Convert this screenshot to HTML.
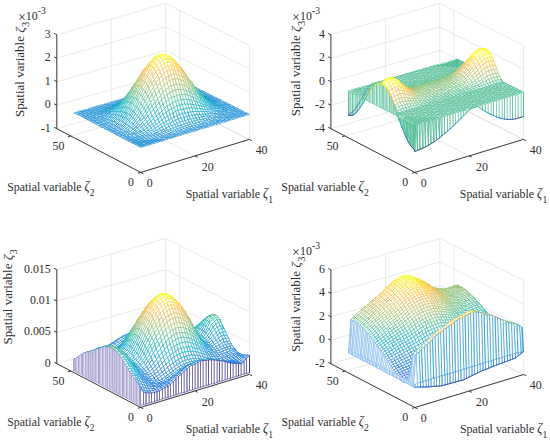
<!DOCTYPE html><html><head><meta charset="utf-8"><style>html,body{margin:0;padding:0;background:#fff;width:550px;height:443px;overflow:hidden}svg{display:block}.c0{stroke:#352a87}.c1{stroke:#363093}.c2{stroke:#3637a0}.c3{stroke:#353dad}.c4{stroke:#3243ba}.c5{stroke:#2c4ac7}.c6{stroke:#2053d4}.c7{stroke:#0f5cdd}.c8{stroke:#0363e1}.c9{stroke:#0268e1}.c10{stroke:#046de0}.c11{stroke:#0871de}.c12{stroke:#0d75dc}.c13{stroke:#1079da}.c14{stroke:#127dd8}.c15{stroke:#1481d6}.c16{stroke:#1485d4}.c17{stroke:#1389d3}.c18{stroke:#108ed2}.c19{stroke:#0c93d2}.c20{stroke:#0998d1}.c21{stroke:#079ccf}.c22{stroke:#06a0cd}.c23{stroke:#06a4ca}.c24{stroke:#06a7c6}.c25{stroke:#07a9c2}.c26{stroke:#0aacbe}.c27{stroke:#0faeb9}.c28{stroke:#15b1b4}.c29{stroke:#1db3af}.c30{stroke:#25b5a9}.c31{stroke:#2eb7a4}.c32{stroke:#38b99e}.c33{stroke:#42bb98}.c34{stroke:#4dbc92}.c35{stroke:#59bd8c}.c36{stroke:#65be86}.c37{stroke:#71bf80}.c38{stroke:#7cbf7b}.c39{stroke:#87bf77}.c40{stroke:#92bf73}.c41{stroke:#9cbf6f}.c42{stroke:#a5be6b}.c43{stroke:#aebe67}.c44{stroke:#b7bd64}.c45{stroke:#c0bc60}.c46{stroke:#c8bc5d}.c47{stroke:#d1bb59}.c48{stroke:#d9ba56}.c49{stroke:#e1b952}.c50{stroke:#e9b94e}.c51{stroke:#f1b94a}.c52{stroke:#f8bb44}.c53{stroke:#fdbe3d}.c54{stroke:#ffc337}.c55{stroke:#fec832}.c56{stroke:#fcce2e}.c57{stroke:#fad32a}.c58{stroke:#f7d826}.c59{stroke:#f5de21}.c60{stroke:#f5e41d}.c61{stroke:#f5eb18}.c62{stroke:#f6f313}.c63{stroke:#f9fb0e}.cL{stroke:#8f88c4}.cB{stroke:#7ab4ec}path{fill:#fff;stroke-linejoin:round}</style></head><body><svg width="550" height="443" viewBox="0 0 550 443"><g stroke="#dcdcdc" stroke-width="0.6"><line x1="56.8" y1="128.7" x2="56.8" y2="34.7"/><line x1="111.2" y1="113" x2="111.2" y2="19"/><line x1="165.7" y1="97.4" x2="165.7" y2="3.4"/><line x1="56.8" y1="128.7" x2="165.7" y2="97.4"/><line x1="56.8" y1="105.2" x2="165.7" y2="73.9"/><line x1="56.8" y1="81.7" x2="165.7" y2="50.4"/><line x1="56.8" y1="58.2" x2="165.7" y2="26.9"/><line x1="56.8" y1="34.7" x2="165.7" y2="3.4"/><line x1="249.4" y1="139.4" x2="249.4" y2="45.4"/><line x1="179.7" y1="104.4" x2="179.7" y2="10.4"/><line x1="249.4" y1="139.4" x2="165.7" y2="97.4"/><line x1="249.4" y1="115.9" x2="165.7" y2="73.9"/><line x1="249.4" y1="92.4" x2="165.7" y2="50.4"/><line x1="249.4" y1="68.9" x2="165.7" y2="26.9"/><line x1="249.4" y1="45.4" x2="165.7" y2="3.4"/><line x1="140.7" y1="172.4" x2="56.8" y2="128.7"/><line x1="195.1" y1="155.9" x2="111.2" y2="113"/><line x1="249.4" y1="139.4" x2="165.7" y2="97.4"/><line x1="140.7" y1="172.4" x2="249.4" y2="139.4"/><line x1="70.7" y1="136" x2="179.7" y2="104.4"/></g>
<g transform="scale(0.5)" stroke-width="1.1"><path class=c17 d="M364 165l5-1-3-2-5 2zm2 2l6-2-3-1-5 1zm-8 0l6-2-3-1-6 1zm11 1l6-2-3-1-6 2zm-8 0l5-1-2-2-6 2zm-8 0l5-1-3-2-5 2zm19 1l6-1-3-2-6 2zm-8 1l5-2-3-1-5 1zm-8 0l5-2-3-1-5 1zm-9 0l6-2-3-1-6 2zm28 1l5-2-2-1-6 1zm-8 0l5-2-3-1-5 2zm-9 0l6-1-3-2-5 2zm-8 0l6-1-3-2-6 2zm-8 1l5-2-3-1-5 1zm36 0l5-1-3-2-5 2zm-9 0l6-1-3-2-5 2zm-8 1l6-2-3-1-6 1zm-8 0l5-2-2-1-6 1zm-8 0l5-2-3-1-5 2zm-9 0l6-1-3-2-5 2zm45 1l5-2-3-1-5 1zm-9 0l6-2-3-1-6 1zm-8 0l5-2-2-1-6 2zm-8 0l5-1-3-2-5 2zm-8 0l5-1-3-2-5 2zm-9 1l6-2-3-1-6 1zm-8 0l5-2-2-1-6 1zm52 0l6-1-3-2-5 2zm-8 0l6-1-3-2-6 2zm-8 0l5-1-3-2-5 2zm-8 0l5-1-3-1-5 1zm-9 1l6-2-3-1-5 1zm-8 0l6-2-3-1-6 2zm-8 0l5-1-3-2-5 2zm-8 0l5-1-3-2-5 2zm60 1l6-2-3-1-6 1zm-8 0l5-2-2-1-6 1zm-8 0l5-2-3-1-5 1zm-9 0l6-2-3-1-5 1zm-8 0l6-2-3-1-6 2zm-8 0l5-1-2-2-6 2zm-8 0l5-1-3-1-5 1zm-9 1l6-2-3-1-5 1zm61 0l5-2-2-1-6 2zm-69 0l6-2-3-1-6 1zm61 0l5-1-3-2-5 2zm-8 0l5-1-3-2-5 2zm-34 1l6-2-3-1-5 1zm-8 0l6-2-3-1-6 2zm61 0l5-1-3-2-5 2zm-69 0l5-1-2-2-6 2zm61 0l5-1-3-1-5 1zm-69 0l5-1-3-2-5 2z"/><path class=c18 d="M364 178l6-1-3-2-6 2zm-8 0l5-1-2-2-6 2zm-8 0l5-1-3-1-5 1zm27 1l6-1-3-1-5 1zm-8 0l6-1-3-1-6 1z"/><path class=c17 d="M395 181l5-2-3-1-5 1zm-69-1l5-1-3-1-5 1zm60 1l6-2-3-1-5 1zm-69 0l6-2-3-1-5 1zm-8 0l6-2-3-1-6 2zm88 1l6-1-3-2-5 2z"/><path class=c18 d="M359 179l5-1-3-1-5 1zm-8 0l5-1-3-1-5 1zm-9 1l6-2-3-1-6 2zm-8 0l5-1-2-2-6 2zm44 1l6-2-3-1-6 1zm-8-1l5-1-2-1-6 1zm-8 0l5-1-3-1-5 1zm-9 0l6-1-3-1-5 1zm-8 1l6-2-3-1-6 2zm-8 0l5-1-3-1-5 1z"/><path class=c17 d="M389 182l6-1-3-2-6 2zm-69 0l6-2-3-1-6 2zm-8 0l5-1-2-2-6 2zm-8 1l5-2-3-1-5 1zm96 1l6-2-3-1-6 1zm-8-1l5-1-2-1-6 1zm-77 0l5-1-3-1-5 1zm-8 1l5-2-3-1-5 2z"/><path class=c18 d="M329 181l5-1-3-1-5 1zm52 1l5-1-2-2-6 2zm-8-1l5 0-3-2-5 1zm-9 0l6-1-3-1-5 1zm-8 0l6-1-3-1-6 1zm-8 0l5-1-2-1-6 2zm-8 1l5-1-3-1-5 1zm-9 0l6-1-3-1-5 1zm-8 1l6-2-3-1-6 2zm61 0l5-1-3-1-5 1zm-8-1l5 0-3-1-5 0zm-9 0l6-1-3-1-6 1z"/><path class=c17 d="M298 184l6-1-3-2-6 2zm105 1l6-2-3-1-6 2zm-102 1l6-2-3-1-6 1zm-8 0l5-2-3-1-5 1zm113 0l5-1-2-2-6 2z"/><path class=c18 d="M359 182l5-1-2-1-6 1zm-8 0l5-1-3-1-5 1zm-9 0l6-1-3 0-5 1zm-8 1l6-1-3-1-6 1zm61 2l5-1-3-2-5 1zm-69-1l5-2-2-1-6 2zm61 0l5-1-3-1-5 1zm-69 0l5-1-3-1-5 1zm60-1l6 0-3-1-5 0zm-69 2l6-2-3-1-5 2z"/><path class=c19 d="M370 183l6-1-3-1-6 1zm-8-1l5 0-3-1-5 1zm-8 0l5 0-3-1-5 1zm-9 0l6 0-3-1-6 1z"/><path class=c17 d="M296 187l5-1-3-2-5 2zm-9 0l6-1-3-2-5 2zm122 1l5-2-3-1-5 1z"/><path class=c18 d="M398 186l5-1-3-1-5 1zm-69-2l5-1-3-1-5 2zm60 1l6 0-3-2-5 1zm-69 0l6-1-3-1-5 1zm61-1l6 0-3-1-6 0zm-69 2l6-2-3-1-6 2zm-8 1l5-2-2-1-6 2zm97 0l5-1-3-1-5 1zm-9 0l6-1-3-1-6 0zm-77-1l5-1-2-1-6 2z"/><path class=c19 d="M337 183l5-1-2 0-6 1zm36 0l5 0-2-1-6 1zm-8 0l5 0-3-1-5 0zm-9-1l6 0-3 0-5 0zm-8 0l6 0-3 0-6 0zm-8 1l5-1-3 0-5 1zm-8 1l5-1-3 0-5 1zm-9 1l6-1-3 0-6 1zm61 0l5 0-2-1-6 0zm-8-1l5 0-3-1-5 0z"/><path class=c17 d="M290 189l6-2-3-1-6 1zm122 0l5-1-3-2-5 2zm-130 0l5-2-2-1-6 2zm132 2l6-2-3-1-5 1z"/><path class=c18 d="M307 187l5-1-3-1-5 2zm-8 1l5-1-3-1-5 1zm104 1l6-1-3-2-5 1zm-8-1l6-1-3-1-6 1zm-85-1l5-1-3 0-5 1zm-9 2l6-2-3 0-5 1zm-8 1l6-2-3-1-6 2z"/><path class=c19 d="M326 184l6 0-3 0-6 1zm61 2l5 1-3-2-5 0zm-69 0l5-1-3 0-5 1zm61-1l5 0-3-1-5 0z"/><path class=c20 d="M367 183l6 0-3 0-5 0zm-8-1l6 1-3-1-6 0zm-8 0l5 0-2 0-6 0zm-8 0l5 0-3 0-5 1zm-9 1l6 0-3 0-5 1zm36 0l6 1-3-1-6 0z"/><path class=c21 d="M362 182l5 1-2 0-6-1zm-8-1l5 1-3 0-5 0z"/><path class=c17 d="M285 190l5-1-3-2-5 2zm-8 1l5-2-3-1-5 1zm140 1l6-1-3-2-6 2zm-138 0l6-2-3-1-5 2zm-8 0l6-1-3-2-6 2z"/><path class=c18 d="M406 190l6-1-3-1-6 1zm-8-1l5 0-2-2-6 1zm-102 1l5-1-2-1-6 2zm-8 1l5-1-3-1-5 1zm121 0l5 0-2-2-6 1zm-8-1l5 0-3-1-5 0z"/><path class=c19 d="M390 187l5 1-3-1-5-1zm-78 0l6-1-3 0-5 1zm-8 1l6-1-3 0-6 2zm88 0l6 1-3-1-5-1z"/><path class=c20 d="M329 183l5 0-2 1-6 0zm-8 2l5-1-3 1-5 1zm60 0l6 1-3-1-5 0zm3 1l6 1-3-1-6-1z"/><path class=c21 d="M345 181l6 1-3 0-5 0zm-8 1l6 0-3 1-6 0zm36 1l6 2-3-1-6-1zm-8-1l5 1-3 0-5-1zm-33 0l5 0-3 1-5 0zm-8 2l5-1-3 1-5 1z"/><path class=c22 d="M357 181l5 1-3 0-5-1zm-9-1l6 1-3 1-6-1zm-8 1l5 0-2 1-6 0z"/><path class=c17 d="M420 193l5-1-2-1-6 1zm-146 0l5-1-2-1-6 1zm-8 1l5-2-3-1-5 1zm157 1l5-2-3-1-5 1z"/><path class=c18 d="M290 191l6-1-3 0-5 1zm122 2l5-1-3-1-5 0zm-130 0l6-2-3-1-6 2zm122-2l5 0-3-1-5 0z"/><path class=c19 d="M307 188l5-1-2 0-6 1zm-8 2l5-2-3 1-5 1zm96-1l6 1-3-1-6-1z"/><path class=c20 d="M315 186l6-1-3 1-6 1zm72 1l5 1-2-1-6-1zm-77-1l5 0-3 1-5 1zm-8 3l5-1-3 0-5 2z"/><path class=c21 d="M376 184l5 1-2 0-6-2zm-58 0l6 0-3 1-6 1zm61 0l5 2-3-1-5-1z"/><path class=c22 d="M368 182l5 1-3 0-5-1zm-42 0l6 0-3 1-5 1z"/><path class=c23 d="M359 180l6 2-3 0-5-1zm-8-1l6 2-3 0-6-1zm-8 0l5 1-3 1-5 0zm-8 1l5 1-3 1-5 0zm35 1l6 3-3-1-5-1z"/><path class=c24 d="M362 179l6 3-3 0-6-2z"/><path class=c17 d="M268 195l6-2-3-1-5 2zm-8 0l6-1-3-2-6 2zm166 1l5-1-3-2-5 2z"/><path class=c18 d="M415 194l5-1-3-1-5 1zm-130-1l5-2-2 0-6 2zm121 0l6 0-3-2-5 0zm-129 1l5-1-3-1-5 1zm140 2l6-1-3-2-5 1zm-8-2l6 0-3-1-6 0zm-129 0l5-1-3 0-5 1zm-9 2l6-2-3-1-6 2z"/><path class=c19 d="M293 191l6-1-3 0-6 1zm105-1l6 1-3-1-6-1zm-110 2l5-1-3 0-5 2zm113 0l5 1-2-2-6-1z"/><path class=c20 d="M296 190l6-1-3 1-6 1z"/><path class=c21 d="M390 187l5 2-3-1-5-1zm-86 0l6-1-3 2-5 1zm89 1l5 2-3-1-5-2z"/><path class=c22 d="M382 184l5 3-3-1-5-2zm-69 0l5 0-3 2-5 0z"/><path class=c23 d="M321 182l5 0-2 2-6 0zm52-1l6 3-3 0-6-3z"/><path class=c24 d="M354 178l5 2-2 1-6-2zm-8-1l5 2-3 1-5-1zm-9 1l6 1-3 2-5-1zm-8 1l6 1-3 2-6 0zm36-1l5 3-2 1-6-3z"/><path class=c25 d="M357 176l5 3-3 1-5-2zm-25 0l5 2-2 2-6-1z"/><path class=c26 d="M349 175l5 3-3 1-5-2zm-9 0l6 2-3 2-6-1z"/><path class=c17 d="M263 197l5-2-2-1-6 1zm-8 0l5-2-3-1-5 1zm174 1l5-2-3-1-5 1zm-171 0l5-1-3-2-5 2zm-9 0l6-1-3-2-6 2zm182 1l6-1-3-2-5 2z"/><path class=c18 d="M420 197l6-1-3-1-6 1zm-8-2l5 1-2-2-6 0zm-138 1l6-2-3 0-6 2zm-8 1l5-1-3-1-5 2zm157 1l6 0-3-2-6 1z"/><path class=c19 d="M282 194l6-2-3 1-5 1z"/><path class=c20 d="M291 191l5-1-3 1-5 1zm113 2l5 1-3-1-5-1z"/><path class=c21 d="M299 188l5-1-2 2-6 1zm96 1l6 3-3-2-5-2z"/><path class=c22 d="M384 185l6 2-3 0-5-3zm-77 0l6-1-3 2-6 1z"/><path class=c23 d="M387 185l6 3-3-1-6-2zm-85 0l5 0-3 2-5 1z"/><path class=c24 d="M315 181l6 1-3 2-5 0zm61 0l6 3-3 0-6-3zm3 0l5 4-2-1-6-3zm-69 0l5 0-2 3-6 1z"/><path class=c25 d="M324 178l5 1-3 3-5 0zm44-1l5 4-3 0-5-3z"/><path class=c26 d="M318 178l6 0-3 4-6-1zm53-2l5 5-3 0-5-4z"/><path class=c27 d="M360 174l5 4-3 1-5-3zm-9-1l6 3-3 2-5-3zm-16 0l5 2-3 3-5-2zm-8 2l5 1-3 3-5-1z"/><path class=c28 d="M343 172l6 3-3 2-6-2zm19 1l6 4-3 1-5-4z"/><path class=c17 d="M252 200l6-2-3-1-6 1zm182 0l6-1-3-1-6 1zm-190 0l5-2-3-1-5 2z"/><path class=c18 d="M415 197l5 0-3-1-5-1zm-146 1l5-2-3 0-5 1zm-9 1l6-2-3 0-5 1zm166 1l5-1-2-1-6 0zm-8-2l5 0-3-1-5 0z"/><path class=c19 d="M277 195l5-1-2 0-6 2z"/><path class=c20 d="M285 193l6-2-3 1-6 2zm122 1l5 1-3-1-5-1zm2 1l6 2-3-2-5-1zm-129-1l5-1-3 1-5 1z"/><path class=c21 d="M293 189l6-1-3 2-5 1zm105 1l6 3-3-1-6-3zm-110 0l5-1-2 2-6 2zm113 1l6 3-3-1-6-3z"/><path class=c23 d="M390 186l5 3-2-1-6-3zm-94 0l6-1-3 3-6 1z"/><path class=c25 d="M382 181l5 4-3 0-5-4zm-77 1l5-1-3 4-5 0z"/><path class=c26 d="M313 177l5 1-3 3-5 0z"/><path class=c27 d="M374 176l5 5-3 0-5-5z"/><path class=c28 d="M321 174l6 1-3 3-6 0z"/><path class=c29 d="M354 170l6 4-3 2-6-3zm-8-1l5 4-2 2-6-3zm-8 0l5 3-3 3-5-2zm-9 2l6 2-3 3-5-1zm36 1l6 4-3 1-6-4z"/><path class=c30 d="M357 168l5 5-2 1-6-4z"/><path class=c31 d="M349 166l5 4-3 3-5-4zm-9-1l6 4-3 3-5-3z"/><path class=c17 d="M437 202l5-2-2-1-6 1zm-190-1l5-1-3-2-5 2zm-9 1l6-2-3-1-5 1zm202 1l5-1-3-2-5 2z"/><path class=c18 d="M263 199l6-1-3-1-6 2zm-8 2l5-2-2-1-6 2zm174 0l5-1-3-1-5 1zm-9-1l6 0-3-2-5 0zm-162 1l5-2-3 0-5 2zm-8 1l5-1-3-1-5 1zm182 1l5-1-3-2-5 1z"/><path class=c19 d="M271 197l6-2-3 1-5 2zm-5 2l5-2-2 1-6 1z"/><path class=c20 d="M412 197l6 1-3-1-6-2zm-138-1l6-2-3 1-6 2z"/><path class=c21 d="M404 193l5 2-2-1-6-3z"/><path class=c22 d="M283 192l5-2-3 3-5 1z"/><path class=c23 d="M393 187l5 3-3-1-5-3zm-102 0l5-1-3 3-5 1zm105 1l5 3-3-1-5-3z"/><path class=c25 d="M385 181l5 5-3-1-5-4zm-86 1l6 0-3 3-6 1z"/><path class=c26 d="M387 182l6 5-3-1-5-5z"/><path class=c27 d="M307 177l6 0-3 4-5 1z"/><path class=c28 d="M376 176l6 5-3 0-5-5zm3-1l6 6-3 0-6-5z"/><path class=c29 d="M316 173l5 1-3 4-5-1z"/><path class=c30 d="M324 169l5 2-2 4-6-1zm44 1l6 6-3 0-6-4zm-58 2l6 1-3 4-6 0z"/><path class=c31 d="M332 167l6 2-3 4-6-2zm-14 0l6 2-3 5-5-1zm53 2l5 7-2 0-6-6z"/><path class=c32 d="M360 166l5 6-3 1-5-5z"/><path class=c33 d="M352 163l5 5-3 2-5-4zm-9-1l6 4-3 3-6-4zm-8 0l5 3-2 4-6-2zm-8 2l5 3-3 4-5-2z"/><path class=c17 d="M241 203l6-2-3-1-6 2zm-8 0l5-1-2-2-6 2zm210 2l5-2-3-1-5 1zm-207 0l5-2-3-1-5 1zm-8 0l5-2-3-1-5 1z"/><path class=c18 d="M423 201l6 0-3-1-6 0zm-171 1l6-1-3 0-5 1zm182 2l6-1-3-1-5 1zm-190 0l6-2-3-1-6 2zm182-1l6 0-3-2-6 0z"/><path class=c19 d="M261 200l5-1-3 0-5 2z"/><path class=c20 d="M415 198l5 2-2-2-6-1zm-146-1l5-1-3 1-5 2zm149 3l5 1-3-1-5-2z"/><path class=c21 d="M407 194l5 3-3-2-5-2zm3 2l5 2-3-1-5-3z"/><path class=c22 d="M277 193l6-1-3 2-6 2z"/><path class=c23 d="M285 188l6-1-3 3-5 2zm113 1l6 4-3-2-5-3z"/><path class=c25 d="M294 183l5-1-3 4-5 1z"/><path class=c26 d="M390 183l6 5-3-1-6-5zm-102 1l6-1-3 4-6 1z"/><path class=c28 d="M302 177l5 0-2 5-6 0zm-5 1l5-1-3 5-5 1z"/><path class=c29 d="M382 176l5 6-2-1-6-6z"/><path class=c30 d="M305 172l5 0-3 5-5 0z"/><path class=c31 d="M374 169l5 6-3 1-5-7z"/><path class=c32 d="M313 166l5 1-2 6-6-1z"/><path class=c33 d="M363 164l5 6-3 2-5-6z"/><path class=c34 d="M354 160l6 6-3 2-5-5zm-33 2l6 2-3 5-6-2zm44 1l6 6-3 1-5-6z"/><path class=c35 d="M346 158l6 5-3 3-6-4zm-16 1l5 3-3 5-5-3z"/><path class=c36 d="M338 157l5 5-3 3-5-3zm19 1l6 6-3 2-6-6z"/><path class=c37 d="M349 154l5 6-2 3-6-5z"/><path class=c17 d="M445 206l6-1-3-2-5 2zm-215 0l6-1-3-2-5 2zm-8 0l6-1-3-2-6 2zm226 2l6-2-3-1-6 1z"/><path class=c18 d="M437 206l6-1-3-2-6 1zm-190-2l5-2-2 0-6 2zm182 0l5 0-2-1-6 0zm-190 1l5-1-3-1-5 2zm201 2l5-1-2-1-6 1z"/><path class=c19 d="M255 202l6-2-3 1-6 1zm166 0l5 1-3-2-5-1z"/><path class=c20 d="M263 199l6-2-3 2-5 1zm-5 2l5-2-2 1-6 2z"/><path class=c21 d="M412 197l6 3-3-2-5-2zm-146 0l6-2-3 2-6 2z"/><path class=c22 d="M272 195l5-2-3 3-5 1z"/><path class=c23 d="M280 190l5-2-2 4-6 1zm121 0l6 4-3-1-6-4zm3 2l6 4-3-2-6-4zm-129 0l5-2-3 3-5 2z"/><path class=c26 d="M393 184l5 5-2-1-6-5zm-110 2l5-2-3 4-5 2zm113-1l5 5-3-1-5-5z"/><path class=c28 d="M291 179l6-1-3 5-6 1z"/><path class=c29 d="M385 176l5 7-3-1-5-6zm3 1l5 7-3-1-5-7z"/><path class=c31 d="M299 172l6 0-3 5-5 1z"/><path class=c32 d="M377 169l5 7-3-1-5-6zm2 0l6 7-3 0-5-7z"/><path class=c33 d="M308 166l5 0-3 6-5 0z"/><path class=c35 d="M316 160l5 2-3 5-5-1zm52 2l6 7-3 0-6-6z"/><path class=c37 d="M324 156l6 3-3 5-6-2zm36 0l5 7-2 1-6-6z"/><path class=c38 d="M341 153l5 5-3 4-5-5zm-9 0l6 4-3 5-5-3z"/><path class=c39 d="M352 151l5 7-3 2-5-6zm-33 3l5 2-3 6-5-2z"/><path class=c40 d="M343 149l6 5-3 4-5-5zm-16 1l5 3-2 6-6-3z"/><path class=c41 d="M335 148l6 5-3 4-6-4z"/><path class=c17 d="M225 208l5-2-2-1-6 1zm-8 0l5-2-3-1-5 2zm234 1l6-1-3-2-6 2z"/><path class=c18 d="M432 206l5 0-3-2-5 0zm-191 0l6-2-3 0-5 1zm-8 1l6-2-3 0-6 1zm210 2l5-1-3-2-5 1zm-8-2l5 0-3-1-5 0zm-199 1l5-2-2-1-6 2z"/><path class=c19 d="M250 204l5-2-3 0-5 2zm173-1l6 1-3-1-5-1zm-179 3l6-2-3 0-6 2zm182-1l6 1-3-2-6-1z"/><path class=c20 d="M253 203l5-2-3 1-5 2z"/><path class=c21 d="M415 199l6 3-3-2-6-3zm-154 0l5-2-3 2-5 2zm157 2l5 2-2-1-6-3z"/><path class=c23 d="M407 194l5 3-2-1-6-4zm-138 0l6-2-3 3-6 2z"/><path class=c26 d="M277 187l6-1-3 4-5 2zm122 0l5 5-3-2-5-5z"/><path class=c28 d="M286 180l5-1-3 5-5 2z"/><path class=c29 d="M390 179l6 6-3-1-5-7z"/><path class=c31 d="M294 173l5-1-2 6-6 1z"/><path class=c33 d="M382 170l6 7-3-1-6-7z"/><path class=c34 d="M302 166l6 0-3 6-6 0zm-5 0l5 0-3 6-5 1z"/><path class=c36 d="M310 159l6 1-3 6-5 0zm61 2l6 8-3 0-6-7zm3 1l5 7-2 0-6-8z"/><path class=c37 d="M305 159l5 0-2 7-6 0z"/><path class=c38 d="M363 154l5 8-3 1-5-7z"/><path class=c39 d="M366 154l5 7-3 1-5-8z"/><path class=c40 d="M313 152l6 2-3 6-6-1z"/><path class=c41 d="M355 149l5 7-3 2-5-7z"/><path class=c42 d="M346 145l6 6-3 3-6-5zm-24 2l5 3-3 6-5-2zm35 0l6 7-3 2-5-7z"/><path class=c43 d="M338 143l5 6-2 4-6-5zm-8 1l5 4-3 5-5-3z"/><path class=c17 d="M219 209l6-1-3-2-5 2zm-8 1l6-2-3-1-6 1zm243 0l5-1-2-1-6 1zm-240 1l5-2-2-1-6 2zm243 1l5-2-3-1-5 1zm-251-1l5-1-3-2-5 2z"/><path class=c18 d="M228 209l5-2-3-1-5 2zm218 1l5-1-3-1-5 1zm-9-1l6 0-3-2-5 0zm-206 0l5-1-3-1-5 2zm-9 1l6-1-3-1-6 1zm226 2l6-2-3-1-5 1z"/><path class=c19 d="M429 207l6 0-3-1-6-1zm-190 1l5-2-3 0-5 2z"/><path class=c20 d="M247 205l6-2-3 1-6 2z"/><path class=c21 d="M255 201l6-2-3 2-5 2zm166 2l5 2-3-2-5-2z"/><path class=c23 d="M410 196l5 3-3-2-5-3zm-146 0l5-2-3 3-5 2zm149 2l5 3-3-2-5-3z"/><path class=c25 d="M272 189l5-2-2 5-6 2zm132 2l6 5-3-2-5-5zm-138 1l6-3-3 5-5 2z"/><path class=c26 d="M402 189l5 5-3-2-5-5z"/><path class=c28 d="M280 182l6-2-3 6-6 1zm-5 2l5-2-3 5-5 2z"/><path class=c29 d="M393 181l6 6-3-2-6-6zm3 2l6 6-3-2-6-6z"/><path class=c31 d="M288 174l6-1-3 6-5 1zm-5 2l5-2-2 6-6 2z"/><path class=c32 d="M388 174l5 7-3-2-5-7z"/><path class=c33 d="M385 172l5 7-2-2-6-7z"/><path class=c34 d="M291 167l6-1-3 7-6 1z"/><path class=c36 d="M377 162l5 8-3-1-5-7z"/><path class=c38 d="M300 159l5 0-3 7-5 0z"/><path class=c40 d="M368 153l6 9-3-1-5-7z"/><path class=c41 d="M308 151l5 1-3 7-5 0z"/><path class=c43 d="M316 145l6 2-3 7-6-2zm44 0l6 9-3 0-6-7z"/><path class=c44 d="M349 142l6 7-3 2-6-6z"/><path class=c45 d="M341 139l5 6-3 4-5-6zm-17 2l6 3-3 6-5-3z"/><path class=c46 d="M333 139l5 4-3 5-5-4zm19 0l5 8-2 2-6-7z"/><path class=c47 d="M344 135l5 7-3 3-5-6z"/><path class=c48 d="M335 134l6 5-3 4-5-4zm-8 1l6 4-3 5-6-3z"/><path class=c17 d="M217 212l5-2-3-1-5 2zm243 1l5-1-3-2-5 2zm-251 0l5-2-3-1-5 1zm242 0l6-1-3-2-6 2zm-251 0l6-2-3-1-6 1z"/><path class=c18 d="M440 211l6-1-3-1-6 0zm-207-2l6-1-3 0-5 1zm-8 2l6-2-3 0-6 1zm218 1l5 0-2-2-6 1z"/><path class=c19 d="M432 209l5 0-2-2-6 0zm-190-2l5-2-3 1-5 2zm193 4l5 0-3-2-5 0zm-199-2l6-2-3 1-6 1z"/><path class=c20 d="M424 205l5 2-3-2-5-2zm-180 1l6-3-3 2-5 2zm182 1l6 2-3-2-5-2z"/><path class=c21 d="M250 203l5-2-2 2-6 2z"/><path class=c22 d="M415 200l6 3-3-2-5-3zm-162 1l5-3-3 3-5 2zm165 2l6 2-3-2-6-3z"/><path class=c23 d="M258 198l6-2-3 3-6 2z"/><path class=c25 d="M407 194l6 4-3-2-6-5zm-146 0l5-2-2 4-6 2z"/><path class=c28 d="M399 185l5 6-2-2-6-6zm-130 2l6-3-3 5-6 3z"/><path class=c31 d="M278 179l5-3-3 6-5 2z"/><path class=c32 d="M391 176l5 7-3-2-5-7z"/><path class=c34 d="M286 169l5-2-3 7-5 2z"/><path class=c36 d="M380 164l5 8-3-2-5-8zm2 2l6 8-3-2-5-8z"/><path class=c38 d="M294 160l6-1-3 7-6 1z"/><path class=c40 d="M371 154l6 8-3 0-6-9zm3 1l6 9-3-2-6-8z"/><path class=c41 d="M302 152l6-1-3 8-5 0zm-5 1l5-1-2 7-6 1z"/><path class=c44 d="M311 144l5 1-3 7-5-1zm52 1l5 8-2 1-6-9zm3 1l5 8-3-1-5-8z"/><path class=c45 d="M305 144l6 0-3 7-6 1z"/><path class=c46 d="M319 138l5 3-2 6-6-2z"/><path class=c47 d="M355 138l5 7-3 2-5-8z"/><path class=c48 d="M313 137l6 1-3 7-5-1zm45 0l5 8-3 0-5-7z"/><path class=c49 d="M346 132l6 7-3 3-5-7zm-24 0l5 3-3 6-5-3z"/><path class=c50 d="M338 129l6 6-3 4-6-5zm-8 0l5 5-2 5-6-4z"/><path class=c17 d="M462 215l6-2-3-1-5 1zm-251-1l6-2-3-1-5 2zm243 1l6-2-3-1-6 1zm-251-1l6-1-3-2-6 2zm-8 0l5-1-3-2-5 2zm270 2l6-1-3-2-6 2zm-8 0l5-1-2-2-6 2z"/><path class=c18 d="M228 211l5-2-2 0-6 2zm-8 2l5-2-3-1-5 2zm226 1l5-1-3-1-5 0zm-223-1l5-2-3 0-5 2zm-9 2l6-2-3-1-6 2z"/><path class=c19 d="M438 212l5 0-3-1-5 0zm-207-1l5-2-3 0-5 2z"/><path class=c20 d="M429 210l6 1-3-2-6-2zm-190-2l5-2-2 1-6 2z"/><path class=c21 d="M421 205l5 2-2-2-6-2z"/><path class=c22 d="M247 203l6-2-3 2-6 3z"/><path class=c24 d="M410 196l5 4-2-2-6-4zm-154 1l5-3-3 4-5 3zm157 2l5 4-3-3-5-4z"/><path class=c27 d="M264 190l5-3-3 5-5 2zm141 2l5 4-3-2-5-6z"/><path class=c28 d="M402 188l5 6-3-3-5-6z"/><path class=c30 d="M272 181l6-2-3 5-6 3z"/><path class=c31 d="M393 179l6 6-3-2-5-7zm3 3l6 6-3-3-6-6z"/><path class=c33 d="M275 175l5-3-2 7-6 2z"/><path class=c34 d="M280 172l6-3-3 7-5 3z"/><path class=c36 d="M385 169l6 7-3-2-6-8z"/><path class=c37 d="M283 165l6-3-3 7-6 3z"/><path class=c38 d="M289 162l5-2-3 7-5 2z"/><path class=c40 d="M377 158l5 8-2-2-6-9z"/><path class=c41 d="M291 155l6-2-3 7-5 2z"/><path class=c44 d="M369 147l5 8-3-1-5-8z"/><path class=c45 d="M300 145l5-1-3 8-5 1z"/><path class=c48 d="M308 137l5 0-2 7-6 0zm52 0l6 9-3-1-5-8z"/><path class=c50 d="M349 130l6 8-3 1-6-7z"/><path class=c51 d="M316 130l6 2-3 6-6-1zm36-1l6 8-3 1-6-8z"/><path class=c52 d="M341 126l5 6-2 3-6-6zm-16 0l5 3-3 6-5-3z"/><path class=c53 d="M333 125l5 4-3 5-5-5z"/><path class=c54 d="M344 124l5 6-3 2-5-6z"/><path class=c55 d="M336 121l5 5-3 3-5-4z"/><path class=c17 d="M206 215l5-1-2-1-6 1zm-8 1l5-2-3-1-5 1zm-9 0l6-2-3-1-5 1zm279 2l5-2-2-1-6 1zm-8 0l5-2-3-1-5 1zm-259-1l5-2-3-1-5 2zm-9 0l6-1-3-2-6 2zm-8 1l5-2-2-2-6 2z"/><path class=c18 d="M449 216l5-1-3-2-5 1zm-9-2l6 0-3-2-5 0zm-223 1l6-2-3 0-6 2zm-8 1l5-1-3-1-5 1zm242 1l6-1-3-1-5 1zm-8-1l6 0-3-2-6 0z"/><path class=c19 d="M432 212l6 0-3-1-6-1zm-207 1l6-2-3 0-5 2zm210 1l5 0-2-2-6 0z"/><path class=c20 d="M234 210l5-2-3 1-5 2z"/><path class=c21 d="M242 206l5-3-3 3-5 2zm182 2l5 2-3-3-5-2zm3 3l5 1-3-2-5-2z"/><path class=c23 d="M416 202l5 3-3-2-5-4zm-171 2l5-3-3 2-5 3z"/><path class=c24 d="M250 201l6-4-3 4-6 2z"/><path class=c26 d="M258 193l6-3-3 4-5 3zm149 2l6 4-3-3-5-4zm-154 2l5-4-2 4-6 4z"/><path class=c29 d="M261 189l6-4-3 5-6 3z"/><path class=c30 d="M267 185l5-4-3 6-5 3zm132 1l6 6-3-4-6-6z"/><path class=c32 d="M269 179l6-4-3 6-5 4z"/><path class=c34 d="M391 176l5 6-3-3-5-7z"/><path class=c35 d="M388 172l5 7-2-3-6-7z"/><path class=c36 d="M278 169l5-4-3 7-5 3z"/><path class=c38 d="M383 164l5 8-3-3-5-8z"/><path class=c39 d="M380 161l5 8-3-3-5-8z"/><path class=c41 d="M286 158l5-3-2 7-6 3z"/><path class=c43 d="M374 153l6 8-3-3-6-9z"/><path class=c44 d="M371 149l6 9-3-3-5-8z"/><path class=c45 d="M294 147l6-2-3 8-6 2z"/><path class=c48 d="M363 139l6 8-3-1-6-9zm3 2l5 8-2-2-6-8z"/><path class=c49 d="M303 138l5-1-3 7-5 1z"/><path class=c52 d="M311 130l5 0-3 7-5 0zm44 0l5 7-2 0-6-8zm-50 0l6 0-3 7-5 1z"/><path class=c54 d="M319 124l6 2-3 6-6-2z"/><path class=c55 d="M327 121l6 4-3 4-5-3zm20 2l5 6-3 1-5-6zm-33 0l5 1-3 6-5 0z"/><path class=c56 d="M338 118l6 6-3 2-5-5zm-16 1l5 2-2 5-6-2z"/><path class=c57 d="M330 117l6 4-3 4-6-4z"/><path class=c17 d="M471 219l5-2-3-1-5 2zm-8 0l5-1-3-2-5 2zm-268 0l6-2-3-1-6 1zm-8 0l5-2-3-1-5 2zm-8 0l5-1-3-2-5 2zm295 1l5-1-3-2-5 2zm-9 1l6-2-3-1-5 1z"/><path class=c18 d="M220 216l5-3-2 0-6 2zm-8 1l5-2-3 0-5 1zm242 2l6-1-3-2-6 1zm-251-1l6-2-3-1-5 2zm243 0l5-1-2-1-6 0z"/><path class=c19 d="M228 213l6-3-3 1-6 2zm210 3l5 0-3-2-5 0zm-215-1l5-2-3 0-5 3z"/><path class=c20 d="M430 213l5 1-3-2-5-1zm-199-1l5-3-2 1-6 3z"/><path class=c21 d="M236 209l6-3-3 2-5 2z"/><path class=c22 d="M239 207l6-3-3 2-6 3zm182 2l6 2-3-3-6-3z"/><path class=c23 d="M418 205l6 3-3-3-5-3z"/><path class=c24 d="M413 202l5 3-2-3-6-3z"/><path class=c25 d="M410 199l6 3-3-3-6-4zm-162 2l5-4-3 4-5 3z"/><path class=c28 d="M256 193l5-4-3 4-5 4zm149 1l5 5-3-4-5-5z"/><path class=c29 d="M402 190l5 5-2-3-6-6z"/><path class=c31 d="M264 183l5-4-2 6-6 4z"/><path class=c33 d="M394 180l5 6-3-4-5-6z"/><path class=c35 d="M272 173l6-4-3 6-6 4z"/><path class=c37 d="M385 169l6 7-3-4-5-8z"/><path class=c40 d="M281 162l5-4-3 7-5 4z"/><path class=c42 d="M377 157l6 7-3-3-6-8z"/><path class=c43 d="M283 155l6-5-3 8-5 4z"/><path class=c44 d="M289 150l5-3-3 8-5 3z"/><path class=c47 d="M369 145l5 8-3-4-5-8z"/><path class=c48 d="M297 140l6-2-3 7-6 2zm-5 3l5-3-3 7-5 3z"/><path class=c51 d="M361 134l5 7-3-2-5-8z"/><path class=c52 d="M358 131l5 8-3-2-5-7zm-58 2l5-3-2 8-6 2z"/><path class=c55 d="M350 123l5 7-3-1-5-6zm-42 1l6-1-3 7-6 0zm44 0l6 7-3-1-5-7z"/><path class=c57 d="M341 117l6 6-3 1-6-6zm-25 1l6 1-3 5-5-1z"/><path class=c58 d="M344 117l6 6-3 0-6-6z"/><path class=c59 d="M333 114l5 4-2 3-6-4zm-8 0l5 3-3 4-5-2z"/><path class=c17 d="M198 220l5-2-2-1-6 2zm-8 0l5-1-3-2-5 2zm-9 1l6-2-3-1-5 1zm-8 0l6-2-3-1-6 1zm303 1l6-2-3-1-5 1zm-8 0l6-2-3-1-6 2zm-8 0l5-1-2-2-6 1zm-268 0l6-2-3-1-5 1z"/><path class=c18 d="M214 218l6-2-3-1-5 2zm243 2l6-1-3-1-6 1zm-251-1l6-2-3-1-6 2zm243 1l5-1-3-2-5 1zm-240 0l5-2-2-1-6 2zm243 1l5-1-3-1-5 1zm-251 0l5-2-3-1-5 2zm242-1l6 0-3-2-5 0z"/><path class=c19 d="M441 218l5 0-3-2-5 0zm-224 0l6-3-3 1-6 2zm218 0l6 0-3-2-6 0z"/><path class=c20 d="M432 216l6 0-3-2-5-1zm-206-1l5-3-3 1-5 2z"/><path class=c21 d="M424 212l6 1-3-2-6-2zm-190-1l5-4-3 2-5 3z"/><path class=c24 d="M242 205l6-4-3 3-6 3zm174 1l5 3-3-4-5-3z"/><path class=c27 d="M250 197l6-4-3 4-5 4zm158 2l5 3-3-3-5-5z"/><path class=c29 d="M253 193l6-5-3 5-6 4z"/><path class=c30 d="M259 188l5-5-3 6-5 4zm140 2l6 4-3-4-6-5z"/><path class=c32 d="M396 185l6 5-3-4-5-6z"/><path class=c33 d="M261 183l6-5-3 5-5 5z"/><path class=c34 d="M267 178l5-5-3 6-5 4zm124 1l5 6-2-5-6-6z"/><path class=c36 d="M388 174l6 6-3-4-6-7z"/><path class=c37 d="M270 172l5-6-3 7-5 5z"/><path class=c39 d="M275 166l6-4-3 7-6 4zm108 1l5 7-3-5-5-7z"/><path class=c41 d="M380 162l5 7-2-5-6-7z"/><path class=c42 d="M278 160l5-5-2 7-6 4z"/><path class=c44 d="M375 155l5 7-3-5-5-8z"/><path class=c46 d="M372 149l5 8-3-4-5-8zm-86-1l6-5-3 7-6 5z"/><path class=c50 d="M363 138l6 7-3-4-5-7z"/><path class=c51 d="M295 136l5-3-3 7-5 3z"/><path class=c55 d="M303 126l5-2-3 6-5 3zm52 1l6 7-3-3-6-7z"/><path class=c58 d="M311 119l5-1-2 5-6 1zm36 0l5 5-2-1-6-6z"/><path class=c60 d="M336 113l5 4-3 1-5-4zm-8-1l5 2-3 3-5-3zm-9 2l6 0-3 5-6-1zm20-1l5 4-3 0-5-4zm-25 1l5 0-3 4-5 1z"/><path class=c61 d="M330 110l6 3-3 1-5-2zm-8 0l6 2-3 2-6 0z"/><path class=c17 d="M184 222l6-2-3-1-6 2zm-8 0l5-1-2-2-6 2zm303 1l6-1-3-2-6 2zm-311-1l5-1-3-2-5 2zm303 1l5-1-2-2-6 2zm-8 1l5-2-3-1-5 1zm-276-1l5-1-2-2-6 2zm-8 1l5-2-3-1-5 1zm303 1l6-2-3-1-6 1zm-312-1l6-2-3-1-5 1zm304 1l5-2-3-1-5 1z"/><path class=c18 d="M212 220l5-2-3 0-5 2zm242 3l6-1-3-2-5 1zm-250-1l5-2-3-1-5 2zm242 0l6-1-3-1-6 0zm-251 1l6-2-3-1-6 2z"/><path class=c19 d="M220 218l6-3-3 0-6 3zm218 3l5-1-2-2-6 0z"/><path class=c20 d="M430 218l5 0-3-2-5-1z"/><path class=c21 d="M427 215l5 1-2-3-6-1zm-199-1l6-3-3 1-5 3z"/><path class=c22 d="M421 214l6 1-3-3-5-2zm-190-1l6-4-3 2-6 3z"/><path class=c23 d="M237 209l5-4-3 2-5 4zm182 1l5 2-3-3-5-3z"/><path class=c24 d="M239 206l6-4-3 3-5 4zm174 2l6 2-3-4-6-3z"/><path class=c25 d="M245 202l5-5-2 4-6 4zm165 1l6 3-3-4-5-3z"/><path class=c27 d="M248 199l5-6-3 4-5 5z"/><path class=c29 d="M402 195l6 4-3-5-6-4z"/><path class=c31 d="M256 189l5-6-2 5-6 5z"/><path class=c33 d="M394 184l5 6-3-5-5-6z"/><path class=c35 d="M264 178l6-6-3 6-6 5z"/><path class=c37 d="M386 173l5 6-3-5-5-7z"/><path class=c40 d="M273 166l5-6-3 6-5 6z"/><path class=c42 d="M377 161l6 6-3-5-5-7z"/><path class=c45 d="M281 153l5-5-3 7-5 5z"/><path class=c47 d="M369 148l6 7-3-6-6-7z"/><path class=c49 d="M366 142l6 7-3-4-6-7zm-77-1l6-5-3 7-6 5z"/><path class=c52 d="M361 136l5 6-3-4-5-7zm-69 0l5-6-2 6-6 5z"/><path class=c54 d="M297 130l6-4-3 7-5 3zm61 1l5 7-2-4-6-7z"/><path class=c56 d="M300 125l6-4-3 5-6 4zm53 1l5 5-3-4-5-6z"/><path class=c57 d="M306 121l5-2-3 5-5 2zm44 0l5 6-3-3-5-5z"/><path class=c60 d="M341 114l6 5-3-2-5-4zm-33 3l6-3-3 5-5 2z"/><path class=c62 d="M333 110l6 3-3 0-6-3zm-16 1l5-1-3 4-5 0z"/><path class=c63 d="M325 109l5 1-2 2-6-2z"/><path class=c17 d="M162 224l6-2-3-1-6 1zm304 1l5-2-3-1-5 2zm-276 0l5-2-3-1-5 1zm-8 0l5-2-3-1-5 2zm303 1l5-1-2-2-6 2zm-312-1l6-1-3-2-6 2zm304 1l5-1-3-2-5 2zm-312-1l5-1-2-2-6 2zm303 2l6-2-3-2-5 2zm-311-2l5-1-3-2-5 2zm303 1l6-1-3-1-6 1z"/><path class=c18 d="M457 225l6-1-3-2-6 1zm-251-2l6-3-3 0-5 2zm243 1l5-1-2-2-6 1zm-251 0l6-2-3-1-6 2zm243-1l5-1-3-2-5 1zm-232 0l6-2-3-1-6 3zm243 3l5-1-3-2-5 1zm-251-1l5-2-2-1-6 2zm243 0l5-1-3-2-5 1z"/><path class=c19 d="M215 221l5-3-3 0-5 2zm218 0l5 0-3-3-5 0zm-216 0l6-4-3 1-5 3z"/><path class=c20 d="M223 217l5-3-2 1-6 3z"/><path class=c21 d="M424 217l6 1-3-3-6-1zm-198 0l5-4-3 1-5 3z"/><path class=c23 d="M234 211l5-5-2 3-6 4zm182 1l5 2-2-4-6-2z"/><path class=c26 d="M242 204l6-5-3 3-6 4zm166 1l5 3-3-5-5-3z"/><path class=c27 d="M405 200l5 3-2-4-6-4z"/><path class=c29 d="M251 195l5-6-3 4-5 6zm149 1l5 4-3-5-5-5z"/><path class=c31 d="M397 190l5 5-3-5-5-6z"/><path class=c33 d="M259 184l5-6-3 5-5 6zm132 2l6 4-3-6-6-5z"/><path class=c35 d="M388 179l6 5-3-5-5-6z"/><path class=c36 d="M262 180l5-7-3 5-5 6z"/><path class=c38 d="M267 173l6-7-3 6-6 6zm116 1l5 5-2-6-6-6z"/><path class=c40 d="M380 167l6 6-3-6-6-6z"/><path class=c41 d="M270 167l5-7-2 6-6 7z"/><path class=c43 d="M275 160l6-7-3 7-5 6z"/><path class=c45 d="M372 155l5 6-2-6-6-7z"/><path class=c46 d="M278 155l6-8-3 6-6 7z"/><path class=c48 d="M284 147l5-6-3 7-5 5z"/><path class=c50 d="M364 142l5 6-3-6-5-6zm-78 0l6-6-3 5-5 6z"/><path class=c55 d="M295 131l5-6-3 5-5 6zm60 0l6 5-3-5-5-5z"/><path class=c59 d="M303 121l5-4-2 4-6 4zm44 0l6 5-3-5-6-4z"/><path class=c60 d="M344 117l6 4-3-2-6-5z"/><path class=c61 d="M311 114l6-3-3 3-6 3zm28 0l5 3-3-3-5-3z"/><path class=c62 d="M336 111l5 3-2-1-6-3z"/><path class=c63 d="M328 109l5 1-3 0-5-1zm-8 1l5-1-3 1-5 1zm11 0l5 1-3-1-5-1zm-9-1l6 0-3 0-5 1z"/><path class=c17 d="M184 226l6-1-3-2-5 2zm304 2l5-2-3-1-5 1zm-312-1l6-2-3-1-6 1zm303 1l6-2-3-1-5 1zm-311-1l5-2-3-1-5 1zm303 1l6-2-3-1-6 2zm-311-1l5-2-3-1-5 1zm303 1l5-1-2-2-6 1zm-312-1l6-2-3-1-6 2zm36 1l6-2-3-1-6 1zm304 1l5-2-3-1-5 2zm-312-1l5-2-2-1-6 2zm303 1l6-1-3-2-6 2zm-311-1l5-1-3-2-5 2z"/><path class=c18 d="M193 226l5-2-3-1-5 2zm262 2l5-2-3-1-5 1zm-251-2l5-3-3 0-5 2zm242 1l6-1-3-2-5 1zm-251 0l6-2-3-1-5 2zm243-1l6-1-3-2-6 0z"/><path class=c19 d="M435 223l6 0-3-2-5 0zm-223 1l5-3-2 0-6 2zm218 0l5-1-2-2-6-1z"/><path class=c20 d="M427 220l6 1-3-3-6-1zm-207 0l6-3-3 0-6 4z"/><path class=c21 d="M422 220l5 0-3-3-5-1z"/><path class=c22 d="M419 216l5 1-3-3-5-2zm-190 0l5-5-3 2-5 4z"/><path class=c23 d="M231 214l6-5-3 2-5 5z"/><path class=c24 d="M237 209l5-5-3 2-5 5zm174 1l5 2-3-4-5-3z"/><path class=c26 d="M240 207l5-6-3 3-5 5z"/><path class=c28 d="M245 201l6-6-3 4-6 5zm157 1l6 3-3-5-5-4z"/><path class=c29 d="M248 198l5-7-2 4-6 6z"/><path class=c31 d="M253 191l6-7-3 5-5 6zm141 2l6 3-3-6-6-4z"/><path class=c33 d="M256 187l6-7-3 4-6 7z"/><path class=c36 d="M386 182l5 4-3-7-5-5z"/><path class=c38 d="M264 175l6-8-3 6-5 7z"/><path class=c41 d="M378 170l5 4-3-7-5-5z"/><path class=c43 d="M375 162l5 5-3-6-5-6zm-102 1l5-8-3 5-5 7z"/><path class=c46 d="M369 157l6 5-3-7-6-6z"/><path class=c48 d="M366 149l6 6-3-7-5-6zm-85 1l5-8-2 5-6 8z"/><path class=c50 d="M361 145l5 4-2-7-6-5z"/><path class=c53 d="M358 137l6 5-3-6-6-5zm-69 0l6-6-3 5-6 6z"/><path class=c55 d="M292 134l6-7-3 4-6 6z"/><path class=c57 d="M298 127l5-6-3 4-5 6zm52 0l5 4-2-5-6-5z"/><path class=c59 d="M300 124l6-6-3 3-5 6z"/><path class=c60 d="M306 118l5-4-3 3-5 4zm36 1l5 2-3-4-5-3z"/><path class=c61 d="M309 116l5-4-3 2-5 4z"/><path class=c63 d="M314 112l6-2-3 1-6 3zm19 1l6 1-3-3-5-1zm-8-2l6-1-3-1-6 0zm-8 1l5-3-2 1-6 2z"/><path class=c17 d="M474 229l5-1-2-2-6 2zm-312-1l6-1-3-2-5 2zm304 2l5-2-3-1-5 1zm-312-1l6-2-3-2-6 2zm304 1l5-2-3-2-5 2zm35 0l6-1-3-2-5 2zm-311-1l5-1-3-2-5 2zm303 2l6-2-3-1-6 1zm-311-1l5-2-3-1-5 1zm303 1l5-2-3-1-5 1zm-312-1l6-2-3-1-6 1zm304 1l5-2-3-1-5 2zm-312-1l5-2-2-1-6 2zm303 1l6-1-3-2-5 2z"/><path class=c18 d="M207 226l5-2-3-1-5 3zm242 3l6-1-3-2-6 1zm-251-1l6-2-3-1-6 2zm243 0l5-1-2-2-6 1zm-251 1l5-2-2-1-6 2zm262 2l6-1-3-2-6 1z"/><path class=c19 d="M215 224l5-4-3 1-5 3zm218 3l5-1-3-3-5 1zm-224 0l6-3-3 0-5 2z"/><path class=c20 d="M424 224l6 0-3-4-5 0zm-206 0l5-4-3 0-5 4z"/><path class=c21 d="M223 220l6-4-3 1-6 3z"/><path class=c22 d="M416 219l6 1-3-4-6-1zm-190 0l5-5-2 2-6 4z"/><path class=c23 d="M413 215l6 1-3-4-5-2z"/><path class=c24 d="M234 213l6-6-3 2-6 5zm174 0l5 2-2-5-6-2z"/><path class=c26 d="M405 208l6 2-3-5-6-3z"/><path class=c27 d="M242 205l6-7-3 3-5 6zm158 1l5 2-3-6-5-3z"/><path class=c29 d="M397 199l5 3-2-6-6-3z"/><path class=c31 d="M251 195l5-8-3 4-5 7zm140 2l6 2-3-6-5-4z"/><path class=c33 d="M389 189l5 4-3-7-5-4z"/><path class=c35 d="M259 184l5-9-2 5-6 7z"/><path class=c38 d="M380 178l6 4-3-8-5-4z"/><path class=c40 d="M267 171l6-8-3 4-6 8z"/><path class=c42 d="M270 167l6-9-3 5-6 8z"/><path class=c43 d="M372 166l6 4-3-8-6-5z"/><path class=c45 d="M276 158l5-8-3 5-5 8z"/><path class=c47 d="M278 155l6-10-3 5-5 8z"/><path class=c48 d="M364 153l5 4-3-8-5-4z"/><path class=c50 d="M284 145l5-8-3 5-5 8z"/><path class=c52 d="M356 142l5 3-3-8-5-3zm-69 0l5-8-3 3-5 8z"/><path class=c55 d="M353 134l5 3-3-6-5-4z"/><path class=c56 d="M295 131l5-7-2 3-6 7zm52 1l6 2-3-7-5-2z"/><path class=c59 d="M345 125l5 2-3-6-5-2z"/><path class=c60 d="M303 122l6-6-3 2-6 6zm36 2l6 1-3-6-6-1z"/><path class=c61 d="M336 118l6 1-3-5-6-1z"/><path class=c62 d="M311 116l6-4-3 0-5 4zm20 2l5 0-3-5-5 1z"/><path class=c63 d="M328 114l5-1-2-3-6 1zm-8-1l5-2-3-2-5 3z"/><path class=c17 d="M185 231l5-2-3-1-5 1zm303 1l5-2-2-1-6 2zm-312-1l6-2-3-1-5 2zm304 1l5-1-3-2-5 2zm-312-1l6-1-3-2-6 2zm303 1l6-1-3-2-5 2zm-311-1l5-1-3-2-5 2zm303 2l6-2-3-1-6 1zm-8 0l5-2-2-1-6 1zm-268-1l6-2-3-1-5 2zm-8 1l6-2-3-2-6 2zm303 1l6-2-3-1-5 1z"/><path class=c18 d="M201 229l6-3-3 0-6 2zm243 1l5-1-3-2-5 1zm-251 0l5-2-3-1-5 2zm243-1l5-1-3-2-5 1zm-232 1l5-3-2-1-6 3zm243 2l5-1-3-2-5 1zm-251-1l5-2-3-1-5 2zm242 1l6-2-3-2-5 1z"/><path class=c19 d="M427 227l6 0-3-3-6 0zm-215 0l6-3-3 0-6 3zm218 3l6-1-3-2-6 0z"/><path class=c20 d="M422 227l5 0-3-3-5 0z"/><path class=c21 d="M419 224l5 0-2-4-6-1zm-198 0l5-5-3 1-5 4z"/><path class=c23 d="M229 218l5-5-3 1-5 5zm182 1l5 0-3-4-5-2z"/><path class=c25 d="M237 211l5-6-2 2-6 6zm166 1l5 1-3-5-5-2z"/><path class=c27 d="M240 210l5-8-3 3-5 6z"/><path class=c29 d="M245 202l6-7-3 3-6 7zm149 2l6 2-3-7-6-2z"/><path class=c30 d="M248 200l6-8-3 3-6 7z"/><path class=c33 d="M254 192l5-8-3 3-5 8zm132 2l5 3-2-8-6-3z"/><path class=c34 d="M256 189l6-9-3 4-5 8z"/><path class=c35 d="M383 186l6 3-3-7-6-4z"/><path class=c37 d="M262 180l5-9-3 4-5 9zm116 3l5 3-3-8-5-4z"/><path class=c39 d="M265 177l5-10-3 4-5 9z"/><path class=c40 d="M375 174l5 4-2-8-6-4z"/><path class=c42 d="M369 171l6 3-3-8-5-4z"/><path class=c44 d="M273 164l5-9-2 3-6 9z"/><path class=c45 d="M367 162l5 4-3-9-5-4z"/><path class=c46 d="M361 160l6 2-3-9-6-3z"/><path class=c49 d="M358 150l6 3-3-8-5-3zm-77 2l6-10-3 3-6 10z"/><path class=c54 d="M289 140l6-9-3 3-5 8zm61 0l6 2-3-8-6-2z"/><path class=c57 d="M298 130l5-8-3 2-5 7zm44 1l5 1-2-7-6-1z"/><path class=c58 d="M301 130l5-8-3 0-5 8z"/><path class=c60 d="M306 122l5-6-2 0-6 6zm28 2l5 0-3-6-5 0zm-25 0l5-6-3-2-5 6z"/><path class=c61 d="M325 121l6-3-3-4-5 2zm-8 0l6-5-3-3-6 5z"/><path class=c62 d="M314 118l6-5-3-1-6 4z"/><path class=c63 d="M323 116l5-2-3-3-5 2z"/><path class=c17 d="M171 233l5-2-2-1-6 1zm303 1l6-2-3-1-6 1zm-311-1l5-2-3-1-5 1zm303 1l5-2-2-1-6 2zm-8 0l5-1-3-2-5 2zm-9 0l6-1-3-2-5 1zm-267 0l5-2-2-1-6 2zm-8 0l5-1-3-2-5 2zm303 1l5-1-2-2-6 2zm-312-1l6-1-3-2-5 2zm304 2l5-2-3-2-5 2zm-8 0l5-2-3-1-5 1z"/><path class=c18 d="M199 233l5-3-3-1-5 2zm242 1l6-2-3-2-6 2zm-251 0l6-3-3-1-6 2zm243-1l5-1-2-3-6 1z"/><path class=c19 d="M207 231l5-4-3 0-5 3zm218 0l5-1-3-3-5 0z"/><path class=c20 d="M215 228l6-4-3 0-6 3zm201 0l6-1-3-3-5-1zm-198 0l5-5-2 1-6 4z"/><path class=c21 d="M414 223l5 1-3-5-5 0zm-191 0l6-5-3 1-5 5z"/><path class=c22 d="M226 223l6-5-3 0-6 5zm182 0l6 0-3-4-6-1z"/><path class=c24 d="M232 218l5-7-3 2-5 5zm173 0l6 1-3-6-5-1zm-171-1l6-7-3 1-5 7z"/><path class=c25 d="M400 217l5 1-2-6-6-1z"/><path class=c27 d="M397 211l6 1-3-6-6-2z"/><path class=c28 d="M243 208l5-8-3 2-5 8z"/><path class=c30 d="M389 202l5 2-3-7-5-3z"/><path class=c32 d="M251 198l5-9-2 3-6 8z"/><path class=c34 d="M381 192l5 2-3-8-5-3z"/><path class=c36 d="M259 187l6-10-3 3-6 9z"/><path class=c39 d="M372 181l6 2-3-9-6-3z"/><path class=c41 d="M268 174l5-10-3 3-5 10z"/><path class=c43 d="M364 170l5 1-2-9-6-2z"/><path class=c46 d="M276 162l5-10-3 3-5 9z"/><path class=c47 d="M279 160l5-10-3 2-5 10z"/><path class=c48 d="M356 158l5 2-3-10-5-1z"/><path class=c50 d="M284 150l5-10-2 2-6 10z"/><path class=c51 d="M353 149l5 1-2-8-6-2zm-66 0l5-10-3 1-5 10z"/><path class=c52 d="M348 148l5 1-3-9-5-1z"/><path class=c55 d="M292 139l6-9-3 1-6 9zm53 0l5 1-3-8-5-1zm-50 0l6-9-3 0-6 9zm44 1l6-1-3-8-6 1z"/><path class=c58 d="M336 132l6-1-3-7-5 0zm-33 0l6-8-3-2-5 8z"/><path class=c60 d="M328 127l6-3-3-6-6 3zm-8-2l5-4-2-5-6 5zm-8 2l5-6-3-3-5 6z"/><path class=c17 d="M452 236l6-2-3-1-6 1zm-267-1l5-1-3-2-5 2zm-8 1l5-2-3-1-5 1zm-9 0l6-2-3-1-6 1zm304 1l5-2-3-1-5 2zm-9 0l6-1-3-2-5 2zm-8 0l6-1-3-2-6 2zm-8 0l5-1-3-2-5 2zm-259 0l5-2-3-1-5 1z"/><path class=c18 d="M201 234l6-3-3-1-5 3zm243 2l5-2-2-2-6 2zm-251-1l6-2-3-2-6 3zm243 0l5-1-3-2-5 1zm-8-1l5-1-3-3-5 1zm-224 1l6-4-3 0-6 3zm-8 1l5-2-2-1-6 2zm243 1l5-1-3-2-5 1zm-9-1l6-1-3-2-5 1z"/><path class=c19 d="M210 231l5-3-3-1-5 4zm209 1l6-1-3-4-6 1zm-207 0l6-4-3 0-5 3z"/><path class=c21 d="M411 228l5 0-2-5-6 0zm-190 0l5-5-3 0-5 5z"/><path class=c23 d="M229 223l5-6-2 1-6 5zm174 0l5 0-3-5-5-1z"/><path class=c25 d="M237 216l6-8-3 2-6 7z"/><path class=c26 d="M394 217l6 0-3-6-5-1z"/><path class=c28 d="M392 210l5 1-3-7-5-2z"/><path class=c29 d="M246 207l5-9-3 2-5 8zm140 2l6 1-3-8-6-1z"/><path class=c30 d="M248 206l6-10-3 2-5 9z"/><path class=c31 d="M383 201l6 1-3-8-5-2z"/><path class=c32 d="M378 199l5 2-2-9-6-2z"/><path class=c33 d="M254 196l5-9-3 2-5 9z"/><path class=c34 d="M257 195l5-10-3 2-5 9z"/><path class=c35 d="M375 190l6 2-3-9-6-2z"/><path class=c36 d="M370 189l5 1-3-9-5-2z"/><path class=c37 d="M262 185l6-11-3 3-6 10z"/><path class=c38 d="M265 183l5-11-2 2-6 11z"/><path class=c40 d="M367 179l5 2-3-10-5-1z"/><path class=c42 d="M270 172l6-10-3 2-5 10z"/><path class=c43 d="M273 171l6-11-3 2-6 10z"/><path class=c44 d="M359 168l5 2-3-10-5-2z"/><path class=c48 d="M350 158l6 0-3-9-5-1zm-69 2l6-11-3 1-5 10z"/><path class=c52 d="M290 149l5-10-3 0-5 10zm52 0l6-1-3-9-6 1z"/><path class=c55 d="M298 141l5-9-2-2-6 9zm36 1l5-2-3-8-5 2z"/><path class=c56 d="M326 138l5-4-3-7-5 4zm-17 1l5-8-2-4-6 7z"/><path class=c57 d="M331 134l5-2-2-8-6 3zm-25 0l6-7-3-3-6 8zm11 3l6-6-3-6-6 6z"/><path class=c59 d="M323 131l5-4-3-6-5 4zm-9 0l6-6-3-4-5 6z"/><path class=c17 d="M179 237l6-2-3-1-5 2zm-8 0l6-1-3-2-6 2zm295 2l6-2-3-1-6 1zm-8 0l5-2-2-1-6 1zm-8 0l5-2-3-1-5 1zm-9 0l6-2-3-1-5 1zm-251-1l6-2-3-1-5 2zm-8 1l6-2-3-2-6 2zm-8 0l5-2-2-1-6 1z"/><path class=c18 d="M207 236l5-4-2-1-6 4zm-8 1l5-2-3-1-5 2zm234 2l6-2-3-2-6 1zm-8-1l5-2-2-2-6 1z"/><path class=c19 d="M422 235l6-1-3-3-6 1zm-207-2l6-5-3 0-6 4zm202 3l5-1-3-3-5 0z"/><path class=c20 d="M414 232l5 0-3-4-5 0zm-6 1l6-1-3-4-5 0z"/><path class=c21 d="M224 229l5-6-3 0-5 5zm182-1l5 0-3-5-5 0zm-180 1l6-6-3 0-5 6z"/><path class=c23 d="M232 223l5-7-3 1-5 6z"/><path class=c24 d="M397 223l6 0-3-6-6 0zm-162 0l5-8-3 1-5 7z"/><path class=c26 d="M240 215l6-8-3 1-6 8zm149 1l5 1-2-7-6-1z"/><path class=c27 d="M243 215l5-9-2 1-6 8z"/><path class=c30 d="M381 208l5 1-3-8-5-2z"/><path class=c31 d="M251 205l6-10-3 1-6 10z"/><path class=c33 d="M373 199l5 0-3-9-5-1z"/><path class=c35 d="M259 194l6-11-3 2-5 10z"/><path class=c37 d="M364 189l6 0-3-10-6 0z"/><path class=c39 d="M268 183l5-12-3 1-5 11z"/><path class=c41 d="M361 179l6 0-3-9-5-2zm-5 0l5 0-2-11-6 0z"/><path class=c44 d="M276 171l5-11-2 0-6 11z"/><path class=c45 d="M353 168l6 0-3-10-6 0zm-5 2l5-2-3-10-5 1z"/><path class=c48 d="M284 160l6-11-3 0-6 11zm3 2l6-11-3-2-6 11z"/><path class=c49 d="M345 159l5-1-2-10-6 1z"/><path class=c51 d="M295 153l6-10-3-2-5 10z"/><path class=c52 d="M293 151l5-10-3-2-5 10zm44 1l5-3-3-9-5 2z"/><path class=c54 d="M328 146l6-4-3-8-5 4zm-24 1l5-8-3-5-5 9z"/><path class=c55 d="M301 143l5-9-3-2-5 9zm19 1l6-6-3-7-6 6zm-8 0l5-7-3-6-5 8z"/><path class=c17 d="M461 240l5-1-3-2-5 2zm-9 1l6-2-3-2-5 2zm-8 0l6-2-3-2-6 2zm-251-1l6-3-3-1-6 2zm243 1l5-2-2-2-6 2zm-251-1l5-2-2-1-6 2zm-8 0l5-1-3-2-5 2zm278 2l6-2-3-1-6 2zm-8 0l5-1-2-2-6 2zm-251-1l6-2-3-2-6 3zm243 1l5-1-3-2-5 2z"/><path class=c18 d="M202 239l5-3-3-1-5 2zm226 1l5-1-3-3-5 2zm-9-1l6-1-3-3-5 1zm-215 1l6-3-3-1-5 3z"/><path class=c19 d="M210 237l5-4-3-1-5 4zm201 0l6-1-3-4-6 1zm-198 1l5-4-3-1-5 4z"/><path class=c20 d="M218 234l6-5-3-1-6 5zm3 0l5-5-2 0-6 5zm182 0l5-1-2-5-6 1z"/><path class=c22 d="M400 229l6-1-3-5-6 0zm-171 0l6-6-3 0-6 6zm166 0l5 0-3-6-5 0z"/><path class=c24 d="M392 223l5 0-3-6-5-1zm-155 0l6-8-3 0-5 8z"/><path class=c25 d="M386 223l6 0-3-7-5 0z"/><path class=c27 d="M384 216l5 0-3-7-5-1z"/><path class=c28 d="M246 214l5-9-3 1-5 9zm132 2l6 0-3-8-6 0z"/><path class=c30 d="M375 208l6 0-3-9-5 0z"/><path class=c31 d="M254 204l5-10-2 1-6 10z"/><path class=c32 d="M257 204l5-10-3 0-5 10z"/><path class=c34 d="M367 199l6 0-3-10-6 0z"/><path class=c36 d="M262 194l6-11-3 0-6 11zm3 0l6-12-3 1-6 11z"/><path class=c38 d="M359 189l5 0-3-10-5 0z"/><path class=c40 d="M271 182l5-11-3 0-5 12zm2 1l6-11-3-1-5 11z"/><path class=c41 d="M351 180l5-1-3-11-5 2z"/><path class=c44 d="M279 172l5-12-3 0-5 11zm3 1l5-11-3-2-5 12z"/><path class=c45 d="M342 172l6-2-3-11-6 2z"/><path class=c48 d="M339 161l6-2-3-10-5 3zm-49 3l5-11-2-2-6 11zm44 1l5-4-2-9-6 3z"/><path class=c49 d="M326 160l5-5-3-9-5 5z"/><path class=c50 d="M298 157l6-10-3-4-6 10zm20 1l5-7-3-7-5 6z"/><path class=c51 d="M331 155l6-3-3-10-6 4z"/><path class=c52 d="M323 151l5-5-2-8-6 6zm-17 1l6-8-3-5-5 8z"/><path class=c53 d="M315 150l5-6-3-7-5 7z"/><path class=c17 d="M188 242l5-2-3-2-5 2zm243 0l5-1-3-2-5 1zm-251 0l5-2-3-1-5 1zm270 2l5-2-3-1-5 1zm-8 0l5-2-3-1-5 1zm-251-1l5-2-3-1-5 2zm242 1l6-2-3-1-5 1zm-251-1l6-1-3-2-5 2z"/><path class=c18 d="M422 242l6-2-3-2-6 1zm-8-2l5-1-2-3-6 1zm-207 1l6-3-3-1-6 3zm-8 1l5-2-2-1-6 2zm226 2l6-2-3-2-6 2zm-8-1l5-1-3-3-5 1z"/><path class=c19 d="M406 238l5-1-3-4-5 1zm-191 1l6-5-3 0-5 4z"/><path class=c20 d="M224 235l5-6-3 0-5 5z"/><path class=c21 d="M398 235l5-1-3-5-5 0z"/><path class=c22 d="M232 230l5-7-2 0-6 6z"/><path class=c23 d="M389 230l6-1-3-6-6 0zm-154 0l5-7-3 0-5 7z"/><path class=c25 d="M240 223l6-9-3 1-6 8zm141 1l5-1-2-7-6 0zm-138-1l6-9-3 0-6 9z"/><path class=c28 d="M249 214l5-10-3 1-5 9zm124 3l5-1-3-8-5 0z"/><path class=c29 d="M251 214l6-10-3 0-5 10z"/><path class=c31 d="M370 208l5 0-2-9-6 0zm-6 1l6-1-3-9-5 0z"/><path class=c32 d="M260 205l5-11-3 0-5 10z"/><path class=c34 d="M362 199l5 0-3-10-5 0zm-6 2l6-2-3-10-6 2z"/><path class=c36 d="M268 195l5-12-2-1-6 12z"/><path class=c38 d="M353 191l6-2-3-10-5 1z"/><path class=c40 d="M276 185l6-12-3-1-6 11z"/><path class=c41 d="M345 182l6-2-3-10-6 2z"/><path class=c44 d="M284 175l6-11-3-2-5 11zm53 0l5-3-3-11-5 4z"/><path class=c46 d="M329 170l5-5-3-10-5 5zm-33 2l5-10-3-5-5 11z"/><path class=c47 d="M293 168l5-11-3-4-5 11zm11 0l5-9-3-7-5 10z"/><path class=c48 d="M320 166l6-6-3-9-5 7zm-8 0l6-8-3-8-6 9z"/><path class=c49 d="M301 162l5-10-2-5-6 10z"/><path class=c50 d="M309 159l6-9-3-6-6 8z"/><path class=c17 d="M444 245l6-1-3-2-5 2zm-250 0l5-3-3-1-5 2zm242 0l6-1-3-2-6 2zm-251 0l6-2-3-1-6 1zm243 1l5-2-2-2-6 2z"/><path class=c18 d="M210 242l5-3-2-1-6 3zm-8 2l5-3-3-1-5 2zm218 1l5-1-3-2-5 1zm-9 0l6-2-3-3-5 2zm-198-1l5-4-3-1-5 3zm-8 1l5-3-3-1-5 3z"/><path class=c19 d="M409 242l5-2-3-3-5 1zm-191-2l6-5-3-1-6 5zm3 1l6-5-3-1-6 5zm182 2l6-1-3-4-6 1z"/><path class=c20 d="M400 239l6-1-3-4-5 1zm-5 1l5-1-2-4-6 1z"/><path class=c21 d="M227 236l5-6-3-1-5 6zm165 0l6-1-3-6-6 1zm-163 1l6-7-3 0-5 6zm158 0l5-1-3-6-5 1z"/><path class=c23 d="M384 231l5-1-3-7-5 1zm-146 0l5-8-3 0-5 7z"/><path class=c25 d="M376 225l5-1-3-8-5 1z"/><path class=c26 d="M246 224l5-10-2 0-6 9z"/><path class=c28 d="M367 218l6-1-3-9-6 1z"/><path class=c29 d="M254 215l6-10-3-1-6 10z"/><path class=c31 d="M359 210l5-1-2-10-6 2z"/><path class=c33 d="M262 206l6-11-3-1-5 11zm3 1l6-11-3-1-6 11z"/><path class=c34 d="M351 203l5-2-3-10-5 2z"/><path class=c36 d="M271 196l5-11-3-2-5 12zm3 2l5-11-3-2-5 11z"/><path class=c37 d="M343 195l5-2-3-11-5 3z"/><path class=c38 d="M348 193l5-2-2-11-6 2z"/><path class=c39 d="M282 190l5-11-3-4-5 12z"/><path class=c40 d="M279 187l5-12-2-2-6 12zm55 2l6-4-3-10-6 4z"/><path class=c41 d="M340 185l5-3-3-10-5 3z"/><path class=c42 d="M290 183l6-11-3-4-6 11zm36 2l5-6-2-9-6 5z"/><path class=c43 d="M287 179l6-11-3-4-6 11zm44 0l6-4-3-10-5 5z"/><path class=c44 d="M298 177l6-9-3-6-5 10z"/><path class=c45 d="M323 175l6-5-3-10-6 6zm-16-1l5-8-3-7-5 9z"/><path class=c46 d="M315 173l5-7-2-8-6 8z"/><path class=c17 d="M196 246l6-2-3-2-5 3zm243 1l5-2-2-1-6 1zm-251-1l6-1-3-2-6 2zm243 1l5-2-3-1-5 2zm-8 0l5-1-3-2-5 1zm-224 0l6-2-3-1-6 2zm-8 1l5-2-2-1-6 1zm243 1l5-2-3-2-5 2zm-9 0l6-2-3-1-5 1zm-8 0l6-2-3-2-6 2z"/><path class=c18 d="M414 247l6-2-3-2-6 2zm-8-1l5-1-2-3-6 1zm-190-1l5-4-3-1-5 4zm-9 2l6-3-3-2-5 3z"/><path class=c19 d="M224 242l5-5-2-1-6 5zm174 2l5-1-3-4-5 1z"/><path class=c20 d="M389 242l6-2-3-4-5 1z"/><path class=c21 d="M232 238l6-7-3-1-6 7zm149 0l6-1-3-6-6 1zm-146 1l6-7-3-1-6 7z"/><path class=c23 d="M378 232l6-1-3-7-5 1zm-137 0l5-8-3-1-5 8zm132 1l5-1-2-7-6 1zm-130 0l6-8-3-1-5 8z"/><path class=c26 d="M249 225l5-10-3-1-5 10zm121 1l6-1-3-8-6 1zm-118 0l5-10-3-1-5 10zm113 1l5-1-3-8-5 1z"/><path class=c28 d="M362 219l5-1-3-9-5 1zm-6 2l6-2-3-9-5 2z"/><path class=c29 d="M257 216l5-10-2-1-6 10zm3 2l5-11-3-1-5 10z"/><path class=c31 d="M354 212l5-2-3-9-5 2z"/><path class=c32 d="M268 209l6-11-3-2-6 11z"/><path class=c34 d="M345 205l6-2-3-10-5 2z"/><path class=c36 d="M276 201l6-11-3-3-5 11zm61-2l6-4-3-10-6 4z"/><path class=c38 d="M285 194l5-11-3-4-5 11z"/><path class=c39 d="M329 194l5-5-3-10-5 6zm-33-1l5-10-3-6-5 11z"/><path class=c40 d="M321 191l5-6-3-10-5 7zm-17-1l5-9-2-7-6 9z"/><path class=c41 d="M293 188l5-11-2-5-6 11zm19 1l6-7-3-9-6 8z"/><path class=c42 d="M301 183l6-9-3-6-6 9z"/><path class=c43 d="M318 182l5-7-3-9-5 7zm-9-1l6-8-3-7-5 8z"/><path class=c17 d="M202 249l5-2-2-2-6 2zm-8 0l5-2-3-1-5 2zm234 1l6-1-3-2-6 2zm-8 0l5-1-2-2-6 2zm-8 0l5-1-3-2-5 1z"/><path class=c18 d="M409 248l5-1-3-2-5 1zm-190-2l5-4-3-1-5 4zm182 2l5-2-3-3-5 1zm-191 0l6-3-3-1-6 3zm11 0l6-5-3-1-5 4zm182 2l6-2-3-2-5 2zm-190-1l6-3-3-1-6 3zm182 0l6-1-3-4-6 2z"/><path class=c19 d="M227 243l5-5-3-1-5 5zm165 3l6-2-3-4-6 2z"/><path class=c20 d="M384 243l5-1-2-5-6 1zm-154 1l5-5-3-1-5 5z"/><path class=c21 d="M238 240l5-7-2-1-6 7z"/><path class=c22 d="M376 239l5-1-3-6-5 1z"/><path class=c23 d="M246 234l6-8-3-1-6 8zm122 1l5-2-3-7-5 1z"/><path class=c26 d="M254 227l6-9-3-2-5 10zm105 2l6-2-3-8-6 2z"/><path class=c28 d="M351 223l5-2-2-9-6 3z"/><path class=c29 d="M263 220l5-11-3-2-5 11z"/><path class=c30 d="M343 218l5-3-3-10-5 4z"/><path class=c31 d="M348 215l6-3-3-9-6 2zm-74 0l5-11-3-3-5 11z"/><path class=c32 d="M271 212l5-11-2-3-6 11zm63 0l6-3-3-10-5 4z"/><path class=c33 d="M340 209l5-4-2-10-6 4z"/><path class=c34 d="M282 208l5-10-2-4-6 10z"/><path class=c35 d="M279 204l6-10-3-4-6 11zm53-1l5-4-3-10-5 5z"/><path class=c36 d="M290 203l6-10-3-5-6 10z"/><path class=c37 d="M287 198l6-10-3-5-5 11zm36 1l6-5-3-9-5 6zm-24 0l5-9-3-7-5 10z"/><path class=c38 d="M315 197l6-6-3-9-6 7zm-8 0l5-8-3-8-5 9z"/><path class=c17 d="M205 250l5-2-3-1-5 2zm-8 1l5-2-3-2-5 2zm226 1l5-2-3-1-5 1zm-9 0l6-2-3-1-5 1zm-8 0l6-2-3-2-6 2zm-198 0l5-3-3-1-5 2zm-9 0l6-2-3-1-5 2z"/><path class=c18 d="M224 249l6-5-3-1-6 5zm-8 2l5-3-2-2-6 3zm182 1l5-2-2-2-6 1zm-8-1l5-2-3-3-5 1z"/><path class=c19 d="M387 247l5-1-3-4-5 1zm-6 2l6-2-3-4-5 2z"/><path class=c20 d="M379 245l5-2-3-5-5 1zm-147 1l6-6-3-1-5 5zm141 0l6-1-3-6-6 2z"/><path class=c21 d="M241 241l5-7-3-1-5 7zm3 2l5-7-3-2-5 7z"/><path class=c22 d="M370 241l6-2-3-6-5 2zm-5 2l5-2-2-6-6 1z"/><path class=c23 d="M249 236l5-9-2-1-6 8zm113 0l6-1-3-8-6 2zm-110 1l5-8-3-2-5 9z"/><path class=c25 d="M354 231l5-2-3-8-5 2z"/><path class=c26 d="M257 229l6-9-3-2-6 9zm3 2l6-9-3-2-6 9z"/><path class=c28 d="M346 226l5-3-3-8-5 3zm-78-2l6-9-3-3-5 10z"/><path class=c29 d="M266 222l5-10-3-3-5 11z"/><path class=c30 d="M337 221l6-3-3-9-6 3z"/><path class=c31 d="M277 218l5-10-3-4-5 11zm52-1l5-5-2-9-6 5z"/><path class=c33 d="M285 212l5-9-3-5-5 10zm36 2l5-6-3-9-5 7zm-9-2l6-6-3-9-5 8zm-8 0l6-7-3-8-6 8z"/><path class=c34 d="M326 208l6-5-3-9-6 5zm-33 0l6-9-3-6-6 10z"/><path class=c35 d="M318 206l5-7-2-8-6 6zm-17-1l6-8-3-7-5 9z"/><path class=c36 d="M310 205l5-8-3-8-5 8z"/><path class=c17 d="M417 254l6-2-3-2-6 2zm-8 0l5-2-2-2-6 2zm-8 0l5-2-3-2-5 2zm-191-1l6-2-3-2-5 3zm-8 1l6-2-3-2-6 2zm210 1l5-1-3-2-5 2zm-8 0l5-1-3-2-5 2z"/><path class=c18 d="M227 250l5-4-2-2-6 5zm-8 2l5-3-3-1-5 3zm173 1l6-1-3-3-5 2zm-8-1l6-1-3-4-6 2zm-154 0l5-5-3-1-5 4zm-8 2l5-4-3-1-5 3z"/><path class=c19 d="M376 250l5-1-2-4-6 1z"/><path class=c20 d="M235 247l6-6-3-1-6 6zm133 1l5-2-3-5-5 2zm-130 1l6-6-3-2-6 6z"/><path class=c21 d="M246 244l6-7-3-1-5 7zm113 0l6-1-3-7-5 2z"/><path class=c23 d="M357 238l5-2-3-7-5 2zm-102 1l5-8-3-2-5 8zm96 2l6-3-3-7-6 3z"/><path class=c25 d="M348 234l6-3-3-8-5 3zm-85-1l5-9-2-2-6 9zm80 4l5-3-2-8-6 3z"/><path class=c27 d="M340 229l6-3-3-8-6 3z"/><path class=c28 d="M271 227l6-9-3-3-6 9z"/><path class=c29 d="M332 225l5-4-3-9-5 5zm-50 1l6-9-3-5-6 10z"/><path class=c30 d="M279 222l6-10-3-4-5 10zm45 0l5-5-3-9-5 6zm-33 0l5-8-3-6-5 9z"/><path class=c31 d="M315 219l6-5-3-8-6 6zm-8 0l5-7-2-7-6 7zm-8 1l5-8-3-7-5 9z"/><path class=c32 d="M288 217l5-9-3-5-5 9z"/><path class=c33 d="M296 214l5-9-2-6-6 9z"/><path class=c17 d="M213 255l6-3-3-1-6 2zm182 0l6-1-3-2-6 1zm-190 0l5-2-2-1-6 2zm201 2l6-2-3-1-5 1zm-190-1l6-2-3-2-6 3zm182 1l6-2-3-1-6 1zm-190 0l5-2-3-2-5 2zm182 0l5-2-3-2-5 2z"/><path class=c18 d="M387 255l5-2-2-2-6 1zm-8-1l5-2-3-3-5 1zm-146-1l5-4-3-2-5 5zm-9 2l6-3-3-2-5 4zm158 2l5-2-3-3-5 2zm-9-1l6-2-3-4-5 2z"/><path class=c19 d="M371 252l5-2-3-4-5 2z"/><path class=c20 d="M241 250l5-6-2-1-6 6zm121 0l6-2-3-5-6 1z"/><path class=c21 d="M249 246l6-7-3-2-6 7zm105 1l5-3-2-6-6 3zm-102 1l5-7-2-2-6 7z"/><path class=c23 d="M257 241l6-8-3-2-5 8zm89 2l5-2-3-7-5 3zm-86 0l6-7-3-3-6 8z"/><path class=c24 d="M338 240l5-3-3-8-5 4zm-69-1l5-8-3-4-5 9z"/><path class=c25 d="M266 236l5-9-3-3-5 9z"/><path class=c26 d="M335 233l5-4-3-8-5 4zm-58 1l5-8-3-4-5 9zm52 2l6-3-3-8-6 4z"/><path class=c27 d="M274 231l5-9-2-4-6 9zm47 3l5-5-2-7-6 5zm-8-2l5-5-3-8-5 7z"/><path class=c28 d="M326 229l6-4-3-8-5 5zm-41 1l6-8-3-5-6 9z"/><path class=c29 d="M318 227l6-5-3-8-6 5zm-8-1l5-7-3-7-5 7zm-8 0l5-7-3-7-5 8zm-9 1l6-7-3-6-5 8z"/><path class=c17 d="M219 258l5-3-2-1-6 2zm182 0l5-1-2-2-6 2zm-190 0l5-2-3-1-5 2zm182 1l5-2-3-2-5 2zm-9 0l6-2-3-2-5 2z"/><path class=c18 d="M236 255l5-5-3-1-5 4zm-9 2l6-4-3-1-6 3zm149 1l6-1-3-3-6 2zm-8-1l5-1-2-4-6 2zm-130-1l6-4-3-2-5 5zm-8 2l6-3-3-2-6 4z"/><path class=c19 d="M365 254l6-2-3-4-6 2zm-118-1l5-5-3-2-5 6zm113 3l5-2-3-4-5 2z"/><path class=c20 d="M244 252l5-6-3-2-5 6zm113 0l5-2-3-6-5 3zm-6 2l6-2-3-5-5 2z"/><path class=c21 d="M349 249l5-2-3-6-5 2zm-94 1l5-7-3-2-5 7z"/><path class=c22 d="M340 246l6-3-3-6-5 3zm-77 0l6-7-3-3-6 7z"/><path class=c24 d="M271 242l6-8-3-3-5 8zm61 1l6-3-3-7-6 3z"/><path class=c25 d="M280 238l5-8-3-4-5 8zm44 2l5-4-3-7-5 5zm-8-2l5-4-3-7-5 5zm-25 1l5-7-3-5-5 8z"/><path class=c26 d="M307 237l6-5-3-6-6 6zm-8 1l5-6-2-6-6 6z"/><path class=c27 d="M296 232l6-6-3-6-6 7zm-8 3l5-8-2-5-6 8z"/><path class=c28 d="M304 232l6-6-3-7-5 7z"/><path class=c17 d="M222 259l5-2-3-2-5 3zm-8 0l5-1-3-2-5 2zm182 1l5-2-3-1-5 2zm-9 0l6-1-3-2-6 2zm-8 0l5-1-2-2-6 1zm-154 1l5-3-3-1-5 2zm-9 0l6-2-3-1-5 1zm174 1l6-2-3-1-6 1zm-8 0l5-2-3-1-5 1z"/><path class=c18 d="M371 260l5-2-3-2-5 1zm-130-2l6-5-3-1-6 4zm121 1l6-2-3-3-5 2zm-129 1l5-4-2-1-6 3z"/><path class=c19 d="M249 255l6-5-3-2-5 5zm105 2l6-1-3-4-6 2z"/><path class=c20 d="M346 256l5-2-2-5-6 2zm-8-3l5-2-3-5-5 2zm-77 1l5-6-3-2-5 6z"/><path class=c21 d="M343 251l6-2-3-6-6 3zm-85 1l5-6-3-3-5 7zm11-1l5-6-3-3-5 6zm60 0l6-3-3-5-5 3z"/><path class=c22 d="M335 248l5-2-2-6-6 3zm-69 0l5-6-2-3-6 7zm55 1l6-3-3-6-6 4z"/><path class=c23 d="M274 245l6-7-3-4-6 8zm53 1l5-3-3-7-5 4zm-50 2l5-7-2-3-6 7z"/><path class=c24 d="M282 241l6-6-3-5-5 8zm36 3l6-4-3-6-5 4zm-8-1l6-5-3-6-6 5zm-8 0l5-6-3-5-5 6zm-8 1l5-6-3-6-5 7zm-9 1l6-6-3-4-6 6z"/><path class=c17 d="M374 262l5-2-3-2-5 2zm-147 0l6-2-3-2-5 3zm-8 0l6-1-3-2-6 2zm166 1l5-1-3-2-5 2zm-9 1l6-2-3-2-5 2zm-8 0l6-2-3-2-6 2zm-138 0l6-3-3-1-6 2z"/><path class=c18 d="M244 259l5-4-2-2-6 5zm121 3l6-2-3-3-6 2zm-129-1l5-3-3-2-5 4zm121 0l5-2-2-3-6 1zm-110 0l5-4-3-2-5 4zm-8 2l5-4-3-1-5 3zm121 0l5-1-3-3-5 2zm-8-1l5-1-3-4-5 2z"/><path class=c19 d="M252 257l6-5-3-2-6 5zm97 2l5-2-3-3-5 2zm-8-1l5-2-3-5-5 2zm-86 1l6-5-3-2-6 5z"/><path class=c20 d="M332 256l6-3-3-5-6 3zm-69 0l6-5-3-3-5 6z"/><path class=c21 d="M272 254l5-6-3-3-5 6zm52 0l5-3-2-5-6 3zm-8-1l5-4-3-5-5 4z"/><path class=c22 d="M280 251l5-6-3-4-5 7zm27 1l6-4-3-5-5 5zm-8 0l6-4-3-5-6 5zm-8 1l5-5-2-4-6 5z"/><path class=c23 d="M313 248l5-4-2-6-6 5zm-8 0l5-5-3-6-5 6zm-9 0l6-5-3-5-5 6zm-8 1l6-5-3-5-6 6z"/><path class=c17 d="M222 264l5-2-2-1-6 1zm157 1l6-2-3-1-6 2zm-8 0l5-1-2-2-6 2zm-8 0l5-1-3-2-5 1zm-130 0l6-2-3-2-6 3zm-8 0l5-1-3-2-5 2z"/><path class=c18 d="M250 263l5-4-3-2-5 4zm-9 1l6-3-3-2-5 4zm113 1l6-2-3-2-5 1zm-8-1l6-2-3-3-6 2zm-8-1l5-2-2-3-6 2z"/><path class=c19 d="M343 261l6-2-3-3-5 2zm-8-1l6-2-3-5-6 3zm-77 1l5-5-2-2-6 5zm11 0l5-5-2-2-6 4zm61 1l5-2-3-4-5 3z"/><path class=c20 d="M266 258l6-4-3-3-6 5zm61 1l5-3-3-5-5 3zm-8-2l5-3-3-5-5 4zm-42 2l6-5-3-3-6 5z"/><path class=c21 d="M283 254l5-5-3-4-5 6zm-9 2l6-5-3-3-5 6zm36 0l6-3-3-5-6 4zm-8 0l5-4-2-4-6 4zm-8 0l5-4-3-4-5 5zm-8 1l5-4-3-4-5 5z"/><path class=c17 d="M374 267l5-2-3-1-5 1zm-8 0l5-2-3-1-5 1zm-130 0l5-3-2-1-6 2zm121 0l6-2-3-2-6 2zm-129 0l5-2-3-1-5 1zm140 1l6-1-3-2-5 2zm-129 0l5-2-3-2-5 3zm121 1l6-2-3-2-6 2z"/><path class=c18 d="M252 264l6-3-3-2-5 4zm-8 2l6-3-3-2-6 3zm105 1l5-2-2-3-6 2zm-8-1l5-2-3-3-5 2zm-9-1l6-2-3-3-5 2zm-77 1l6-3-3-2-6 3zm-8 1l5-3-2-1-6 3z"/><path class=c19 d="M261 263l5-5-3-2-5 5zm60-2l6-2-3-5-5 3zm-49 2l5-4-3-3-5 5zm-8 2l5-4-3-3-5 5zm60-1l6-2-3-3-6 2zm-8 0l5-3-2-4-6 3zm-8-1l5-3-3-4-5 4zm-9 0l6-3-3-4-5 4z"/><path class=c20 d="M313 260l6-3-3-4-6 3zm-8 0l5-4-3-4-5 4zm-8 0l5-4-3-4-5 4zm-9 0l6-4-3-3-5 4zm-8 2l6-5-3-3-6 5z"/><path class=c17 d="M230 268l6-1-3-2-5 2zm122 1l5-2-3-2-5 2zm-110 1l5-3-3-1-5 2zm121 0l5-2-2-1-6 2zm-130 0l6-2-3-1-6 1zm122 0l5-1-3-2-5 2zm-9 0l6-1-3-2-5 1z"/><path class=c18 d="M344 268l5-1-3-3-5 2zm-9 0l6-2-3-3-6 2zm-69-1l6-4-3-2-5 4zm61 0l5-2-2-3-6 2zm-69 1l6-3-3-2-6 3zm61-1l5-3-3-3-5 3zm-69 2l5-3-3-2-5 3zm88 1l6-2-3-2-6 2z"/><path class=c19 d="M291 263l6-3-3-4-6 4zm-8 1l5-4-2-3-6 5zm-8 1l5-3-3-3-5 4zm36 1l5-2-3-4-5 3zm-9 0l6-3-3-3-6 3zm-8 0l5-3-2-3-6 3zm-8 1l5-4-3-3-5 4zm-9 0l6-3-3-2-5 3z"/><path class=c17 d="M244 271l6-2-3-2-5 3zm-8 0l6-1-3-2-6 2zm121 1l6-2-3-1-5 1zm-8 0l6-2-3-1-6 1zm-8 0l5-2-2-2-6 2zm-8 0l5-2-3-2-5 2zm-77 0l5-3-3-1-5 2zm-9 0l6-2-3-1-6 2z"/><path class=c18 d="M269 268l6-3-3-2-6 4zm61 2l5-2-3-3-5 2zm-69-1l5-2-2-2-6 3zm61 0l5-2-3-3-5 3zm-69 1l5-2-3-2-5 3zm60-1l6-2-3-3-5 2zm-8 0l6-3-3-3-6 3zm-8 0l5-3-3-3-5 3zm-8 0l5-3-3-3-5 4zm-9 0l6-2-3-3-6 3zm-8 1l5-3-2-2-6 3zm-8 1l5-3-3-1-5 2zm60 1l6-2-3-3-5 2zm-8-1l6-2-3-2-6 2zm-8 0l5-2-2-3-6 3z"/><path class=c17 d="M239 273l5-2-2-1-6 1zm113 0l5-1-2-2-6 2zm-8 1l5-2-3-2-5 2zm-8 0l5-2-3-2-5 2zm-9 0l6-2-3-2-6 2zm-69 0l6-3-3-2-5 3zm-8 0l6-2-3-2-6 2zm-8 0l5-2-3-1-5 2zm105 1l5-2-3-1-5 2z"/><path class=c18 d="M300 271l5-2-3-3-5 3zm-9 0l6-2-3-3-5 3zm-8 1l6-3-3-2-6 2zm-8 0l5-3-3-2-5 3zm-8 1l5-3-3-2-5 3zm52 0l5-1-2-3-6 2zm-8 0l5-2-3-2-5 2zm-9 0l6-2-3-2-5 2zm-8 0l6-2-3-2-6 2zm-8 1l5-3-2-2-6 3z"/><path class=c17 d="M338 275l6-1-3-2-5 2zm-8 0l6-1-3-2-6 2zm-69 0l6-2-3-2-6 3zm61 0l5-1-3-2-5 1zm-69 0l5-1-2-2-6 2zm-8 1l5-2-3-2-5 2zm96 1l6-2-3-1-6 1zm-8 0l5-2-2-1-6 1zm-69 0l5-2-2-2-6 2zm61 0l5-2-3-1-5 1zm-69 0l5-2-3-1-5 1zm60 0l6-2-3-2-5 2z"/><path class=c18 d="M278 274l5-2-3-3-5 3zm-9 1l6-3-3-2-5 3zm45 0l5-2-3-2-5 2zm-9 0l6-2-3-2-6 2zm-8 0l5-2-2-2-6 2zm-8 0l5-2-3-2-5 3zm-8 1l5-2-3-2-5 2zm-9 0l6-2-3-2-6 3z"/><path class=c17 d="M247 277l6-2-3-1-5 2zm61 0l6-2-3-2-6 2zm-33 1l6-2-3-2-6 2zm61 0l5-1-3-2-5 2zm-69 0l5-2-3-1-5 2zm60 1l6-2-3-2-5 2zm-68-1l5-1-3-2-5 2zm60 1l6-2-3-2-6 2zm-69 0l6-2-3-2-6 2zm61 0l5-2-2-2-6 2zm-8 0l5-2-3-2-5 2zm-9 0l6-2-3-2-5 2zm-8 0l6-2-3-2-6 2z"/><path class=c18 d="M300 277l5-2-3-2-5 2zm-8 0l5-2-3-2-5 2zm-9 0l6-2-3-1-5 2z"/><path class=c17 d="M278 279l5-2-2-1-6 2zm-8 1l5-2-3-2-5 2zm60 0l6-2-3-1-6 2zm-69 0l6-2-3-1-5 1zm61 0l5-1-2-2-6 2zm-69 0l6-2-3-1-6 2zm61 0l5-1-3-2-5 2zm-8 0l5-1-3-2-5 2zm-9 1l6-2-3-2-6 2zm-8 0l5-2-2-2-6 2zm-8 0l5-2-3-2-5 2zm-9 0l6-2-3-1-5 2zm-8 0l6-1-3-2-6 2zm61 1l5-2-3-1-5 1zm-69 0l5-2-2-2-6 2zm61 0l5-2-3-1-5 1zm-9 0l6-2-3-1-5 1zm-8 0l6-2-3-1-6 2zm-8 0l5-1-3-2-5 2zm-8 0l5-1-3-2-5 2zm-9 1l6-2-3-2-6 2zm-8 0l5-2-2-1-6 1zm-8 0l5-2-3-1-5 2zm60 0l6-1-3-2-5 2zm-8 0l6-1-3-2-6 2zm-8 1l5-2-2-2-6 2zm-8 0l5-2-3-1-5 1zm-9 0l6-2-3-1-5 1zm-8 0l6-2-3-1-6 2zm-8 0l5-1-3-2-5 2zm-8 1l5-2-3-2-5 2zm52 0l5-2-2-1-6 1zm-8 0l5-2-3-1-5 2zm-9 0l6-1-3-2-5 2zm-8 0l6-1-3-2-6 2zm-8 1l5-2-2-2-6 2zm-8 0l5-2-3-1-5 1zm-9 0l6-2-3-1-5 2zm45 1l5-2-3-2-5 2zm-9 0l6-2-3-1-6 1zm-8 0l5-2-2-1-6 1zm-8 0l5-2-3-1-5 2zm-8 0l5-1-3-2-5 2zm-9 0l6-1-3-2-6 2zm36 1l6-1-3-2-6 2zm-8 0l5-1-3-2-5 2zm-8 1l5-2-3-2-5 2zm-9 0l6-2-3-1-5 1zm-8 0l6-2-3-1-6 1zm28 1l5-2-3-1-5 1zm-9 0l6-2-3-1-5 2zm-8 0l6-1-3-2-6 2zm-8 0l5-1-2-2-6 2zm19 2l6-2-3-2-6 2zm-8 0l5-2-2-1-6 1zm-8 0l5-2-3-1-5 1zm11 1l5-1-3-2-5 2zm-8 0l5-1-3-2-5 2zm2 2l6-2-3-1-5 1z"/></g>
<g stroke="#262626" stroke-width="0.9"><line x1="140.7" y1="172.4" x2="249.4" y2="139.4"/><line x1="140.7" y1="172.4" x2="56.8" y2="128.7"/><line x1="56.8" y1="128.7" x2="56.8" y2="34.7"/><line x1="140.7" y1="172.4" x2="143.4" y2="173.8"/><line x1="195.1" y1="155.9" x2="197.7" y2="157.3"/><line x1="249.4" y1="139.4" x2="252.1" y2="140.8"/><line x1="140.7" y1="172.4" x2="137.8" y2="173.3"/><line x1="70.7" y1="136" x2="67.9" y2="136.9"/><line x1="56.8" y1="128.7" x2="54.1" y2="127.3"/><line x1="56.8" y1="105.2" x2="54.1" y2="103.8"/><line x1="56.8" y1="81.7" x2="54.1" y2="80.3"/><line x1="56.8" y1="58.2" x2="54.1" y2="56.8"/><line x1="56.8" y1="34.7" x2="54.1" y2="33.3"/></g>
<g fill="#2e2e2e" style="font-family:'Liberation Serif',serif"><text transform="translate(149.6 187.25) scale(1 1.09)" font-size="11.9" text-anchor="middle">0</text><text transform="translate(207.8 170.75) scale(1 1.09)" font-size="11.9" text-anchor="middle">20</text><text transform="translate(261.6 153.75) scale(1 1.09)" font-size="11.9" text-anchor="middle">40</text><text transform="translate(131 186.15) scale(1 1.09)" font-size="11.9" text-anchor="middle">0</text><text transform="translate(58.5 150.05) scale(1 1.09)" font-size="11.9" text-anchor="middle">50</text><text transform="translate(50.75 131.75) scale(1 1.09)" font-size="11.9" text-anchor="end">-1</text><text transform="translate(50.75 108.25) scale(1 1.09)" font-size="11.9" text-anchor="end">0</text><text transform="translate(50.75 84.75) scale(1 1.09)" font-size="11.9" text-anchor="end">1</text><text transform="translate(50.75 61.25) scale(1 1.09)" font-size="11.9" text-anchor="end">2</text><text transform="translate(50.75 37.75) scale(1 1.09)" font-size="11.9" text-anchor="end">3</text><text transform="translate(185.7 197.7) scale(1 1.09)" font-size="11.9">Spatial variable <tspan font-style="italic" font-size="12.6">ζ</tspan><tspan font-size="9.6" dy="4.9" dx="0.3">1</tspan></text><text transform="translate(7.2 190.6) scale(1 1.09)" font-size="11.9">Spatial variable <tspan font-style="italic" font-size="12.6">ζ</tspan><tspan font-size="9.6" dy="4.9" dx="0.3">2</tspan></text><text transform="translate(24.2 117.07) scale(1 1.09) rotate(-90)" font-size="11.9">Spatial variable <tspan font-style="italic" font-size="12.6">ζ</tspan><tspan font-size="9.6" dy="4.9" dx="0.3">3</tspan></text><text transform="translate(17.9 22) scale(1 1.09)" font-size="14">×</text><text transform="translate(25.85 20.2) scale(1 1.09)" font-size="11.9">10</text><text transform="translate(37.85 13.6) scale(1 1.09)" font-size="9.6">-3</text></g>
<g stroke="#dcdcdc" stroke-width="0.6"><line x1="330.9" y1="128.7" x2="330.9" y2="34.7"/><line x1="385.3" y1="113" x2="385.3" y2="19"/><line x1="439.8" y1="97.4" x2="439.8" y2="3.4"/><line x1="330.9" y1="128.7" x2="439.8" y2="97.4"/><line x1="330.9" y1="105.2" x2="439.8" y2="73.9"/><line x1="330.9" y1="81.7" x2="439.8" y2="50.4"/><line x1="330.9" y1="58.2" x2="439.8" y2="26.9"/><line x1="330.9" y1="34.7" x2="439.8" y2="3.4"/><line x1="523.5" y1="139.4" x2="523.5" y2="45.4"/><line x1="453.8" y1="104.4" x2="453.8" y2="10.4"/><line x1="523.5" y1="139.4" x2="439.8" y2="97.4"/><line x1="523.5" y1="115.9" x2="439.8" y2="73.9"/><line x1="523.5" y1="92.4" x2="439.8" y2="50.4"/><line x1="523.5" y1="68.9" x2="439.8" y2="26.9"/><line x1="523.5" y1="45.4" x2="439.8" y2="3.4"/><line x1="414.8" y1="172.4" x2="330.9" y2="128.7"/><line x1="469.2" y1="155.9" x2="385.3" y2="113"/><line x1="523.5" y1="139.4" x2="439.8" y2="97.4"/><line x1="414.8" y1="172.4" x2="523.5" y2="139.4"/><line x1="344.8" y1="136" x2="453.8" y2="104.4"/></g>
<g transform="scale(0.5)" stroke-width="1.1"><path class=c34 d="M914 160l0-42 0 0 0 0zm3-40l0 0-3-2 0 42zm-8 41l5-1 0-42-5 2zm3-40l5-1-3 40-5 1zm8 0l0 0-3-1 0 0zm-16 38l5 2 0-41-5 1zm11-36l5-2-3-1-5 1zm-9 0l6-2-3 40-5-2zm17 0l0 0-3-2 0 0zm-25 32l6 4 0-38-6 2zm19-31l6-1-3-2-5 2zm-8 0l6-1-3-2-6 2zm-8 0l5-1-2 36-6-4zm25 0l0 0-3-1 0 0zm-33 24l5 7 0-32-5 2zm27-22l6-2-3-1-6 1zm-8 0l5-2-2-1-6 1zm-8 0l5-2-3-1-5 1zm-8 0l5-2-3 31-5-7zm33-1l0 0-3-1 0 0zm-6 2l6-2-3-1-6 2zm-36 15l6 6 0-23-6 1zm28-15l5-1-3-2-5 2zm-8 0l5-1-3-2-5 2zm-9 0l6-1-3-2-5 2zm33 0l0 0-2-2 0 0zm-41 1l6-2-3 22-6-6zm36 0l5-1-2-2-6 2zm-8 1l5-2-3-1-5 1zm-36 7l5 6 0-16-5 2zm27-7l6-2-3-1-5 1zm-8 0l6-2-3-1-6 1zm33-1l0 0-3-1 0 0zm-41 1l5-2-2-1-6 2zm-8 0l5-1-3 14-5-6zm44 1l5-2-3-1-5 1zm-8 0l5-2-3-1-5 2zm-9 0l6-1-3-2-6 2zm-36 2l6 4 0-8-6 1zm28-2l5-1-2-2-6 2zm33 0l0 0-3-2 0 0zm-41 0l5-1-3-2-5 2zm-9 1l6-2-3-1-5 1zm-8 0l6-2-3 7-6-4zm53 0l5-1-3-2-5 2zm-9 0l6-1-3-2-5 2zm-8 1l6-2-3-1-6 1zm-8 0l5-2-3-1-5 1zm33-1l0 0-3-1 0 0zm-69 0l5 1 0-3-5 2zm28 1l5-2-3-1-5 1zm-9 0l6-2-3-1-6 2zm-8 0l5-1-2-2-6 2zm-8 0l5-1-3 1-5-1zm60 1l6-2-3-1-5 1zm-8 0l6-2-3-1-6 1zm-8 0l5-2-2-1-6 2zm-8 0l5-1-3-2-5 2zm33-1l0 0-3-1 0 0zm-42 1l6-1-3-2-5 2zm-36 0l6-2 0 0-6 2zm28 0l6-1-3-2-6 2zm-8 1l5-2-3-1-5 1zm-8 0l5-2-3-1-5 1zm60 0l6-2-3-1-6 2zm-69 0l6-2-3-1-6 2zm61 0l5-1-2-2-6 2zm-8 0l5-1-3-2-5 2zm-9 1l6-2-3-1-5 1zm-8 0l6-2-3-1-6 1zm-8 0l5-2-2-1-6 1z"/><path class=c35 d="M945 132l0 2-2-2 0 0z"/><path class=c34 d="M860 134l5-1 0 0-5 1zm28 1l5-2-3-1-5 2zm-9 0l6-1-3-2-5 2zm-8 0l6-1-3-2-6 2zm61 0l5-1-3-1-5 1zm-69 1l5-2-3-1-5 1zm61 0l5-2-3-1-5 1zm-9 0l6-2-3-1-6 2zm-8 0l5-1-2-2-6 2zm-8 0l5-1-3-2-5 2zm-9 1l6-2-3-2-5 2zm-35-1l5-2 0 0-5 2zm27 1l6-2-3-1-6 1zm-8 0l5-2-2-1-6 1zm-8 0l5-2-3-1-5 2zm60 0l6-2-3-1-5 2z"/><path class=c35 d="M940 133l5-1-2 0-6 2zm-5 2l5-2-3 1-5 1z"/><path class=c38 d="M948 130l0 5-3-1 0-2zm-5 1l5-1-3 2-5 1z"/><path class=c34 d="M857 137l6-1-3-2-5 2zm61 0l6-1-3-2-6 2zm-8 1l5-2-3-1-5 1zm-8 0l5-2-3-1-5 1zm-9 0l6-2-3-1-6 2zm-8 0l5-1-2-2-6 2zm-36-1l6-1 0 0-6 1zm28 1l5-1-3-2-5 2zm-9 0l6-1-3-2-5 2zm-8 1l6-2-3-1-6 1zm61 0l5-2-2-1-6 1zm-69 0l5-2-2-1-6 1zm61 0l5-2-3-1-5 2zm-9 0l6-1-3-2-5 2z"/><path class=c35 d="M929 136l6-1-3 0-6 2z"/><path class=c38 d="M937 132l6-1-3 2-5 2z"/><path class=c41 d="M951 126l0 11-3-2 0-5zm-5 1l5-1-3 4-5 1z"/><path class=c45 d="M954 122l0 16-3-1 0-11z"/><path class=c34 d="M896 139l6-1-3-2-6 2zm-8 1l5-2-3-1-5 1zm-8 0l5-2-3-1-5 1zm-36-1l5-2 0 0-5 2zm27 1l6-2-3-1-6 1zm-8 0l5-2-2-1-6 2zm-8 0l5-1-3-2-5 2zm60 0l6-1-3-2-5 2zm-68 0l5-1-3-2-5 2zm60 1l6-2-3-1-6 1zm-8 0l5-2-2-1-6 1zm-8 0l5-2-3-1-5 2zm-9 0l6-1-3-2-5 2zm-8 0l6-1-3-2-6 2zm-36-1l6-1 0 0-6 1z"/><path class=c35 d="M924 138l5-2-3 1-5 2z"/><path class=c38 d="M932 134l5-2-2 3-6 1z"/><path class=c41 d="M935 130l5-1-3 3-5 2z"/><path class=c42 d="M940 129l6-2-3 4-6 1z"/><path class=c46 d="M949 122l5 0-3 4-5 1zm-6 2l6-2-3 5-6 2z"/><path class=c49 d="M957 117l0 23-3-2 0-16z"/><path class=c51 d="M951 117l6 0-3 5-5 0z"/><path class=c34 d="M866 141l5-1-3-2-5 2zm-8 1l5-2-3-1-5 1zm-9 0l6-2-3-1-5 1zm61 0l5-2-2-1-6 2zm-69 0l6-2-3-1-6 1zm61 0l5-1-3-2-5 2zm-9 0l6-1-3-2-5 2zm-8 1l6-2-3-1-6 1zm-8 0l5-2-2-1-6 1zm-8 0l5-2-3-1-5 1zm-36-1l5-2 0 0-5 2zm27 1l6-2-3-1-5 2zm-8 0l6-1-3-2-6 2zm-8 0l5-1-2-2-6 2zm61 0l5-1-3-1-5 1z"/><path class=c35 d="M918 140l6-2-3 1-6 1zm-5 2l5-2-3 0-5 2z"/><path class=c37 d="M921 138l6-2-3 2-6 2z"/><path class=c38 d="M927 136l5-2-3 2-5 2z"/><path class=c41 d="M929 133l6-3-3 4-5 2z"/><path class=c46 d="M938 126l5-2-3 5-5 1z"/><path class=c51 d="M946 118l5-1-2 5-6 2z"/><path class=c54 d="M960 112l0 29-3-1 0-23z"/><path class=c56 d="M954 112l6 0-3 5-6 0z"/><path class=c58 d="M962 107l0 35-2-1 0-29z"/><path class=c34 d="M836 143l5-1-3-2-5 2zm60 1l6-2-3-1-6 1zm-8 0l5-2-2-1-6 2zm-8 0l5-1-3-2-5 2zm-8 0l5-1-3-2-5 2zm-9 0l6-1-3-2-6 2zm-36 0l6-2 0 0-6 2zm28 1l5-2-2-1-6 1zm-8 0l5-2-3-1-5 1zm-9 0l6-2-3-1-5 1zm61 0l6-2-3-1-6 2zm-69 0l6-2-3-1-6 2zm61 0l5-1-3-2-5 2zm-8 1l5-2-3-1-5 1zm-9 0l6-2-3-1-5 1z"/><path class=c35 d="M907 144l6-2-3 0-5 1z"/><path class=c37 d="M916 141l5-3-3 2-5 2z"/><path class=c40 d="M924 135l5-2-2 3-6 2z"/><path class=c45 d="M932 128l6-2-3 4-6 3z"/><path class=c49 d="M935 124l5-4-2 6-6 2z"/><path class=c51 d="M940 120l6-2-3 6-5 2z"/><path class=c56 d="M949 112l5 0-3 5-5 1zm-6 3l6-3-3 6-6 2z"/><path class=c60 d="M957 106l5 1-2 5-6 0z"/><path class=c61 d="M952 107l5-1-3 6-5 0z"/><path class=c62 d="M965 103l0 41-3-2 0-35z"/><path class=c63 d="M960 102l5 1-3 4-5-1zm8-2l0 45-3-1 0-41z"/><path class=c34 d="M866 146l6-2-3-1-6 1zm-8 0l5-2-3-1-5 2zm-36-1l5-1 0 0-5 1zm28 1l5-1-3-2-5 2zm-9 0l6-1-3-2-6 2zm61 0l5-2-2-1-6 2zm-69 1l5-2-2-2-6 2zm61 0l5-2-3-1-5 1zm-69 0l5-2-3-1-5 1zm60 0l6-2-3-1-5 2zm-8 0l6-1-3-2-6 2zm-8 0l5-1-2-2-6 2zm-8 0l5-1-3-2-5 2zm-9 1l6-2-3-1-5 1zm-36-1l6-2 0 0-6 2zm28 1l6-2-3-1-6 1z"/><path class=c36 d="M910 143l6-2-3 1-6 2zm-5 2l5-2-3 1-5 2z"/><path class=c38 d="M913 141l5-3-2 3-6 2z"/><path class=c39 d="M918 138l6-3-3 3-5 3z"/><path class=c42 d="M921 135l6-3-3 3-6 3z"/><path class=c44 d="M927 132l5-4-3 5-5 2z"/><path class=c48 d="M930 128l5-4-3 4-5 4z"/><path class=c54 d="M938 118l5-3-3 5-5 4z"/><path class=c60 d="M946 110l6-3-3 5-6 3z"/><path class=c63 d="M963 99l5 1-3 3-5-1zm-9 3l6 0-3 4-5 1zm17-3l0 48-3-2 0-45zm-6-2l6 2-3 1-5-1z"/><path class=c34 d="M836 148l5-2-3-1-5 2zm61-1l5-1-3-1-5 2zm-69 1l5-1-3-2-5 2zm60 0l6-1-3-2-6 2zm-69 0l6-1-3-2-6 2zm61 1l5-2-2-1-6 1zm-8 0l5-2-3-1-5 1zm-9 0l6-2-3-1-5 1zm-8 0l6-2-3-1-6 2zm-8 0l5-1-2-2-6 2zm-36-1l5-1 0 0-5 1zm28 1l5-1-3-2-5 2zm-9 1l6-2-3-1-5 1zm61-1l6-2-3 0-6 1zm-69 1l6-2-3-1-6 1zm61 0l5-2-3-1-5 2z"/><path class=c35 d="M899 147l6-2-3 1-5 1z"/><path class=c37 d="M908 144l5-3-3 2-5 2z"/><path class=c41 d="M916 139l5-4-3 3-5 3z"/><path class=c46 d="M924 132l6-4-3 4-6 3z"/><path class=c52 d="M932 123l6-5-3 6-5 4z"/><path class=c58 d="M941 114l5-4-3 5-5 3z"/><path class=c62 d="M943 110l6-5-3 5-5 4z"/><path class=c63 d="M957 99l6 0-3 3-6 0zm-8 6l5-3-2 5-6 3zm25-6l0 49-3-1 0-48zm-6-2l6 2-3 0-6-2zm-8 0l5 0-2 2-6 0zm-8 5l5-3-3 3-5 3zm25-1l0 48-3-1 0-49z"/><path class=c34 d="M814 150l5-2-3-1-5 1zm61 0l5-1-3-2-5 2zm-9 0l6-1-3-2-6 2zm-8 1l5-2-2-2-6 2zm-8 0l5-2-3-1-5 1zm-9 0l6-2-3-1-5 1zm-35-1l5-2 0 0-5 2zm27 1l6-2-3-1-6 2zm-8 0l5-1-2-2-6 2zm61 0l5-2-3-1-5 2zm-69 0l5-1-3-2-5 2zm60 1l6-2-3-1-5 1zm-69-1l6-1-3-2-5 2zm61 1l6-2-3-1-6 1zm-8 0l5-2-3-1-5 2zm-8 0l5-1-3-2-5 2z"/><path class=c35 d="M894 149l5-2-2 0-6 2z"/><path class=c37 d="M902 147l6-3-3 1-6 2z"/><path class=c39 d="M910 143l6-4-3 2-5 3z"/><path class=c42 d="M913 141l6-4-3 2-6 4z"/><path class=c44 d="M919 137l5-5-3 3-5 4z"/><path class=c47 d="M921 134l6-6-3 4-5 5z"/><path class=c49 d="M927 128l5-5-2 5-6 4z"/><path class=c53 d="M930 125l5-6-3 4-5 5z"/><path class=c56 d="M935 119l6-5-3 4-6 5z"/><path class=c59 d="M938 116l5-6-2 4-6 5z"/><path class=c63 d="M971 99l6 2-3-2-6-2zm-8-2l5 0-3 0-5 0zm-8 3l5-3-3 2-5 3zm-9 7l6-5-3 3-6 5zm33-3l0 47-2-2 0-48zm-5-2l5 2-2-3-6-2z"/><path class=c34 d="M844 152l6-1-3-2-6 2zm-8 0l5-1-2-2-6 2zm-36 0l6-2 0 0-6 2zm28 1l5-2-3-1-5 1zm-9 0l6-2-3-1-5 1zm61 0l6-2-3-1-6 2zm-69 0l6-2-3-1-6 1zm61 0l5-1-2-2-6 2zm-69 0l5-2-2-1-6 2zm61 0l5-1-3-2-5 2zm-9 1l6-2-3-1-5 1zm-8 0l6-2-3-1-6 1zm-8 0l5-2-3-1-5 1zm-8 0l5-2-3-1-5 2zm-36-1l5-1 0 0-5 1zm27 1l6-1-3-2-6 2zm61-1l5-2-2 0-6 2z"/><path class=c35 d="M888 151l6-2-3 0-5 2z"/><path class=c36 d="M897 149l5-2-3 0-5 2zm-6 3l6-3-3 0-6 2z"/><path class=c37 d="M900 149l5-3-3 1-5 2z"/><path class=c38 d="M905 146l5-3-2 1-6 3z"/><path class=c40 d="M908 145l5-4-3 2-5 3z"/><path class=c44 d="M916 139l5-5-2 3-6 4z"/><path class=c49 d="M924 131l6-6-3 3-6 6z"/><path class=c55 d="M933 122l5-6-3 3-5 6z"/><path class=c61 d="M985 115l0 39-3-2 0-43z"/><path class=c62 d="M941 113l5-6-3 3-5 6z"/><path class=c63 d="M966 99l5 0-3-2-5 0zm-9 1l6-3-3 0-5 3zm-8 5l6-5-3 2-6 5zm33 4l0 43-3-1 0-47zm-5-1l5 1-3-5-5-2zm-9-5l6-1-3-3-5 0zm-8-1l6-3-3-2-6 3zm-8 3l5-5-2 0-6 5zm-8 7l5-7-3 2-5 6z"/><path class=c34 d="M814 154l5-1-2-2-6 2zm61 0l5-1-3-1-5 1zm-69 0l5-1-3-2-5 2zm60 1l6-2-3-1-5 1zm-68 0l5-2-3-1-5 1zm60 0l6-2-3-1-6 2zm-8 0l5-1-2-2-6 2zm-8 0l5-1-3-2-5 2zm-9 0l6-1-3-2-5 2zm-8 1l6-2-3-1-6 1zm-36-1l6-2 0 0-6 2zm28 1l5-2-3-1-5 1zm61-1l5-2-3 0-5 1zm-69 1l5-2-3-1-5 1zm60 0l6-2-3-1-6 2zm-69 0l6-2-3-1-5 2zm61 0l5-1-2-2-6 2zm-69 0l6-1-3-2-6 2zm61 1l5-2-3-1-5 1z"/><path class=c35 d="M886 154l5-2-3-1-5 2z"/><path class=c37 d="M894 151l6-2-3 0-6 3z"/><path class=c39 d="M902 148l6-3-3 1-5 3z"/><path class=c42 d="M911 144l5-5-3 2-5 4z"/><path class=c44 d="M913 143l6-6-3 2-5 5z"/><path class=c46 d="M919 137l5-6-3 3-5 5z"/><path class=c48 d="M922 136l5-7-3 2-5 6z"/><path class=c52 d="M927 129l6-7-3 3-6 6z"/><path class=c54 d="M930 128l5-7-2 1-6 7z"/><path class=c56 d="M988 123l0 32-3-1 0-39z"/><path class=c58 d="M935 121l6-8-3 3-5 6zm47 1l6 1-3-8-5-1z"/><path class=c59 d="M938 120l6-8-3 1-6 8z"/><path class=c63 d="M980 114l5 1-3-6-5-1zm-9-6l6 0-3-6-6 1zm-8-2l5-3-2-4-6 3zm-8 1l5-5-3-2-5 5zm-9 5l6-7-3 0-5 7zm28 3l6-1-3-6-6 0z"/><path class=c34 d="M844 157l6-2-3-1-5 1zm-8 0l6-2-3-1-6 1zm-8 0l5-2-2-1-6 2zm-8 0l5-1-3-2-5 2zm-36-1l5-1 0 0-5 1zm27 1l6-1-3-2-5 2zm61 0l6-2-3-1-6 2zm-69 0l6-1-3-2-6 2zm61 0l5-1-3-1-5 1zm-69 1l5-2-2-1-6 1zm61 0l5-2-3-1-5 2zm-69 0l5-2-3-1-5 1zm60 0l6-1-3-2-6 2zm-8 0l5-1-2-2-6 2zm-8 0l5-1-3-2-5 2zm-8 1l5-2-3-1-5 1z"/><path class=c35 d="M880 155l6-1-3-1-5 2z"/><path class=c36 d="M889 154l5-3-3 1-5 2zm-6 2l6-2-3 0-6 1z"/><path class=c37 d="M891 154l6-3-3 0-5 3z"/><path class=c38 d="M897 151l5-3-2 1-6 2z"/><path class=c39 d="M900 151l5-3-3 0-5 3z"/><path class=c40 d="M905 148l6-4-3 1-6 3z"/><path class=c42 d="M908 147l5-4-2 1-6 4z"/><path class=c45 d="M916 142l6-6-3 1-6 6z"/><path class=c47 d="M993 138l0 20-2-1 0-26z"/><path class=c50 d="M925 135l5-7-3 1-5 7z"/><path class=c52 d="M991 131l0 26-3-2 0-32z"/><path class=c53 d="M985 130l6 1-3-8-6-1z"/><path class=c55 d="M933 128l5-8-3 1-5 7z"/><path class=c59 d="M977 123l5-1-2-8-6 1z"/><path class=c60 d="M941 120l5-8-2 0-6 8zm3 2l5-8-3-2-5 8z"/><path class=c63 d="M966 111l5-3-3-5-5 3zm-8 0l5-5-3-4-5 5zm-9 3l6-7-3-2-6 7zm20 4l5-3-3-7-5 3zm-9-2l6-5-3-5-5 5zm-8 1l6-6-3-4-6 7z"/><path class=c34 d="M814 159l6-2-3-1-6 1zm-36-1l6-2 0 0-6 2zm28 1l5-2-2-1-6 1zm61-1l5-1-3-1-5 1zm-69 1l5-2-3-1-5 2zm60 0l6-2-3-1-5 2zm-69 0l6-1-3-2-5 2zm61 1l6-2-3-1-6 1zm-69-1l6-1-3-2-6 2zm61 1l5-2-3-1-5 1zm-8 0l5-2-3-1-5 1zm-9 0l6-2-3-1-5 2zm-8 0l6-1-3-2-6 2zm-8 0l5-1-3-2-5 2zm-36-1l5-1 0 0-5 1zm28 2l5-2-3-2-5 2zm60-1l6-2-3-1-6 2zm-69 1l6-2-3-1-6 1zm61 0l5-2-2-1-6 2z"/><path class=c35 d="M875 157l5-2-2 0-6 2zm-6 2l6-2-3 0-5 1z"/><path class=c36 d="M878 158l5-2-3-1-5 2z"/><path class=c37 d="M886 156l5-2-2 0-6 2z"/><path class=c38 d="M894 154l6-3-3 0-6 3z"/><path class=c40 d="M903 151l5-4-3 1-5 3z"/><path class=c43 d="M911 147l5-5-3 1-5 4zm85-1l0 13-3-1 0-20z"/><path class=c44 d="M991 147l5-1-3-8-5 1zm-77 0l5-6-3 1-5 5z"/><path class=c46 d="M919 141l6-6-3 1-6 6z"/><path class=c47 d="M922 142l5-7-2 0-6 6z"/><path class=c48 d="M988 139l5-1-2-7-6-1z"/><path class=c49 d="M983 140l5-1-3-9-5 1z"/><path class=c51 d="M927 135l6-7-3 0-5 7zm3 1l6-8-3 0-6 7z"/><path class=c54 d="M980 131l5-1-3-8-5 1z"/><path class=c55 d="M938 130l6-8-3-2-5 8z"/><path class=c56 d="M936 128l5-8-3 0-5 8z"/><path class=c58 d="M971 125l6-2-3-8-5 3z"/><path class=c59 d="M947 125l5-8-3-3-5 8z"/><path class=c61 d="M963 122l6-4-3-7-6 5zm-8 0l5-6-2-5-6 6z"/><path class=c34 d="M784 161l5-2-2-1-6 1zm61 0l5-1-3-2-5 2zm-69 0l5-2-3-1-5 1zm60 0l6-1-3-2-5 2zm-8 1l6-2-3-2-6 2zm-8 0l5-2-2-1-6 1zm-8 0l5-2-3-1-5 1zm-9 0l6-2-3-1-5 2zm-36-1l6-2 0 0-6 2zm28 1l6-1-3-2-6 2zm61 0l5-2-3-1-5 2zm-69 0l5-1-3-2-5 2zm61 0l5-1-3-1-5 1zm-69 0l5-1-3-2-5 2zm60 1l6-2-3-1-6 1zm-69 0l6-2-3-2-6 2zm61 0l5-2-2-1-6 2z"/><path class=c35 d="M864 161l5-2-2-1-6 2z"/><path class=c36 d="M881 158l5-2-3 0-5 2zm-9 1l6-1-3-1-6 2zm130-1l0 4-3-1 0-8z"/><path class=c38 d="M889 156l5-2-3 0-5 2z"/><path class=c39 d="M999 153l0 8-3-2 0-13zm-102 1l6-3-3 0-6 3zm-5 2l5-2-3 0-5 2z"/><path class=c40 d="M994 154l5-1-3-7-5 1zm-94 0l5-3-2 0-6 3z"/><path class=c41 d="M905 151l6-4-3 0-5 4z"/><path class=c42 d="M908 151l6-4-3 0-6 4z"/><path class=c44 d="M985 148l6-1-3-8-5 1z"/><path class=c45 d="M916 147l6-5-3-1-5 6z"/><path class=c48 d="M925 143l5-7-3-1-5 7zm52-1l6-2-3-9-6 3z"/><path class=c51 d="M933 138l5-8-2-2-6 8z"/><path class=c52 d="M969 137l5-3-3-9-5 4z"/><path class=c53 d="M974 134l6-3-3-8-6 2z"/><path class=c54 d="M941 133l6-8-3-3-6 8zm20 1l5-5-3-7-5 6zm-9 0l6-6-3-6-5 7z"/><path class=c56 d="M966 129l5-4-2-7-6 4z"/><path class=c57 d="M950 129l5-7-3-5-5 8z"/><path class=c58 d="M958 128l5-6-3-6-5 6z"/><path class=c34 d="M823 163l5-1-3-2-5 2zm-9 0l6-1-3-2-5 2zm-8 0l6-1-3-2-6 2zm-8 1l5-2-2-1-6 1zm-36-1l5-2 0 0-5 2zm28 1l5-2-3-1-5 1zm60-1l6-1-3-1-5 1zm155 1l0 0-3-2 0-4zm-224 0l6-2-3-1-5 1zm61 0l6-2-3-1-6 2zm-69 0l6-2-3-1-6 2zm61 0l5-1-3-2-5 2zm-69 0l5-1-3-2-5 2zm61 1l5-2-3-1-5 1zm-9 0l6-2-3-1-6 1zm182 0l6-1-3-6-6 2zm-190 0l5-2-2-1-6 1zm-8 0l5-2-3-1-5 2z"/><path class=c35 d="M859 162l5-1-3-1-5 2zm2 1l6-2-3 0-5 1z"/><path class=c36 d="M875 160l6-2-3 0-6 1zm-8 1l5-2-3 0-5 2zm3 0l5-1-3-1-5 2z"/><path class=c37 d="M883 158l6-2-3 0-5 2zm113 2l6-2-3-5-5 1zm-118 0l5-2-2 0-6 2zm113 1l5-1-2-6-6 1z"/><path class=c38 d="M886 158l6-2-3 0-6 2z"/><path class=c39 d="M894 157l6-3-3 0-5 2z"/><path class=c40 d="M988 155l6-1-3-7-6 1zm-5 2l5-2-3-7-5 2z"/><path class=c41 d="M903 154l5-3-3 0-5 3z"/><path class=c43 d="M911 152l5-5-2 0-6 4z"/><path class=c44 d="M980 150l5-2-2-8-6 2z"/><path class=c45 d="M919 148l6-5-3-1-6 5zm3 2l6-6-3-1-6 5z"/><path class=c47 d="M972 145l5-3-3-8-5 3zm-42 1l6-6-3-2-5 6z"/><path class=c48 d="M928 144l5-6-3-2-5 7z"/><path class=c49 d="M939 143l5-7-3-3-5 7z"/><path class=c50 d="M936 140l5-7-3-3-5 8zm27 1l6-4-3-8-5 5z"/><path class=c51 d="M955 140l6-6-3-6-6 6zm-8 1l5-7-2-5-6 7z"/><path class=c53 d="M944 136l6-7-3-4-6 8z"/><path class=c34 d="M792 165l6-1-3-2-5 2zm216 0l0 0-3-1 0 0zm-251-1l5-1 0 0-5 1zm27 1l6-1-3-2-6 2zm61 0l5-2-2-1-6 2zm-69 0l5-1-2-2-6 2zm61 0l5-1-3-1-5 1zm-69 1l5-2-3-1-5 1zm60 0l6-2-3-1-5 2zm-69 0l6-2-3-1-5 1zm61 0l6-1-3-2-6 2zm182 1l6-2-3-1-6 1zm-190-1l5-1-3-2-5 2zm182 1l5-2-3-5-5 1zm-190-1l5-1-3-2-5 2zm-9 1l6-2-3-1-6 1zm215-1l0 0-2-1 0 0zm-223 1l5-2-2-1-6 1zm-36-1l6-2 0 0-6 2zm28 1l5-2-3-1-5 1zm60-1l6-1-3-1-5 1zm-69 1l6-2-3-1-5 2zm61 0l6-2-3-1-6 2z"/><path class=c35 d="M853 164l6-2-3 0-6 1zm3 0l5-1-2-1-6 2zm-8 1l5-1-3-1-5 2z"/><path class=c36 d="M864 163l6-2-3 0-6 2z"/><path class=c37 d="M873 162l5-2-3 0-5 1zm113 1l5-2-3-6-5 2z"/><path class=c38 d="M881 160l5-2-3 0-5 2z"/><path class=c39 d="M889 159l5-2-2-1-6 2zm88 0l6-2-3-7-6 2zm-85 0l5-2-3 0-5 2z"/><path class=c40 d="M897 157l6-3-3 0-6 3zm3 1l6-3-3-1-6 3z"/><path class=c41 d="M906 155l5-3-3-1-5 3zm2 1l6-3-3-1-5 3z"/><path class=c42 d="M969 156l5-4-2-7-6 4z"/><path class=c43 d="M914 153l5-5-3-1-5 5zm60-1l6-2-3-8-5 3zm-57 2l5-4-3-2-5 5z"/><path class=c44 d="M925 152l5-6-2-2-6 6zm36 1l5-4-3-8-5 5z"/><path class=c45 d="M953 151l5-5-3-6-5 6z"/><path class=c46 d="M966 149l6-4-3-8-6 4zm-33 0l6-6-3-3-6 6z"/><path class=c47 d="M941 147l6-6-3-5-5 7z"/><path class=c48 d="M958 146l5-5-2-7-6 6zm-8 0l5-6-3-6-5 7z"/><path class=c34 d="M762 167l6-1-3-2-6 2zm61 1l5-2-2-1-6 1zm182 0l5-2-2-1-6 2zm-251-1l5-1-2-2-6 2zm61 1l5-2-3-1-5 1zm182 0l5-1-3-2-5 2zm-191 0l6-2-3-1-5 1zm182 0l6-1-3-6-5 2zm-190 0l6-2-3-1-6 2zm215 0l0 0-3-2 0 0zm-223 0l5-1-3-2-5 2zm-8 0l5-1-3-2-5 2zm-36 0l5-2 0 0-5 1zm27 0l6-1-3-2-6 2zm61 0l5-2-2-1-6 2zm-69 1l5-2-2-1-6 1zm61 0l5-2-3-1-5 2zm182 0l5-1-3-2-5 2zm-251 0l5-2-3-1-5 1zm60 0l6-1-3-2-5 2zm182 1l6-2-3-1-5 1zm-250-1l5-2-3-1-5 2zm60 0l6-1-3-2-6 2zm182 1l6-2-3-1-6 1zm-190-1l5-1-2-2-6 2zm182 1l5-2-2-5-6 2zm33-1l0 0-3-1 0 0z"/><path class=c35 d="M851 166l5-2-3 0-5 1zm-9 1l6-2-3 0-6 1z"/><path class=c36 d="M859 165l5-2-3 0-5 1zm121 0l6-2-3-6-6 2z"/><path class=c37 d="M867 163l6-1-3-1-6 2zm-5 2l5-2-3 0-5 2z"/><path class=c38 d="M875 162l6-2-3 0-5 2zm3 1l6-2-3-1-6 2zm-8 1l5-2-2 0-6 1z"/><path class=c39 d="M884 161l5-2-3-1-5 2zm88 1l5-3-3-7-5 4zm-86-1l6-2-3 0-5 2z"/><path class=c40 d="M895 160l5-2-3-1-5 2z"/><path class=c41 d="M911 158l6-4-3-1-6 3zm-8 1l5-3-2-1-6 3zm61 0l5-3-3-7-5 4z"/><path class=c42 d="M919 156l6-4-3-2-5 4zm36 1l6-4-3-7-5 5zm-24 0l5-4-3-4-5 5zm-9 2l6-5-3-2-6 4z"/><path class=c43 d="M928 154l5-5-3-3-5 6zm19 2l6-5-3-5-6 6zm-8 1l5-5-3-5-5 6z"/><path class=c45 d="M944 152l6-6-3-5-6 6zm-8 1l5-6-2-4-6 6z"/><path class=c34 d="M793 170l5-2-3-1-5 1zm-9 0l6-2-3-1-5 1zm-8 0l6-2-3-1-6 1zm-36 1l6-3 0-1-6 2zm28-1l5-2-3-1-5 2zm61 0l5-2-3-1-5 2zm182 1l5-2-3-1-5 1zm-251-1l5-1-3-2-5 2zm60 0l6-1-3-1-6 1zm182 1l6-2-3-1-6 2zm-251-1l6-1-3-2-5 2zm61 1l5-2-2-1-6 1zm182 0l5-1-2-2-6 2zm-251-1l6-1-3-1-6 3zm61 1l5-2-3-1-5 1zm182 1l5-2-3-2-5 2zm33-1l0 0-3-2 0 0zm-223 0l5-2-3-1-5 2zm182 1l5-2-3-5-5 2zm-191-1l6-1-3-2-6 2zm-8 0l5-1-2-2-6 2zm-8 1l5-2-3-2-5 2zm242 0l6-1-3-2-5 2z"/><path class=c35 d="M845 167l6-1-3-1-6 2zm-8 2l5-2-3-1-5 2zm3 0l5-2-3 0-5 2zm-9 1l6-1-3-1-5 2z"/><path class=c36 d="M853 166l6-1-3-1-5 2zm122 1l5-2-3-6-5 3zm-127 1l5-2-2 0-6 1zm121 1l6-2-3-5-6 2z"/><path class=c37 d="M856 167l6-2-3 0-6 1zm105 0l5-3-2-5-6 3z"/><path class=c38 d="M966 164l6-2-3-6-5 3zm-93 0l5-1-3-1-5 2zm-9 1l6-1-3-1-5 2zm89 1l5-4-3-5-5 4z"/><path class=c39 d="M881 163l5-2-2 0-6 2z"/><path class=c40 d="M906 161l5-3-3-2-5 3zm-8 1l5-3-3-1-5 2zm60 0l6-3-3-6-6 4zm-69 0l6-2-3-1-6 2zm28 0l5-3-3-3-5 4zm-8 1l5-3-3-2-5 3zm-9 0l6-2-3-2-5 3zm-8 1l6-2-3-2-6 2z"/><path class=c41 d="M914 160l5-4-2-2-6 4zm36 1l5-4-2-6-6 5zm-8 0l5-5-3-4-5 5zm-9 0l6-4-3-4-5 4zm-8 0l6-4-3-3-6 5z"/><path class=c34 d="M735 178l5-7 0-2-5 2zm27-6l6-2-3-1-5 1zm61-1l6-1-3-1-6 1zm182 2l6-2-3-2-6 2zm-251-1l6-2-3-1-6 1zm61 0l5-2-3-1-5 2zm182 1l5-2-3-1-5 1zm-251-1l5-2-2-1-6 1zm61 0l5-1-3-2-5 2zm182 1l5-2-3-1-5 2zm33-1l0 0-3-1 0 0zm-284 0l5-2-3 1-5 7zm60 1l6-2-3-2-5 2zm182 0l6-1-3-2-5 2zm-190 0l6-2-3-1-6 1zm182 0l6-1-3-5-6 2zm-190 0l5-2-3-1-5 1zm-8 0l5-2-3-1-5 2zm242 1l6-2-3-1-6 1zm-251-1l6-1-3-2-6 2zm243 1l5-2-2-1-6 2zm-279 12l6-8 0-7-6 1zm28-13l5-1-2-2-6 2zm61 0l5-2-3-1-5 2zm182 1l5-1-3-2-5 2zm-251-1l5-1-3-2-5 2zm60 0l6-1-3-1-5 1zm182 1l6-1-3-2-5 2zm33-1l0 0-2-1 0 0z"/><path class=c35 d="M964 171l5-2-3-5-5 3zm-138 1l5-2-2 0-6 1z"/><path class=c36 d="M842 169l6-1-3-1-5 2zm-8 2l6-2-3 0-6 1zm122-1l5-3-3-5-5 4z"/><path class=c37 d="M851 168l5-1-3-1-5 2zm96 1l6-3-3-5-6 4z"/><path class=c38 d="M867 166l6-2-3 0-6 1zm-8 1l5-2-2 0-6 2zm80 1l5-3-2-4-6 3zm-8-1l5-3-3-3-5 3z"/><path class=c39 d="M884 164l5-2-3-1-5 2zm60 1l6-4-3-5-5 5zm-68 0l5-2-3 0-5 1zm2 1l6-2-3-1-5 2zm-8 1l6-2-3-1-6 2z"/><path class=c40 d="M936 164l6-3-3-4-6 4zm-8 0l5-3-2-4-6 4zm-8 1l5-4-3-2-5 3zm-9 0l6-3-3-2-5 3zm-8 0l6-2-3-2-6 2zm-8 0l5-2-2-1-6 2zm-8 0l5-1-3-2-5 2z"/><path class=c34 d="M740 173l6-1-3-2-5 2zm61 1l6-2-3-1-6 2zm182 1l6-2-3-1-6 1zm-251-1l6-2-3 6-6 8zm61 0l5-1-2-2-6 2zm182 1l5-2-2-1-6 1zm-190-1l5-1-3-2-5 2zm182 1l5-2-3-4-5 2zm-191-1l6-1-3-2-5 2zm243 1l5-2-2-1-6 2zm-251 0l6-2-3-1-6 1zm243 0l5-1-3-2-5 2zm-251 0l5-2-3-1-5 1zm242 1l6-2-3-1-5 1zm-278 20l5-10 0-14-5 2zm28-21l5-2-3-1-5 1zm60-1l6-1-3-1-6 1zm182 2l6-2-3-1-6 1zm33-1l0 0-3-2 0 0zm-284 0l6-2-3-1-6 1zm61 0l5-2-2-1-6 2zm182 1l5-2-2-1-6 2zm-251-1l5-2-2-1-6 2zm61 1l5-2-3-1-5 1zm182 0l5-1-3-2-5 2zm-251-1l5-1-3 12-5 10zm60 1l6-2-3-1-5 1zm182 0l6-1-3-2-5 2zm-190 0l6-2-3-1-6 1zm182 1l6-2-3-4-6 2zm61 0l5-2-3-2-5 2z"/><path class=c35 d="M958 173l6-2-3-4-5 3zm-137 0l5-1-3-1-5 2z"/><path class=c36 d="M837 171l5-2-2 0-6 2zm-8 1l5-1-3-1-5 2zm121 0l6-2-3-4-6 3z"/><path class=c37 d="M845 170l6-2-3 0-6 1zm97 1l5-2-3-4-5 3zm-8 0l5-3-3-4-5 3zm-94 0l5-1-3-1-5 2z"/><path class=c38 d="M862 168l5-2-3-1-5 2zm-8 1l5-2-3 0-5 1zm71 1l6-3-3-3-5 3zm-69-1l6-1-3-1-5 2zm61 1l6-3-3-2-6 2zm-69 0l6-1-3-1-6 2z"/><path class=c39 d="M923 167l5-3-3-3-5 4zm-9 0l6-2-3-3-6 3zm-8 0l5-2-2-2-6 2zm-8 0l5-2-3-2-5 2zm-9 0l6-2-3-1-5 1zm-8 0l6-2-3-1-6 2zm-8 1l5-2-2-1-6 2zm-8 0l5-1-3-1-5 2zm44 1l5-2-3-2-5 2zm-8 0l5-2-3-2-5 2z"/><path class=c34 d="M771 176l5-2-2-1-6 2zm243 1l5-2-3-1-5 1zm-251-1l5-1-3-2-5 2zm242 1l6-2-3-1-6 2zm-251-1l6-1-3-2-5 2zm243 1l5-1-2-2-6 2zm33-1l0 0-3-1 0 0zm-312 29l6-9 0-22-6 1zm28-29l6-1-3-2-6 2zm61 0l5-2-3-1-5 2zm182 1l5-1-3-2-5 2zm-251 0l5-2-3-2-5 2zm61 0l5-2-3-1-5 2zm182 1l5-2-3-1-5 1zm-251-1l5-2-3-1-5 1zm60 0l6-1-3-2-6 2zm182 1l6-2-3-1-6 1zm-251-1l6-2-3 21-6 9zm61 0l5-1-2-2-6 2zm182 1l5-2-2-1-6 2zm61 0l5-2-3-1-5 2zm-251-1l5-1-3-2-5 2zm182 1l5-1-3-4-5 2zm60 0l6-1-3-2-5 2zm-251 0l6-2-3-1-5 1zm183-1l5-2-3-3-5 2zm60 1l6-1-3-2-6 2zm-251 0l6-2-3-1-6 1zm243 1l5-2-3-1-5 1zm33-1l0 0-3-2 0 0zm-284 0l5-2-2-1-6 1zm243 1l5-2-3-1-5 1zm-279 35l5-9 0-30-5 2z"/><path class=c35 d="M953 175l5-2-2-3-6 2zm-8-1l5-2-3-3-5 2zm-130 1l6-2-3 0-6 1zm124 2l6-3-3-3-6 3zm-129-1l5-1-3-1-5 2z"/><path class=c36 d="M832 173l5-2-3 0-5 1zm-9 1l6-2-3 0-5 1zm113 0l6-3-3-3-5 3zm-110 0l6-1-3-1-6 2zm-8 1l5-1-2-1-6 2zm113 1l5-2-2-3-6 2z"/><path class=c37 d="M928 173l6-2-3-4-6 3zm-8-1l5-2-2-3-6 3zm-86 1l6-2-3 0-5 2z"/><path class=c38 d="M851 171l5-2-2 0-6 1zm61 1l5-2-3-3-5 2zm-69 0l5-2-3 0-5 1zm60-1l6-2-3-2-5 2z"/><path class=c39 d="M892 169l6-2-3-2-6 2zm-8 0l5-2-2-2-6 2zm-8 0l5-2-3-1-5 2zm-9 0l6-1-3-1-5 1zm-8 1l6-2-3 0-6 1zm36 1l6-2-3-2-6 2zm-8-1l5-1-3-2-5 2zm-8 0l5-1-3-2-5 2zm-9 0l6-1-3-1-6 1z"/><path class=c34 d="M741 178l5-2-3-1-5 2zm242 1l6-2-3-1-5 2zm-251-1l6-1-3-2-5 2zm61 0l6-1-3-1-6 1zm182 1l6-1-3-2-6 2zm-251-1l6-1-3-2-6 2zm61 1l5-2-3-1-5 1zm182 0l5-1-3-2-5 2zm60 0l6-1-3-2-5 2zm-311-1l5-1-3 28-5 9zm61 1l5-2-3-1-5 1zm182 1l5-2-3-1-5 1zm60 0l6-2-3-1-6 1zm-251-1l6-2-3-1-6 2zm182 1l6-2-3-3-5 2zm61 0l5-2-2-1-6 1zm-251-1l5-1-2-2-6 2zm182 0l6-2-3-3-6 3zm61 1l5-2-3-1-5 2zm33-1l0 0-3-1 0 0zm-284 0l5-1-3-2-5 2zm242 1l6-1-3-2-5 2zm-251-1l6-1-3-2-5 2zm243 1l6-1-3-2-6 2zm-278 41l5-7 0-37-5 1zm27-41l6-2-3-1-6 1zm243 1l5-2-2-1-6 1zm-251-1l5-2-2-1-6 1zm61-1l5-1-3-1-5 2zm182 2l5-2-3-1-5 1zm60 0l6-2-3-1-6 1zm-311-1l5-2-3-1-5 1zm60 0l6-1-3-2-5 2zm182 1l6-2-3-1-5 2zm61 0l5-2-2-1-6 2z"/><path class=c35 d="M801 177l6-1-3-1-5 2zm133 1l5-1-3-3-5 2zm-130-1l6-1-3 0-6 1zm122 1l5-2-3-3-5 2zm-130 0l5-1-2 0-6 1z"/><path class=c36 d="M923 175l5-2-3-3-5 2zm-111 1l6-1-3 0-5 1zm105 1l6-2-3-3-6 2z"/><path class=c37 d="M914 174l6-2-3-2-5 2zm-85 0l5-1-2 0-6 1zm-8 1l5-1-3 0-5 1zm88 1l5-2-2-2-6 2zm-8-1l5-1-3-3-5 2z"/><path class=c38 d="M846 172l5-1-3-1-5 2zm60 2l6-2-3-3-6 2zm-69-1l6-1-3-1-6 2zm61 0l5-2-2-2-6 2z"/><path class=c39 d="M862 171l5-2-2-1-6 2zm-8 0l5-1-3-1-5 2zm36 1l5-1-3-2-5 1zm-9 0l6-2-3-1-5 1zm-8 0l6-2-3-1-6 1zm-8 0l5-2-3-1-5 2zm-8 0l5-1-3-1-5 1zm-9 1l6-2-3 0-5 1zm-8 1l6-2-3 0-6 1z"/><path class=c34 d="M710 180l6-2-3 36-5 7zm61 1l6-2-3-2-6 2zm182 0l6-1-3-2-6 2zm61 0l5-1-3-2-5 2zm-251 0l5-2-3-1-5 1zm182 1l5-2-2-3-6 2zm61-1l5-1-3-2-5 2zm33 0l0 0-3-2 0 0zm-284 0l5-2-3-1-5 1zm182 0l5-2-3-2-5 1zm60 1l6-2-3-1-6 1zm-251-1l6-2-3-1-6 1zm243 1l5-2-2-1-6 1zm-251-1l5-2-2-1-6 2zm243 1l5-2-3-1-5 2zm-279 44l6-5 0-43-6 2zm28-45l5-1-3-2-5 2zm242 1l6-1-3-2-5 2zm61 0l6-1-3-2-6 2zm-312-1l6-1-3-2-5 2zm61 0l6-2-3 0-6 1zm182 2l6-2-3-2-6 2zm61-1l5-1-3-2-5 2zm-312-1l6-1-3-2-6 2zm61 1l5-2-2-1-6 2zm182 1l5-2-2-1-6 1zm61 0l5-2-3-1-5 1zm-312-1l5-2-2 41-6 5zm61 0l5-1-3-2-5 2zm182 1l5-2-3-1-5 2zm60 0l6-2-3-1-5 1zm33-1l0 0-2-1 0 0zm-284 0l6-1-3-2-5 2zm182 1l6-1-3-3-5 2zm61 0l6-2-3-1-6 2zm-251-1l6-1-3-2-6 2zm182 1l6-2-3-3-6 2zm61 0l5-1-3-2-5 2z"/><path class=c35 d="M928 180l6-2-3-2-5 2zm-8 0l6-2-3-3-6 2zm-130 0l6-2-3 0-5 1z"/><path class=c36 d="M807 177l5-1-2 0-6 1zm-8 1l5-1-3 0-5 1zm113 1l5-2-3-3-5 2z"/><path class=c37 d="M824 176l5-2-3 0-5 1zm-9 1l6-2-3 0-6 1zm89 1l5-2-3-2-5 1zm-9-1l6-2-3-2-6 2zm-85 0l5 0-3-1-5 1z"/><path class=c38 d="M832 175l5-2-3 0-5 1zm60 0l6-2-3-2-5 1zm-66 1l6-1-3-1-5 2zm61 0l5-1-2-3-6 2zm-69 1l6-1-3-1-6 2z"/><path class=c39 d="M884 174l6-2-3-2-6 2zm-8 0l5-2-2-2-6 2zm-8 0l5-2-3-2-5 2zm-9 0l6-2-3-1-5 1zm-8 0l6-2-3-1-6 2zm-8 1l5-2-2-1-6 2zm-8 0l5-1-3-1-5 2zm44 1l5-2-3-2-5 2zm-8-1l5-1-3-2-5 2z"/><path class=c34 d="M741 183l5-2-3-2-5 2zm243 1l5-2-3-2-5 2zm-251-1l5-2-3-1-5 1zm242 1l6-2-3-1-6 1zm61 0l5-2-2-1-6 1zm-339 46l5-4 0-46-5 2zm27-47l6-2-3-1-6 1zm243 1l5-2-2-1-6 2zm61 0l5-2-3-1-5 1zm-312-1l5-2-2-1-6 1zm61-1l5-1-3-1-5 2zm182 2l5-1-3-2-5 2zm60 0l6-2-3-1-5 2zm-311-1l5-2-3-1-5 2zm61 0l5-1-3-1-5 1zm182 1l5-1-3-2-5 2zm60 0l6-1-3-2-6 2zm33-1l0 0-3-1 0 0zm-344 48l5-49-3 44-5 4zm60-47l6-2-3-1-6 1zm182 1l6-2-3-1-6 1zm61 0l5-2-2-2-6 2zm-251-1l5-2-2-1-6 1zm182 1l5-2-2-2-6 2zm61 0l5-2-3-1-5 1zm-251-1l5-2-3-1-5 2zm182 0l5-1-3-3-5 2zm60 1l6-2-3-1-5 2zm-251-1l6-1-3-2-5 2zm243 1l6-1-3-2-6 2zm61 0l5-2-3-1-5 2zm-312-1l6-1-3-2-6 2zm243 1l5-1-3-2-5 2zm60 0l6-1-3-2-5 2zm-311-1l5-1-3-2-5 2z"/><path class=c35 d="M923 182l5-2-2-2-6 2zm-8-1l5-1-3-3-5 2zm-130 0l5-1-2-1-6 2zm132 3l6-2-3-2-5 1zm-8-1l6-2-3-2-6 2z"/><path class=c36 d="M793 179l6-1-3 0-6 2zm113 2l6-2-3-3-5 2zm-126 1l5-1-3 0-5 1z"/><path class=c37 d="M802 178l5-1-3 0-5 1zm96 2l6-2-3-3-6 2zm-8-1l5-2-3-2-5 1zm-102 1l5-1-3 1-5 1z"/><path class=c38 d="M882 178l5-2-3-2-5 2zm-78 0l6-1-3 0-5 1zm-8 1l6-1-3 0-6 1z"/><path class=c39 d="M862 175l6-1-3-2-6 2zm-8 0l5-1-2-2-6 2zm-8 0l5-1-3-1-5 2zm-9 1l6-1-3-1-5 1zm-8 0l6-1-3 0-6 1zm-8 1l5-1-2 0-6 1zm-8 0l5 0-3 0-5 0zm60 0l6-1-3-2-5 1zm-8 0l6-2-3-1-6 1zm-8 0l5-2-3-1-5 1z"/><path class=c40 d="M849 177l5-2-3-1-5 1zm-9 0l6-2-3 0-6 1z"/><path class=c34 d="M962 186l5-2-3-1-5 1zm60-1l6-1-3-2-6 2zm-311-1l5-1-3-2-5 2zm242 2l6-2-3-1-5 1zm61 0l5-2-2-1-6 1zm33 47l0-48-3-2 0 0zm-345-2l6-48-3-1-5 49zm61-46l6-2-3-1-6 2zm182 1l6-2-3-1-6 2zm61 0l5-2-3-1-5 2zm-251-1l5-1-3-2-5 2zm182 1l5-1-3-2-5 2zm60 0l6-1-3-2-5 2zm-250-1l5-1-3-2-5 2zm182 1l5-1-3-2-5 1zm60 0l6-1-3-2-6 2zm-251 0l6-2-3-1-6 1zm182 0l6-2-3-2-6 2zm61 1l5-2-2-1-6 1zm61 48l5-2-3-50-5 2zm-312-49l5-2-2-1-6 1zm243 1l5-2-3-1-5 1zm60 0l6-2-3-1-6 1zm-311-1l5-2-3-1-5 1zm242 1l6-2-3-1-5 2zm61 0l5-2-2-1-6 1zm-312-1l6-2-3-1-5 1zm243 1l6-1-3-2-6 2zm61 0l5-2-3-1-5 2zm-312 43l6-46-3-1-6 48zm243-43l5-1-2-2-6 2zm61 0l5-1-3-2-5 2zm-251-1l5-1-3-1-5 1zm182 2l5-2-3-1-5 1zm60 0l6-2-3-1-6 1z"/><path class=c35 d="M771 183l6-1-3 0-5 1zm141 2l5-1-2-3-6 2zm-8 0l5-2-3-2-5 1zm-138 0l5-2-2 0-6 2z"/><path class=c36 d="M901 182l5-1-2-3-6 2zm-127 0l6 0-3 0-6 1zm122 2l5-2-3-2-5 1z"/><path class=c37 d="M893 181l5-1-3-3-5 2zm-9-1l6-1-3-3-5 2zm3 3l6-2-3-2-6 1zm-8-1l5-2-2-2-6 2z"/><path class=c38 d="M876 180l6-2-3-2-6 1zm-94 0l6 0-3 1-5 1z"/><path class=c39 d="M868 179l5-2-2-2-6 2zm-8 0l5-2-3-2-5 2zm-69 0l5 0-3 0-5 1z"/><path class=c40 d="M832 177l5-1-2-1-6 1zm-8 0l5-1-3 0-5 1zm-9 0l6 0-3 0-5 0zm-8 0l6 0-3 0-6 1zm-8 1l5 0-2 0-6 1zm52 0l6-1-3-2-5 2zm-8 0l6-1-3-2-6 2zm-8 0l5-1-3-1-5 1zm-8 0l5-1-3-1-5 1z"/><path class=c41 d="M818 177l6 0-3 0-6 0z"/><path class=c34 d="M749 187l6-2-3-1-5 1zm182 1l6-2-3-1-5 1zm61 0l5-2-2-1-6 1zm-251-1l6-2-3-1-6 2zm182 1l6-2-3-2-6 2zm61 0l5-2-3-1-5 2zm-251-1l5-1-3-2-5 2zm182 1l5-2-3-2-5 1zm61 0l5-1-3-2-5 2zm60 48l6-1-3-50-6 2zm-311-49l5-1-3-2-5 2zm242 1l6-1-3-2-6 2zm61 0l5-1-3-2-5 2zm-312-1l6-1-3-2-6 2zm243 2l5-2-2-1-6 1zm61 0l5-2-3-2-5 2zm-312 40l5-43-2-2-6 46zm243-40l5-2-3-1-5 1zm60 0l6-2-3-1-5 1zm-69 0l6-2-3-1-5 2zm61 0l6-2-3-1-6 2zm-251-1l6-2-3-1-6 2zm182 1l6-1-3-2-6 2zm61 0l5-1-3-2-5 2zm-251 0l5-2-2-2-6 2zm182 0l5-1-2-2-6 2zm61 0l5-1-3-2-5 2zm-251 0l5-2-3-1-5 1zm182 1l5-2-3-2-5 2zm60 0l6-2-3-1-5 1zm-251-1l6-2-3-1-5 1zm182 0l6-1-3-3-5 2zm61 1l6-2-3-1-6 1zm61 48l5-2-3-49-5 1z"/><path class=c35 d="M907 187l5-2-3-2-5 2zm-9-1l6-1-3-3-5 2zm-138 0l6-1-3 0-5 1z"/><path class=c36 d="M890 186l6-2-3-3-6 2z"/><path class=c37 d="M769 183l5-1-3 1-5 2zm113 2l5-2-3-3-5 2zm-8-1l5-2-3-2-5 1z"/><path class=c38 d="M871 181l5-1-3-3-5 2zm-6 2l6-2-3-2-6 2z"/><path class=c39 d="M862 181l6-2-3-2-5 2zm-8-1l6-1-3-2-6 1zm-77 0l5 0-2 2-6 0zm80 2l5-1-2-2-6 1zm-8-1l5-1-3-2-5 2z"/><path class=c40 d="M785 178l6 1-3 1-6 0zm61 2l5-2-2-1-6 1zm-8-1l5-1-3-1-5 1z"/><path class=c41 d="M810 177l5 0-2 0-6 0zm-8 0l5 0-3 1-5 0zm-8 0l5 1-3 1-5 0zm35 2l6-1-3-1-5 1zm-8-1l6 0-3-1-6 0z"/><path class=c42 d="M813 177l5 0-3 0-5 0z"/><path class=c43 d="M805 176l5 1-3 0-5 0zm-9-1l6 2-3 1-5-1zm-8 1l6 1-3 2-6-1z"/><path class=c34 d="M719 189l6-2-3-1-6 1zm243 1l5-2-3-1-5 2zm60 0l6-2-3-1-5 2zm-311 37l5-40-3-1-5 43zm243-37l5-1-3-2-5 2zm60 0l6-1-3-2-6 2zm-69 1l6-2-3-2-6 2zm61-1l5-1-2-2-6 2zm-69 1l5-2-2-1-6 1zm61 0l5-2-3-1-5 1zm-251-1l5-2-3-1-5 2zm182 1l5-2-3-1-5 1zm60 0l6-2-3-1-5 1zm-251-1l6-1-3-2-5 2zm183 1l5-2-3-1-5 2zm60 0l6-2-3-1-6 2zm-284-9l0 48 0-48 0 0zm33 8l6-1-3-2-6 2zm182 1l6-1-3-2-6 1zm61 0l5-1-2-2-6 2zm-251-1l5-1-2-2-6 2zm182 1l5-2-2-2-6 2zm61 1l5-2-3-2-5 2zm60 47l6-1-3-50-6 2zm-311-15l5-35-3-2-5 40zm242-32l6-2-3-1-5 1zm61 0l5-2-2-1-6 1zm-69 0l6-2-3-1-6 2zm61 0l5-2-3-1-5 1zm-309-9l0 48-3-1 0-48zm240 9l5-1-3-2-5 2zm60 0l6-2-3-1-5 2z"/><path class=c35 d="M901 189l6-2-3-2-6 1zm-8-1l5-2-2-2-6 2zm-138 0l5-2-2 0-6 2zm141 2l5-1-3-3-5 2zm-9 0l6-2-3-2-5 1z"/><path class=c36 d="M885 187l5-1-3-3-5 2zm-6 2l6-2-3-2-6 1z"/><path class=c37 d="M763 184l6-1-3 2-6 1zm113 2l6-1-3-3-5 2zm-8-1l6-1-3-3-6 2z"/><path class=c38 d="M860 184l5-1-3-2-5 1zm-102 2l5-2-3 2-5 2z"/><path class=c39 d="M852 183l5-1-3-2-5 1z"/><path class=c40 d="M841 181l5-1-3-2-5 1zm-69 0l5-1-3 2-5 1zm71 1l6-1-3-1-5 1zm-77-1l6 0-3 2-6 1z"/><path class=c41 d="M832 180l6-1-3-1-6 1zm3 1l6 0-3-2-6 1z"/><path class=c42 d="M780 178l5 0-3 2-5 0zm44 0l5 1-2-1-6 0zm3 2l5 0-3-1-5-1z"/><path class=c43 d="M816 177l5 1-3-1-5 0zm-42 0l6 1-3 2-5 1z"/><path class=c44 d="M807 175l6 2-3 0-5-1zm12 3l5 0-3 0-5-1z"/><path class=c45 d="M799 174l6 2-3 1-6-2zm-16 1l5 1-3 2-5 0z"/><path class=c46 d="M791 174l5 1-2 2-6-1z"/><path class=c34 d="M932 192l5-1-3-2-5 2zm60 0l6-1-3-2-6 2zm-251-1l6-1-3-1-6 1zm182 2l6-2-3-2-5 2zm61 0l5-2-2-2-6 2zm-251-1l5-2-2-1-6 1zm182 1l6-2-3-1-6 1zm61 0l5-2-3-1-5 1zm-251-1l5-2-3-1-5 1zm182 1l5-2-3-2-5 2zm60 0l6-2-3-1-5 2zm-251 28l6-31-3-1-5 35zm331-36l0 0 0 0 0 48zm-148 7l5-1-3-2-5 1zm60 1l6-1-3-2-6 2zm61 46l5 0-3-49-5 2zm-69-46l5-1-2-2-6 2zm61 0l5-1-3-2-5 2zm-310-8l0 46-2 0 0-48zm241 9l5-2-3-1-5 1zm60 0l6-2-3-2-6 2zm-69 0l6-2-3-1-5 1zm61 0l5-2-2-1-6 1zm47-8l5-1 0 48-5 2zm-116 8l6-2-3-1-6 2zm61 0l5-2-3-1-5 2zm-251-1l5-2-3-1-5 2zm182 1l5-1-2-2-6 2zm61 0l5-1-3-2-5 2zm-251-1l5-1-3-2-5 2zm182 1l5-1-3-2-5 2zm60 0l6-1-3-2-6 2z"/><path class=c35 d="M750 189l5-1-3 0-5 2zm140 3l6-2-3-2-6 2zm-8-1l5-1-2-3-6 2zm-138 0l6-2-3 1-6 1z"/><path class=c36 d="M874 190l5-1-3-3-5 2z"/><path class=c37 d="M871 188l5-2-2-2-6 1zm-5 1l5-1-3-3-5 2z"/><path class=c38 d="M863 187l5-2-3-2-5 1zm-9-1l6-2-3-2-5 1zm-102 1l6-1-3 2-5 1zm105 1l6-1-3-3-6 2z"/><path class=c39 d="M846 185l6-2-3-2-6 1zm3 2l5-1-2-3-6 2z"/><path class=c40 d="M838 183l5-1-2-1-6 0z"/><path class=c41 d="M761 182l5-1-3 3-5 2z"/><path class=c42 d="M830 181l5 0-3-1-5 0z"/><path class=c44 d="M769 177l5 0-2 4-6 0zm52 2l6 1-3-2-5 0z"/><path class=c45 d="M810 175l6 2-3 0-6-2z"/><path class=c46 d="M813 175l6 3-3-1-6-2z"/><path class=c47 d="M802 173l5 2-2 1-6-2zm-25 1l6 1-3 3-6-1z"/><path class=c48 d="M794 171l5 3-3 1-5-1zm-9 0l6 3-3 2-5-1z"/><path class=c49 d="M805 172l5 3-3 0-5-2z"/><path class=c51 d="M797 170l5 3-3 1-5-3z"/><path class=c52 d="M788 168l6 3-3 3-6-3z"/><path class=c34 d="M719 217l6-25-3-2-6 31zm182-22l6-2-3-2-5 1zm61 0l5-2-2-1-6 1zm-69-1l6-2-3-2-6 2zm61 1l5-2-3-1-5 1zm60 44l6 0-3-47-5 1zm-309-53l0 44-3 1 0-46zm241 9l5-2-3-1-5 2zm60 0l6-2-3-1-6 2zm-69 0l6-1-3-2-6 2zm61 0l5-1-3-2-5 2zm-69 0l5-1-2-2-6 2zm61 0l5-1-3-2-5 2zm46-7l6-2 0 49-6 1zm-115 8l5-2-3-1-5 1zm60 0l6-2-3-1-5 1zm-251-1l6-2-3-1-5 1zm182 1l6-2-3-1-5 1zm61 0l6-2-3-1-6 1zm-251 16l6-19-3-1-6 25zm182-16l6-2-3-1-6 2zm61 0l5-2-3-1-5 2zm-69 0l5-1-2-3-6 2zm61 0l5-1-3-2-5 2zm-249-8l0 41-3 1 0-44zm180 8l5-2-3-2-5 2zm60 0l6-1-3-2-5 2zm61 42l5 1-2-46-6 2zm-69-41l6-2-3-1-6 1zm61 0l5-2-3-1-5 1z"/><path class=c35 d="M885 194l5-2-3-2-5 1zm-8-1l5-2-3-2-5 1zm-138 0l5-2-3 0-5 2zm140 2l6-1-3-3-5 2z"/><path class=c36 d="M868 192l6-2-3-2-5 1z"/><path class=c37 d="M747 189l5-2-2 2-6 2zm113 2l6-2-3-2-6 1z"/><path class=c38 d="M852 190l5-2-3-2-5 1z"/><path class=c39 d="M844 188l5-1-3-2-5 0z"/><path class=c40 d="M841 185l5 0-3-3-5 1z"/><path class=c41 d="M755 184l6-2-3 4-6 1zm80 1l6 0-3-2-6 0z"/><path class=c42 d="M832 183l6 0-3-2-5 0z"/><path class=c43 d="M827 182l5 1-2-2-6-1z"/><path class=c44 d="M824 180l6 1-3-1-6-1z"/><path class=c45 d="M763 178l6-1-3 4-5 1zm-5 2l5-2-2 4-6 2z"/><path class=c46 d="M819 178l5 2-3-1-5-3z"/><path class=c47 d="M816 176l5 3-2-1-6-3z"/><path class=c49 d="M772 173l5 1-3 3-5 0zm-6 0l6 0-3 4-6 1z"/><path class=c50 d="M808 172l5 3-3 0-5-3z"/><path class=c51 d="M780 169l5 2-2 4-6-1z"/><path class=c52 d="M799 168l6 4-3 1-5-3z"/><path class=c53 d="M775 168l5 1-3 5-5-1z"/><path class=c54 d="M791 166l6 4-3 1-6-3z"/><path class=c55 d="M783 166l5 2-3 3-5-2z"/><path class=c34 d="M932 197l5-2-3-1-5 1zm60 0l6-2-3-1-5 1zm-68 0l5-2-3-1-5 2zm60 0l6-2-3-1-6 2zm47-7l5-2 0 48-5 2zm-116 7l6-1-3-2-6 2zm61 0l5-1-2-2-6 2zm-251 11l5-13-2-2-6 19zm182-11l5-1-2-2-6 2zm61 0l5-1-3-2-5 2zm-69 1l5-2-3-1-5 1zm60 0l6-2-3-1-5 1zm-248-9l0 38-3 2 0-41zm180 9l5-2-3-2-5 2zm60 0l6-2-3-1-6 1zm-69-1l6-1-3-2-6 1zm61 1l5-2-2-1-6 2zm61 39l5 1-3-43-5 2zm-69-39l5-1-3-2-5 2zm60 0l6-1-3-2-6 2zm-69 0l6-1-3-2-5 2zm61 0l5-1-2-2-6 2zm-69 1l6-2-3-1-6 1zm61 0l5-2-3-1-5 1z"/><path class=c35 d="M871 194l6-1-3-3-6 2zm-138 1l6-2-3 0-6 2zm141 2l5-2-2-2-6 1zm-8-1l5-2-3-2-5 1z"/><path class=c36 d="M863 193l5-1-2-3-6 2zm-127 1l6-3-3 2-6 2zm121 1l6-2-3-2-5 1z"/><path class=c37 d="M742 191l5-2-3 2-5 2zm113 1l5-1-3-3-5 2z"/><path class=c38 d="M846 190l6 0-3-3-5 1z"/><path class=c40 d="M750 186l5-2-3 3-5 2zm88 2l6 0-3-3-6 0zm-94 1l6-3-3 3-5 2z"/><path class=c43 d="M830 185l5 0-3-2-5-1z"/><path class=c44 d="M753 182l5-2-3 4-5 2z"/><path class=c46 d="M822 180l5 2-3-2-5-2z"/><path class=c49 d="M761 175l5-2-3 5-5 2z"/><path class=c50 d="M810 173l6 3-3-1-5-3zm3 2l6 3-3-2-6-3z"/><path class=c54 d="M802 168l6 4-3 0-6-4zm-33 0l6 0-3 5-6 0zm36 1l5 4-2-1-6-4z"/><path class=c57 d="M794 164l5 4-2 2-6-4zm-17 0l6 2-3 3-5-1z"/><path class=c58 d="M786 163l5 3-3 2-5-2zm11 1l5 4-3 0-5-4z"/><path class=c34 d="M728 203l5-8-3 0-5 13zm297-12l6-1 0 48-6 1zm-115 8l5-2-3-1-5 1zm60 0l6-2-3-1-5 1zm-68 0l5-2-3-1-5 2zm60 0l6-2-3-1-6 2zm-248-9l0 34-3 3 0-38zm179 9l6-1-3-2-5 2zm61 0l5-1-2-2-6 2zm-69 0l6-1-3-2-6 1zm61 1l5-2-3-2-5 2zm-69-1l5-2-3-2-5 2zm60 1l6-2-3-1-5 1zm61 35l6 2-3-40-6 1zm-69-35l6-2-3-1-6 1zm61 0l5-2-3-1-5 1zm-69 0l5-2-2-1-6 2zm61 0l5-2-3-1-5 2zm-69 0l5-1-3-2-5 2zm60 0l6-1-3-2-6 2zm47-7l5-2 0 48-5 0zm-116 8l6-2-3-2-5 2zm61 0l5-2-2-2-6 2zm-249-9l0 29-2 3 0-34zm180 9l6-2-3-1-6 1zm61 0l5-2-3-1-5 1zm-69 0l5-2-2-1-6 1zm61 0l5-2-3-1-5 2z"/><path class=c35 d="M869 198l5-1-3-3-5 2zm-9-1l6-1-3-3-6 2z"/><path class=c36 d="M731 196l5-2-3 1-5 8zm121 0l5-1-2-3-6 1z"/><path class=c37 d="M849 193l6-1-3-2-6 0z"/><path class=c38 d="M844 194l5-1-3-3-5 1z"/><path class=c39 d="M841 191l5-1-2-2-6 0zm-102 1l5-3-2 2-6 3z"/><path class=c40 d="M835 191l6 0-3-3-5 0z"/><path class=c42 d="M833 188l5 0-3-3-5 0z"/><path class=c43 d="M747 185l6-3-3 4-6 3z"/><path class=c44 d="M827 186l6 2-3-3-6-2z"/><path class=c45 d="M824 183l6 2-3-3-5-2z"/><path class=c49 d="M755 178l6-3-3 5-5 2zm61-1l6 3-3-2-6-3z"/><path class=c54 d="M764 170l5-2-3 5-5 2zm44 1l5 4-3-2-5-4z"/><path class=c58 d="M772 164l5 0-2 4-6 0zm-5 1l5-1-3 4-5 2z"/><path class=c59 d="M800 164l5 5-3-1-5-4z"/><path class=c60 d="M788 160l6 4-3 2-5-3z"/><path class=c61 d="M780 160l6 3-3 3-6-2z"/><path class=c62 d="M791 159l6 5-3 0-6-4zm-16 1l5 0-3 4-5 0z"/><path class=c63 d="M783 158l5 2-2 3-6-3z"/><path class=c34 d="M880 201l5-2-3-2-5 2zm60 0l6-1-3-2-6 2zm-69 0l6-2-3-2-5 1zm61 0l5-1-2-2-6 2zm61 33l5 1-3-37-5 2zm-69-32l5-2-3-2-5 2zm60 0l6-2-3-2-5 2zm-69 0l6-2-3-1-5 1zm61 0l6-2-3-1-6 1zm-69 0l6-2-3-1-6 2zm61 0l5-2-3-1-5 2zm-249-9l0 24-3 4 0-29zm295 2l6-2 0 46-6 0zm-115 7l5-1-2-2-6 2zm61 0l5-1-3-2-5 2zm-69 0l5-1-3-2-5 2zm60 0l6-1-3-2-5 2zm-69 1l6-2-3-2-5 2zm61 0l6-2-3-1-6 1zm-69 0l6-2-3-2-6 2zm61 0l5-2-3-1-5 1zm-69-1l5-1-2-3-6 2zm61 1l5-2-3-1-5 2zm60 28l6 3-3-34-6 2zm-69-28l6-1-3-2-6 2zm61 0l5-1-2-2-6 2z"/><path class=c35 d="M863 200l6-2-3-2-6 1zm-5 1l5-1-3-3-5 2z"/><path class=c36 d="M855 199l5-2-3-2-5 1z"/><path class=c37 d="M847 197l5-1-3-3-5 1z"/><path class=c39 d="M733 193l6-1-3 2-5 2zm105 1l6 0-3-3-6 0z"/><path class=c42 d="M742 189l5-4-3 4-5 3zm88 1l5 1-2-3-6-2z"/><path class=c44 d="M736 188l6 1-3 3-6 1z"/><path class=c45 d="M745 186l5-4-3 3-5 4z"/><path class=c46 d="M822 184l5 2-3-3-5-3z"/><path class=c47 d="M750 182l5-4-2 4-6 3z"/><path class=c48 d="M819 180l5 3-2-3-6-3z"/><path class=c51 d="M753 178l5-5-3 5-5 4z"/><path class=c52 d="M814 177l5 3-3-3-5-4z"/><path class=c53 d="M758 173l6-3-3 5-6 3zm53 0l5 4-3-2-5-4z"/><path class=c57 d="M761 169l6-4-3 5-6 3z"/><path class=c58 d="M805 169l6 4-3-2-6-5z"/><path class=c59 d="M802 166l6 5-3-2-5-5z"/><path class=c62 d="M769 161l6-1-3 4-5 1z"/><path class=c63 d="M794 160l6 4-3 0-6-5zm-8-4l5 3-3 1-5-2zm-8 1l5 1-3 2-5 0zm19 4l5 5-2-2-6-4z"/><path class=c34 d="M910 203l5-1-2-2-6 2zm61 0l5-1-3-2-5 2zm-249-8l0 17-3 5 0-24zm180 9l5-2-3-1-5 1zm60 0l6-2-3-1-5 1zm47-8l5-1 0 44-5-1zm-115 8l5-2-3-1-5 1zm60 0l6-2-3-1-6 1zm-69 0l6-2-3-1-6 2zm61 0l5-2-2-1-6 2zm-69 0l5-1-2-2-6 2zm61 0l5-1-3-2-5 2zm-69 0l5-1-3-2-5 1zm60 0l6-1-3-2-5 2zm-69 0l6-2-3-2-5 1zm61 1l6-2-3-1-6 1zm61 24l5 2-3-29-5 1zm-69-24l5-2-3-1-5 1zm61 0l5-2-3-1-5 1zm-249-9l0 12-3 4 0-17zm180 9l5-2-3-1-5 2zm60 0l6-2-3-1-6 2zm-69 0l6-1-3-2-5 2zm61 0l5-1-2-2-6 2zm47-7l5-2 0 42-5-1zm-116 7l6-1-3-2-6 2zm61 0l5-1-3-2-5 2z"/><path class=c35 d="M852 203l6-2-3-2-6 1z"/><path class=c36 d="M849 200l6-1-3-3-5 1zm-5 1l5-1-2-3-6 1z"/><path class=c38 d="M841 198l6-1-3-3-6 0z"/><path class=c39 d="M836 198l5 0-3-4-5 0z"/><path class=c40 d="M833 194l5 0-3-3-5-1z"/><path class=c42 d="M827 193l6 1-3-4-5-2z"/><path class=c44 d="M825 188l5 2-3-4-5-2z"/><path class=c48 d="M747 183l6-5-3 4-5 4zm-8 0l6 3-3 3-6-1z"/><path class=c50 d="M816 181l6 3-3-4-5-3z"/><path class=c55 d="M756 174l5-5-3 4-5 5z"/><path class=c56 d="M808 173l6 4-3-4-6-4z"/><path class=c61 d="M764 165l5-4-2 4-6 4z"/><path class=c62 d="M800 165l5 4-3-3-5-5z"/><path class=c63 d="M789 157l5 3-3-1-5-3zm-9-2l6 1-3 2-5-1zm-8 3l6-1-3 3-6 1zm20 0l5 3-3-1-5-3zm-9-2l6 1-3-1-6-1zm-8 1l5-2-2 2-6 1zm-8 5l5-4-3 3-5 4z"/><path class=c34 d="M880 206l5-2-3-1-5 1zm60 0l6-2-3-1-5 1zm-68 0l5-2-3-1-5 1zm60 0l6-2-3-1-6 1zm-69 0l6-2-3-2-6 2zm61 0l5-2-2-1-6 2zm-69-1l5-1-2-3-6 2zm61 1l5-1-3-2-5 2zm60 20l6 3-3-26-5 2zm-248-28l0 5-3 5 0-12zm179 8l6-1-3-2-5 2zm61 0l6-1-3-2-6 2zm-69 1l6-2-3-1-6 1zm61 0l5-2-3-1-5 1zm-69 0l5-2-2-1-6 1zm61 0l5-2-3-1-5 1zm46-7l6-2 0 39-6-2zm-115 7l5-2-3-1-5 2zm60 0l6-2-3-1-6 2zm-69 0l6-1-3-2-5 2zm61 0l5-1-2-2-6 2zm-69 0l6-1-3-2-6 2zm61 1l5-2-3-2-5 2zm-69 0l5-2-3-2-5 1zm61 0l5-2-3-1-5 1z"/><path class=c35 d="M847 204l5-1-3-3-5 1z"/><path class=c37 d="M839 201l5 0-3-3-5 0z"/><path class=c40 d="M830 197l6 1-3-4-6-1z"/><path class=c45 d="M822 191l5 2-2-5-6-2z"/><path class=c47 d="M819 186l6 2-3-4-6-3z"/><path class=c50 d="M814 184l5 2-3-5-5-3z"/><path class=c52 d="M750 180l6-6-3 4-6 5zm-8-1l5 4-2 3-6-3z"/><path class=c53 d="M811 178l5 3-2-4-6-4z"/><path class=c54 d="M753 177l5-6-2 3-6 6z"/><path class=c56 d="M745 176l5 4-3 3-5-4zm60-1l6 3-3-5-5-4z"/><path class=c58 d="M758 171l6-6-3 4-5 5z"/><path class=c59 d="M803 169l5 4-3-4-5-4z"/><path class=c60 d="M761 168l6-6-3 3-6 6z"/><path class=c62 d="M797 167l6 2-3-4-6-3z"/><path class=c63 d="M794 162l6 3-3-4-5-3zm-8-5l6 1-3-1-6-1zm-8 0l5-1-3-1-5 2zm-8 4l5-4-3 1-5 4z"/><path class=c34 d="M731 199l0-3-3 7 0-5zm119 8l5-2-3-2-5 1zm60 1l6-2-3-1-6 1zm61 15l5 3-2-21-6 1zm-69-15l5-2-2-1-6 2zm61 0l5-2-3-1-5 2zm-69 0l5-1-3-2-5 2zm60 0l6-1-3-2-5 2zm-69 1l6-2-3-2-5 2zm61 0l6-2-3-2-6 2zm47-8l5-1 0 35-5-1zm-116 8l6-2-3-1-6 1zm61 0l5-2-3-1-5 1zm-69 0l5-2-2-1-6 1zm61 0l5-2-3-1-5 2zm-69 0l5-2-3-1-5 2zm60 0l6-1-3-2-5 2zm-188-8l0-8-2 3 0 3zm119 8l6-1-3-3-5 2zm61 0l6-1-3-2-6 2zm-8 1l5-2-3-2-5 2zm60 10l6 3-3-17-5 2zm-68-10l5-2-3-1-5 1zm60 0l6-2-3-1-6 1z"/><path class=c35 d="M844 208l6-1-3-3-6 1z"/><path class=c36 d="M841 205l6-1-3-3-5 0zm-5 1l5-1-2-4-6 1z"/><path class=c38 d="M833 202l6-1-3-3-6-1z"/><path class=c42 d="M825 197l5 0-3-4-5-2z"/><path class=c47 d="M817 190l5 1-3-5-5-2z"/><path class=c53 d="M808 181l6 3-3-6-6-3z"/><path class=c57 d="M756 175l5-7-3 3-5 6z"/><path class=c59 d="M748 172l5 5-3 3-5-4zm52 1l5 2-2-6-6-2z"/><path class=c62 d="M764 167l6-6-3 1-6 6z"/><path class=c63 d="M789 161l5 1-2-4-6-1zm-8-2l5-2-3-1-5 1zm-9 2l6-4-3 0-5 4zm20 5l5 1-3-5-5-1zm-9-3l6-2-3-4-5 2zm-8 0l6-4-3-2-6 4zm-8 5l5-7-2 0-6 6z"/><path class=c34 d="M888 210l6-2-3-1-6 2zm61 0l5-2-2-1-6 2zm-69 0l5-1-2-2-6 2zm61 0l5-1-3-2-5 2zm46-7l6-2 0 33-6-3zm-115 7l5-1-3-2-5 2zm60 0l6-1-3-2-5 2zm-68 1l5-2-3-2-5 2zm60 0l6-2-3-1-6 1zm-188-9l0-14-3 5 0 8zm119 9l6-2-3-1-6 1zm61 0l5-2-2-1-6 1zm-69 0l5-2-2-2-6 1zm61 0l5-2-3-1-5 2zm-9 0l6-1-3-2-5 2zm61 5l5 4-2-12-6 2zm-69-5l6-1-3-2-6 2zm61 0l5-1-3-2-5 2zm-69 1l5-2-3-1-5 1zm61 0l5-2-3-1-5 1zm-69 0l5-2-3-1-5 1zm60 0l6-2-3-1-6 1zm47-7l5-2 0 28-5-2zm-116 7l6-2-3-1-5 2zm61 0l5-2-2-1-6 2zm-188-8l0-21-3 5 0 14z"/><path class=c35 d="M839 209l5-1-3-3-5 1z"/><path class=c37 d="M830 206l6 0-3-4-5 0z"/><path class=c39 d="M828 202l5 0-3-5-5 0z"/><path class=c40 d="M822 202l6 0-3-5-6-1z"/><path class=c44 d="M819 196l6 1-3-6-5-1z"/><path class=c45 d="M814 195l5 1-2-6-6-2z"/><path class=c49 d="M811 188l6 2-3-6-6-3z"/><path class=c51 d="M806 187l5 1-3-7-5-1z"/><path class=c55 d="M803 180l5 1-3-6-5-2z"/><path class=c58 d="M759 175l5-8-3 1-5 7z"/><path class=c59 d="M762 175l5-7-3-1-5 8z"/><path class=c60 d="M795 172l5 1-3-6-5-1z"/><path class=c62 d="M750 170l6 5-3 2-5-5z"/><path class=c63 d="M786 168l6-2-3-5-6 2zm-8-1l5-4-2-4-6 4zm-8 3l5-7-3-2-5 7zm-17-2l6 7-3 0-6-5z"/><path class=c34 d="M858 212l6-1-3-2-6 2zm61 0l5-1-3-2-5 2zm-69 0l5-1-3-2-5 2zm60 0l6-1-3-2-5 2zm-68 0l5-1-3-3-5 1zm60 1l6-2-3-1-6 1zm-8 0l5-2-2-1-6 1zm61 0l5 3-3-6-5 1zm-69 0l5-2-3-1-5 2zm60 0l6-2-3-1-5 2zm-69 0l6-1-3-2-5 2zm61 0l6-1-3-2-6 2zm-69 0l6-1-3-2-6 2zm61 1l5-2-3-2-5 2zm-188-9l0-26-3 4 0 21zm234 1l6-1 0 24-6-3zm-115 8l5-2-2-1-6 1zm61 0l5-2-3-1-5 1zm-69 0l5-2-3-1-5 1zm60 0l6-2-3-1-6 1zm-69 0l6-2-3-1-5 1zm61 0l5-2-2-1-6 2zm-69 0l6-2-3-3-6 1zm61 0l5-1-3-2-5 2z"/><path class=c35 d="M833 210l6-1-3-3-6 0z"/><path class=c38 d="M825 207l5-1-2-4-6 0z"/><path class=c42 d="M817 202l5 0-3-6-5-1z"/><path class=c47 d="M809 195l5 0-3-7-5-1z"/><path class=c52 d="M800 187l6 0-3-7-6 0z"/><path class=c56 d="M797 180l6 0-3-7-5-1zm-5 1l5-1-2-8-6 2z"/><path class=c59 d="M764 177l6-7-3-2-5 7zm20 1l5-4-3-6-5 4zm-9-1l6-5-3-5-5 6z"/><path class=c60 d="M789 174l6-2-3-6-6 2z"/><path class=c62 d="M781 172l5-4-3-5-5 4zm-8 1l5-6-3-4-5 7z"/><path class=c63 d="M756 167l6 8-3 0-6-7z"/><path class=c34 d="M889 214l5-1-3-2-5 2zm60 1l6-2-3-2-6 2zm-69 0l6-2-3-1-6 1zm61 0l5-2-2-1-6 1zm-69 0l5-2-2-1-6 1zm61 0l5-2-3-1-5 2zm-188-8l0-31-3 3 0 26zm119 8l5-2-3-1-5 2zm60 0l6-1-3-2-5 2zm47-7l5-2 0 20-5-3zm-116 7l6-1-3-2-5 2zm61 0l6-1-3-2-6 2zm-69 0l6-1-3-2-6 2zm61 1l5-2-3-2-5 2zm-69 0l5-2-2-2-6 2zm61 0l5-2-3-1-5 1zm-69 0l5-2-3-4-5 1zm60 0l6-2-3-1-5 1zm-8 0l6-2-3-1-6 2zm61 0l5-1-3-2-5 2zm-69 0l5-1-3-2-5 2zm60 0l6-1-3-2-5 2zm-187-8l0-36-3 4 0 31zm119 9l5-2-3-2-5 2zm60 0l6-2-3-1-6 1z"/><path class=c36 d="M828 211l5-1-3-4-5 1zm-6 2l6-2-3-4-5 1z"/><path class=c38 d="M820 208l5-1-3-5-5 0z"/><path class=c39 d="M814 208l6 0-3-6-6 0z"/><path class=c43 d="M811 202l6 0-3-7-5 0zm-5 1l5-1-2-7-6 0z"/><path class=c47 d="M803 195l6 0-3-8-6 0z"/><path class=c52 d="M795 189l5-2-3-7-5 1z"/><path class=c55 d="M787 185l5-4-3-7-5 4z"/><path class=c56 d="M778 183l6-5-3-6-6 5zm-8 1l5-7-2-4-6 7z"/><path class=c58 d="M767 180l6-7-3-3-6 7z"/><path class=c63 d="M759 167l5 10-2-2-6-8zm3 0l5 13-3-3-5-10z"/><path class=c34 d="M858 217l6-2-3-1-6 1zm61 0l5-2-2-1-6 1zm46-7l6-2 0 15-6-3zm-115 7l5-2-2-1-6 1zm61 0l5-2-3-1-5 2zm-69 0l5-2-3-1-5 2zm60 0l6-1-3-2-5 2zm-68 0l5-1-3-2-5 2zm60 0l6-1-3-2-6 2zm-69 0l6-1-3-5-6 2zm61 1l5-2-2-2-6 2zm-8 0l5-2-3-1-5 1zm60 2l6-4-3-1-6 1zm-188-10l0-40-2 2 0 36zm119 8l6-2-3-1-5 2zm61 0l5-2-2-1-6 2zm-69 0l6-1-3-2-6 2zm61 0l5-1-3-2-5 2zm-69 0l5-1-3-2-5 2zm61 0l5-1-3-2-5 2zm46-7l5-1 0 10-5-4zm-115 8l5-2-3-2-5 2zm60 0l6-2-3-1-6 1zm-69 0l6-2-3-1-5 1zm61 0l5-2-2-1-6 1z"/><path class=c36 d="M817 214l5-1-2-5-6 0z"/><path class=c39 d="M809 210l5-2-3-6-5 1z"/><path class=c43 d="M800 205l6-2-3-8-5 2z"/><path class=c47 d="M798 197l5-2-3-8-5 2zm-6 3l6-3-3-8-6 3z"/><path class=c49 d="M784 196l5-4-2-7-6 4z"/><path class=c50 d="M776 195l5-6-3-6-5 6z"/><path class=c51 d="M789 192l6-3-3-8-5 4z"/><path class=c53 d="M781 189l6-4-3-7-6 5zm-8 0l5-6-3-6-5 7z"/><path class=c63 d="M765 169l5 15-3-4-5-13z"/><path class=c34 d="M828 219l6-2-3-1-6 1zm61 0l5-2-3-1-5 2zm-69 0l5-2-3-4-5 1zm60 0l6-1-3-2-5 2zm-127-8l0-43-3 2 0 40zm119 8l6-1-3-2-6 2zm61 7l5-6-3-4-5 2zm-69-6l5-2-2-1-6 1zm61 0l5-2-3-1-5 1zm-69 0l5-2-3-1-5 1zm60 0l6-2-3-1-5 1zm-69 0l6-2-3-1-5 2zm61 0l6-2-3-1-6 2zm47-7l5-2 0 5-5-3zm-116 7l6-1-3-2-6 2zm61 0l5-1-3-2-5 2zm-69 0l5-1-2-2-6 2zm61 0l5-1-3-2-5 2zm-69 0l5-1-3-2-5 2zm60 1l6-2-3-1-6 1zm-127-8l0-46-3 1 0 43zm58 8l6-2-3-5-5 1zm61 0l5-2-2-1-6 1zm-8 0l5-2-3-1-5 2zm60 10l6-5-3-8-5 2z"/><path class=c36 d="M812 215l5-1-3-6-5 2zm-6 2l6-2-3-5-6 1z"/><path class=c39 d="M803 211l6-1-3-7-6 2z"/><path class=c43 d="M795 207l5-2-2-8-6 3z"/><path class=c45 d="M787 203l5-3-3-8-5 4z"/><path class=c47 d="M778 201l6-5-3-7-5 6z"/><path class=c63 d="M767 171l6 18-3-5-5-15zm3 3l6 21-3-6-6-18z"/><path class=c34 d="M859 221l5-1-3-2-5 2zm60 0l6-1-3-2-6 2zm-69 0l6-1-3-2-6 2zm61 1l5-2-2-2-6 2zm-69 0l5-2-2-1-6 1zm61 0l5-2-3-1-5 1zm46-7l6-2 0 0-6 2zm-115 7l5-2-3-1-5 1zm60 0l6-2-3-1-5 1zm-69 0l6-2-3-1-5 1zm61 0l6-2-3-1-6 2zm-127-8l0-47-3 0 0 46zm58 8l6-2-3-1-6 2zm61 0l5-1-3-2-5 2zm-69 0l5-1-2-6-6 2zm61 1l5-2-3-2-5 2zm-9 0l6-2-3-1-5 1zm61 14l5-6-2-11-6 1zm-69-14l6-2-3-1-6 1zm61 0l5-2-3-1-5 2zm-69 0l5-2-3-1-5 2zm60 0l6-1-3-2-5 2z"/><path class=c36 d="M801 219l5-2-3-6-5 2z"/><path class=c38 d="M792 216l6-3-3-6-5 3z"/><path class=c39 d="M798 213l5-2-3-6-5 2z"/><path class=c40 d="M784 213l6-3-3-7-6 4z"/><path class=c42 d="M790 210l5-3-3-7-5 3z"/><path class=c44 d="M781 207l6-4-3-7-6 5z"/><path class=c63 d="M773 178l5 23-2-6-6-21z"/><path class=c34 d="M837 223l5-1-3-2-5 2zm60 0l6-1-3-2-6 2zm47-7l5-1 0 0-5 1zm-116 7l6-1-3-2-6 2zm61 1l5-2-2-2-6 2zm-127-8l0-49-3 0 0 47zm58 8l5-2-2-2-6 2zm61 0l5-2-3-1-5 1zm-69 0l5-2-3-1-5 1zm60 0l6-2-3-1-5 2zm-69 0l6-2-3-5-5 2zm61 0l6-1-3-2-6 2zm-8 0l5-1-2-2-6 2zm61 18l5-5-3-16-5 2zm-69-17l5-2-3-2-5 2zm60 0l6-2-3-1-6 1zm-69 0l6-2-3-1-5 1zm61 0l5-2-2-1-6 1zm-69 0l6-2-3-1-6 1zm61 0l5-2-3-1-5 2zm-127-8l0-48-3-2 0 49zm173 1l6-2 0 0-6 4zm-115 7l5-2-3-1-5 2zm61 0l5-1-3-2-5 2zm-69 0l5-1-3-2-5 2zm60 0l6-1-3-2-6 2z"/><path class=c36 d="M795 221l6-2-3-6-6 3z"/><path class=c38 d="M787 218l5-2-2-6-6 3z"/><path class=c59 d="M779 189l5 24-3-6-5-24z"/><path class=c62 d="M776 183l5 24-3-6-5-23z"/><path class=c34 d="M806 225l6-1-3-2-6 2zm61 1l5-2-2-1-6 1zm-69 0l5-2-2-5-6 2zm61 0l5-2-3-1-5 1zm-9 0l6-2-3-1-5 2zm61 22l6-6-3-19-6 2zm-69-22l6-1-3-2-6 2zm61 0l5-1-3-2-5 2zm-69 0l5-1-2-2-6 2zm61 1l5-2-3-2-5 2zm-128-9l0-47-2-2 0 48zm59 9l5-2-3-2-5 2zm60 0l6-2-3-1-5 1zm47-7l5-2 0 2-5 6zm-116 7l6-2-3-1-5 1zm61 0l6-2-3-1-6 1zm-69 0l6-2-3-1-6 1zm61 0l5-2-3-1-5 2zm-69 0l5-2-3-1-5 2zm61 0l5-1-3-2-5 2zm-69 0l5-1-3-5-5 2zm60 0l6-1-3-2-6 2zm-8 1l5-2-2-1-6 1zm61 25l5-5-3-23-5 1z"/><path class=c36 d="M790 223l5-2-3-5-5 2z"/><path class=c52 d="M784 201l6 22-3-5-5-23z"/><path class=c56 d="M782 195l5 23-3-5-5-24z"/><path class=c34 d="M837 228l5-2-3-1-5 1zm60 0l6-2-3-1-5 2zm-127-8l0-46-3-3 0 47zm59 8l5-2-3-1-5 2zm60 0l6-1-3-2-6 2zm-69 0l6-1-3-2-6 2zm61 0l5-1-2-2-6 2zm46-7l6-1 0 6-6 5zm-115 7l5-1-2-2-6 2zm61 1l5-2-3-2-5 2zm-69-1l5-1-3-2-5 2zm60 1l6-2-3-1-5 1zm-69 0l6-2-3-1-5 1zm61 0l6-2-3-1-6 1zm-8 0l5-2-3-1-5 2zm-8 0l5-1-3-2-5 2zm60 29l6-5-3-27-6 2zm-127-37l0-43-3-4 0 46zm58 8l6-1-3-2-5 2zm61 1l5-2-2-1-6 1zm-69 0l6-2-3-1-6 1zm61 0l5-2-3-1-5 1zm-69 0l5-2-3-1-5 1zm60 0l6-2-3-1-5 2z"/><path class=c48 d="M787 209l6 18-3-4-6-22z"/><path class=c34 d="M922 223l5-2 0 10-5 6zm-115 7l5-2-3-1-5 1zm60 0l6-1-3-2-6 2zm-69 0l6-2-3-1-6 2zm61 0l5-1-2-2-6 2zm-8 1l5-2-3-2-5 2zm-9 0l6-2-3-1-5 1zm-66-8l0-40-3-5 0 43zm58 8l6-2-3-1-6 1zm61 32l5-5-3-30-5 2zm-69-32l5-2-2-1-6 2zm61 0l5-1-3-2-5 2zm-69 0l5-1-3-2-5 2zm60 0l6-1-3-2-6 2zm-69 0l6-1-3-2-5 2zm61 1l5-2-2-1-6 1zm47-8l5-1 0 14-5 5zm-116 8l6-2-3-2-6 2zm61 0l5-2-3-1-5 1zm-8 0l5-2-3-1-5 2zm-9 0l6-1-3-2-6 2z"/><path class=c39 d="M793 224l5 6-3-1-5-13z"/><path class=c44 d="M790 216l5 13-2-2-6-18z"/><path class=c34 d="M779 224l0-35-3-6 0 40zm58 8l5-1-2-2-6 2zm-8 1l5-2-3-2-5 2zm60 34l6-4-3-33-5 1zm-69-34l6-2-3-1-5 1zm61 0l6-2-3-1-6 1zm-69 0l6-2-3-1-6 1zm61 0l5-2-3-1-5 2zm-69 0l5-2-2-1-6 2zm61 0l5-1-3-2-5 2zm46-7l6-2 0 18-6 6zm-55 7l6-1-3-2-5 2zm-8 1l6-2-3-1-6 1zm-66-8l0-31-3-6 0 35zm58 8l5-2-3-1-5 1zm-8 0l5-2-3-1-5 2zm-9 0l6-1-3-2-6 2zm61 38l5-5-2-36-6 2z"/><path class=c35 d="M796 232l5 0-3-2-5-6z"/><path class=c34 d="M815 234l5-1-2-2-6 2zm61 1l5-2-3-2-5 2zm-69 0l5-2-3-2-5 2zm60 0l6-2-3-1-5 1zm-69 5l6-7-3-1-5 0zm61-5l6-2-3-1-6 1zm47-7l5-2 0 22-5 5zm-55 7l5-2-2-1-6 2zm-67-8l0-26-2-6 0 31zm59 8l5-1-3-2-5 2zm-9 0l6-1-3-2-5 2zm-8 1l6-2-3-1-6 1zm-8 0l5-2-3-1-5 1zm61 40l5-4-3-39-5 2zm-69-40l5-2-3-1-5 2zm60 0l6-1-3-2-6 2zm-69 11l6-12-3-2-6 7zm61-11l5-1-2-2-6 2zm-8 1l5-2-3-2-5 2zm-67-8l0-20-3-8 0 26zm113 0l6-1 0 25-6 5zm-55 8l6-2-3-1-5 1zm-8 0l6-2-3-1-6 1zm-8 0l5-2-2-1-6 2zm-8 0l5-1-3-2-5 2zm-9 0l6-1-3-2-5 2zm61 43l6-4-3-41-6 1zm-69-25l6-19-3-1-6 12zm61-17l5-2-3-1-5 1zm-8 0l5-2-3-1-5 2zm-67-8l0-14-3-7 0 20zm58 8l6-1-3-2-6 2zm47-7l5-2 0 29-5 5zm-55 7l5-1-2-2-6 2zm-8 1l5-2-3-2-5 2zm-8 0l5-2-3-1-5 1zm-9 0l6-2-3-1-6 1zm-8 23l5-25-2-1-6 19zm61 22l5-4-3-44-5 2zm-9-44l6-2-3-2-5 2zm-66-8l0-8-3-8 0 14zm58 8l6-2-3-1-6 1zm-8 0l5-2-3-1-5 1zm46-7l6-2 0 32-6 4zm-54 7l5-2-3-1-5 2zm-9 0l6-1-3-2-5 2zm-8 0l6-1-3-2-6 2zm-8 29l5-30-3-2-5 25zm52 18l6-3-3-46-6 2zm-66-54l0-1-3-8 0 8zm58 8l5-1-2-2-6 2zm-8 0l5-1-3-2-5 2zm-9 1l6-2-3-2-5 2zm47-8l5-1 0 34-5 5zm-55 8l6-2-3-1-6 1zm-8 0l5-2-2-1-6 1zm-8 34l5-36-3-1-5 30zm-15-41l0 5-2-8 0 1zm59 56l5-4-3-47-5 1zm-8-48l5-2-3-1-5 1zm-9 0l6-2-3-1-6 2zm-8 0l5-1-2-2-6 2zm47-7l5-2 0 38-5 4zm-55 7l5-1-3-2-5 2zm-9 38l6-39-3-2-5 36zm-14-45l0 11-3-7 0-5zm50 58l6-3-3-50-5 2zm-8-50l6-1-3-2-6 2zm-8 1l5-2-3-1-5 1zm-8 0l5-2-3-1-5 1zm46-7l6-2 0 40-6 4zm-55 48l6-43-3-1-6 39zm-14-48l0 17-3-8 0-11zm42 58l5-2-2-51-6 1zm-8-50l5-2-3-1-5 2zm-9 0l6-1-3-2-5 2zm-8 45l6-46-3-2-6 43zm47-52l5-1 0 42-5 4zm-61 0l0 23-3-7 0-17zm33 60l6-3-3-52-5 2zm-8-51l6-2-3-1-6 1zm-8 46l5-48-2-1-6 46zm-14-53l0 28-3-7 0-23zm52 0l6-2 0 45-6 3zm-27 60l5-2-2-53-6 2zm-8-4l5-49-3-2-5 48zm-14-55l0 34-3-7 0-28zm44 1l5-2 0 46-5 4zm-27 60l5-2-3-53-5 49zm-15-59l0 37-2-5 0-34zm36 0l6-1 0 48-6 3zm-33 1l0 41-3-5 0-37zm28 1l5-2 0 50-5 2zm-25 0l0 45-3-5 0-41zm19 2l6-2 0 50-6 3zm-16 0l0 46-3-3 0-45zm11 1l5-1 0 51-5 2zm-8 0l0 48-3-3 0-46zm3 2l5-2 0 52-5 2zm0 0l0 52-3-6 0-48zm0 0l0 0 0 52 0-52z"/></g>
<g stroke-width="0.6" stroke-linecap="round"><line x1="414.8" y1="151.3" x2="417.5" y2="150.4" stroke="#352a87"/><line x1="417.5" y1="150.4" x2="420.2" y2="149.3" stroke="#352a87"/><line x1="420.2" y1="149.3" x2="423.0" y2="148.1" stroke="#352a87"/><line x1="423.0" y1="148.1" x2="425.7" y2="146.8" stroke="#352a87"/><line x1="425.7" y1="146.8" x2="428.4" y2="145.3" stroke="#352a87"/><line x1="428.4" y1="145.3" x2="431.1" y2="143.7" stroke="#352a87"/><line x1="431.1" y1="143.7" x2="433.8" y2="141.9" stroke="#363093"/><line x1="433.8" y1="141.9" x2="436.5" y2="140.0" stroke="#3637a0"/><line x1="436.5" y1="140.0" x2="439.3" y2="138.0" stroke="#3243ba"/><line x1="439.3" y1="138.0" x2="442.0" y2="135.9" stroke="#2c4ac7"/><line x1="442.0" y1="135.9" x2="444.7" y2="133.6" stroke="#0f5cdd"/><line x1="444.7" y1="133.6" x2="447.4" y2="131.3" stroke="#0268e1"/><line x1="447.4" y1="131.3" x2="450.1" y2="128.9" stroke="#0871de"/><line x1="450.1" y1="128.9" x2="452.8" y2="126.3" stroke="#127dd8"/><line x1="452.8" y1="126.3" x2="455.6" y2="123.8" stroke="#1485d4"/><line x1="455.6" y1="123.8" x2="458.3" y2="121.1" stroke="#108ed2"/><line x1="458.3" y1="121.1" x2="461.0" y2="118.4" stroke="#079ccf"/><line x1="461.0" y1="118.4" x2="463.7" y2="115.7" stroke="#06a7c6"/><line x1="463.7" y1="115.7" x2="466.4" y2="112.9" stroke="#0aacbe"/><line x1="466.4" y1="112.9" x2="469.2" y2="110.1" stroke="#1db3af"/><line x1="469.2" y1="110.1" x2="471.9" y2="108.1" stroke="#38b99e"/><line x1="471.9" y1="108.1" x2="474.6" y2="107.3" stroke="#4dbc92"/><line x1="474.6" y1="107.3" x2="477.3" y2="106.4" stroke="#4dbc92"/><line x1="477.3" y1="106.4" x2="480.0" y2="108.1" stroke="#4dbc92"/><line x1="480.0" y1="108.1" x2="482.7" y2="109.8" stroke="#25b5a9"/><line x1="482.7" y1="109.8" x2="485.5" y2="111.4" stroke="#0aacbe"/><line x1="485.5" y1="111.4" x2="488.2" y2="112.9" stroke="#06a4ca"/><line x1="488.2" y1="112.9" x2="490.9" y2="114.4" stroke="#0998d1"/><line x1="490.9" y1="114.4" x2="493.6" y2="115.6" stroke="#1389d3"/><line x1="493.6" y1="115.6" x2="496.3" y2="116.8" stroke="#127dd8"/><line x1="496.3" y1="116.8" x2="499.0" y2="117.7" stroke="#0871de"/><line x1="499.0" y1="117.7" x2="501.8" y2="118.5" stroke="#0363e1"/><line x1="501.8" y1="118.5" x2="504.5" y2="119.0" stroke="#2053d4"/><line x1="504.5" y1="119.0" x2="507.2" y2="119.4" stroke="#3243ba"/><line x1="507.2" y1="119.4" x2="509.9" y2="119.4" stroke="#3637a0"/><line x1="509.9" y1="119.4" x2="512.6" y2="119.3" stroke="#363093"/><line x1="512.6" y1="119.3" x2="515.3" y2="118.8" stroke="#352a87"/><line x1="515.3" y1="118.8" x2="518.1" y2="118.1" stroke="#352a87"/><line x1="518.1" y1="118.1" x2="520.8" y2="117.3" stroke="#352a87"/><line x1="520.8" y1="117.3" x2="523.5" y2="116.5" stroke="#352a87"/></g>
<g stroke-width="0.6" stroke-linecap="round"><line x1="348.3" y1="114.9" x2="351.1" y2="113.2" stroke="#352a87"/><line x1="351.1" y1="113.2" x2="353.8" y2="110.7" stroke="#363093"/><line x1="353.8" y1="110.7" x2="356.5" y2="107.1" stroke="#353dad"/><line x1="356.5" y1="107.1" x2="359.2" y2="102.6" stroke="#0f5cdd"/><line x1="359.2" y1="102.6" x2="362.0" y2="97.8" stroke="#0d75dc"/><line x1="362.0" y1="97.8" x2="364.7" y2="93.0" stroke="#108ed2"/><line x1="364.7" y1="93.0" x2="367.4" y2="88.9" stroke="#06a7c6"/><line x1="367.4" y1="88.9" x2="370.1" y2="85.7" stroke="#1db3af"/><line x1="370.1" y1="85.7" x2="372.8" y2="83.8" stroke="#38b99e"/><line x1="372.8" y1="83.8" x2="375.6" y2="82.9" stroke="#42bb98"/><line x1="375.6" y1="82.9" x2="378.3" y2="82.1" stroke="#4dbc92"/></g>
<g stroke-width="0.6" stroke-linecap="round"><line x1="414.8" y1="151.3" x2="413.4" y2="148.6" stroke="#352a87"/><line x1="413.4" y1="148.6" x2="412.0" y2="147.2" stroke="#352a87"/><line x1="412.0" y1="147.2" x2="410.6" y2="145.4" stroke="#363093"/><line x1="410.6" y1="145.4" x2="409.1" y2="143.2" stroke="#3637a0"/><line x1="409.1" y1="143.2" x2="407.7" y2="140.7" stroke="#3243ba"/><line x1="407.7" y1="140.7" x2="406.3" y2="137.8" stroke="#0f5cdd"/><line x1="406.3" y1="137.8" x2="404.9" y2="134.6" stroke="#046de0"/><line x1="404.9" y1="134.6" x2="403.5" y2="131.1" stroke="#1079da"/><line x1="403.5" y1="131.1" x2="402.1" y2="127.5" stroke="#1389d3"/><line x1="402.1" y1="127.5" x2="400.7" y2="123.7" stroke="#079ccf"/><line x1="400.7" y1="123.7" x2="399.2" y2="119.8" stroke="#0aacbe"/><line x1="399.2" y1="119.8" x2="397.8" y2="115.8" stroke="#25b5a9"/><line x1="397.8" y1="115.8" x2="396.4" y2="111.9" stroke="#59bd8c"/><line x1="396.4" y1="111.9" x2="395.0" y2="108.0" stroke="#87bf77"/><line x1="395.0" y1="108.0" x2="393.6" y2="104.3" stroke="#b7bd64"/><line x1="393.6" y1="104.3" x2="392.2" y2="100.7" stroke="#d9ba56"/><line x1="392.2" y1="100.7" x2="390.8" y2="97.4" stroke="#f8bb44"/><line x1="390.8" y1="97.4" x2="389.3" y2="94.3" stroke="#fcce2e"/><line x1="389.3" y1="94.3" x2="387.9" y2="91.6" stroke="#f5de21"/><line x1="387.9" y1="91.6" x2="386.5" y2="89.2" stroke="#f6f313"/><line x1="386.5" y1="89.2" x2="385.1" y2="87.2" stroke="#f9fb0e"/><line x1="385.1" y1="87.2" x2="383.7" y2="85.6" stroke="#f9fb0e"/><line x1="383.7" y1="85.6" x2="382.3" y2="84.5" stroke="#f9fb0e"/><line x1="382.3" y1="84.5" x2="380.9" y2="83.7" stroke="#f9fb0e"/><line x1="380.9" y1="83.7" x2="379.4" y2="83.4" stroke="#f9fb0e"/><line x1="379.4" y1="83.4" x2="378.0" y2="83.5" stroke="#f9fb0e"/><line x1="378.0" y1="83.5" x2="376.6" y2="84.1" stroke="#f9fb0e"/><line x1="376.6" y1="84.1" x2="375.2" y2="85.0" stroke="#f9fb0e"/><line x1="375.2" y1="85.0" x2="373.8" y2="86.2" stroke="#f6f313"/><line x1="373.8" y1="86.2" x2="372.4" y2="87.8" stroke="#f5de21"/><line x1="372.4" y1="87.8" x2="371.0" y2="89.6" stroke="#fcce2e"/><line x1="371.0" y1="89.6" x2="369.6" y2="91.7" stroke="#f8bb44"/><line x1="369.6" y1="91.7" x2="368.1" y2="94.0" stroke="#d9ba56"/><line x1="368.1" y1="94.0" x2="366.7" y2="96.4" stroke="#b7bd64"/><line x1="366.7" y1="96.4" x2="365.3" y2="98.0" stroke="#87bf77"/><line x1="365.3" y1="98.0" x2="363.9" y2="101.3" stroke="#65be86"/><line x1="363.9" y1="101.3" x2="362.5" y2="103.8" stroke="#25b5a9"/><line x1="362.5" y1="103.8" x2="361.1" y2="106.1" stroke="#0aacbe"/><line x1="361.1" y1="106.1" x2="359.7" y2="108.3" stroke="#079ccf"/><line x1="359.7" y1="108.3" x2="358.2" y2="110.3" stroke="#1389d3"/><line x1="358.2" y1="110.3" x2="356.8" y2="112.0" stroke="#1079da"/><line x1="356.8" y1="112.0" x2="355.4" y2="113.4" stroke="#046de0"/><line x1="355.4" y1="113.4" x2="354.0" y2="114.5" stroke="#0f5cdd"/><line x1="354.0" y1="114.5" x2="352.6" y2="115.2" stroke="#3243ba"/><line x1="352.6" y1="115.2" x2="351.2" y2="115.5" stroke="#3637a0"/><line x1="351.2" y1="115.5" x2="349.8" y2="115.4" stroke="#363093"/><line x1="349.8" y1="115.4" x2="348.3" y2="114.9" stroke="#352a87"/></g>
<g stroke="#262626" stroke-width="0.9"><line x1="414.8" y1="172.4" x2="523.5" y2="139.4"/><line x1="414.8" y1="172.4" x2="330.9" y2="128.7"/><line x1="330.9" y1="128.7" x2="330.9" y2="34.7"/><line x1="414.8" y1="172.4" x2="417.5" y2="173.8"/><line x1="469.2" y1="155.9" x2="471.8" y2="157.3"/><line x1="523.5" y1="139.4" x2="526.2" y2="140.8"/><line x1="414.8" y1="172.4" x2="411.9" y2="173.3"/><line x1="344.8" y1="136" x2="342" y2="136.9"/><line x1="330.9" y1="128.7" x2="328.2" y2="127.3"/><line x1="330.9" y1="105.2" x2="328.2" y2="103.8"/><line x1="330.9" y1="81.7" x2="328.2" y2="80.3"/><line x1="330.9" y1="58.2" x2="328.2" y2="56.8"/><line x1="330.9" y1="34.7" x2="328.2" y2="33.3"/></g>
<g fill="#2e2e2e" style="font-family:'Liberation Serif',serif"><text transform="translate(423.7 187.25) scale(1 1.09)" font-size="11.9" text-anchor="middle">0</text><text transform="translate(481.9 170.75) scale(1 1.09)" font-size="11.9" text-anchor="middle">20</text><text transform="translate(535.7 153.75) scale(1 1.09)" font-size="11.9" text-anchor="middle">40</text><text transform="translate(405.1 186.15) scale(1 1.09)" font-size="11.9" text-anchor="middle">0</text><text transform="translate(332.6 150.05) scale(1 1.09)" font-size="11.9" text-anchor="middle">50</text><text transform="translate(324.85 131.75) scale(1 1.09)" font-size="11.9" text-anchor="end">-4</text><text transform="translate(324.85 108.25) scale(1 1.09)" font-size="11.9" text-anchor="end">-2</text><text transform="translate(324.85 84.75) scale(1 1.09)" font-size="11.9" text-anchor="end">0</text><text transform="translate(324.85 61.25) scale(1 1.09)" font-size="11.9" text-anchor="end">2</text><text transform="translate(324.85 37.75) scale(1 1.09)" font-size="11.9" text-anchor="end">4</text><text transform="translate(459.8 197.7) scale(1 1.09)" font-size="11.9">Spatial variable <tspan font-style="italic" font-size="12.6">ζ</tspan><tspan font-size="9.6" dy="4.9" dx="0.3">1</tspan></text><text transform="translate(281.3 190.6) scale(1 1.09)" font-size="11.9">Spatial variable <tspan font-style="italic" font-size="12.6">ζ</tspan><tspan font-size="9.6" dy="4.9" dx="0.3">2</tspan></text><text transform="translate(299.7 116.17) scale(1 1.09) rotate(-90)" font-size="11.9">Spatial variable <tspan font-style="italic" font-size="12.6">ζ</tspan><tspan font-size="9.6" dy="4.9" dx="0.3">3</tspan></text><text transform="translate(292 22) scale(1 1.09)" font-size="14">×</text><text transform="translate(299.95 20.2) scale(1 1.09)" font-size="11.9">10</text><text transform="translate(311.95 13.6) scale(1 1.09)" font-size="9.6">-3</text></g>
<g stroke="#dcdcdc" stroke-width="0.6"><line x1="56.8" y1="363.7" x2="56.8" y2="269.7"/><line x1="111.2" y1="348.1" x2="111.2" y2="254.1"/><line x1="165.7" y1="332.4" x2="165.7" y2="238.4"/><line x1="56.8" y1="363.7" x2="165.7" y2="332.4"/><line x1="56.8" y1="332.4" x2="165.7" y2="301.1"/><line x1="56.8" y1="301" x2="165.7" y2="269.7"/><line x1="56.8" y1="269.7" x2="165.7" y2="238.4"/><line x1="249.4" y1="374.4" x2="249.4" y2="280.4"/><line x1="179.7" y1="339.4" x2="179.7" y2="245.4"/><line x1="249.4" y1="374.4" x2="165.7" y2="332.4"/><line x1="249.4" y1="343.1" x2="165.7" y2="301.1"/><line x1="249.4" y1="311.7" x2="165.7" y2="269.7"/><line x1="249.4" y1="280.4" x2="165.7" y2="238.4"/><line x1="140.7" y1="407.4" x2="56.8" y2="363.7"/><line x1="195.1" y1="390.9" x2="111.2" y2="348.1"/><line x1="249.4" y1="374.4" x2="165.7" y2="332.4"/><line x1="140.7" y1="407.4" x2="249.4" y2="374.4"/><line x1="70.7" y1="371" x2="179.7" y2="339.4"/></g>
<g transform="scale(0.5)" stroke-width="1.1"><path class=c9 d="M366 655l0 24 0 0 0 0zm-5 1l5-1 0 24-5 1z"/><path class=c10 d="M369 656l0 24-3-1 0-24zm-5 1l5-1-3-1-5 1zm8 0l0 24-3-1 0-24z"/><path class=c9 d="M355 658l6-2 0 24-6 2zm-5 1l5-1 0 24-5 1z"/><path class=c10 d="M366 658l6-1-3-1-5 1zm-8 1l6-2-3-1-6 2zm17-1l0 25-3-2 0-24zm-6 1l6-1-3-1-6 1zm-8 1l5-2-2-1-6 2zm-8 0l5-1-3-1-5 1zm25-2l0 26-3-1 0-25zm-34 3l6-2 0 24-6 2zm28-1l6-2-3 0-6 1zm-8 1l5-2-3-1-5 2zm-8 0l5-1-3-1-5 1zm-9 1l6-2-3-1-6 2z"/><path class=c11 d="M380 659l0 27-2-2 0-26z"/><path class=c10 d="M339 662l5-1 0 24-5 1zm28-1l5-1-3-1-5 2zm-9 2l6-2-3-1-5 1zm-8 0l6-2-3-1-6 2zm-8 0l5-1-3-1-5 1z"/><path class=c11 d="M375 660l5-1-2-1-6 2zm8 0l0 27-3-1 0-27zm-5 1l5-1-3-1-5 1z"/><path class=c10 d="M334 663l5-1 0 24-5 2zm27 0l6-2-3 0-6 2zm-8 1l5-1-2-2-6 2zm-8 1l5-2-3-1-5 1zm-9-1l6-1-3-1-5 1zm28 0l5-2-2-1-6 2zm-36 0l6-1 0 25-6 2zm28 2l5-3-3 0-5 1zm-8 0l5-2-3-1-5 2z"/><path class=c11 d="M369 662l6-2-3 0-5 1zm17-2l0 28-3-1 0-27zm-5 1l5-1-3 0-5 1zm-9 2l6-2-3-1-6 2z"/><path class=c12 d="M389 661l0 29-3-2 0-28z"/><path class=c10 d="M339 666l6-1-3-2-6 1zm-8-1l5-1-2-1-6 1zm28 2l5-3-3-1-5 3zm-36-2l5-1 0 26-5 1zm27 3l6-2-3-2-5 2zm-8 0l6-2-3-1-6 1zm-8-1l5-1-3-2-5 1zm-8-1l5-1-3-1-5 1z"/><path class=c11 d="M375 663l6-2-3 0-6 2zm-8 2l5-2-3-1-5 2z"/><path class=c12 d="M383 661l6 0-3-1-5 1zm9 0l0 30-3-1 0-29zm-14 2l5-2-2 0-6 2z"/><path class=c13 d="M386 661l6 0-3 0-6 0z"/><path class=c9 d="M345 670l5-2-2-2-6 2z"/><path class=c10 d="M361 667l6-2-3-1-5 3zm-8 2l6-2-3-1-6 2zm-16 0l5-1-3-2-5 1zm-9-1l6-1-3-2-5 1zm28 1l5-2-2 0-6 2zm-8 2l5-2-3-1-5 2z"/><path class=c11 d="M370 665l5-2-3 0-5 2zm-53 1l6-1 0 26-6 2zm3 1l6-1-3-1-6 1zm44 0l6-2-3 0-6 2z"/><path class=c12 d="M373 665l5-2-3 0-5 2z"/><path class=c13 d="M394 660l0 33-2-2 0-30zm-5 1l5-1-2 1-6 0zm-8 2l5-2-3 0-5 2z"/><path class=c14 d="M397 659l0 35-3-1 0-33z"/><path class=c9 d="M339 671l6-1-3-2-5 1z"/><path class=c10 d="M331 671l6-2-3-2-6 1zm20 0l5-2-3 0-5 2zm-9 1l6-1-3-1-6 1zm-8 0l5-1-2-2-6 2zm-8-1l5 0-3-3-5 1z"/><path class=c11 d="M312 667l5-1 0 27-5 1zm11 2l5-1-2-2-6 1zm-8-2l5 0-3-1-5 1zm44 2l5-2-3 0-5 2zm-42 0l6 0-3-2-5 0z"/><path class=c12 d="M367 667l6-2-3 0-6 2zm-61 0l6 0 0 27-6 2z"/><path class=c13 d="M375 665l6-2-3 0-5 2zm3-1l6-2-3 1-6 2z"/><path class=c14 d="M392 660l5-1-3 1-5 1zm-8 2l5-1-3 0-5 2z"/><path class=c15 d="M400 658l0 38-3-2 0-35zm-14 3l6-1-3 1-5 1z"/><path class=c16 d="M395 658l5 0-3 1-5 1z"/><path class=c10 d="M345 673l6-2-3 0-6 1zm-8 1l5-2-3-1-5 1zm-8-1l5-1-3-1-5 0z"/><path class=c11 d="M362 669l5-2-3 0-5 2zm-9 2l6-2-3 0-5 2zm-33 1l6-1-3-2-6 0zm36-1l6-2-3 0-6 2z"/><path class=c12 d="M309 667l6 0-3 0-6 0zm61 0l5-2-2 0-6 2zm-69 0l5 0 0 29-5 2zm11 2l5 0-2-2-6 0zm52-1l6-1-3 0-5 2z"/><path class=c13 d="M373 666l5-2-3 1-5 2zm-69 1l5 0-3 0-5 0z"/><path class=c15 d="M381 663l5-2-2 1-6 2z"/><path class=c16 d="M389 659l6-1-3 2-6 1z"/><path class=c17 d="M403 656l0 41-3-1 0-38zm-6 0l6 0-3 2-5 0z"/><path class=c18 d="M406 653l0 45-3-1 0-41z"/><path class=c10 d="M340 674l5-1-3-1-5 2zm-9 0l6 0-3-2-5 1z"/><path class=c11 d="M348 673l5-2-2 0-6 2zm-25 0l6 0-3-2-6 1zm-8-1l5 0-3-3-5 0zm27 1l6 0-3 0-5 1zm-8 1l6 0-3 0-6 0zm-8 0l5 0-2-1-6 0z"/><path class=c12 d="M359 670l5-2-2 1-6 2zm-8 2l5-1-3 0-5 2z"/><path class=c13 d="M295 667l6 0 0 31-6 1zm12 2l5 0-3-2-5 0zm60-1l6-2-3 1-6 1z"/><path class=c14 d="M376 665l5-2-3 1-5 2zm-78 2l6 0-3 0-6 0zm-8-1l5 1 0 32-5 2z"/><path class=c16 d="M384 661l5-2-3 2-5 2z"/><path class=c17 d="M392 657l5-1-2 2-6 1zm-5 2l5-2-3 2-5 2z"/><path class=c19 d="M400 653l6 0-3 3-6 0zm-5 2l5-2-3 3-5 1z"/><path class=c20 d="M409 650l0 50-3-2 0-45z"/><path class=c21 d="M403 650l6 0-3 3-6 0z"/><path class=c11 d="M318 673l5 0-3-1-5 0z"/><path class=c12 d="M309 671l6 1-3-3-5 0zm36 1l6 0-3 1-6 0zm-8 1l5 0-2 1-6 0zm-8 1l5 0-3 0-5 0zm-9 0l6 0-3-1-5 0zm-8-1l6 0-3-1-6-1z"/><path class=c13 d="M301 669l6 0-3-2-6 0zm61 0l5-1-3 0-5 2zm-8 2l5-1-3 1-5 1zm-50 0l5 0-2-2-6 0z"/><path class=c14 d="M370 666l6-1-3 1-6 2zm-77 0l5 1-3 0-5-1zm3 2l5 1-3-2-5-1zm60 1l6 0-3 1-5 1z"/><path class=c15 d="M285 666l5 0 0 35-5 1zm80 1l5-1-3 2-5 1z"/><path class=c16 d="M378 663l6-2-3 2-5 2zm-5 2l5-2-2 2-6 1z"/><path class=c17 d="M381 661l6-2-3 2-6 2z"/><path class=c19 d="M389 657l6-2-3 2-5 2z"/><path class=c21 d="M398 651l5-1-3 3-5 2z"/><path class=c22 d="M411 646l0 55-2-1 0-50z"/><path class=c23 d="M406 646l5 0-2 4-6 0z"/><path class=c24 d="M414 643l0 60-3-2 0-55z"/><path class=c12 d="M323 674l6 0-3 0-6 0zm-8 0l5 0-2-1-6 0z"/><path class=c13 d="M348 670l6 1-3 1-6 0zm-8 2l5 0-3 1-5 0zm-8 1l5 0-3 1-5 0zm-25 0l5 0-3-2-5 0z"/><path class=c14 d="M299 671l5 0-3-2-5-1zm44-1l5 0-3 2-5 0zm-9 1l6 1-3 1-5 0zm-8 1l6 1-3 1-6 0z"/><path class=c15 d="M287 666l6 0-3 0-5 0zm-8-1l6 1 0 36-6 2zm80 3l6-1-3 2-6 0zm-69 0l6 0-3-2-6 0zm61 1l5 0-2 2-6-1z"/><path class=c16 d="M367 666l6-1-3 1-5 1zm-85 0l5 0-2 0-6-1z"/><path class=c17 d="M376 663l5-2-3 2-5 2z"/><path class=c18 d="M384 659l5-2-2 2-6 2z"/><path class=c20 d="M387 657l5-3-3 3-5 2z"/><path class=c21 d="M392 654l6-3-3 4-6 2z"/><path class=c22 d="M395 651l6-3-3 3-6 3z"/><path class=c23 d="M401 648l5-2-3 4-5 1z"/><path class=c25 d="M409 643l5 0-3 3-5 0zm-6 2l6-2-3 3-5 2z"/><path class=c27 d="M417 639l0 65-3-1 0-60zm-5 0l5 0-3 4-5 0z"/><path class=c29 d="M420 635l0 70-3-1 0-65z"/><path class=c13 d="M318 673l5 1-3 0-5 0zm-8 0l5 1-3-1-5 0z"/><path class=c14 d="M301 672l6 1-3-2-5 0zm11 0l6 1-3 1-5-1zm-8 1l6 0-3 0-6-1z"/><path class=c15 d="M293 670l6 1-3-3-6 0zm36-1l5 2-2 2-6-1zm-8 2l5 1-3 2-5-1zm-25 1l5 0-2-1-6-1z"/><path class=c16 d="M274 665l5 0 0 39-5 1zm88 1l5 0-2 1-6 1zm-8 1l5 1-3 1-5 0zm-69 0l5 1-3-2-5 0zm60 0l6 2-3 1-5 0zm-8 1l6 2-3 2-6-1z"/><path class=c17 d="M370 665l6-2-3 2-6 1zm-93 0l5 1-3-1-5 0zm-9 1l6-1 0 40-6 2z"/><path class=c18 d="M379 662l5-3-3 2-5 2zm-6 1l6-1-3 1-6 2zm-8 2l5 0-3 1-5 0zm-8 0l5 1-3 2-5-1z"/><path class=c19 d="M381 660l6-3-3 2-5 3z"/><path class=c21 d="M390 655l5-4-3 3-5 3z"/><path class=c24 d="M398 648l5-3-2 3-6 3z"/><path class=c27 d="M406 641l6-2-3 4-6 2z"/><path class=c29 d="M414 635l6 0-3 4-5 0z"/><path class=c31 d="M423 632l0 75-3-2 0-70zm-6 0l6 0-3 3-6 0z"/><path class=c15 d="M288 670l5 0-3-2-5-1zm19 1l5 1-2 1-6 0zm-8 1l5 1-3-1-5 0zm-9 0l6 0-3-2-5 0z"/><path class=c16 d="M315 670l6 1-3 2-6-1zm-33 0l6 0-3-3-6 0z"/><path class=c17 d="M279 667l6 0-3-1-5-1zm-8-1l6-1-3 0-6 1zm61 0l5 2-3 3-5-2zm-8 2l5 1-3 3-5-1zm-61-2l5 0 0 41-5 2zm11 2l5-1-2-2-6 1z"/><path class=c18 d="M348 665l6 2-3 2-6-2zm-8 0l5 2-2 3-6-2z"/><path class=c19 d="M376 662l5-2-2 2-6 1zm-8 1l5 0-3 2-5 0zm-9 0l6 2-3 1-5-1zm-8-1l6 3-3 2-6-2zm-8 0l5 3-3 2-5-2zm-8 1l5 2-3 3-5-2z"/><path class=c20 d="M384 659l6-4-3 2-6 3z"/><path class=c23 d="M392 653l6-5-3 3-5 4z"/><path class=c24 d="M395 651l6-6-3 3-6 5z"/><path class=c26 d="M401 645l5-4-3 4-5 3z"/><path class=c28 d="M404 643l5-5-3 3-5 4z"/><path class=c29 d="M409 638l5-3-2 4-6 2z"/><path class=c31 d="M412 635l5-3-3 3-5 3z"/><path class=c32 d="M425 630l0 78-2-1 0-75zm-5 1l5-1-2 2-6 0z"/><path class=c33 d="M428 629l0 81-3-2 0-78z"/><path class=c16 d="M302 671l5 0-3 2-5-1zm-9 1l6 0-3 0-6 0zm-8 0l5 0-2-2-6 0zm-8-1l5-1-3-3-5 1z"/><path class=c17 d="M310 669l5 1-3 2-5-1zm-53-1l6-2 0 43-6 1zm11 1l6-1-3-2-5 0z"/><path class=c18 d="M266 666l5 0-3 0-5 0zm52 0l6 2-3 3-6-1zm-58 2l6-2-3 0-6 2zm44 0l6 1-3 2-5 0z"/><path class=c19 d="M326 664l6 2-3 3-5-1zm-13 1l5 1-3 4-5-1z"/><path class=c20 d="M379 661l5-2-3 1-5 2zm-9 1l6 0-3 1-5 0zm-8-1l6 2-3 2-6-2zm-41 1l5 2-2 4-6-2z"/><path class=c21 d="M354 660l5 3-2 2-6-3zm-8-1l5 3-3 3-5-3zm-9 0l6 3-3 3-5-2zm-8 1l6 3-3 3-6-2zm53 1l5-3-3 1-5 2zm-9 1l6-1-3 1-6 0zm-8-2l5 2-2 1-6-2z"/><path class=c22 d="M387 658l5-5-2 2-6 4z"/><path class=c23 d="M390 657l5-6-3 2-5 5z"/><path class=c25 d="M398 649l6-6-3 2-6 6z"/><path class=c29 d="M406 641l6-6-3 3-5 5z"/><path class=c32 d="M415 634l5-3-3 1-5 3z"/><path class=c33 d="M423 630l5-1-3 1-5 1zm8 0l0 81-3-1 0-81z"/><path class=c34 d="M426 630l5 0-3-1-5 1z"/><path class=c16 d="M288 672l5 0-3 0-5 0zm-8 0l5 0-3-2-5 1z"/><path class=c17 d="M296 670l6 1-3 1-6 0zm-44-1l5-1 0 42-5 2zm19 2l6 0-3-3-6 1zm-8-1l5-1-2-3-6 2zm19 3l6-1-3 0-5 0zm-36-1l6-3 0 43-6 1zm28 1l6-1-3-1-6 0z"/><path class=c18 d="M255 670l5-2-3 0-5 1zm36 0l5 0-3 2-5 0z"/><path class=c19 d="M299 667l5 1-2 3-6-1z"/><path class=c20 d="M307 664l6 1-3 4-6-1z"/><path class=c21 d="M384 661l6-4-3 1-5 3zm-8 0l6 0-3 0-6 1z"/><path class=c22 d="M357 658l5 3-3 2-5-3zm-42 2l6 2-3 4-5-1zm53-1l5 3-3 0-5-2z"/><path class=c23 d="M349 656l5 4-3 2-5-3zm-17 0l5 3-2 4-6-3zm61 0l5-7-3 2-5 6zm-69 2l5 2-3 4-5-2z"/><path class=c24 d="M340 655l6 4-3 3-6-3zm20 1l5 4-3 1-5-3zm35 0l6-7-3 0-5 7z"/><path class=c25 d="M351 653l6 5-3 2-5-4z"/><path class=c26 d="M401 649l5-8-2 2-6 6zm-58 2l6 5-3 3-6-4zm-8 0l5 4-3 4-5-3z"/><path class=c27 d="M404 648l5-8-3 1-5 8z"/><path class=c30 d="M409 640l6-6-3 1-6 6z"/><path class=c31 d="M412 640l5-7-2 1-6 6z"/><path class=c33 d="M417 633l6-3-3 1-5 3zm17-2l0 81-3-1 0-81zm-14 3l6-4-3 0-6 3zm17 1l0 79-3-2 0-81z"/><path class=c34 d="M429 632l5-1-3-1-5 0z"/><path class=c16 d="M241 675l5-3 0 41-5 2z"/><path class=c17 d="M266 673l5-2-3-2-5 1zm-8-1l5-2-3-2-5 2zm-9 0l6-2-3-1-6 3zm28 2l5-1-2-1-6 1zm-8 1l5-2-3-2-5 2zm-9 0l6-2-3-3-5 2zm-8-1l6-2-3-2-6 2zm-8 1l5-3-3 0-5 3z"/><path class=c18 d="M285 671l6-1-3 2-6 1z"/><path class=c20 d="M293 667l6 0-3 3-5 0z"/><path class=c21 d="M302 663l5 1-3 4-5-1z"/><path class=c22 d="M387 661l6-5-3 1-6 4zm-8 1l5-1-2 0-6 0zm11 0l5-6-2 0-6 5zm-8 1l5-2-3 0-5 1z"/><path class=c23 d="M310 659l5 1-2 5-6-1zm61 0l5 2-3 1-5-3z"/><path class=c24 d="M318 655l6 3-3 4-6-2zm80 2l6-9-3 1-6 7zm-24 2l5 3-3-1-5-2zm-69-1l5 1-3 5-5-1z"/><path class=c25 d="M327 653l5 3-3 4-5-2zm35 1l6 5-3 1-5-4z"/><path class=c26 d="M313 653l5 2-3 5-5-1zm52 0l6 6-3 0-6-5z"/><path class=c27 d="M354 650l6 6-3 2-6-5zm-33 0l6 3-3 5-6-3z"/><path class=c28 d="M346 648l5 5-2 3-6-5zm61 1l5-9-3 0-5 8zm-69-2l5 4-3 4-5-4zm-9 1l6 3-3 5-5-3z"/><path class=c31 d="M415 641l5-7-3-1-5 7zm25-2l0 76-3-1 0-79z"/><path class=c32 d="M434 639l6 0-3-4-6 0zm-8 0l5-4-2-3-6 4z"/><path class=c33 d="M431 635l6 0-3-4-5 1zm-8 1l6-4-3-2-6 4z"/><path class=c15 d="M236 678l5-3 0 40-5 2z"/><path class=c16 d="M263 677l6-2-3-2-6 2zm-8 0l5-2-2-3-6 2zm-8 0l5-3-3-2-5 3zm-9 1l6-3-3 0-5 3z"/><path class=c17 d="M271 675l6-1-3-1-5 2z"/><path class=c18 d="M280 672l5-1-3 2-5 1zm-6 2l6-2-3 2-6 1z"/><path class=c20 d="M288 668l5-1-2 3-6 1zm-5 1l5-1-3 3-5 1z"/><path class=c22 d="M296 663l6 0-3 4-6 0zm97 1l5-7-3-1-5 6zm-8 0l5-2-3-1-5 2zm11 1l5-7-3-1-5 7z"/><path class=c23 d="M291 663l5 0-3 4-5 1z"/><path class=c24 d="M401 658l6-9-3-1-6 9zm-25 2l6 3-3-1-5-3zm28 0l5-10-2-1-6 9z"/><path class=c25 d="M299 657l6 1-3 5-6 0z"/><path class=c27 d="M307 652l6 1-3 6-5-1zm61 1l6 6-3 0-6-6zm44-1l6-9-3-2-6 9z"/><path class=c28 d="M357 648l5 6-2 2-6-6zm52 2l6-9-3-1-5 9zm36 0l0 68-3-1 0-73z"/><path class=c29 d="M316 647l5 3-3 5-5-2z"/><path class=c30 d="M349 644l5 6-3 3-5-5zm93 0l0 73-2-2 0-76zm-118 0l5 4-2 5-6-3zm113 1l5-1-2-5-6 0zm-77 1l5 7-3 1-5-6zm60-1l6-6-3-3-5 7z"/><path class=c31 d="M418 643l5-7-3-2-5 7zm-78-1l6 6-3 3-5-4zm-8 0l6 5-3 4-6-3zm97 1l5-4-3-4-5 4z"/><path class=c32 d="M352 641l5 7-3 2-5-6z"/><path class=c33 d="M343 638l6 6-3 4-6-6z"/><path class=c34 d="M335 637l5 5-2 5-6-5z"/><path class=c14 d="M225 685l5-3 0 36-5 2z"/><path class=c15 d="M230 682l6-4 0 39-6 1zm3 0l5-4-2 0-6 4zm19 0l6-3-3-2-5 3zm-8 1l6-3-3-3-6 4z"/><path class=c16 d="M258 679l5-2-3-2-5 2zm-8 1l5-3-3-3-5 3zm-9 1l6-4-3-2-6 3zm20-1l5-3-3 0-5 2z"/><path class=c17 d="M266 677l5-2-2 0-6 2z"/><path class=c18 d="M269 676l5-2-3 1-5 2z"/><path class=c20 d="M277 670l6-1-3 3-6 2z"/><path class=c22 d="M387 666l6-2-3-2-5 2zm11 1l6-7-3-2-5 7zm-8 1l6-3-3-1-6 2z"/><path class=c23 d="M285 664l6-1-3 5-5 1z"/><path class=c24 d="M379 661l6 3-3-1-6-3zm28 1l5-10-3-2-5 10zm-25 0l5 4-2-2-6-3z"/><path class=c26 d="M294 657l5 0-3 6-5 0zm154 0l0 63-3-2 0-68zm-5 0l5 0-3-7-5 1z"/><path class=c27 d="M415 655l5-10-2-2-6 9z"/><path class=c28 d="M440 651l5-1-3-6-5 1zm-69 2l5 7-2-1-6-6zm-69-2l5 1-2 6-6-1zm72 2l5 8-3-1-5-7zm60 1l6-3-3-6-5 3z"/><path class=c29 d="M423 649l6-6-3-4-6 6z"/><path class=c30 d="M310 646l6 1-3 6-6-1zm122 2l5-3-3-6-5 4z"/><path class=c31 d="M363 644l5 9-3 0-5-7zm-58 0l5 2-3 6-5-1z"/><path class=c32 d="M318 641l6 3-3 6-5-3zm47 2l6 10-3 0-5-9z"/><path class=c33 d="M327 638l5 4-3 6-5-4z"/><path class=c34 d="M354 638l6 8-3 2-5-7zm-41 1l5 2-2 6-6-1z"/><path class=c35 d="M346 634l6 7-3 3-6-6zm-25 1l6 3-3 6-6-3z"/><path class=c36 d="M338 632l5 6-3 4-5-5zm-8 1l5 4-3 5-5-4z"/><path class=c13 d="M219 689l6-4 0 35-6 1zm3 0l6-3-3-1-6 4z"/><path class=c14 d="M228 686l5-4-3 0-5 3zm11 1l5-4-3-2-5 3zm-9 1l6-4-3-2-5 4z"/><path class=c15 d="M236 684l5-3-3-3-5 4zm11 2l5-4-2-2-6 3z"/><path class=c16 d="M255 683l6-3-3-1-6 3z"/><path class=c18 d="M263 678l6-2-3 1-5 3z"/><path class=c20 d="M272 672l5-2-3 4-5 2z"/><path class=c21 d="M401 670l6-8-3-2-6 7zm-8 0l5-3-2-2-6 3zm61 0l0 52-3-1 0-57zm-50 2l6-8-3-2-6 8z"/><path class=c23 d="M451 664l0 57-3-1 0-63zm-41 0l5-9-3-3-5 10zm-130 1l5-1-2 5-6 1zm132 2l6-9-3-3-5 9z"/><path class=c24 d="M385 664l5 4-3-2-5-4zm60 0l6 0-3-7-5 0z"/><path class=c25 d="M421 662l5-8-3-5-5 9z"/><path class=c26 d="M418 658l5-9-3-4-5 10zm-130 0l6-1-3 6-6 1zm149 2l6-3-3-6-6 3zm-8-1l5-5-2-6-6 6zm-146 1l5-2-3 6-5 1z"/><path class=c28 d="M426 654l6-6-3-5-6 6zm-49 0l5 8-3-1-5-8z"/><path class=c29 d="M297 651l5 0-3 6-5 0zm-6 1l6-1-3 6-6 1z"/><path class=c32 d="M299 644l6 0-3 7-5 0z"/><path class=c33 d="M368 643l6 10-3 0-6-10z"/><path class=c35 d="M357 636l6 8-3 2-6-8zm-49 2l5 1-3 7-5-2z"/><path class=c37 d="M316 632l5 3-3 6-5-2zm44 2l5 9-2 1-6-8z"/><path class=c38 d="M349 630l5 8-2 3-6-7zm-25-1l6 4-3 5-6-3z"/><path class=c39 d="M341 628l5 6-3 4-5-6zm-9-1l6 5-3 5-5-4zm20 0l5 9-3 2-5-8z"/><path class=c41 d="M343 623l6 7-3 4-5-6z"/><path class=c12 d="M214 692l5-3 0 32-5 2z"/><path class=c13 d="M233 691l6-4-3-3-6 4zm-8 1l5-4-2-2-6 3zm-8 1l5-4-3 0-5 3z"/><path class=c14 d="M241 689l6-3-3-3-5 4z"/><path class=c15 d="M250 686l5-3-3-1-5 4z"/><path class=c16 d="M253 685l5-4-3 2-5 3z"/><path class=c17 d="M258 681l5-3-2 2-6 3z"/><path class=c19 d="M457 676l0 48-3-2 0-52zm-196 2l5-3-3 3-5 3z"/><path class=c20 d="M266 675l6-3-3 4-6 2zm185 2l6-1-3-6-6 0z"/><path class=c21 d="M396 672l5-2-3-3-5 3zm11 2l5-7-2-3-6 8zm-8 0l5-2-3-2-5 2z"/><path class=c22 d="M448 670l6 0-3-6-6 0zm-33 1l6-9-3-4-6 9zm-146-1l6-2-3 4-6 3zm174 2l5-2-3-6-5 2z"/><path class=c23 d="M275 668l5-3-3 5-5 2zm115 1l6 3-3-2-5-4zm45 1l5-4-3-6-5 5z"/><path class=c24 d="M388 666l5 4-3-2-5-4zm52 0l5-2-2-7-6 3zm-8-1l5-5-3-6-5 5zm-9 1l6-7-3-5-5 8z"/><path class=c26 d="M277 662l6-2-3 5-5 3z"/><path class=c28 d="M379 656l6 8-3-2-5-8zm3 1l6 9-3-2-6-8z"/><path class=c29 d="M286 653l5-1-3 6-5 2z"/><path class=c33 d="M371 644l6 10-3-1-6-10zm-77 1l5-1-2 7-6 1zm80-1l5 12-2-2-6-10z"/><path class=c36 d="M302 637l6 1-3 6-6 0z"/><path class=c38 d="M310 631l6 1-3 7-5-1zm53 2l5 10-3 0-5-9z"/><path class=c40 d="M319 626l5 3-3 6-5-3z"/><path class=c41 d="M327 623l5 4-2 6-6-4zm28 2l5 9-3 2-5-9z"/><path class=c42 d="M335 622l6 6-3 4-6-5zm-22 2l6 2-3 6-6-1z"/><path class=c43 d="M346 620l6 7-3 3-6-7z"/><path class=c44 d="M338 617l5 6-2 5-6-6zm-8 0l5 5-3 5-5-4zm-8 3l5 3-3 6-5-3z"/><path class=c11 d="M203 698l5-3 0 29-5 2z"/><path class=c12 d="M208 695l6-3 0 31-6 1zm11 0l6-3-3-3-5 4zm-8 1l6-3-3-1-6 3zm20 0l5-3-3-2-5 3zm-9 2l6-4-3-2-6 3z"/><path class=c13 d="M236 693l5-4-2-2-6 4zm-8 1l5-3-3-3-5 4zm11 0l5-4-3-1-5 4z"/><path class=c14 d="M244 690l6-4-3 0-6 3z"/><path class=c15 d="M247 689l6-4-3 1-6 4z"/><path class=c16 d="M462 687l0 40-3-2 0-43z"/><path class=c17 d="M459 682l0 43-2-1 0-48z"/><path class=c18 d="M454 683l5-1-2-6-6 1zm-199-1l6-4-3 3-5 4z"/><path class=c20 d="M410 677l5-6-3-4-5 7zm-8 0l5-3-3-2-5 2zm44 1l5-1-3-7-5 2zm-25 0l5-7-3-5-5 8zm-8 2l5-6-3-3-5 6zm-9-1l6-2-3-3-5 3z"/><path class=c21 d="M418 674l5-8-2-4-6 9zm-154 0l5-4-3 5-5 3zm173 2l6-4-3-6-5 4zm-8 0l6-6-3-5-6 6z"/><path class=c22 d="M426 671l6-6-3-6-6 7z"/><path class=c23 d="M393 671l6 3-3-2-6-3z"/><path class=c25 d="M272 665l5-3-2 6-6 2z"/><path class=c28 d="M385 660l5 9-2-3-6-9z"/><path class=c29 d="M280 656l6-3-3 7-6 2z"/><path class=c32 d="M283 649l5-3-2 7-6 3z"/><path class=c33 d="M288 646l6-1-3 7-5 1zm89 0l5 11-3-1-5-12z"/><path class=c36 d="M297 638l5-1-3 7-5 1zm-6 1l6-1-3 7-6 1z"/><path class=c38 d="M366 632l5 12-3-1-5-10z"/><path class=c39 d="M305 630l5 1-2 7-6-1zm63 3l6 11-3 0-5-12z"/><path class=c40 d="M300 630l5 0-3 7-5 1z"/><path class=c42 d="M357 623l6 10-3 1-5-9z"/><path class=c43 d="M308 623l5 1-3 7-5-1zm52-1l6 10-3 1-6-10z"/><path class=c45 d="M349 617l6 8-3 2-6-7zm-33 0l6 3-3 6-6-2z"/><path class=c47 d="M341 613l5 7-3 3-5-6zm-8-1l5 5-3 5-5-5zm-9 2l6 3-3 6-5-3zm28 1l5 8-2 2-6-8z"/><path class=c49 d="M344 610l5 7-3 3-5-7z"/><path class=c11 d="M206 699l5-3-3-1-5 3zm-9 2l6-3 0 28-6 2zm28-1l6-4-3-2-6 4zm-8 1l5-3-3-3-5 3zm-8 0l5-3-3-2-5 3zm-9 1l6-3-3-1-6 3z"/><path class=c12 d="M214 698l5-3-2-2-6 3zm19-1l6-3-3-1-5 3z"/><path class=c13 d="M468 696l0 33-3-1 0-36z"/><path class=c14 d="M465 692l0 36-3-1 0-40zm-223 1l5-4-3 1-5 4z"/><path class=c15 d="M460 692l5 0-3-5-5 1z"/><path class=c16 d="M457 688l5-1-3-5-5 1zm-6 1l6-1-3-5-6 1z"/><path class=c17 d="M250 686l5-4-2 3-6 4z"/><path class=c18 d="M448 684l6-1-3-6-5 1zm-5 3l5-3-2-6-6 3zm-8-2l5-4-3-5-5 4z"/><path class=c19 d="M440 681l6-3-3-6-6 4zm-16 0l5-5-3-5-5 7zm-9 2l6-5-3-4-5 6zm-162-1l5-4-3 4-5 4z"/><path class=c20 d="M258 678l6-4-3 4-6 4zm174 2l5-4-2-6-6 6zm-25 1l6-1-3-3-6 2z"/><path class=c22 d="M396 673l6 4-3-3-6-3zm3 2l5 4-2-2-6-4z"/><path class=c23 d="M261 673l5-4-2 5-6 4z"/><path class=c24 d="M266 669l6-4-3 5-5 4z"/><path class=c27 d="M388 662l5 9-3-2-5-9zm-119 1l6-4-3 6-6 4zm122 1l5 9-3-2-5-9z"/><path class=c28 d="M275 659l5-3-3 6-5 3z"/><path class=c31 d="M278 652l5-3-3 7-5 3z"/><path class=c33 d="M380 648l5 12-3-3-5-11zm2 2l6 12-3-2-5-12z"/><path class=c36 d="M286 642l5-3-3 7-5 3z"/><path class=c39 d="M371 634l6 12-3-2-6-11zm3 2l6 12-3-2-6-12z"/><path class=c40 d="M294 632l6-2-3 8-6 1z"/><path class=c43 d="M302 623l6 0-3 7-5 0z"/><path class=c44 d="M363 622l5 11-2-1-6-10z"/><path class=c46 d="M311 616l5 1-3 7-5-1z"/><path class=c48 d="M319 611l5 3-2 6-6-3zm36 2l5 9-3 1-5-8z"/><path class=c50 d="M335 608l6 5-3 4-5-5zm-8 0l6 4-3 5-6-3zm19-1l6 8-3 2-5-7zm-33 3l6 1-3 6-5-1z"/><path class=c51 d="M322 605l5 3-3 6-5-3z"/><path class=c52 d="M338 604l6 6-3 3-6-5zm-8-1l5 5-2 4-6-4z"/><path class=c10 d="M192 703l5-2 0 27-5 1zm19 1l6-3-3-3-5 3zm-16 0l5-2-3-1-5 2z"/><path class=c11 d="M220 703l5-3-3-2-5 3zm-17 1l6-3-3-2-6 3zm20 1l5-4-3-1-5 3z"/><path class=c12 d="M228 701l5-4-2-1-6 4zm3 0l5-4-3 0-5 4z"/><path class=c13 d="M236 697l6-4-3 1-6 3zm235 2l0 32-3-2 0-33zm-6 1l6-1-3-3-6 1z"/><path class=c14 d="M462 697l6-1-3-4-5 0z"/><path class=c15 d="M454 694l6-2-3-4-6 1zm-215 1l5-5-2 3-6 4z"/><path class=c16 d="M244 690l6-4-3 3-5 4zm202 1l5-2-3-5-5 3z"/><path class=c17 d="M438 690l5-3-3-6-5 4zm-9-1l6-4-3-5-6 5z"/><path class=c18 d="M426 685l6-5-3-4-5 5zm-8 0l6-4-3-3-6 5zm-171 2l6-5-3 4-6 4zm174 2l5-4-2-4-6 4z"/><path class=c19 d="M410 684l5-1-2-3-6 1zm3 2l5-1-3-2-5 1z"/><path class=c21 d="M405 680l5 4-3-3-5-3z"/><path class=c22 d="M402 678l5 3-3-2-5-4zm-146 0l5-5-3 5-5 4z"/><path class=c26 d="M393 667l6 8-3-2-5-9zm-129 1l5-5-3 6-5 4z"/><path class=c30 d="M272 657l6-5-3 7-6 4z"/><path class=c32 d="M385 653l6 11-3-2-6-12z"/><path class=c35 d="M280 646l6-4-3 7-5 3z"/><path class=c38 d="M377 638l5 12-2-2-6-12zm-94 1l6-4-3 7-6 4z"/><path class=c39 d="M289 635l5-3-3 7-5 3z"/><path class=c43 d="M297 625l5-2-2 7-6 2zm-6 3l6-3-3 7-5 3z"/><path class=c44 d="M366 623l5 11-3-1-5-11zm3 2l5 11-3-2-5-11z"/><path class=c47 d="M305 616l6 0-3 7-6 0zm-5 2l5-2-3 7-5 2z"/><path class=c48 d="M358 613l5 9-3 0-5-9z"/><path class=c49 d="M360 614l6 9-3-1-5-9z"/><path class=c50 d="M308 610l5 0-2 6-6 0z"/><path class=c52 d="M349 606l6 7-3 2-6-8zm3-1l6 8-3 0-6-7z"/><path class=c53 d="M316 604l6 1-3 6-6-1z"/><path class=c54 d="M341 601l5 6-2 3-6-6zm-8-2l5 5-3 4-5-5zm-8 1l5 3-3 5-5-3z"/><path class=c55 d="M344 599l5 7-3 1-5-6z"/><path class=c10 d="M187 706l5-3 0 26-5 2zm27 0l6-3-3-2-6 3zm-8 1l5-3-2-3-6 3zm-8-1l5-2-3-2-5 2zm-9 0l6-2-3-1-5 3zm28 2l6-3-3-2-6 3zm-36 0l6-2 0 25-6 1zm28 1l5-3-3-2-5 3zm-8 0l5-2-3-3-5 2z"/><path class=c11 d="M225 705l6-4-3 0-5 4z"/><path class=c12 d="M473 702l0 30-2-1 0-32zm-5 1l5-1-2-3-6 1zm8 2l0 29-3-2 0-30z"/><path class=c13 d="M460 702l5-2-3-3-5 1z"/><path class=c14 d="M457 698l5-1-2-5-6 2zm-223 1l5-4-3 2-5 4zm217 1l6-2-3-4-5 2z"/><path class=c15 d="M449 696l5-2-3-5-5 2zm-6 2l6-2-3-5-6 3z"/><path class=c16 d="M440 694l6-3-3-4-5 3zm-8-1l6-3-3-5-6 4z"/><path class=c17 d="M242 692l5-5-3 3-5 5zm182 0l5-3-3-4-5 4z"/><path class=c18 d="M416 689l5 0-3-4-5 1z"/><path class=c20 d="M250 683l6-5-3 4-6 5z"/><path class=c21 d="M407 683l6 3-3-2-5-4z"/><path class=c24 d="M258 673l6-5-3 5-5 5z"/><path class=c25 d="M399 673l6 7-3-2-6-8z"/><path class=c26 d="M396 670l6 8-3-3-6-8z"/><path class=c27 d="M261 668l6-6-3 6-6 5z"/><path class=c29 d="M267 662l5-5-3 6-5 5z"/><path class=c30 d="M391 660l5 10-3-3-5-11z"/><path class=c31 d="M388 656l5 11-2-3-6-11z"/><path class=c32 d="M269 656l6-6-3 7-5 5z"/><path class=c34 d="M275 650l5-4-2 6-6 5z"/><path class=c37 d="M278 644l5-5-3 7-5 4zm105 1l5 11-3-3-5-11z"/><path class=c38 d="M380 642l5 11-3-3-5-12z"/><path class=c42 d="M286 632l5-4-2 7-6 4z"/><path class=c43 d="M371 628l6 10-3-2-5-11z"/><path class=c46 d="M294 621l6-3-3 7-6 3z"/><path class=c49 d="M363 616l6 9-3-2-6-9z"/><path class=c50 d="M303 611l5-1-3 6-5 2z"/><path class=c53 d="M311 604l5 0-3 6-5 0zm44 2l5 8-2-1-6-8z"/><path class=c55 d="M319 598l6 2-3 5-6-1z"/><path class=c56 d="M336 596l5 5-3 3-5-5zm-9 0l6 3-3 4-5-3zm20 3l5 6-3 1-5-7z"/><path class=c58 d="M338 594l6 5-3 2-5-5zm-8-1l6 3-3 3-6-3zm-8 1l5 2-2 4-6-2z"/><path class=c10 d="M192 708l6-2-3-2-6 2zm-8 0l5-2-2 0-6 2zm28 2l5-2-3-2-5 3zm-36 0l5-2 0 24-5 2zm27 1l6-2-3-2-5 2zm-8-1l6-1-3-3-6 2zm-8-1l5-1-3-2-5 2zm-8 1l5-2-3 0-5 2z"/><path class=c11 d="M220 708l5-3-2 0-6 3zm259-1l0 28-3-1 0-29zm-5 1l5-1-3-2-5 1z"/><path class=c12 d="M471 706l5-1-3-3-5 1zm-8-1l5-2-3-3-5 2z"/><path class=c13 d="M228 703l6-4-3 2-6 4zm226 1l6-2-3-4-6 2z"/><path class=c14 d="M446 702l5-2-2-4-6 2zm-8-1l5-3-3-4-5 3zm-207 0l5-4-2 2-6 4z"/><path class=c15 d="M435 697l5-3-2-4-6 3zm-199 0l6-5-3 3-5 4zm194 2l5-2-3-4-5 2z"/><path class=c16 d="M427 695l5-2-3-4-5 3z"/><path class=c17 d="M418 692l6 0-3-3-5 0zm-179 2l6-6-3 4-6 5zm182 1l6 0-3-3-6 0z"/><path class=c19 d="M245 688l5-5-3 4-5 5zm168 2l5 2-2-3-6-3z"/><path class=c20 d="M410 686l6 3-3-3-6-3z"/><path class=c21 d="M248 684l5-5-3 4-5 5z"/><path class=c23 d="M253 679l5-6-2 5-6 5z"/><path class=c24 d="M402 677l5 6-2-3-6-7z"/><path class=c25 d="M256 674l5-6-3 5-5 6z"/><path class=c29 d="M394 664l5 9-3-3-5-10z"/><path class=c30 d="M264 662l5-6-2 6-6 6z"/><path class=c35 d="M272 650l6-6-3 6-6 6zm113 0l6 10-3-4-5-11z"/><path class=c40 d="M281 637l5-5-3 7-5 5z"/><path class=c41 d="M377 635l6 10-3-3-6-11z"/><path class=c43 d="M374 631l6 11-3-4-6-10z"/><path class=c45 d="M289 625l5-4-3 7-5 4z"/><path class=c47 d="M369 622l5 9-3-3-5-10z"/><path class=c48 d="M366 618l5 10-2-3-6-9zm-74 1l5-5-3 7-5 4z"/><path class=c50 d="M297 614l6-3-3 7-6 3z"/><path class=c52 d="M361 611l5 7-3-2-5-8z"/><path class=c53 d="M305 605l6-1-3 6-5 1zm53 3l5 8-3-2-5-8zm-58 0l5-3-2 6-6 3z"/><path class=c56 d="M314 598l5 0-3 6-5 0zm36 1l5 7-3-1-5-6zm-42 1l6-2-3 6-6 1zm44 1l6 7-3-2-5-7z"/><path class=c59 d="M341 594l6 5-3 0-6-5zm-25 0l6 0-3 4-5 0z"/><path class=c60 d="M333 591l5 3-2 2-6-3zm-8 0l5 2-3 3-5-2z"/><path class=c9 d="M165 713l5-2 0 25-5 1z"/><path class=c10 d="M214 710l6-2-3 0-5 2zm-8 2l6-2-3-1-6 2zm-36-1l6-1 0 24-6 2zm28 1l5-1-2-2-6 1zm-8-1l5-1-3-2-5 1zm-17 0l6-1-3 0-6 1zm36 1l5-2-2 0-6 2zm-8 1l5-1-3-1-5 1z"/><path class=c11 d="M482 708l0 29-3-2 0-28zm-301 2l6-1-3-1-5 2zm295 0l6-2-3-1-5 1zm-8 0l6-2-3-2-6 2zm-251 0l6-3-3 1-6 2zm243 0l5-2-2-3-6 2zm25-1l0 29-3-1 0-29z"/><path class=c12 d="M223 707l5-4-3 2-5 3zm242 1l6-2-3-3-5 2zm-8-1l6-2-3-3-6 2zm-5 2l5-2-3-3-5 2zm-9-1l6-2-3-4-5 2z"/><path class=c13 d="M449 706l5-2-3-4-5 2zm-8-2l5-2-3-4-5 3zm-215 1l5-4-3 2-5 4z"/><path class=c14 d="M432 702l6-1-3-4-5 2z"/><path class=c16 d="M424 699l6 0-3-4-6 0zm-190 0l5-5-3 3-5 4z"/><path class=c18 d="M416 693l5 2-3-3-5-2z"/><path class=c19 d="M242 690l6-6-3 4-6 6z"/><path class=c22 d="M408 685l5 5-3-4-5-5z"/><path class=c23 d="M405 681l5 5-3-3-5-6zm-155-1l6-6-3 5-5 5z"/><path class=c27 d="M399 673l6 8-3-4-6-8z"/><path class=c28 d="M396 669l6 8-3-4-5-9zm-137 0l5-7-3 6-5 6z"/><path class=c31 d="M261 663l6-7-3 6-5 7z"/><path class=c32 d="M391 660l5 9-2-5-6-9z"/><path class=c33 d="M267 656l5-6-3 6-5 6z"/><path class=c34 d="M388 655l6 9-3-4-6-10z"/><path class=c36 d="M270 651l5-8-3 7-5 6z"/><path class=c38 d="M275 643l6-6-3 7-6 6zm108 3l5 9-3-5-5-10z"/><path class=c40 d="M380 640l5 10-2-5-6-10z"/><path class=c41 d="M278 638l5-7-2 6-6 6z"/><path class=c44 d="M283 631l6-6-3 7-5 5z"/><path class=c46 d="M372 627l5 8-3-4-5-9z"/><path class=c47 d="M286 625l6-6-3 6-6 6z"/><path class=c51 d="M363 614l6 8-3-4-5-7zm-68-1l5-5-3 6-5 5z"/><path class=c55 d="M303 603l5-3-3 5-5 3zm52 1l6 7-3-3-6-7z"/><path class=c59 d="M344 594l6 5-3 0-6-5zm-33 2l5-2-2 4-6 2zm36 0l5 5-2-2-6-5z"/><path class=c61 d="M336 590l5 4-3 0-5-3zm-8-1l5 2-3 2-5-2zm-9 2l6 0-3 3-6 0zm20-1l5 4-3 0-5-4z"/><path class=c62 d="M330 588l6 2-3 1-5-2zm-8 0l6 1-3 2-6 0z"/><path class=c9 d="M159 715l6-2 0 24-6 2z"/><path class=c10 d="M192 712l6 0-3-2-5 1zm-24 1l5-2-3 0-5 2z"/><path class=c11 d="M184 711l6 0-3-2-6 1zm-8 0l5-1-2 0-6 1zm303 1l6-3-3-1-6 2zm-8 1l5-3-2-2-6 2zm-8 0l5-3-3-2-5 2zm-251-1l5-2-3 0-5 2zm242 0l6-2-3-3-5 2zm-250 1l5-1-3 0-5 1zm-9-1l6 1-3-1-6 0zm-8-1l5 1-2-1-6 0zm295 2l6-3-3-1-6 3zm-312-1l6-1-3 0-5 2zm304 3l5-3-3-2-5 3z"/><path class=c12 d="M220 709l6-4-3 2-6 3zm268 1l0 29-3-1 0-29zm-42 1l6-2-3-3-6 2zm-8-1l5-2-2-4-6 2zm-259 1l5 0-3-1-5 1z"/><path class=c13 d="M435 706l6-2-3-3-6 1z"/><path class=c14 d="M228 703l6-4-3 2-5 4zm202 3l5 0-3-4-5 1z"/><path class=c15 d="M427 703l5-1-2-3-6 0z"/><path class=c16 d="M421 701l6 2-3-4-5-2zm-190 0l6-5-3 3-6 4z"/><path class=c17 d="M419 697l5 2-3-4-5-2z"/><path class=c18 d="M237 696l5-6-3 4-5 5z"/><path class=c19 d="M239 692l6-6-3 4-5 6zm174 2l6 3-3-4-6-4z"/><path class=c21 d="M245 686l5-6-2 4-6 6zm165 3l6 4-3-3-5-5z"/><path class=c24 d="M248 682l5-6-3 4-5 6z"/><path class=c25 d="M402 679l6 6-3-4-6-8z"/><path class=c26 d="M253 676l6-7-3 5-6 6z"/><path class=c28 d="M256 671l5-8-2 6-6 7z"/><path class=c30 d="M394 666l5 7-3-4-5-9z"/><path class=c34 d="M264 658l6-7-3 5-6 7z"/><path class=c36 d="M386 652l5 8-3-5-5-9z"/><path class=c39 d="M273 645l5-7-3 5-5 8z"/><path class=c42 d="M377 638l6 8-3-6-5-8z"/><path class=c44 d="M375 632l5 8-3-5-5-8zm-94 0l5-7-3 6-5 7z"/><path class=c48 d="M369 625l6 7-3-5-6-8z"/><path class=c49 d="M366 619l6 8-3-5-6-8zm-77 0l6-6-3 6-6 6z"/><path class=c52 d="M292 615l5-7-2 5-6 6z"/><path class=c53 d="M361 613l5 6-3-5-5-6z"/><path class=c54 d="M297 608l6-5-3 5-5 5zm61 0l5 6-2-3-6-7z"/><path class=c56 d="M300 604l6-5-3 4-6 5z"/><path class=c57 d="M353 603l5 5-3-4-5-5z"/><path class=c58 d="M306 599l5-3-3 4-5 3zm44 0l5 5-3-3-5-5z"/><path class=c60 d="M308 596l6-4-3 4-5 3z"/><path class=c61 d="M314 592l5-1-3 3-5 2zm27 0l6 4-3-2-5-4z"/><path class=c62 d="M317 590l5-2-3 3-5 1z"/><path class=c63 d="M333 588l6 2-3 0-6-2zm-8-1l5 1-2 1-6-1z"/><path class=c9 d="M154 716l5-1 0 24-5 1z"/><path class=c10 d="M162 714l6-1-3 0-6 2zm304 1l5-2-3-3-5 3zm11 2l5-4-3-1-5 3zm-9 0l6-2-3-2-5 2zm-311-1l5-2-3 1-5 1zm303 1l6-2-3-2-6 2zm-8 0l5-2-3-3-5 2z"/><path class=c11 d="M457 715l6-2-3-3-6 2zm-251-2l6-1-3 0-5 1zm243 1l5-2-2-3-6 2zm-251-1l6 0-3 0-6-1zm287 1l5-4-2 0-6 3zm-41 2l5-2-3-3-5 2z"/><path class=c12 d="M215 711l5-2-3 1-5 2zm275-1l0 31-2-2 0-29zm-49 3l5-2-3-3-5 2zm-251-2l5 1-3 0-5-1zm-8-1l5 1-3 0-5 0zm-9 1l6 0-3 0-6 1zm-8 2l5-1-2 1-6 1zm44-1l6-1-3 1-6 1zm-8 0l5 1-2 0-6 0z"/><path class=c13 d="M433 710l5 0-3-4-5 0zm-216-1l6-2-3 2-5 2zm276 1l0 32-3-1 0-31z"/><path class=c14 d="M223 707l5-4-2 2-6 4z"/><path class=c15 d="M424 706l6 0-3-3-6-2zm-198-1l5-4-3 2-5 4z"/><path class=c18 d="M234 698l5-6-2 4-6 5zm182 1l5 2-2-4-6-3z"/><path class=c21 d="M242 689l6-7-3 4-6 6z"/><path class=c22 d="M408 690l5 4-3-5-5-5z"/><path class=c23 d="M405 684l5 5-2-4-6-6z"/><path class=c26 d="M251 678l5-7-3 5-5 6zm149 0l5 6-3-5-5-7z"/><path class=c29 d="M397 672l5 7-3-6-5-7z"/><path class=c31 d="M259 666l5-8-3 5-5 8z"/><path class=c32 d="M391 666l6 6-3-6-6-7z"/><path class=c33 d="M262 662l5-9-3 5-5 8z"/><path class=c34 d="M388 659l6 7-3-6-5-8z"/><path class=c36 d="M267 653l6-8-3 6-6 7z"/><path class=c37 d="M383 652l5 7-2-7-6-7z"/><path class=c39 d="M270 649l5-9-2 5-6 8z"/><path class=c40 d="M380 645l6 7-3-6-6-8z"/><path class=c42 d="M275 640l6-8-3 6-5 7z"/><path class=c44 d="M278 635l6-8-3 5-6 8z"/><path class=c45 d="M372 632l5 6-2-6-6-7z"/><path class=c47 d="M284 627l5-8-3 6-5 7z"/><path class=c50 d="M286 622l6-7-3 4-5 8z"/><path class=c51 d="M364 619l5 6-3-6-5-6z"/><path class=c54 d="M295 611l5-7-3 4-5 7z"/><path class=c55 d="M355 608l6 5-3-5-5-5z"/><path class=c58 d="M303 601l5-5-2 3-6 5z"/><path class=c59 d="M347 599l6 4-3-4-6-4z"/><path class=c60 d="M344 595l6 4-3-3-6-4z"/><path class=c61 d="M311 594l6-4-3 2-6 4z"/><path class=c62 d="M339 593l5 2-3-3-5-2z"/><path class=c63 d="M336 590l5 2-2-2-6-2zm-8-2l5 0-3 0-5-1zm-8 1l5-2-3 1-5 2zm11 1l5 0-3-2-5 0zm-9 0l6-2-3-1-5 2z"/><path class=c9 d="M148 718l6-2 0 24-6 2z"/><path class=c10 d="M479 719l6-5-3-1-5 4zm-8 1l6-3-3-2-6 2zm-8 0l5-3-2-2-6 2zm-312-3l6-1-3 0-6 2zm304 3l5-3-3-2-5 2zm-9-1l6-2-3-3-5 2zm36 2l6-6-3-1-6 5z"/><path class=c11 d="M438 718l6-2-3-3-6 1z"/><path class=c12 d="M435 714l6-1-3-3-5 0zm53 1l5-5-3 0-5 4zm-328-1l5-1-3 1-5 2zm331 2l5-6-3 0-5 5z"/><path class=c13 d="M193 711l5 2-3-1-5-1zm-9-1l6 1-3 0-5-1zm-8 0l6 0-3 1-6 0zm-8 1l5 0-3 1-5 1zm328-1l0 34-3-2 0-32zm-284 1l5-2-2 2-6 1zm-8 0l5 1-3 1-5-1zm-9 0l6 1-3 1-5-2zm235 3l5 0-2-4-6 0z"/><path class=c14 d="M427 710l6 0-3-4-6 0zm-240-1l6 2-3 0-6-1zm-8-1l5 2-2 0-6 0zm-8 1l5 1-3 1-5 0z"/><path class=c15 d="M220 708l6-3-3 2-6 2zm202 1l5 1-3-4-5-2z"/><path class=c16 d="M419 704l5 2-3-5-5-2z"/><path class=c17 d="M229 703l5-5-3 3-5 4z"/><path class=c18 d="M231 700l6-5-3 3-5 5z"/><path class=c20 d="M237 695l5-6-3 3-5 6zm174 0l5 4-3-5-5-4z"/><path class=c21 d="M240 692l5-6-3 3-5 6z"/><path class=c24 d="M245 686l6-8-3 4-6 7zm157-1l6 5-3-6-5-6z"/><path class=c26 d="M248 682l5-8-2 4-6 8z"/><path class=c28 d="M253 674l6-8-3 5-5 7z"/><path class=c29 d="M394 673l6 5-3-6-6-6z"/><path class=c30 d="M256 671l6-9-3 4-6 8z"/><path class=c35 d="M386 660l5 6-3-7-5-7z"/><path class=c36 d="M264 658l6-9-3 4-5 9z"/><path class=c40 d="M378 647l5 5-3-7-5-6z"/><path class=c41 d="M273 644l5-9-3 5-5 9z"/><path class=c43 d="M375 639l5 6-3-7-5-6z"/><path class=c46 d="M369 634l6 5-3-7-6-6z"/><path class=c47 d="M281 631l5-9-2 5-6 8z"/><path class=c48 d="M366 626l6 6-3-7-5-6z"/><path class=c51 d="M361 622l5 4-2-7-6-4z"/><path class=c52 d="M289 619l6-8-3 4-6 7z"/><path class=c53 d="M358 615l6 4-3-6-6-5zm-66 1l6-8-3 3-6 8z"/><path class=c56 d="M298 608l5-7-3 3-5 7z"/><path class=c57 d="M350 605l5 3-2-5-6-4z"/><path class=c58 d="M300 606l6-7-3 2-5 7z"/><path class=c60 d="M306 599l5-5-3 2-5 5z"/><path class=c61 d="M342 597l5 2-3-4-5-2zm-33 1l5-5-3 1-5 5z"/><path class=c62 d="M314 593l6-4-3 1-6 4z"/><path class=c63 d="M333 593l6 0-3-3-5 0zm-8-2l6-1-3-2-6 2zm-8 2l5-3-2-1-6 4z"/><path class=c9 d="M474 722l5-3-2-2-6 3zm3 2l5-3-3-2-5 3z"/><path class=c10 d="M466 721l5-1-3-3-5 3zm-8 1l5-2-3-3-5 3zm-9 0l6-2-3-3-6 2zm-8-1l5-2-2-3-6 2zm44 2l6-7-3-1-6 6zm-16 0l5-1-3-2-5 1zm-9 0l6-2-3-1-5 2zm-8 1l6-2-3-2-6 2z"/><path class=c11 d="M433 718l5 0-3-4-5 0z"/><path class=c12 d="M154 715l6-1-3 2-6 1zm339 2l6-6-3-1-5 6z"/><path class=c13 d="M162 711l6 0-3 2-5 1zm-5 2l5-2-2 3-6 1z"/><path class=c14 d="M499 711l0 34-3-1 0-34zm-292-1l5 1-3 1-5-1zm-9 0l6 1-3 1-6-1zm226 3l6 1-3-4-5-1z"/><path class=c15 d="M215 709l5-1-3 1-5 2zm-25 0l5 2-2 0-6-2zm-25 0l6 0-3 2-6 0zm44 0l6 0-3 2-5-1z"/><path class=c16 d="M223 706l6-3-3 2-6 3zm-41 1l5 2-3 1-5-2zm-8 0l5 1-3 2-5-1zm242 0l6 2-3-5-6-3zm-198 1l5-2-3 2-5 1z"/><path class=c17 d="M226 704l5-4-2 3-6 3z"/><path class=c18 d="M413 701l6 3-3-5-5-4z"/><path class=c20 d="M234 698l6-6-3 3-6 5zm174 0l5 3-2-6-6-4z"/><path class=c22 d="M405 691l6 4-3-5-6-5z"/><path class=c23 d="M242 690l6-8-3 4-5 6z"/><path class=c25 d="M400 688l5 3-3-6-5-5z"/><path class=c27 d="M397 680l5 5-2-7-6-5zm-146-1l5-8-3 3-5 8z"/><path class=c29 d="M391 676l6 4-3-7-5-5z"/><path class=c32 d="M389 668l5 5-3-7-5-6zm-130-1l5-9-2 4-6 9z"/><path class=c38 d="M267 654l6-10-3 5-6 9zm113 1l6 5-3-8-5-5z"/><path class=c40 d="M270 651l6-10-3 3-6 10z"/><path class=c43 d="M276 641l5-10-3 4-5 9zm96 1l6 5-3-8-6-5z"/><path class=c45 d="M278 638l6-10-3 3-5 10z"/><path class=c48 d="M364 630l5 4-3-8-5-4z"/><path class=c49 d="M284 628l5-9-3 3-5 9z"/><path class=c50 d="M287 625l5-9-3 3-5 9z"/><path class=c53 d="M356 619l5 3-3-7-5-3z"/><path class=c55 d="M353 612l5 3-3-7-5-3zm-58 2l5-8-2 2-6 8z"/><path class=c57 d="M347 610l6 2-3-7-5-2z"/><path class=c58 d="M303 605l6-7-3 1-6 7z"/><path class=c59 d="M345 603l5 2-3-6-5-2z"/><path class=c60 d="M339 603l6 0-3-6-6 0z"/><path class=c61 d="M336 597l6 0-3-4-6 0zm-25 1l6-5-3 0-5 5zm20 1l5-2-3-4-5 1z"/><path class=c63 d="M328 594l5-1-2-3-6 1zm-8 1l5-4-3-1-5 3z"/><path class=c9 d="M480 726l5-3-3-2-5 3zm2 2l6-4-3-1-5 3z"/><path class=c10 d="M444 723l5-1-3-3-5 2zm44 1l5-7-2-1-6 7zm-17 0l6 0-3-2-5 1zm-8 0l6-1-3-2-6 2zm-8 1l5-2-2-1-6 2zm-8 0l5-1-3-2-5 1zm-9-1l6-1-3-2-5 1z"/><path class=c11 d="M436 722l5-1-3-3-5 0zm-6 0l6 0-3-4-6 0z"/><path class=c12 d="M427 718l6 0-3-4-6-1z"/><path class=c13 d="M422 717l5 1-3-5-5-1z"/><path class=c15 d="M201 709l6 1-3 1-6-1zm218 3l5 1-2-4-6-2zm-259-1l5-2-3 2-5 2z"/><path class=c16 d="M193 708l5 2-3 1-5-2zm-25-1l6 0-3 2-6 0zm44 1l6 0-3 1-6 0zm-8 0l5 1-2 1-6-1z"/><path class=c17 d="M185 707l5 2-3 0-5-2zm-9-1l6 1-3 1-5-1zm45 0l5-2-3 2-5 2zm-25 1l5 2-3 1-5-2zm-9-1l6 2-3 1-5-2z"/><path class=c18 d="M411 704l5 3-3-6-5-3zm-232 1l6 2-3 0-6-1z"/><path class=c19 d="M229 702l5-4-3 2-5 4z"/><path class=c21 d="M237 696l5-6-2 2-6 6z"/><path class=c22 d="M403 695l5 3-3-7-5-3z"/><path class=c23 d="M240 694l5-7-3 3-5 6z"/><path class=c25 d="M245 687l6-8-3 3-6 8z"/><path class=c26 d="M248 685l6-9-3 3-6 8z"/><path class=c27 d="M394 684l6 4-3-8-6-4z"/><path class=c29 d="M254 676l5-9-3 4-5 8z"/><path class=c31 d="M256 674l6-10-3 3-5 9z"/><path class=c32 d="M386 672l5 4-2-8-6-4z"/><path class=c34 d="M262 664l5-10-3 4-5 9z"/><path class=c35 d="M383 664l6 4-3-8-6-5z"/><path class=c36 d="M265 661l5-10-3 3-5 10z"/><path class=c37 d="M378 660l5 4-3-9-5-4z"/><path class=c40 d="M375 651l5 4-2-8-6-5z"/><path class=c41 d="M273 648l5-10-2 3-6 10z"/><path class=c42 d="M369 648l6 3-3-9-5-3z"/><path class=c45 d="M367 639l5 3-3-8-5-4z"/><path class=c47 d="M281 635l6-10-3 3-6 10zm80 1l6 3-3-9-6-3z"/><path class=c50 d="M358 627l6 3-3-8-5-3z"/><path class=c51 d="M289 624l6-10-3 2-5 9z"/><path class=c54 d="M350 617l6 2-3-7-6-2z"/><path class=c56 d="M298 613l5-8-3 1-5 8zm3 1l5-9-3 0-5 8z"/><path class=c57 d="M342 610l5 0-2-7-6 0z"/><path class=c59 d="M306 605l5-7-2 0-6 7zm3 2l5-7-3-2-5 7z"/><path class=c60 d="M334 605l5-2-3-6-5 2zm-17-2l6-5-3-3-6 5z"/><path class=c61 d="M314 600l6-5-3-2-6 5zm11 2l6-3-3-5-5 4z"/><path class=c62 d="M323 598l5-4-3-3-5 4z"/><path class=c10 d="M474 726l6 0-3-2-6 0zm-8-1l5-1-2-1-6 1zm-8 0l5-1-3-1-5 2zm-9 1l6-1-3-1-5 1zm-8 0l6-1-3-2-6 1zm36 1l5 1-2-2-6 0zm-8-1l5 0-3-2-5 1z"/><path class=c11 d="M433 725l5-1-2-2-6 0zm28 0l5 0-3-1-5 1zm-9 0l6 0-3 0-6 1z"/><path class=c12 d="M425 721l5 1-3-4-5-1z"/><path class=c14 d="M416 716l6 1-3-5-5-2z"/><path class=c16 d="M414 710l5 2-3-5-5-3zm-251-1l5-2-3 2-5 2z"/><path class=c17 d="M215 707l6-1-3 2-6 0zm-8 0l5 1-3 1-5-1z"/><path class=c18 d="M171 706l5 0-2 1-6 0zm52-1l6-3-3 2-5 2zm-24 1l5 2-3 1-5-2zm-9-1l6 2-3 1-6-2zm-25 2l6-1-3 1-5 2zm243 1l6 2-3-6-6-2z"/><path class=c19 d="M182 704l5 2-2 1-6-2zm-8 1l5 0-3 1-5 0zm52-2l6-3-3 2-6 3zm-8 2l5 0-2 1-6 1zm-8 1l5 1-3 1-5-1z"/><path class=c20 d="M232 700l5-4-3 2-5 4zm173 2l6 2-3-6-5-3z"/><path class=c21 d="M234 699l6-5-3 2-5 4zm166 0l5 3-2-7-6-3z"/><path class=c24 d="M397 692l6 3-3-7-6-4zm-154 0l5-7-3 2-5 7z"/><path class=c26 d="M392 689l5 3-3-8-5-3z"/><path class=c28 d="M251 683l5-9-2 2-6 9z"/><path class=c29 d="M389 681l5 3-3-8-5-4z"/><path class=c32 d="M259 671l6-10-3 3-6 10z"/><path class=c34 d="M381 669l5 3-3-8-5-4z"/><path class=c38 d="M268 659l5-11-3 3-5 10z"/><path class=c39 d="M372 657l6 3-3-9-6-3zm-102 1l6-12-3 2-5 11z"/><path class=c43 d="M276 646l5-11-3 3-5 10z"/><path class=c44 d="M364 646l5 2-2-9-6-3zm-85-1l5-11-3 1-5 11z"/><path class=c48 d="M284 634l5-10-2 1-6 10zm72 1l5 1-3-9-5-1zm-69-1l5-11-3 1-5 10z"/><path class=c51 d="M353 626l5 1-2-8-6-2z"/><path class=c52 d="M292 623l6-10-3 1-6 10zm56 3l5 0-3-9-5 0z"/><path class=c53 d="M295 624l6-10-3-1-6 10z"/><path class=c55 d="M345 617l5 0-3-7-5 0zm-6 2l6-2-3-7-6 1z"/><path class=c56 d="M303 616l6-9-3-2-5 9z"/><path class=c57 d="M336 611l6-1-3-7-5 2zm-5 4l5-4-2-6-6 3z"/><path class=c58 d="M312 610l5-7-3-3-5 7z"/><path class=c59 d="M328 608l6-3-3-6-6 3zm-8 0l5-6-2-4-6 5z"/><path class=cL d="M148 742l0-24 0 24 0 0zm3 1l0-26-3 1 0 24z"/><path class=c0 d="M499 745l0 0 0 0 0-34zm-6 2l6-2 0-34-6 6z"/><path class=c10 d="M444 726l5 0-2-1-6 1zm28 1l5 0-3-1-5 0z"/><path class=c11 d="M436 726l5 0-3-2-5 1zm-8-1l5 0-3-3-5-1zm35 0l6 1-3-1-5 0zm-16 0l5 0-3 1-5 0zm-8 1l5 0-3 0-5 0zm-9 0l6 0-3-1-5 0z"/><path class=c12 d="M455 725l6 0-3 0-6 0zm-33-1l6 1-3-4-6 0z"/><path class=c13 d="M419 721l6 0-3-4-6-1z"/><path class=c16 d="M411 715l5 1-2-6-6-2z"/><path class=c19 d="M201 705l6 2-3 1-5-2zm-8-1l6 2-3 1-6-2zm-25 2l6-1-3 1-6 1zm235 1l5 1-3-6-5-3z"/><path class=c20 d="M185 703l5 2-3 1-5-2zm-8 1l5 0-3 1-5 0zm44 0l5-1-3 2-5 0zm-9 1l6 0-3 2-5-1zm-8-1l6 2-3 1-6-2z"/><path class=c21 d="M229 702l5-3-2 1-6 3zm-33 1l5 2-2 1-6-2zm-8-1l5 2-3 1-5-2zm-9 1l6 0-3 1-5 0z"/><path class=c22 d="M237 698l6-6-3 2-6 5z"/><path class=c23 d="M394 697l6 2-3-7-5-3zm-154 0l6-6-3 1-6 6z"/><path class=c25 d="M246 691l5-8-3 2-5 7z"/><path class=c26 d="M248 690l6-9-3 2-5 8z"/><path class=c27 d="M386 687l6 2-3-8-6-3z"/><path class=c29 d="M254 681l5-10-3 3-5 9z"/><path class=c30 d="M383 678l6 3-3-9-5-3zm-126 2l5-10-3 1-5 10z"/><path class=c32 d="M378 676l5 2-2-9-6-2z"/><path class=c34 d="M262 670l6-11-3 2-6 10z"/><path class=c35 d="M375 667l6 2-3-9-6-3zm-110 2l5-11-2 1-6 11z"/><path class=c37 d="M370 665l5 2-3-10-5-2z"/><path class=c40 d="M367 655l5 2-3-9-5-2zm-94 2l6-12-3 1-6 12z"/><path class=c41 d="M361 655l6 0-3-9-5-1z"/><path class=c44 d="M281 645l6-11-3 0-5 11z"/><path class=c45 d="M359 645l5 1-3-10-5-1z"/><path class=c49 d="M290 635l5-11-3-1-5 11zm60 0l6 0-3-9-5 0z"/><path class=c52 d="M342 628l6-2-3-9-6 2zm-41 0l5-9-3-3-5 10z"/><path class=c53 d="M298 626l5-10-2-2-6 10z"/><path class=c54 d="M334 622l5-3-3-8-5 4zm-25 1l5-9-2-4-6 9z"/><path class=c55 d="M306 619l6-9-3-3-6 9zm20 1l5-5-3-7-5 5zm-9 0l6-7-3-5-6 6z"/><path class=c57 d="M323 613l5-5-3-6-5 6zm-9 1l6-6-3-5-5 7z"/><path class=cL d="M154 745l0-30-3 2 0 26z"/><path class=c0 d="M488 748l5-1 0-30-5 7z"/><path class=c11 d="M466 727l6 0-3-1-6-1z"/><path class=c12 d="M458 725l5 0-2 0-6 0zm-17 0l6 0-3 1-5 0zm-8 1l6 0-3 0-6 0zm-8 0l5 0-2-1-6-1zm36 0l5 1-3-2-5 0z"/><path class=c13 d="M450 724l5 1-3 0-5 0zm-33 0l5 0-3-3-5-1zm35-1l6 2-3 0-5-1z"/><path class=c14 d="M414 720l5 1-3-5-5-1z"/><path class=c15 d="M408 719l6 1-3-5-5-2z"/><path class=c17 d="M406 713l5 2-3-7-5-1z"/><path class=c18 d="M400 712l6 1-3-6-6-2z"/><path class=c20 d="M171 705l6-1-3 1-6 1zm226 0l6 2-3-8-6-2z"/><path class=c21 d="M224 703l5-1-3 1-5 1zm-9 0l6 1-3 1-6 0zm-8 0l5 2-2 1-6-2zm-33 1l5-1-2 1-6 1z"/><path class=c22 d="M232 701l5-3-3 1-5 3zm-33 0l5 3-3 1-5-2zm-9 0l6 2-3 1-5-2zm-8 1l6 0-3 1-6 0zm53-1l5-4-3 1-5 3zm-9 2l6-2-3 1-5 1zm-8-1l6 1-3 1-6-1zm-8-1l5 2-3 2-5-2zm182 3l5 1-3-8-5-1z"/><path class=c24 d="M389 696l5 1-2-8-6-2zm-146 0l5-6-2 1-6 6z"/><path class=c27 d="M251 689l6-9-3 1-6 9z"/><path class=c29 d="M381 685l5 2-3-9-5-2z"/><path class=c31 d="M259 680l6-11-3 1-5 10z"/><path class=c33 d="M373 675l5 1-3-9-5-2z"/><path class=c35 d="M268 669l5-12-3 1-5 11z"/><path class=c36 d="M271 669l5-12-3 0-5 12z"/><path class=c38 d="M364 665l6 0-3-10-6 0z"/><path class=c40 d="M276 657l5-12-2 0-6 12zm3 1l5-12-3-1-5 12z"/><path class=c42 d="M356 655l5 0-2-10-6 0z"/><path class=c45 d="M353 645l6 0-3-10-6 0zm-69 1l6-11-3-1-6 11zm3 2l6-12-3-1-6 11zm61-1l5-2-3-10-5 2z"/><path class=c48 d="M295 639l6-11-3-2-5 10zm44 1l6-3-3-9-5 3z"/><path class=c49 d="M293 636l5-10-3-2-5 11zm52 1l5-2-2-9-6 2z"/><path class=c50 d="M331 635l6-4-3-9-6 5z"/><path class=c51 d="M337 631l5-3-3-9-5 3zm-33 1l5-9-3-4-5 9z"/><path class=c53 d="M328 627l6-5-3-7-5 5zm-8-1l6-6-3-7-6 7zm-8 2l5-8-3-6-5 9z"/><path class=cL d="M157 746l0-33-3 2 0 30zm3 2l0-37-3 2 0 33z"/><path class=c0 d="M482 750l6-2 0-24-6 4z"/><path class=c13 d="M436 724l5 1-2 1-6 0zm-8 2l5 0-3 0-5 0zm-9 0l6 0-3-2-5 0zm36-1l6 1-3-1-6-2z"/><path class=c14 d="M444 723l6 1-3 1-6 0zm-33 0l6 1-3-4-6-1zm20 1l5 0-3 2-5 0z"/><path class=c15 d="M447 722l5 1-2 1-6-1zm-8 0l5 1-3 2-5-1z"/><path class=c16 d="M403 718l5 1-2-6-6-1z"/><path class=c19 d="M395 711l5 1-3-7-5-1z"/><path class=c22 d="M177 704l5-2-3 1-5 1zm52-2l6-1-3 0-6 2z"/><path class=c23 d="M202 700l5 3-3 1-5-3zm-9 0l6 1-3 2-6-2zm-8 1l5 0-2 1-6 0zm52 0l6-5-3 1-5 4zm-16 1l5 1-2 0-6-1zm-8-2l5 2-3 1-5-2zm173 3l6 1-3-8-5-2z"/><path class=c24 d="M204 699l6 2-3 2-5-3zm-8 0l6 1-3 1-6-1zm-8 1l5 0-3 1-5 0z"/><path class=c25 d="M246 697l5-8-3 1-5 6zm3 0l5-7-3-1-5 8z"/><path class=c26 d="M384 694l5 2-3-9-5-2z"/><path class=c27 d="M254 690l5-10-2 0-6 9zm124 4l6 0-3-9-6-1z"/><path class=c28 d="M257 691l5-11-3 0-5 10z"/><path class=c30 d="M375 684l6 1-3-9-5-1z"/><path class=c31 d="M262 680l6-11-3 0-6 11zm108 4l5 0-2-9-6-1z"/><path class=c32 d="M265 681l6-12-3 0-6 11z"/><path class=c34 d="M367 674l6 1-3-10-6 0z"/><path class=c36 d="M273 671l6-13-3-1-5 12z"/><path class=c38 d="M359 665l5 0-3-10-5 0z"/><path class=c40 d="M282 660l5-12-3-2-5 12z"/><path class=c42 d="M351 657l5-2-3-10-5 2z"/><path class=c44 d="M290 651l5-12-2-3-6 12z"/><path class=c45 d="M342 650l6-3-3-10-6 3z"/><path class=c47 d="M298 643l6-11-3-4-6 11zm36 1l5-4-2-9-6 4z"/><path class=c48 d="M326 642l5-7-3-8-5 6zm-8-1l5-8-3-7-5 8zm-9 2l6-9-3-6-6 9z"/><path class=c49 d="M306 637l6-9-3-5-5 9z"/><path class=c51 d="M323 633l5-6-2-7-6 6zm-8 1l5-8-3-6-5 8z"/><path class=cL d="M163 749l0-40-3 2 0 37z"/><path class=c0 d="M477 752l5-2 0-22-5-1zm-5 1l5-1 0-25-5 0z"/><path class=c14 d="M422 725l6 1-3 0-6 0zm-8 0l5 1-2-2-6-1zm3 0l5 0-3 1-5-1z"/><path class=c15 d="M406 722l5 1-3-4-5-1zm44 1l5 2-3-2-5-1zm-25 0l6 1-3 2-6-1zm-16 2l5 0-3-2-5-1z"/><path class=c16 d="M442 721l5 1-3 1-5-1zm-9 0l6 1-3 2-5 0zm-33 1l6 0-3-4-5-1z"/><path class=c17 d="M398 717l5 1-3-6-5-1z"/><path class=c20 d="M389 710l6 1-3-7-6-1z"/><path class=c23 d="M180 703l5-2-3 1-5 2zm60-2l6-4-3-1-6 5zm-8 1l5-1-2 0-6 1zm-8-1l5 1-3 1-5-1zm11 2l5-2-3 0-5 1z"/><path class=c24 d="M215 700l6 2-3 0-5-2zm166 2l5 1-2-9-6 0zm-199 0l6-2-3 1-5 2zm61 0l6-5-3 0-6 4zm-16-1l5 1-3 0-5-1z"/><path class=c25 d="M207 698l6 2-3 1-6-2zm-8 0l5 1-2 1-6-1zm-8 1l5 0-3 1-5 0zm60 0l6-8-3-1-5 7zm-33 0l6 2-3 1-6-2z"/><path class=c27 d="M373 694l5 0-3-10-5 0z"/><path class=c28 d="M260 692l5-11-3-1-5 11z"/><path class=c31 d="M268 683l5-12-2-2-6 12zm96 2l6-1-3-10-5 1z"/><path class=c34 d="M362 675l5-1-3-9-5 0zm-6 2l6-2-3-10-6 2z"/><path class=c35 d="M279 675l5-12-2-3-6 13z"/><path class=c36 d="M276 673l6-13-3-2-6 13z"/><path class=c38 d="M353 667l6-2-3-10-5 2zm-5 2l5-2-2-10-6 2z"/><path class=c39 d="M287 666l6-12-3-3-6 12z"/><path class=c40 d="M284 663l6-12-3-3-5 12zm56 0l5-4-3-9-5 4z"/><path class=c41 d="M345 659l6-2-3-10-6 3z"/><path class=c42 d="M296 659l5-12-3-4-5 11z"/><path class=c43 d="M293 654l5-11-3-4-5 12z"/><path class=c44 d="M337 654l5-4-3-10-5 4zm-33-1l5-10-3-6-5 10z"/><path class=c45 d="M329 650l5-6-3-9-5 7zm-17 0l6-9-3-7-6 9z"/><path class=c46 d="M301 647l5-10-2-5-6 11zm19 2l6-7-3-9-5 8z"/><path class=cL d="M165 751l0-44-2 2 0 40zm3 1l0-46-3 1 0 44z"/><path class=c0 d="M466 755l6-2 0-26-6 0z"/><path class=c15 d="M411 725l6 0-3 0-5 0zm-8 0l6 0-3-3-6 0z"/><path class=c16 d="M444 722l6 1-3-1-5-1zm-24 1l5 0-3 2-5 0zm-25-1l5 0-2-5-6 0z"/><path class=c17 d="M436 720l6 1-3 1-6-1zm-8 1l5 0-2 3-6-1zm11 0l5 1-2-1-6-1z"/><path class=c18 d="M392 717l6 0-3-6-6-1zm39 2l5 1-3 1-5 0z"/><path class=c19 d="M387 717l5 0-3-7-5 0z"/><path class=c21 d="M384 710l5 0-3-7-5-1zm-6 1l6-1-3-8-5 1z"/><path class=c23 d="M249 705l5-5-3-1-5 4z"/><path class=c24 d="M376 703l5-1-3-8-5 0zm-130 0l5-4-2-2-6 5zm-8 0l5-1-3-1-5 2zm19 0l5-9-2-2-6 8zm113 1l6-1-3-9-6 1z"/><path class=c25 d="M254 700l6-8-3-1-6 8zm-69 1l6-2-3 1-6 2zm44 0l6 2-3-1-5-1z"/><path class=c26 d="M210 697l5 3-2 0-6-2zm-8-1l5 2-3 1-5-1zm-8 1l5 1-3 1-5 0zm27 2l6 2-3 0-6-2zm-33 1l6-3-3 2-6 2z"/><path class=c27 d="M262 694l6-11-3-2-5 11zm-49 3l5 2-3 1-5-3zm-8-2l5 2-3 1-5-2zm60 1l6-11-3-2-6 11zm-69 0l6 0-3 2-5-1z"/><path class=c28 d="M367 695l6-1-3-10-6 1z"/><path class=c31 d="M271 685l5-12-3-2-5 12zm88 2l5-2-2-10-6 2zm-85 1l5-13-3-2-5 12z"/><path class=c34 d="M351 679l5-2-3-10-5 2zm-69 0l5-13-3-3-5 12z"/><path class=c37 d="M343 673l5-4-3-10-5 4z"/><path class=c38 d="M290 670l6-11-3-5-6 12z"/><path class=c39 d="M334 669l6-6-3-9-6 5z"/><path class=c40 d="M298 664l6-11-3-6-5 12zm28 2l5-7-2-9-6 7zm-8-1l5-8-3-8-5 8zm-9 1l6-9-3-7-5 9z"/><path class=c42 d="M331 659l6-5-3-10-5 6zm-24 0l5-9-3-7-5 10z"/><path class=c43 d="M323 657l6-7-3-8-6 7zm-8 0l5-8-2-8-6 9z"/><path class=cL d="M171 754l0-49-3 1 0 46z"/><path class=c0 d="M461 757l5-2 0-28-5-1zm-6 1l6-1 0-31-6-1z"/><path class=c16 d="M406 725l5 0-2 0-6 0zm-8 0l5 0-3-3-5 0zm3 0l5 0-3 0-5 0z"/><path class=c17 d="M414 723l6 0-3 2-6 0zm-25-1l6 0-3-5-5 0zm20 1l5 0-3 2-5 0z"/><path class=c18 d="M423 720l5 1-3 2-5 0zm11 1l5 0-3-1-5-1zm-17-1l6 0-3 3-6 0z"/><path class=c19 d="M381 718l6-1-3-7-6 1zm44 1l6 0-3 2-5-1z"/><path class=c22 d="M373 712l5-1-2-8-6 1z"/><path class=c23 d="M252 708l5-5-3-3-5 5z"/><path class=c24 d="M241 705l5-2-3-1-5 1zm19 0l5-9-3-2-5 9zm-17 2l6-2-3-2-5 2zm122-2l5-1-3-9-5 1z"/><path class=c25 d="M232 702l6 1-3 0-6-2zm3 1l6 2-3-2-6-1z"/><path class=c26 d="M224 699l5 2-2 0-6-2zm44 0l6-11-3-3-6 11z"/><path class=c27 d="M191 699l5-3-2 1-6 3zm165 0l6-3-3-9-5 2zm-129 0l5 3-3-1-5-2z"/><path class=c28 d="M362 696l5-1-3-10-5 2zm-146 0l5 3-3 0-5-2zm-9-1l6 2-3 0-5-2zm-8 0l6 0-3 1-6 0zm20 1l5 3-3 0-5-3z"/><path class=c29 d="M279 695l6-13-3-3-6 12z"/><path class=c30 d="M276 691l6-12-3-4-5 13zm72 2l6-4-3-10-6 4z"/><path class=c31 d="M354 689l5-2-3-10-5 2z"/><path class=c32 d="M287 687l6-12-3-5-5 12zm53 1l5-5-2-10-6 5z"/><path class=c33 d="M285 682l5-12-3-4-5 13zm60 1l6-4-3-10-5 4z"/><path class=c35 d="M337 678l6-5-3-10-6 6zm-41 2l5-10-3-6-5 11z"/><path class=c36 d="M293 675l5-11-2-5-6 11z"/><path class=c37 d="M329 675l5-6-3-10-5 7zm-17-1l6-9-3-8-6 9zm-8 2l5-10-2-7-6 11z"/><path class=c38 d="M321 673l5-7-3-9-5 8z"/><path class=c39 d="M301 670l6-11-3-6-6 11z"/><path class=cL d="M174 755l0-51-3 1 0 49zm3 2l0-53-3 0 0 51z"/><path class=c0 d="M450 760l5-2 0-33-5-2z"/><path class=c16 d="M392 725l6 0-3-3-6 0z"/><path class=c17 d="M384 723l5-1-2-5-6 1zm11 3l6-1-3 0-6 0zm-8 0l5-1-3-3-5 1z"/><path class=c18 d="M403 723l6 0-3 2-5 0zm-24 1l5-1-3-5-5 1z"/><path class=c19 d="M376 719l5-1-3-7-5 1zm52 1l6 1-3-2-6 0zm-16 0l5 0-3 3-5 0zm-42 1l6-2-3-7-5 1z"/><path class=c20 d="M420 718l5 1-2 1-6 0z"/><path class=c22 d="M368 713l5-1-3-8-5 1zm-111 0l6-5-3-3-6 5z"/><path class=c23 d="M263 708l5-9-3-3-5 9zm-9 2l6-5-3-2-5 5zm-8-1l6-1-3-3-6 2zm20 3l5-9-3-4-5 9zm-17-1l5-1-2-2-6 1z"/><path class=c24 d="M359 708l6-3-3-9-6 3z"/><path class=c25 d="M238 704l5 3-2-2-6-2zm36 2l5-11-3-4-5 12z"/><path class=c26 d="M271 703l5-12-2-3-6 11z"/><path class=c27 d="M230 699l5 4-3-1-5-3zm121 3l5-3-2-10-6 4z"/><path class=c28 d="M194 698l5-3-3 1-5 3zm88 1l5-12-2-5-6 13z"/><path class=c29 d="M210 694l6 2-3 1-6-2zm-8 1l5 0-2 0-6 0zm19 0l6 4-3 0-5-3zm122 2l5-4-3-10-5 5zm-146 0l5-2-3 0-5 3z"/><path class=c30 d="M213 693l6 3-3 0-6-2zm121 0l6-5-3-10-5 6zm-129 1l5 0-3 1-5 0z"/><path class=c31 d="M290 692l6-12-3-5-6 12z"/><path class=c32 d="M326 690l6-6-3-9-6 7zm-8-1l5-7-2-9-6 8zm-8 1l5-9-3-7-5 9z"/><path class=c33 d="M299 686l5-10-3-6-5 10z"/><path class=c34 d="M332 684l5-6-3-9-5 6zm-25-1l5-9-3-8-5 10z"/><path class=c35 d="M323 682l6-7-3-9-5 7zm-8-1l6-8-3-8-6 9z"/><path class=cL d="M180 758l0-55-3 1 0 53z"/><path class=c0 d="M444 762l6-2 0-37-6-1z"/><path class=c17 d="M390 727l5-1-3-1-5 1zm-9 1l6-2-3-3-5 1zm-8-2l6-2-3-5-6 2z"/><path class=c18 d="M398 724l5-1-2 2-6 1z"/><path class=c19 d="M365 723l5-2-2-8-6 3z"/><path class=c20 d="M423 720l5 0-3-1-5-1zm-9-2l6 0-3 2-5 0zm-8 3l6-1-3 3-6 0zm11-1l6 0-3-2-6 0z"/><path class=c21 d="M362 716l6-3-3-8-6 3zm-102 0l6-4-3-4-6 5zm97 3l5-3-3-8-5 3zm52 0l5-1-2 2-6 1z"/><path class=c22 d="M268 715l6-9-3-3-5 9z"/><path class=c23 d="M252 714l5-1-3-3-5 1zm96 0l6-3-3-9-5 4z"/><path class=c24 d="M354 711l5-3-3-9-5 3zm-77-1l5-11-3-4-5 11z"/><path class=c25 d="M241 706l5 3-3-2-5-3zm3 2l5 3-3-2-5-3zm44 0l5-11-3-5-5 11z"/><path class=c26 d="M346 706l5-4-3-9-5 4z"/><path class=c27 d="M285 703l5-11-3-5-5 12zm52-1l6-5-3-9-6 5zm-41 0l5-10-2-6-6 11z"/><path class=c28 d="M232 700l6 4-3-1-5-4zm3 1l6 5-3-2-6-4z"/><path class=c29 d="M293 697l6-11-3-6-6 12zm36 2l5-6-2-9-6 6zm-130-3l6-2-3 1-5 2zm122 1l5-7-3-8-5 7zm-9 0l6-8-3-8-5 9zm-8 2l6-9-3-7-6 9z"/><path class=c30 d="M224 695l6 4-3 0-6-4zm3 1l5 4-2-1-6-4z"/><path class=c31 d="M301 692l6-9-3-7-5 10zm-85 1l5 2-2 1-6-3zm-8 0l5 0-3 1-5 0z"/><path class=c32 d="M219 692l5 3-3 0-5-2z"/><path class=cL d="M182 760l0-58-2 1 0 55zm3 1l0-60-3 1 0 58z"/><path class=c0 d="M439 763l5-1 0-40-5-1zm-5 2l5-2 0-42-5 0z"/><path class=c17 d="M384 728l6-1-3-1-6 2zm-8 2l5-2-2-4-6 2zm-8-2l5-2-3-5-5 2zm11 2l5-2-3 0-5 2z"/><path class=c18 d="M359 726l6-3-3-7-5 3zm28 1l5-2-2 2-6 1z"/><path class=c19 d="M392 725l6-1-3 2-5 1z"/><path class=c20 d="M401 721l5 0-3 2-5 1zm-50 1l6-3-3-8-6 3zm-77-1l5-7-2-4-6 8zm121 1l6-1-3 3-6 1zm-129 0l5-4-3-3-5 4z"/><path class=c21 d="M271 718l6-8-3-4-6 9zm-8 1l5-4-2-3-6 4zm149 2l5-1-3-2-5 1zm-8-1l5-1-3 2-5 0zm-147-1l6 0-3-3-5 0z"/><path class=c22 d="M255 716l5 0-3-3-5 1zm27 1l6-9-3-5-6 11zm61 1l5-4-2-8-6 4z"/><path class=c23 d="M279 714l6-11-3-4-5 11zm56 1l5-5-3-8-5 5z"/><path class=c24 d="M340 710l6-4-3-9-6 5zm-49 2l5-10-3-5-5 11zm35 1l6-6-3-8-5 6zm-8-1l6-7-3-8-6 8z"/><path class=c25 d="M246 710l6 4-3-3-5-3z"/><path class=c26 d="M332 707l5-5-3-9-5 6zm-33 1l5-9-3-7-5 10z"/><path class=c27 d="M324 705l5-6-3-9-5 7zm-9 0l6-8-3-8-6 8zm-8 1l5-9-2-7-6 9z"/><path class=c28 d="M238 702l6 6-3-2-6-5z"/><path class=c30 d="M202 696l6-3-3 1-6 2z"/><path class=c31 d="M230 696l5 5-3-1-5-4zm-25-1l5-3-2 1-6 3z"/><path class=c32 d="M210 692l6 1-3 0-5 0zm12 1l5 3-3-1-5-3zm-9-1l6 0-3 1-6-1z"/><path class=cL d="M188 763l0-63-3 1 0 60zm3 1l0-65-3 1 0 63z"/><path class=c0 d="M428 767l6-2 0-44-6-1z"/><path class=c16 d="M371 732l5-2-3-4-5 2zm-6 2l6-2-3-4-6 3zm-8 0l5-3-3-5-5 3z"/><path class=c17 d="M362 731l6-3-3-5-6 3zm11 2l6-3-3 0-5 2zm-24 0l5-4-3-7-5 4z"/><path class=c18 d="M354 729l5-3-2-7-6 3zm28 0l5-2-3 1-5 2z"/><path class=c19 d="M346 726l5-4-3-8-5 4zm-77-1l5-4-3-3-5 4z"/><path class=c20 d="M277 725l5-8-3-3-5 7zm61-2l5-5-3-8-5 5zm52 1l5-2-3 3-5 2zm-102 1l5-8-2-5-6 9z"/><path class=c21 d="M285 721l6-9-3-4-6 9zm121 0l6 0-3-2-5 1zm-77 0l6-6-3-8-6 6zm-69 1l6 0-3-3-6 0zm36 0l6-8-3-6-6 9z"/><path class=c22 d="M398 720l6 0-3 1-6 1zm-77-1l5-6-2-8-6 7zm-8 0l5-7-3-7-5 7zm-9 1l6-8-3-6-5 8z"/><path class=c23 d="M293 717l6-9-3-6-5 10z"/><path class=c24 d="M249 712l6 4-3-2-6-4zm61 0l5-7-3-8-5 9zm-8 2l5-8-3-7-5 9zm-50 1l5 4-2-3-6-4z"/><path class=c28 d="M241 704l5 6-2-2-6-6zm3 2l5 6-3-2-5-6z"/><path class=c31 d="M233 697l5 5-3-1-5-5zm3 1l5 6-3-2-5-5z"/><path class=c32 d="M208 694l5-2-3 0-5 3z"/><path class=c33 d="M224 693l6 3-3 0-5-3zm-8-1l6 1-3-1-6 0zm11 1l6 4-3-1-6-3z"/><path class=cL d="M194 765l0-67-3 1 0 65z"/><path class=c0 d="M423 768l5-1 0-47-5 0z"/><path class=c15 d="M360 738l5-4-3-3-5 3zm-9 0l6-4-3-5-5 4z"/><path class=c16 d="M368 735l5-2-2-1-6 2zm-25 2l6-4-3-7-6 4z"/><path class=c17 d="M335 735l5-5-2-7-6 5z"/><path class=c18 d="M340 730l6-4-3-8-5 5zm36 1l6-2-3 1-6 3zm-94 0l6-6-3-4-5 7zm-8 0l6-3-3-3-6 3zm53 2l5-5-3-7-5 5zm-9-1l6-6-3-7-5 7z"/><path class=c19 d="M280 728l5-7-3-4-5 8zm-9 0l6-3-3-4-5 4zm61 0l6-5-3-8-6 6zm-41 2l5-8-3-5-5 8zm88-1l5-2-2 2-6 2z"/><path class=c20 d="M263 725l6 0-3-3-6 0zm61 1l5-5-3-8-5 6zm60 1l6-3-3 3-5 2zm-68-1l5-7-3-7-5 7zm-9 0l6-7-3-7-6 8zm-8 1l5-7-2-6-6 8zm-33 0l5 1-2-3-6 0z"/><path class=c21 d="M401 722l5-1-2-1-6 0zm-8 1l5-3-3 2-5 2zm3 2l5-3-3-2-5 3zm-9 1l6-3-3 1-6 3z"/><path class=c23 d="M258 720l5 5-3-3-5-5z"/><path class=c24 d="M255 717l5 5-3-3-5-4z"/><path class=c27 d="M247 708l5 7-3-3-5-6z"/><path class=c31 d="M238 700l6 6-3-2-5-6z"/><path class=c33 d="M211 694l5-2-3 0-5 2zm19 0l6 4-3-1-6-4zm-16 0l5-2-3 0-5 2z"/><path class=c34 d="M219 692l5 1-2 0-6-1zm3 0l5 1-3 0-5-1z"/><path class=cL d="M197 767l0-70-3 1 0 67zm2 1l0-72-2 1 0 70z"/><path class=c0 d="M417 770l6-2 0-48-6 0zm-5 1l5-1 0-50-5 1z"/><path class=c14 d="M346 742l5-4-2-5-6 4zm3 3l5-4-3-3-5 4z"/><path class=c15 d="M362 739l6-4-3-1-5 4zm-8 2l6-3-3-4-6 4zm-16 0l5-4-3-7-5 5zm19 2l5-4-2-1-6 3z"/><path class=c16 d="M329 740l6-5-3-7-5 5zm-8-2l6-5-3-7-6 6zm-8 0l5-6-2-6-6 6zm-8 0l5-6-3-6-5 7zm60 0l6-4-3 1-6 4zm-69 0l6-5-3-6-5 7zm-8 0l6-4-3-4-6 5z"/><path class=c17 d="M371 734l5-3-3 2-5 2zm-86 1l6-5-3-5-6 6z"/><path class=c18 d="M310 732l6-6-3-7-6 7zm-8 1l5-7-3-6-5 7zm-8 1l5-7-3-5-5 8zm-17 0l5-3-2-3-6 3z"/><path class=c19 d="M269 730l5 1-3-3-5-1zm105 2l5-3-3 2-5 3z"/><path class=c20 d="M382 728l5-2-3 1-5 2z"/><path class=c21 d="M390 728l6-3-3-2-6 3z"/><path class=c23 d="M261 723l5 4-3-2-5-5z"/><path class=c27 d="M249 711l6 6-3-2-5-7zm3 2l6 7-3-3-6-6z"/><path class=c30 d="M244 704l5 7-2-3-6-6z"/><path class=c31 d="M241 702l6 6-3-2-6-6z"/><path class=c33 d="M233 696l5 4-2-2-6-4zm3 1l5 5-3-2-5-4z"/><path class=c34 d="M216 694l6-2-3 0-5 2z"/><path class=c35 d="M225 693l5 1-3-1-5-1zm2 1l6 2-3-2-5-1z"/><path class=cL d="M202 770l0-74-3 0 0 72z"/><path class=c0 d="M406 773l6-2 0-50-6 0z"/><path class=c12 d="M335 750l6-4-3-5-6 4z"/><path class=c13 d="M341 746l5-4-3-5-5 4zm2 3l6-4-3-3-5 4zm-16 0l5-4-3-5-5 4zm-8 0l5-5-3-6-5 5z"/><path class=c14 d="M332 745l6-4-3-6-6 5zm-8-1l5-4-2-7-6 5zm28 3l5-4-3-2-5 4z"/><path class=c15 d="M316 743l5-5-3-6-5 6zm-9 0l6-5-3-6-5 6zm-8 0l6-5-3-5-6 5zm61-1l5-4-3 1-5 4zm-69 0l5-4-2-4-6 4z"/><path class=c16 d="M283 740l5-2-3-3-5 2z"/><path class=c17 d="M280 737l5-2-3-4-5 3z"/><path class=c18 d="M368 737l6-5-3 2-6 4zm-94-2l6 2-3-3-5-2z"/><path class=c19 d="M272 732l5 2-3-3-5-1zm107 1l6-3-3-2-6 3z"/><path class=c20 d="M385 730l5-2-3-2-5 2zm-9 1l6-3-3 1-5 3z"/><path class=c22 d="M263 725l6 5-3-3-5-4zm3 3l6 4-3-2-6-5z"/><path class=c25 d="M258 719l5 6-2-2-6-7z"/><path class=c26 d="M255 716l6 7-3-3-6-7z"/><path class=c30 d="M247 707l5 6-3-2-5-7z"/><path class=c33 d="M239 699l5 5-3-2-5-5z"/><path class=c34 d="M219 695l6-2-3-1-6 2zm3 1l5-2-2-1-6 2z"/><path class=c35 d="M230 696l6 1-3-1-6-2z"/><path class=cL d="M205 771l0-76-3 1 0 74zm3 2l0-79-3 1 0 76z"/><path class=c0 d="M401 775l5-2 0-52-5 1z"/><path class=c11 d="M330 754l5-4-3-5-5 4z"/><path class=c12 d="M338 753l5-4-2-3-6 4zm-17 0l6-4-3-5-5 5zm-8 0l6-4-3-6-6 5z"/><path class=c13 d="M310 748l6-5-3-5-6 5zm36 3l6-4-3-2-6 4zm-41 0l5-3-3-5-5 4zm-8-1l5-3-3-4-5 3z"/><path class=c14 d="M302 747l5-4-2-5-6 5zm-8-1l5-3-3-5-5 4zm60 1l6-5-3 1-5 4z"/><path class=c15 d="M357 746l6-5-3 1-6 5z"/><path class=c16 d="M363 741l5-4-3 1-5 4zm-77 2l5-1-3-4-5 2z"/><path class=c17 d="M366 741l5-5-3 1-5 4z"/><path class=c18 d="M371 736l5-5-2 1-6 5zm-94 3l6 1-3-3-6-2zm97-1l5-5-3-2-5 5z"/><path class=c21 d="M269 731l5 4-2-3-6-4z"/><path class=c25 d="M261 721l5 7-3-3-5-6z"/><path class=c29 d="M250 709l5 7-3-3-5-6zm2 3l6 7-3-3-5-7z"/><path class=c32 d="M244 705l6 4-3-2-6-5z"/><path class=c33 d="M241 702l6 5-3-3-5-5z"/><path class=c34 d="M225 698l5-2-3-2-5 2zm11 2l5 2-2-3-6-2z"/><path class=c35 d="M233 697l6 2-3-2-6-1z"/><path class=cL d="M211 774l0-80-3 0 0 79z"/><path class=c0 d="M396 776l5-1 0-53-5 3zm-6 2l6-2 0-51-6 3z"/><path class=c10 d="M327 761l5-4-2-3-6 4z"/><path class=c11 d="M332 757l6-4-3-3-5 4zm-8 1l6-4-3-5-6 4zm-8-1l5-4-2-4-6 4zm19 2l6-4-3-2-6 4z"/><path class=c12 d="M341 755l5-4-3-2-5 4zm-33 1l5-3-3-5-5 3zm-9-2l6-3-3-4-5 3zm45 1l5-4-3 0-5 4z"/><path class=c13 d="M349 751l5-4-2 0-6 4z"/><path class=c14 d="M291 750l6 0-3-4-6 1zm61 1l5-5-3 1-5 4z"/><path class=c15 d="M288 747l6-1-3-4-5 1z"/><path class=c16 d="M360 746l6-5-3 0-6 5zm-77-1l5 2-2-4-6-1z"/><path class=c17 d="M280 742l6 1-3-3-6-1zm88 1l6-5-3-2-5 5z"/><path class=c19 d="M275 738l5 4-3-3-5-4z"/><path class=c20 d="M272 735l5 4-3-4-5-4z"/><path class=c23 d="M266 729l6 6-3-4-5-6z"/><path class=c24 d="M264 725l5 6-3-3-5-7z"/><path class=c28 d="M255 715l6 6-3-2-6-7z"/><path class=c31 d="M247 707l5 5-2-3-6-4z"/><path class=c34 d="M228 699l5-2-3-1-5 2zm11 4l5 2-3-3-5-2zm-9-1l6-2-3-3-5 2z"/><path class=cL d="M214 776l0-82-3 0 0 80zm2 1l0-83-2 0 0 82z"/><path class=c0 d="M385 780l5-2 0-50-5 2z"/><path class=c9 d="M322 764l5-3-3-3-5 3z"/><path class=c10 d="M319 761l5-3-3-5-5 4zm-8-1l5-3-3-4-5 3zm19 3l5-4-3-2-5 4zm-17 0l6-2-3-4-5 3zm-8-2l6-1-3-4-6 2z"/><path class=c11 d="M302 758l6-2-3-5-6 3zm36 2l6-5-3 0-6 4z"/><path class=c12 d="M297 758l5 0-3-4-5 0z"/><path class=c13 d="M294 754l5 0-2-4-6 0zm52 1l6-4-3 0-5 4z"/><path class=c14 d="M355 751l5-5-3 0-5 5zm2 2l6-5-3-2-5 5z"/><path class=c15 d="M363 748l5-5-2-2-6 5zm-77 1l5 1-3-3-5-2z"/><path class=c18 d="M277 742l6 3-3-3-5-4z"/><path class=c22 d="M269 733l6 5-3-3-6-6z"/><path class=c26 d="M261 724l5 5-2-4-6-6z"/><path class=c27 d="M258 719l6 6-3-4-6-6z"/><path class=c30 d="M253 715l5 4-3-4-5-5z"/><path class=c31 d="M250 710l5 5-3-3-5-5z"/><path class=c32 d="M244 708l6 2-3-3-5-1z"/><path class=c33 d="M242 706l5 1-3-2-5-2zm-9-2l6-1-3-3-6 2zm3 3l6-1-3-3-6 1z"/><path class=cL d="M219 779l0-84-3-1 0 83z"/><path class=c0 d="M379 781l6-1 0-50-6 3z"/><path class=c9 d="M324 766l6-3-3-2-5 3zm-8 0l6-2-3-3-6 2zm11 1l6-3-3-1-6 3z"/><path class=c10 d="M333 764l5-4-3-1-5 4zm-25 1l5-2-2-3-6 1zm28 0l5-5-3 0-5 4z"/><path class=c11 d="M341 760l5-5-2 0-6 5zm-41 1l5 0-3-3-5 0z"/><path class=c12 d="M344 761l5-5-3-1-5 5z"/><path class=c13 d="M349 756l6-5-3 0-6 4zm-58 0l6 2-3-4-5-1zm61 2l5-5-2-2-6 5z"/><path class=c14 d="M289 753l5 1-3-4-5-1z"/><path class=c16 d="M283 749l6 4-3-4-6-3z"/><path class=c17 d="M280 746l6 3-3-4-6-3z"/><path class=c20 d="M275 741l5 5-3-4-5-5z"/><path class=c21 d="M272 737l5 5-2-4-6-5z"/><path class=c24 d="M267 732l5 5-3-4-5-5z"/><path class=c25 d="M264 728l5 5-3-4-5-5z"/><path class=c28 d="M256 719l5 5-3-5-5-4z"/><path class=c31 d="M247 713l6 2-3-5-6-2z"/><path class=c32 d="M239 710l5-2-2-2-6 1z"/><path class=cL d="M222 780l0-84-3-1 0 84zm3 2l0-84-3-2 0 84z"/><path class=c0 d="M374 783l5-2 0-48-5 5zm-6 2l6-2 0-45-6 5z"/><path class=c9 d="M319 768l5-2-2-2-6 2zm-8-1l5-1-3-3-5 2zm19 1l6-3-3-1-6 3zm-8 2l5-3-3-1-5 2zm-8 0l5-2-3-2-5 1z"/><path class=c10 d="M302 765l6 0-3-4-5 0zm36 1l6-5-3-1-5 5zm-33 2l6-1-3-2-6 0z"/><path class=c11 d="M347 763l5-5-3-2-5 5z"/><path class=c12 d="M294 760l6 1-3-3-6-2zm3 3l5 2-2-4-6-1z"/><path class=c15 d="M286 753l5 3-2-3-6-4z"/><path class=c19 d="M278 745l5 4-3-3-5-5z"/><path class=c22 d="M269 737l6 4-3-4-5-5z"/><path class=c26 d="M261 729l6 3-3-4-6-4z"/><path class=c27 d="M258 724l6 4-3-4-5-5z"/><path class=c28 d="M253 722l5 2-2-5-6-1z"/><path class=c30 d="M250 718l6 1-3-4-6-2zm-5 1l5-1-3-5-5 2z"/><path class=c31 d="M242 715l5-2-3-5-5 2z"/><path class=cL d="M228 783l0-84-3-1 0 84z"/><path class=c0 d="M363 786l5-1 0-42-5 5z"/><path class=c9 d="M333 770l5-4-2-1-6 3zm-8 1l5-3-3-1-5 3zm-9 1l6-2-3-2-5 2zm-8-1l6-1-3-3-6 1zm28 1l5-4-3-2-5 4z"/><path class=c10 d="M341 768l6-5-3-2-6 5z"/><path class=c11 d="M300 767l5 1-3-3-5-2z"/><path class=c13 d="M292 761l5 2-3-3-5-3z"/><path class=c14 d="M289 757l5 3-3-4-5-3z"/><path class=c16 d="M283 754l6 3-3-4-5-3z"/><path class=c17 d="M281 750l5 3-3-4-5-4z"/><path class=c20 d="M275 746l6 4-3-5-6-4z"/><path class=c21 d="M272 741l6 4-3-4-6-4z"/><path class=c24 d="M264 733l5 4-2-5-6-3z"/><path class=c27 d="M256 727l5 2-3-5-5-2z"/><path class=c28 d="M247 724l6-2-3-4-5 1z"/><path class=cL d="M230 785l0-83-2-3 0 84zm3 1l0-82-3-2 0 83z"/><path class=c0 d="M357 788l6-2 0-38-6 5z"/><path class=c8 d="M319 774l6-3-3-1-6 2zm11 1l6-3-3-2-6 3zm-8 1l5-3-2-2-6 3zm-8 0l5-2-3-2-5 1z"/><path class=c9 d="M327 773l6-3-3-2-5 3zm-16 0l5-1-2-2-6 1zm-5 0l5 0-3-2-5-1z"/><path class=c10 d="M303 770l5 1-3-3-5-1z"/><path class=c12 d="M294 765l6 2-3-4-5-2z"/><path class=c15 d="M286 758l6 3-3-4-6-3z"/><path class=c18 d="M278 750l5 4-2-4-6-4z"/><path class=c22 d="M270 743l5 3-3-5-5-3z"/><path class=c23 d="M267 738l5 3-3-4-5-4z"/><path class=c24 d="M261 737l6 1-3-5-5-1z"/><path class=c26 d="M259 732l5 1-3-4-5-2zm-6 1l6-1-3-5-6 1z"/><path class=c27 d="M250 728l6-1-3-5-6 2z"/><path class=cL d="M236 788l0-81-3-3 0 82zm3 1l0-79-3-3 0 81z"/><path class=c0 d="M352 790l5-2 0-35-5 5zm-5 1l5-1 0-32-5 5z"/><path class=c8 d="M325 778l5-3-3-2-5 3zm-8 1l5-3-3-2-5 2zm-9-2l6-1-3-3-5 0z"/><path class=c10 d="M300 773l6 0-3-3-6-1z"/><path class=c11 d="M297 769l6 1-3-3-6-2z"/><path class=c13 d="M292 767l5 2-3-4-5-3z"/><path class=c14 d="M289 762l5 3-2-4-6-3z"/><path class=c16 d="M284 759l5 3-3-4-5-3z"/><path class=c17 d="M281 755l5 3-3-4-5-4z"/><path class=c19 d="M275 752l6 3-3-5-6-2z"/><path class=c20 d="M272 748l6 2-3-4-5-3z"/><path class=c23 d="M264 742l6 1-3-5-6-1z"/><path class=c24 d="M256 738l5-1-2-5-6 1z"/><path class=cL d="M242 791l0-76-3-5 0 79z"/><path class=c0 d="M341 793l6-2 0-28-6 5z"/><path class=c7 d="M319 782l6-4-3-2-5 3zm-5 1l5-1-2-3-6 1z"/><path class=c8 d="M311 780l6-1-3-3-6 1zm-5 1l5-1-3-3-5 0z"/><path class=c9 d="M303 777l5 0-2-4-6 0z"/><path class=c11 d="M295 772l5 1-3-4-5-2z"/><path class=c14 d="M286 764l6 3-3-5-5-3z"/><path class=c18 d="M278 757l6 2-3-4-6-3z"/><path class=c20 d="M270 751l5 1-3-4-5-1z"/><path class=c21 d="M267 747l5 1-2-5-6-1z"/><path class=c22 d="M262 747l5 0-3-5-5 1z"/><path class=c23 d="M259 743l5-1-3-5-5 1z"/><path class=cL d="M245 792l0-73-3-4 0 76zm2 1l0-69-2-5 0 73z"/><path class=c0 d="M336 795l5-2 0-25-5 4zm-6 1l6-1 0-23-6 3z"/><path class=c7 d="M309 785l5-2-3-3-5 1z"/><path class=c8 d="M300 782l6-1-3-4-6 0z"/><path class=c10 d="M297 777l6 0-3-4-5-1z"/><path class=c11 d="M292 776l5 1-2-5-6-2z"/><path class=c13 d="M289 770l6 2-3-5-6-3z"/><path class=c14 d="M284 769l5 1-3-6-5-1z"/><path class=c16 d="M281 763l5 1-2-5-6-2z"/><path class=c17 d="M276 761l5 2-3-6-5-1z"/><path class=c19 d="M273 756l5 1-3-5-5-1z"/><path class=c21 d="M264 751l6 0-3-4-5 0z"/><path class=cL d="M250 795l0-67-3-4 0 69z"/><path class=c0 d="M325 798l5-2 0-21-5 3z"/><path class=c7 d="M303 786l6-1-3-4-6 1z"/><path class=c9 d="M295 782l5 0-3-5-5-1z"/><path class=c12 d="M287 775l5 1-3-6-5-1z"/><path class=c15 d="M278 767l6 2-3-6-5-2z"/><path class=c19 d="M270 759l6 2-3-5-6-1z"/><path class=c20 d="M267 755l6 1-3-5-6 0z"/><path class=cL d="M253 796l0-63-3-5 0 67zm3 2l0-60-3-5 0 63z"/><path class=c0 d="M319 800l6-2 0-20-6 4z"/><path class=c8 d="M298 786l5 0-3-4-5 0zm-6 0l6 0-3-4-6-1z"/><path class=c10 d="M289 781l6 1-3-6-5-1z"/><path class=c11 d="M284 779l5 2-2-6-6-2z"/><path class=c13 d="M281 773l6 2-3-6-6-2z"/><path class=c18 d="M273 763l5 4-2-6-6-2z"/><path class=cL d="M259 799l0-56-3-5 0 60z"/><path class=c0 d="M314 801l5-1 0-18-5 1zm-5 2l5-2 0-18-5 2z"/><path class=c10 d="M287 784l5 2-3-5-5-2z"/><path class=c15 d="M279 773l5 6-3-6-5-5z"/><path class=c16 d="M276 768l5 5-3-6-5-4z"/><path class=cL d="M262 801l0-54-3-4 0 56zm2 1l0-51-2-4 0 54z"/><path class=c0 d="M303 805l6-2 0-18-6 1z"/><path class=c14 d="M281 777l6 7-3-5-5-6z"/><path class=cL d="M267 804l0-49-3-4 0 51z"/><path class=c0 d="M298 806l5-1 0-19-5 0z"/><path class=cL d="M270 805l0-46-3-4 0 49zm3 2l0-44-3-4 0 46z"/><path class=c0 d="M292 808l6-2 0-20-6 0zm-5 1l5-1 0-22-5-2z"/><path class=cL d="M276 808l0-40-3-5 0 44z"/><path class=c0 d="M281 811l6-2 0-25-6-7z"/><path class=cL d="M279 810l0-37-3-5 0 40zm2 1l0-34-2-4 0 37zm0 0l0 0 0-34 0 34z"/></g>
<g stroke="#262626" stroke-width="0.9"><line x1="140.7" y1="407.4" x2="249.4" y2="374.4"/><line x1="140.7" y1="407.4" x2="56.8" y2="363.7"/><line x1="56.8" y1="363.7" x2="56.8" y2="269.7"/><line x1="140.7" y1="407.4" x2="143.4" y2="408.8"/><line x1="195.1" y1="390.9" x2="197.7" y2="392.3"/><line x1="249.4" y1="374.4" x2="252.1" y2="375.8"/><line x1="140.7" y1="407.4" x2="137.8" y2="408.3"/><line x1="70.7" y1="371" x2="67.9" y2="371.9"/><line x1="56.8" y1="363.7" x2="54.1" y2="362.3"/><line x1="56.8" y1="332.4" x2="54.1" y2="331"/><line x1="56.8" y1="301" x2="54.1" y2="299.6"/><line x1="56.8" y1="269.7" x2="54.1" y2="268.3"/></g>
<g fill="#2e2e2e" style="font-family:'Liberation Serif',serif"><text transform="translate(149.6 422.25) scale(1 1.09)" font-size="11.9" text-anchor="middle">0</text><text transform="translate(207.8 405.75) scale(1 1.09)" font-size="11.9" text-anchor="middle">20</text><text transform="translate(261.6 388.75) scale(1 1.09)" font-size="11.9" text-anchor="middle">40</text><text transform="translate(131 421.15) scale(1 1.09)" font-size="11.9" text-anchor="middle">0</text><text transform="translate(58.5 385.05) scale(1 1.09)" font-size="11.9" text-anchor="middle">50</text><text transform="translate(50.75 366.75) scale(1 1.09)" font-size="11.9" text-anchor="end">0</text><text transform="translate(50.75 335.42) scale(1 1.09)" font-size="11.9" text-anchor="end">0.005</text><text transform="translate(50.75 304.09) scale(1 1.09)" font-size="11.9" text-anchor="end">0.01</text><text transform="translate(50.75 272.75) scale(1 1.09)" font-size="11.9" text-anchor="end">0.015</text><text transform="translate(185.7 432.7) scale(1 1.09)" font-size="11.9">Spatial variable <tspan font-style="italic" font-size="12.6">ζ</tspan><tspan font-size="9.6" dy="4.9" dx="0.3">1</tspan></text><text transform="translate(7.2 425.6) scale(1 1.09)" font-size="11.9">Spatial variable <tspan font-style="italic" font-size="12.6">ζ</tspan><tspan font-size="9.6" dy="4.9" dx="0.3">2</tspan></text><text transform="translate(11.9 344.57) scale(1 1.09) rotate(-90)" font-size="11.9">Spatial variable <tspan font-style="italic" font-size="12.6">ζ</tspan><tspan font-size="9.6" dy="4.9" dx="0.3">3</tspan></text></g>
<g stroke="#dcdcdc" stroke-width="0.6"><line x1="330.9" y1="363.8" x2="330.9" y2="269.8"/><line x1="385.4" y1="348.1" x2="385.4" y2="254.1"/><line x1="439.9" y1="332.5" x2="439.9" y2="238.5"/><line x1="330.9" y1="363.8" x2="439.9" y2="332.5"/><line x1="330.9" y1="340.2" x2="439.9" y2="309"/><line x1="330.9" y1="316.8" x2="439.9" y2="285.5"/><line x1="330.9" y1="293.2" x2="439.9" y2="262"/><line x1="330.9" y1="269.8" x2="439.9" y2="238.5"/><line x1="523.6" y1="374.5" x2="523.6" y2="280.5"/><line x1="453.9" y1="339.5" x2="453.9" y2="245.5"/><line x1="523.6" y1="374.5" x2="439.9" y2="332.5"/><line x1="523.6" y1="351" x2="439.9" y2="309"/><line x1="523.6" y1="327.5" x2="439.9" y2="285.5"/><line x1="523.6" y1="304" x2="439.9" y2="262"/><line x1="523.6" y1="280.5" x2="439.9" y2="238.5"/><line x1="414.9" y1="407.5" x2="330.9" y2="363.8"/><line x1="469.2" y1="391" x2="385.4" y2="348.1"/><line x1="523.6" y1="374.5" x2="439.9" y2="332.5"/><line x1="414.9" y1="407.5" x2="523.6" y2="374.5"/><line x1="344.9" y1="371" x2="453.9" y2="339.5"/></g>
<g transform="scale(0.5)" stroke-width="1.1"><path class=c40 d="M915 570l0 65 0 0 0 0zm2 1l0 66-2-2 0-65zm-8 0l6-1 0 65-6 2zm3 2l5-2-2-1-6 1zm8 0l0 65-3-1 0-66zm-16 0l5-2 0 66-5 2zm11 2l5-2-3-2-5 2zm-8 0l5-2-3-2-5 2zm16-1l0 66-3-2 0-65zm-25 1l6-2 0 66-6 1zm20 1l5-2-3-1-5 2zm-9 0l6-1-3-2-5 2zm-8 1l6-2-3-2-6 2zm25-1l0 65-3-1 0-66zm-33 1l5-2 0 65-5 2zm28 1l5-2-3-2-5 2zm-9 0l6-2-3-1-6 1zm-8 0l5-2-2-1-6 2zm-8 0l5-1-3-2-5 2zm33 0l0 64-3-1 0-65z"/><path class=c39 d="M923 580l6-2-3-2-5 2zm9 0l0 64-3-2 0-64zm-6 2l6-2-3-2-6 2z"/><path class=c40 d="M887 578l6-1 0 65-6 1zm28 2l6-2-3-2-6 2zm-8 0l5-2-3-2-5 2zm-8 0l5-2-3-1-5 1zm-9-1l6-1-3-1-6 1z"/><path class=c38 d="M937 585l0 62-3-2 0-62z"/><path class=c39 d="M918 582l5-2-2-2-6 2zm-8 0l5-2-3-2-5 2zm24 1l0 62-2-1 0-64zm-5 2l5-2-2-3-6 2zm-8-1l5-2-3-2-5 2zm-9 0l6-2-3-2-5 2zm-8 0l6-2-3-2-6 2z"/><path class=c40 d="M901 582l6-2-3-2-5 2zm-8-1l6-1-3-2-6 1zm3 2l5-1-2-2-6 1z"/><path class=c41 d="M882 577l5 1 0 65-5 2zm3 2l5 0-3-1-5-1z"/><path class=c42 d="M877 577l5 0 0 68-5 1z"/><path class=c38 d="M932 587l5-2-3-2-5 2zm8 1l0 60-3-1 0-62zm-5 2l5-2-3-3-5 2zm-9-1l6-2-3-2-5 2z"/><path class=c39 d="M924 587l5-2-3-3-5 2zm-9-1l6-2-3-2-6 2zm-8 0l5-2-2-2-6 2z"/><path class=c40 d="M899 585l5-1-3-2-5 1z"/><path class=c41 d="M888 581l5 0-3-2-5 0zm2 1l6 1-3-2-5 0z"/><path class=c42 d="M879 578l6 1-3-2-5 0zm3 2l6 1-3-2-6-1z"/><path class=c43 d="M871 576l6 1 0 69-6 2zm3 2l5 0-2-1-6-1z"/><path class=c37 d="M943 590l0 60-3-2 0-60zm-6 2l6-2-3-2-5 2zm9 1l0 58-3-1 0-60z"/><path class=c38 d="M918 588l6-1-3-3-6 2zm11 3l6-1-3-3-6 2zm-8 0l5-2-2-2-6 1zm-8-1l5-2-3-2-5 2z"/><path class=c39 d="M910 588l5-2-3-2-5 2zm-8-1l5-1-3-2-5 1zm2 2l6-1-3-2-5 1z"/><path class=c40 d="M896 586l6 1-3-2-6-1z"/><path class=c41 d="M893 584l6 1-3-2-6-1z"/><path class=c42 d="M885 582l5 0-2-1-6-1z"/><path class=c43 d="M877 580l5 0-3-2-5 0z"/><path class=c45 d="M866 575l5 1 0 72-5 2zm2 1l6 2-3-2-5-1z"/><path class=c36 d="M940 595l6-2-3-3-6 2zm9 1l0 56-3-1 0-58zm-6 2l6-2-3-3-6 2zm-8-1l5-2-3-3-5 2z"/><path class=c37 d="M932 594l5-2-2-2-6 1zm-8-1l5-2-3-2-5 2zm3 3l5-2-3-3-5 2z"/><path class=c38 d="M915 593l6-2-3-3-5 2z"/><path class=c39 d="M907 591l6-1-3-2-6 1z"/><path class=c40 d="M899 589l5 0-2-2-6-1z"/><path class=c41 d="M891 586l5 0-3-2-5 0z"/><path class=c42 d="M888 584l5 0-3-2-5 0zm-6-1l6 1-3-2-5-1z"/><path class=c43 d="M880 581l5 1-3-2-5 0z"/><path class=c44 d="M871 578l6 2-3-2-6-2zm3 2l6 1-3-1-6-2z"/><path class=c47 d="M860 571l6 4 0 75-6 1zm3 2l5 3-2-1-6-4zm3 2l5 3-3-2-5-3z"/><path class=c49 d="M855 568l5 3 0 80-5 2z"/><path class=c34 d="M954 602l0 53-3-1 0-55z"/><path class=c35 d="M951 599l0 55-2-2 0-56zm-5 2l5-2-2-3-6 2z"/><path class=c36 d="M938 600l5-2-3-3-5 2zm-9-1l6-2-3-3-5 2z"/><path class=c37 d="M918 595l6-2-3-2-6 2zm3 3l6-2-3-3-6 2z"/><path class=c38 d="M910 594l5-1-2-3-6 1zm3 2l5-1-3-2-5 1z"/><path class=c39 d="M902 591l5 0-3-2-5 0zm3 2l5 1-3-3-5 0z"/><path class=c41 d="M893 588l6 1-3-3-5 0z"/><path class=c42 d="M885 586l6 0-3-2-6-1z"/><path class=c44 d="M877 582l5 1-2-2-6-1z"/><path class=c47 d="M869 577l5 3-3-2-5-3z"/><path class=c49 d="M858 570l5 3-3-2-5-3zm2 1l6 4-3-2-5-3z"/><path class=c52 d="M849 565l6 3 0 85-6 1zm3 1l6 4-3-2-6-3z"/><path class=c34 d="M949 604l5-2-3-3-5 2zm8 1l0 52-3-2 0-53zm-5 2l5-2-3-3-5 2zm-9-1l6-2-3-3-6 2z"/><path class=c35 d="M940 603l6-2-3-3-5 2zm-8-1l6-2-3-3-6 2zm3 3l5-2-2-3-6 2z"/><path class=c36 d="M924 601l5-2-2-3-6 2z"/><path class=c37 d="M916 599l5-1-3-3-5 1z"/><path class=c38 d="M907 596l6 0-3-2-5-1z"/><path class=c40 d="M896 591l6 0-3-2-6-1zm3 2l6 0-3-2-6 0z"/><path class=c41 d="M891 590l5 1-3-3-5 0z"/><path class=c42 d="M888 588l5 0-2-2-6 0z"/><path class=c43 d="M883 586l5 2-3-2-5-2z"/><path class=c44 d="M880 584l5 2-3-3-5-1z"/><path class=c46 d="M872 579l5 3-3-2-5-3zm2 2l6 3-3-2-5-3z"/><path class=c49 d="M863 573l6 4-3-2-6-4z"/><path class=c51 d="M855 568l5 3-2-1-6-4z"/><path class=c54 d="M844 562l5 3 0 89-5 2zm3 1l5 3-3-1-5-3z"/><path class=c56 d="M838 559l6 3 0 94-6 2z"/><path class=c32 d="M963 611l0 48-3-1 0-50z"/><path class=c33 d="M960 608l0 50-3-1 0-52zm-6 2l6-2-3-3-5 2zm-8-1l6-2-3-3-6 2z"/><path class=c34 d="M938 608l5-2-3-3-5 2z"/><path class=c35 d="M927 604l5-2-3-3-5 2zm3 3l5-2-3-3-5 2z"/><path class=c36 d="M918 602l6-1-3-3-5 1zm3 3l6-1-3-3-6 1z"/><path class=c37 d="M913 602l5 0-2-3-6 0z"/><path class=c38 d="M910 599l6 0-3-3-6 0z"/><path class=c39 d="M902 596l5 0-2-3-6 0zm3 3l5 0-3-3-5 0z"/><path class=c41 d="M894 593l5 0-3-2-5-1z"/><path class=c43 d="M885 589l6 1-3-2-5-2z"/><path class=c45 d="M877 583l6 3-3-2-6-3z"/><path class=c48 d="M869 578l5 3-2-2-6-4z"/><path class=c49 d="M866 575l6 4-3-2-6-4z"/><path class=c51 d="M858 570l5 3-3-2-5-3zm3 2l5 3-3-2-5-3z"/><path class=c53 d="M852 567l6 3-3-2-5-3z"/><path class=c54 d="M850 565l5 3-3-2-5-3z"/><path class=c55 d="M844 563l6 2-3-2-6-2z"/><path class=c56 d="M841 561l6 2-3-1-6-3z"/><path class=c57 d="M833 557l5 2 0 99-5 1z"/><path class=c30 d="M968 618l0 44-3-1 0-46z"/><path class=c31 d="M965 615l0 46-2-2 0-48zm-5 2l5-2-2-4-6 3z"/><path class=c32 d="M957 614l6-3-3-3-6 2zm-8-2l5-2-2-3-6 2zm3 4l5-2-3-4-5 2zm-9-2l6-2-3-3-5 2z"/><path class=c33 d="M941 611l5-2-3-3-5 2zm-6 2l6-2-3-3-6 2z"/><path class=c34 d="M932 610l6-2-3-3-5 2z"/><path class=c35 d="M924 608l6-1-3-3-6 1z"/><path class=c36 d="M916 605l5 0-3-3-5 0z"/><path class=c38 d="M908 602l5 0-3-3-5 0z"/><path class=c39 d="M899 599l6 0-3-3-5 0z"/><path class=c40 d="M897 596l5 0-3-3-5 0z"/><path class=c41 d="M891 594l6 2-3-3-6-1z"/><path class=c42 d="M888 592l6 1-3-3-6-1z"/><path class=c44 d="M883 589l5 3-3-3-5-3z"/><path class=c45 d="M880 586l5 3-2-3-6-3z"/><path class=c47 d="M875 583l5 3-3-3-5-3z"/><path class=c48 d="M872 580l5 3-3-2-5-3z"/><path class=c50 d="M863 574l6 4-3-3-5-3z"/><path class=c53 d="M855 569l6 3-3-2-6-3z"/><path class=c55 d="M847 565l5 2-2-2-6-2z"/><path class=c57 d="M836 558l5 3-3-2-5-2zm3 2l5 3-3-2-5-3z"/><path class=c59 d="M828 555l5 2 0 102-5 2zm2 1l6 2-3-1-5-2z"/><path class=c29 d="M971 622l0 42-3-2 0-44zm-5 2l5-2-3-4-5 2z"/><path class=c30 d="M963 620l5-2-3-3-5 2z"/><path class=c31 d="M955 619l5-2-3-3-5 2zm-9-1l6-2-3-4-6 2z"/><path class=c32 d="M938 616l5-2-2-3-6 2z"/><path class=c33 d="M930 614l5-1-3-3-5 1z"/><path class=c34 d="M927 611l5-1-2-3-6 1z"/><path class=c35 d="M921 611l6 0-3-3-5 0z"/><path class=c36 d="M919 608l5 0-3-3-5 0zm-6 0l6 0-3-3-6 0z"/><path class=c37 d="M910 605l6 0-3-3-5 0z"/><path class=c38 d="M905 605l5 0-2-3-6 0z"/><path class=c39 d="M902 602l6 0-3-3-6 0z"/><path class=c41 d="M894 597l5 2-2-3-6-2z"/><path class=c43 d="M886 592l5 2-3-2-5-3z"/><path class=c46 d="M877 586l6 3-3-3-5-3z"/><path class=c49 d="M869 580l6 3-3-3-6-3z"/><path class=c50 d="M866 577l6 3-3-2-6-4z"/><path class=c52 d="M858 572l5 2-2-2-6-3zm3 2l5 3-3-3-5-2z"/><path class=c54 d="M853 569l5 3-3-3-5-2z"/><path class=c55 d="M850 567l5 2-3-2-5-2z"/><path class=c57 d="M841 562l6 3-3-2-5-3zm3 3l6 2-3-2-6-3z"/><path class=c59 d="M833 558l6 2-3-2-6-2z"/><path class=c61 d="M822 552l6 3 0 106-6 1zm3 2l5 2-2-1-6-3z"/><path class=c63 d="M817 550l5 2 0 110-5 2z"/><path class=c27 d="M977 629l0 38-3-2 0-40z"/><path class=c28 d="M974 625l0 40-3-1 0-42zm-6 2l6-2-3-3-5 2z"/><path class=c29 d="M960 626l6-2-3-4-6 2zm-8-2l5-2-2-3-6 2z"/><path class=c30 d="M957 622l6-2-3-3-5 2zm-8-1l6-2-3-3-6 2zm-5 2l5-2-3-3-5 2z"/><path class=c31 d="M941 620l5-2-3-4-5 2z"/><path class=c32 d="M933 618l5-2-3-3-5 1z"/><path class=c34 d="M924 614l6 0-3-3-6 0z"/><path class=c35 d="M916 611l5 0-2-3-6 0z"/><path class=c37 d="M908 608l5 0-3-3-5 0z"/><path class=c39 d="M900 604l5 1-3-3-5-2z"/><path class=c40 d="M897 600l5 2-3-3-5-2z"/><path class=c42 d="M891 598l6 2-3-3-6-2z"/><path class=c43 d="M888 595l6 2-3-3-5-2z"/><path class=c45 d="M883 592l5 3-2-3-6-3z"/><path class=c46 d="M880 589l6 3-3-3-6-3z"/><path class=c49 d="M872 583l5 3-2-3-6-3z"/><path class=c51 d="M864 577l5 3-3-3-5-3z"/><path class=c54 d="M855 572l6 2-3-2-5-3z"/><path class=c56 d="M847 567l6 2-3-2-6-2z"/><path class=c58 d="M839 562l5 3-3-3-5-2z"/><path class=c59 d="M836 560l5 2-2-2-6-2z"/><path class=c61 d="M828 556l5 2-3-2-5-2zm3 2l5 2-3-2-5-2z"/><path class=c63 d="M819 552l6 2-3-2-5-2zm-8-1l6-1 0 114-6 1zm11 2l6 3-3-2-6-2z"/><path class=c26 d="M980 632l0 36-3-1 0-38zm-6 3l6-3-3-3-6 2z"/><path class=c27 d="M971 631l6-2-3-4-6 2z"/><path class=c28 d="M963 630l5-3-2-3-6 2zm-8-2l5-2-3-4-5 2z"/><path class=c29 d="M946 627l6-3-3-3-5 2z"/><path class=c30 d="M938 624l6-1-3-3-6 1z"/><path class=c31 d="M935 621l6-1-3-4-5 2z"/><path class=c32 d="M930 621l5 0-2-3-6 0z"/><path class=c33 d="M927 618l6 0-3-4-6 0zm-5 0l5 0-3-4-5 1z"/><path class=c34 d="M919 615l5-1-3-3-5 0z"/><path class=c35 d="M913 615l6 0-3-4-5 0z"/><path class=c36 d="M911 611l5 0-3-3-5 0z"/><path class=c38 d="M902 607l6 1-3-3-5-1z"/><path class=c41 d="M894 601l6 3-3-4-6-2z"/><path class=c44 d="M886 595l5 3-3-3-5-3z"/><path class=c47 d="M878 589l5 3-3-3-5-3z"/><path class=c48 d="M875 586l5 3-3-3-5-3z"/><path class=c50 d="M866 580l6 3-3-3-5-3zm3 3l6 3-3-3-6-3z"/><path class=c52 d="M861 578l5 2-2-3-6-2z"/><path class=c53 d="M858 575l6 2-3-3-6-2z"/><path class=c55 d="M850 570l5 2-2-3-6-2zm3 3l5 2-3-3-5-2z"/><path class=c58 d="M842 565l5 2-3-2-5-3z"/><path class=c60 d="M833 560l6 2-3-2-5-2z"/><path class=c62 d="M825 555l6 3-3-2-6-3z"/><path class=c63 d="M814 553l5-1-2-2-6 1zm-8-1l5-1 0 114-5 2zm11 3l5-2-3-1-5 1zm-8-1l5-1-3-2-5 1z"/><path class=c24 d="M985 640l0 31-3-2 0-33z"/><path class=c25 d="M982 636l0 33-2-1 0-36zm-5 2l5-2-2-4-6 3z"/><path class=c26 d="M969 637l5-2-3-4-5 2zm-9-2l6-2-3-3-5 2z"/><path class=c27 d="M966 633l5-2-3-4-5 3zm-8-1l5-2-3-4-5 2zm-6 2l6-2-3-4-6 2z"/><path class=c28 d="M949 630l6-2-3-4-6 3zm-5 2l5-2-3-3-5 1z"/><path class=c29 d="M941 628l5-1-2-4-6 1z"/><path class=c31 d="M933 625l5-1-3-3-5 0z"/><path class=c32 d="M925 622l5-1-3-3-5 0z"/><path class=c34 d="M916 618l6 0-3-3-6 0z"/><path class=c36 d="M908 614l5 1-2-4-6 0z"/><path class=c37 d="M905 611l6 0-3-3-6-1z"/><path class=c39 d="M900 608l5 3-3-4-5-2z"/><path class=c40 d="M897 605l5 2-2-3-6-3z"/><path class=c42 d="M891 602l6 3-3-4-5-2z"/><path class=c43 d="M889 599l5 2-3-3-5-3z"/><path class=c45 d="M883 596l6 3-3-4-6-2z"/><path class=c46 d="M880 593l6 2-3-3-5-3z"/><path class=c49 d="M872 587l6 2-3-3-6-3z"/><path class=c51 d="M864 581l5 2-3-3-5-2z"/><path class=c54 d="M856 576l5 2-3-3-5-2z"/><path class=c56 d="M847 571l6 2-3-3-6-2z"/><path class=c57 d="M844 568l6 2-3-3-5-2z"/><path class=c59 d="M839 566l5 2-2-3-6-2z"/><path class=c60 d="M836 563l6 2-3-3-6-2z"/><path class=c61 d="M831 561l5 2-3-3-5-2z"/><path class=c62 d="M828 558l5 2-2-2-6-3zm-5 1l5-1-3-3-5 2z"/><path class=c63 d="M800 553l6-1 0 115-6 2zm20 4l5-2-3-2-5 2zm-9-1l6-1-3-2-5 1zm-8-1l6-1-3-2-6 1zm-8 2l5-4 0 116-5 1z"/><path class=c23 d="M988 643l0 29-3-1 0-31zm-5 3l5-3-3-3-5 2zm-9-2l6-2-3-4-6 2z"/><path class=c24 d="M980 642l5-2-3-4-5 2z"/><path class=c25 d="M971 640l6-2-3-3-5 2zm-8-1l6-2-3-4-6 2z"/><path class=c26 d="M955 637l5-2-2-3-6 2z"/><path class=c27 d="M947 635l5-1-3-4-5 2z"/><path class=c29 d="M938 632l6 0-3-4-5 1z"/><path class=c30 d="M936 629l5-1-3-4-5 1zm-6 0l6 0-3-4-6 0z"/><path class=c31 d="M927 625l6 0-3-4-5 1z"/><path class=c32 d="M922 626l5-1-2-3-6 0z"/><path class=c33 d="M919 622l6 0-3-4-6 0z"/><path class=c34 d="M914 622l5 0-3-4-5 0z"/><path class=c35 d="M911 618l5 0-3-3-5-1z"/><path class=c38 d="M903 612l5 2-3-3-5-3z"/><path class=c41 d="M894 606l6 2-3-3-6-3z"/><path class=c44 d="M886 600l5 2-2-3-6-3z"/><path class=c47 d="M878 594l5 2-3-3-5-3z"/><path class=c48 d="M875 590l5 3-2-4-6-2z"/><path class=c49 d="M869 589l6 1-3-3-5-2z"/><path class=c50 d="M867 585l5 2-3-4-5-2z"/><path class=c52 d="M861 583l6 2-3-4-6-1z"/><path class=c53 d="M858 580l6 1-3-3-5-2z"/><path class=c55 d="M853 578l5 2-2-4-6-2z"/><path class=c56 d="M850 574l6 2-3-3-6-2z"/><path class=c58 d="M842 569l5 2-3-3-5-2z"/><path class=c61 d="M834 563l5 3-3-3-5-2z"/><path class=c62 d="M825 562l6-1-3-3-5 1zm-36-1l6-4 0 113-6 2zm28-1l6-1-3-2-6 1zm-16 0l5-3-3-2-5 4zm-9 2l6-3-3-2-6 4z"/><path class=c63 d="M814 558l6-1-3-2-6 1zm-8-1l5-1-2-2-6 1zm-8 2l5-4-3-2-5 4zm11 0l5-1-3-2-5 1z"/><path class=c21 d="M994 651l0 24-3-1 0-27z"/><path class=c22 d="M991 647l0 27-3-2 0-29zm-6 2l6-2-3-4-5 3zm-8-1l6-2-3-4-6 2z"/><path class=c23 d="M969 646l5-2-3-4-5 3z"/><path class=c24 d="M966 643l5-3-2-3-6 2zm-5 2l5-2-3-4-5 2z"/><path class=c25 d="M958 641l5-2-3-4-5 2zm-6 2l6-2-3-4-5 2z"/><path class=c26 d="M950 639l5-2-3-3-5 1zm-6 1l6-1-3-4-6 1z"/><path class=c28 d="M941 636l6-1-3-3-6 0z"/><path class=c29 d="M933 633l5-1-2-3-6 0z"/><path class=c31 d="M925 630l5-1-3-4-5 1z"/><path class=c33 d="M916 626l6 0-3-4-5 0z"/><path class=c35 d="M908 620l6 2-3-4-6-2z"/><path class=c37 d="M905 616l6 2-3-4-5-2z"/><path class=c38 d="M900 614l5 2-2-4-6-2z"/><path class=c39 d="M897 610l6 2-3-4-6-2z"/><path class=c41 d="M892 608l5 2-3-4-5-2z"/><path class=c42 d="M889 604l5 2-3-4-5-2z"/><path class=c44 d="M883 602l6 2-3-4-5-2z"/><path class=c45 d="M881 598l5 2-3-4-5-2z"/><path class=c48 d="M872 593l6 1-3-4-6-1z"/><path class=c51 d="M864 587l5 2-2-4-6-2z"/><path class=c53 d="M856 581l5 2-3-3-5-2z"/><path class=c56 d="M848 576l5 2-3-4-5-2z"/><path class=c57 d="M845 572l5 2-3-3-5-2z"/><path class=c59 d="M839 570l6 2-3-3-6-2z"/><path class=c60 d="M836 567l6 2-3-3-5-3zm-5 1l5-1-2-4-6 2z"/><path class=c61 d="M828 565l6-2-3-2-6 1zm-44-1l5-3 0 111-5 1zm11 0l6-4-3-1-6 3zm-8 2l5-4-3-1-5 3zm36 0l5-1-3-3-5 1z"/><path class=c62 d="M820 563l5-1-2-3-6 1zm-8-1l5-2-3-2-5 1zm-9 1l6-4-3-2-5 3z"/><path class=c20 d="M996 654l0 22-2-1 0-24zm-5 3l5-3-2-3-6 2zm-8-2l5-2-3-4-5 3z"/><path class=c21 d="M988 653l6-2-3-4-6 2zm-8-1l5-3-2-3-6 2z"/><path class=c22 d="M972 650l5-2-3-4-5 2z"/><path class=c23 d="M963 649l6-3-3-3-5 2z"/><path class=c24 d="M955 647l6-2-3-4-6 2z"/><path class=c25 d="M947 644l5-1-2-4-6 1z"/><path class=c27 d="M939 641l5-1-3-4-5 1z"/><path class=c28 d="M936 637l5-1-3-4-5 1zm-6 1l6-1-3-4-5 1z"/><path class=c30 d="M928 634l5-1-3-4-5 1zm-6 0l6 0-3-4-6 0z"/><path class=c32 d="M919 630l6 0-3-4-6 0z"/><path class=c33 d="M914 628l5 2-3-4-5-2z"/><path class=c34 d="M911 624l5 2-2-4-6-2z"/><path class=c37 d="M903 619l5 1-3-4-5-2z"/><path class=c40 d="M894 613l6 1-3-4-5-2z"/><path class=c43 d="M886 607l6 1-3-4-6-2z"/><path class=c45 d="M878 601l5 1-2-4-6-1z"/><path class=c47 d="M875 597l6 1-3-4-6-1z"/><path class=c48 d="M870 595l5 2-3-4-5-2z"/><path class=c50 d="M867 591l5 2-3-4-5-2z"/><path class=c51 d="M861 589l6 2-3-4-5-2z"/><path class=c52 d="M859 585l5 2-3-4-5-2z"/><path class=c54 d="M853 584l6 1-3-4-6-1z"/><path class=c55 d="M850 580l6 1-3-3-5-2z"/><path class=c57 d="M773 574l6-5 0 106-6 2z"/><path class=c58 d="M842 574l6 2-3-4-6-2z"/><path class=c59 d="M779 569l5-5 0 109-5 2zm2 1l6-4-3-2-5 5zm53 1l5-1-3-3-5 1z"/><path class=c60 d="M790 568l5-4-3-2-5 4zm36 1l5-1-3-3-5 1zm-34 1l6-4-3-2-5 4z"/><path class=c61 d="M798 566l5-3-2-3-6 4zm19 1l6-1-3-3-6 1zm-8 1l5-4-2-2-6 3zm-8 1l5-4-3-2-5 3z"/><path class=c62 d="M814 564l6-1-3-3-5 2zm-8 1l6-3-3-3-6 4z"/><path class=c18 d="M1002 661l0 18-3-1 0-20z"/><path class=c19 d="M999 658l0 20-3-2 0-22zm-5 2l5-2-3-4-5 3zm-8-1l5-2-3-4-5 2z"/><path class=c20 d="M977 657l6-2-3-3-6 2z"/><path class=c21 d="M974 654l6-2-3-4-5 2zm-5 2l5-2-2-4-6 2z"/><path class=c22 d="M966 652l6-2-3-4-6 3zm-5 2l5-2-3-3-5 1z"/><path class=c23 d="M958 650l5-1-2-4-6 2zm-5 2l5-2-3-3-5 1z"/><path class=c24 d="M950 648l5-1-3-4-5 1z"/><path class=c26 d="M941 645l6-1-3-4-5 1z"/><path class=c27 d="M933 642l6-1-3-4-6 1z"/><path class=c29 d="M925 638l5 0-2-4-6 0z"/><path class=c32 d="M917 633l5 1-3-4-5-2z"/><path class=c34 d="M908 627l6 1-3-4-5-1z"/><path class=c36 d="M906 623l5 1-3-4-5-1z"/><path class=c37 d="M900 621l6 2-3-4-6-2z"/><path class=c38 d="M897 617l6 2-3-5-6-1z"/><path class=c40 d="M892 616l5 1-3-4-5-2z"/><path class=c41 d="M889 611l5 2-2-5-6-1z"/><path class=c44 d="M881 605l5 2-3-5-5-1z"/><path class=c47 d="M873 600l5 1-3-4-5-2z"/><path class=c50 d="M864 594l6 1-3-4-6-2z"/><path class=c53 d="M856 588l5 1-2-4-6-1z"/><path class=c55 d="M848 582l5 2-3-4-5-2zm-78-1l6-5-3-2-5 6z"/><path class=c56 d="M768 580l5-6 0 103-5 1z"/><path class=c57 d="M845 578l5 2-2-4-6-2zm-69-2l5-6-2-1-6 5zm3 2l5-6-3-2-5 6zm60 1l6-1-3-4-5 1z"/><path class=c58 d="M837 575l5-1-3-4-5 1zm-6 1l6-1-3-4-6 2z"/><path class=c59 d="M784 572l6-4-3-2-6 4zm44 1l6-2-3-3-5 1zm-41 1l5-4-2-2-6 4z"/><path class=c60 d="M820 570l6-1-3-3-6 1zm-8 1l5-4-3-3-5 4zm-8 0l5-3-3-3-5 4zm-9 1l6-3-3-3-6 4z"/><path class=c17 d="M1005 665l0 16-3-2 0-18zm-6 2l6-2-3-4-5 3zm-8-1l6-2-3-4-6 2z"/><path class=c18 d="M997 664l5-3-3-3-5 2zm-9-2l6-2-3-3-5 2zm-5 3l5-3-2-3-6 2z"/><path class=c19 d="M980 661l6-2-3-4-6 2z"/><path class=c20 d="M972 660l5-3-3-3-5 2z"/><path class=c21 d="M964 658l5-2-3-4-5 2z"/><path class=c22 d="M955 655l6-1-3-4-5 2z"/><path class=c23 d="M947 653l6-1-3-4-6 1z"/><path class=c24 d="M944 649l6-1-3-4-6 1z"/><path class=c25 d="M939 650l5-1-3-4-5 1z"/><path class=c26 d="M936 646l5-1-2-4-6 1zm-5 0l5 0-3-4-5 0z"/><path class=c28 d="M928 642l5 0-3-4-5 0z"/><path class=c29 d="M922 641l6 1-3-4-6-1z"/><path class=c30 d="M919 637l6 1-3-4-5-1z"/><path class=c33 d="M911 632l6 1-3-5-6-1z"/><path class=c36 d="M903 626l5 1-2-4-6-2z"/><path class=c38 d="M895 620l5 1-3-4-5-1z"/><path class=c41 d="M886 615l6 1-3-5-5-1z"/><path class=c43 d="M884 610l5 1-3-4-5-2z"/><path class=c44 d="M878 609l6 1-3-5-6-1z"/><path class=c45 d="M875 604l6 1-3-4-5-1z"/><path class=c47 d="M870 603l5 1-2-4-6-2z"/><path class=c48 d="M867 598l6 2-3-5-6-1z"/><path class=c50 d="M862 597l5 1-3-4-5-2z"/><path class=c51 d="M859 592l5 2-3-5-5-1z"/><path class=c54 d="M762 586l6-6 0 98-6 2zm89 0l5 2-3-4-5-2zm-86 1l5-6-2-1-6 6z"/><path class=c55 d="M773 583l6-5-3-2-6 5z"/><path class=c56 d="M842 583l6-1-3-4-6 1z"/><path class=c57 d="M782 580l5-6-3-2-5 6zm52 0l5-1-2-4-6 1z"/><path class=c58 d="M790 576l5-4-3-2-5 4zm36 2l5-2-3-3-5 1zm-9-1l6-3-3-4-5 4zm-16 1l5-4-2-3-6 4z"/><path class=c59 d="M823 574l5-1-2-4-6 1zm-8 0l5-4-3-3-5 4zm-9 0l6-3-3-3-5 3zm-8 1l6-4-3-2-6 3zm11 2l6-3-3-3-6 3z"/><path class=c15 d="M1011 671l0 13-3-2 0-14z"/><path class=c16 d="M1008 668l0 14-3-1 0-16zm-6 2l6-2-3-3-6 2zm-8-1l5-2-2-3-6 2z"/><path class=c17 d="M986 668l5-2-3-4-5 3z"/><path class=c18 d="M978 667l5-2-3-4-5 2zm-9-2l6-2-3-3-6 2z"/><path class=c19 d="M975 663l5-2-3-4-5 3z"/><path class=c20 d="M966 662l6-2-3-4-5 2zm-5 1l5-1-2-4-6 1z"/><path class=c21 d="M958 659l6-1-3-4-6 1zm-5 2l5-2-3-4-5 2z"/><path class=c22 d="M950 657l5-2-2-3-6 1z"/><path class=c23 d="M942 654l5-1-3-4-5 1z"/><path class=c25 d="M933 651l6-1-3-4-5 0z"/><path class=c27 d="M925 646l6 0-3-4-6-1z"/><path class=c30 d="M917 641l5 0-3-4-5-1z"/><path class=c31 d="M914 636l5 1-2-4-6-1z"/><path class=c32 d="M909 635l5 1-3-4-5-1z"/><path class=c34 d="M906 631l5 1-3-5-5-1z"/><path class=c35 d="M900 630l6 1-3-5-5-1z"/><path class=c37 d="M898 625l5 1-3-5-5-1z"/><path class=c38 d="M892 624l6 1-3-5-6-1z"/><path class=c39 d="M889 619l6 1-3-4-6-1z"/><path class=c42 d="M881 614l5 1-2-5-6-1z"/><path class=c45 d="M873 608l5 1-3-5-5-1z"/><path class=c48 d="M864 602l6 1-3-5-5-1z"/><path class=c51 d="M856 596l6 1-3-5-6-1zm-105-1l6-4 0 90-6 2z"/><path class=c52 d="M757 591l5-5 0 94-5 1zm3 1l5-5-3-1-5 5z"/><path class=c53 d="M853 591l6 1-3-4-5-2zm-85-2l5-6-3-2-5 6zm80 3l5-1-2-5-6 2zm-77-1l5-6-3-2-5 6z"/><path class=c54 d="M845 588l6-2-3-4-6 1zm-5 1l5-1-3-5-5 2z"/><path class=c55 d="M776 585l6-5-3-2-6 5zm3 3l5-6-2-2-6 5z"/><path class=c56 d="M837 585l5-2-3-4-5 1zm-50 0l6-6-3-3-6 6zm44 1l6-1-3-5-5 2z"/><path class=c57 d="M784 582l6-6-3-2-5 6zm45 0l5-2-3-4-5 2zm-9-1l6-3-3-4-6 3zm-24 1l5-4-3-3-5 4z"/><path class=c58 d="M793 579l5-4-3-3-5 4zm19 2l5-4-2-3-6 3zm-8 0l5-4-3-3-5 4z"/><path class=c14 d="M1013 674l0 11-2-1 0-13zm-5 3l5-3-2-3-6 3zm8 0l0 9-3-1 0-11z"/><path class=c15 d="M1005 674l6-3-3-3-6 2zm-8-1l5-3-3-3-5 2zm3 3l5-2-3-4-5 3zm-9-1l6-2-3-4-5 3z"/><path class=c16 d="M989 672l5-3-3-3-5 2zm-6 2l6-2-3-4-6 3z"/><path class=c17 d="M980 671l6-3-3-3-5 2zm-8-2l6-2-3-4-6 2z"/><path class=c18 d="M964 667l5-2-3-3-5 1z"/><path class=c20 d="M956 665l5-2-3-4-5 2z"/><path class=c21 d="M947 662l6-1-3-4-6 1z"/><path class=c22 d="M944 658l6-1-3-4-5 1zm-5 1l5-1-2-4-6 1z"/><path class=c24 d="M936 655l6-1-3-4-6 1z"/><path class=c25 d="M931 655l5 0-3-4-5-1z"/><path class=c26 d="M928 650l5 1-2-5-6 0z"/><path class=c27 d="M923 650l5 0-3-4-5 0z"/><path class=c28 d="M920 646l5 0-3-5-5 0z"/><path class=c31 d="M911 640l6 1-3-5-5-1z"/><path class=c33 d="M903 635l6 0-3-4-6-1z"/><path class=c36 d="M895 629l5 1-2-5-6-1z"/><path class=c39 d="M887 624l5 0-3-5-5 0z"/><path class=c41 d="M884 619l5 0-3-4-5-1z"/><path class=c42 d="M878 618l6 1-3-5-5-1z"/><path class=c43 d="M876 613l5 1-3-5-5-1z"/><path class=c45 d="M870 612l6 1-3-5-6-1z"/><path class=c46 d="M867 607l6 1-3-5-6-1z"/><path class=c48 d="M862 606l5 1-3-5-5-1z"/><path class=c49 d="M859 601l5 1-2-5-6-1zm-113-1l5-5 0 88-5 1zm3 1l5-4-3-2-5 5z"/><path class=c50 d="M757 599l5-5-2-2-6 5z"/><path class=c51 d="M754 597l6-5-3-1-6 4zm97 0l5-1-3-5-5 1zm-86-1l6-5-3-2-6 5z"/><path class=c52 d="M762 594l6-5-3-2-5 5z"/><path class=c53 d="M842 594l6-2-3-4-5 1zm-68-1l5-5-3-3-5 6z"/><path class=c54 d="M782 590l5-5-3-3-5 6zm52 0l6-1-3-4-6 1z"/><path class=c55 d="M790 588l6-6-3-3-6 6zm36 1l5-3-2-4-6 3zm-8-1l5-3-3-4-5 4zm-17 1l6-5-3-3-6 4z"/><path class=c56 d="M823 585l6-3-3-4-6 3zm-25 0l6-4-3-3-5 4zm11 3l6-3-3-4-5 3z"/><path class=c57 d="M815 585l5-4-3-4-5 4zm-8-1l5-3-3-4-5 4z"/><path class=c13 d="M1011 679l5-2-3-3-5 3zm8 0l0 9-3-2 0-9zm-5 3l5-3-3-2-5 2z"/><path class=c14 d="M1002 679l6-2-3-3-5 2zm-8-1l6-2-3-3-6 2z"/><path class=c15 d="M986 677l5-2-2-3-6 2zm-8-1l5-2-3-3-5 2z"/><path class=c16 d="M975 673l5-2-2-4-6 2zm-6 2l6-2-3-4-5 2z"/><path class=c17 d="M967 671l5-2-3-4-5 2zm-6 2l6-2-3-4-6 2z"/><path class=c18 d="M958 669l6-2-3-4-5 2zm-5 1l5-1-2-4-6 1z"/><path class=c20 d="M950 666l6-1-3-4-6 1z"/><path class=c21 d="M942 663l5-1-3-4-5 1z"/><path class=c23 d="M934 659l5 0-3-4-5 0z"/><path class=c25 d="M925 655l6 0-3-5-5 0z"/><path class=c28 d="M917 650l6 0-3-4-6-1z"/><path class=c29 d="M914 645l6 1-3-5-6-1z"/><path class=c30 d="M909 645l5 0-3-5-5 0z"/><path class=c32 d="M906 640l5 0-2-5-6 0z"/><path class=c33 d="M901 640l5 0-3-5-5 0z"/><path class=c34 d="M898 635l5 0-3-5-5-1z"/><path class=c35 d="M892 634l6 1-3-6-6 0z"/><path class=c37 d="M889 629l6 0-3-5-5 0z"/><path class=c40 d="M881 623l6 1-3-5-6-1z"/><path class=c43 d="M873 617l5 1-2-5-6-1z"/><path class=c46 d="M865 611l5 1-3-5-5-1z"/><path class=c48 d="M740 604l6-4 0 84-6 2zm3 2l6-5-3-1-6 4zm113 1l6-1-3-5-5 1z"/><path class=c49 d="M854 602l5-1-3-5-5 1zm-102 1l5-4-3-2-5 4zm96 0l6-1-3-5-6 1z"/><path class=c50 d="M760 601l5-5-3-2-5 5z"/><path class=c51 d="M845 598l6-1-3-5-6 2zm-77 1l6-6-3-2-6 5zm72 1l5-2-3-4-5 1zm-69 1l5-5-2-3-6 6z"/><path class=c52 d="M776 596l6-6-3-2-5 5zm3 3l6-6-3-3-6 6zm53-1l5-3-3-5-5 4z"/><path class=c53 d="M785 593l5-5-3-3-5 5zm52 2l5-1-2-5-6 1zm-50 1l6-5-3-3-5 5z"/><path class=c54 d="M829 594l5-4-3-4-5 3zm-8-1l5-4-3-4-5 3zm-17-1l5-4-2-4-6 5zm-8 2l5-5-3-4-5 6z"/><path class=c55 d="M793 591l5-6-2-3-6 6zm19 1l6-4-3-3-6 3z"/><path class=c13 d="M1005 682l6-3-3-2-6 2zm-8-1l5-2-2-3-6 2zm19 2l6-3-3-1-5 3zm-8 1l6-2-3-3-6 3zm-8 0l5-2-3-3-5 2zm-8 0l5-3-3-3-5 3z"/><path class=c14 d="M989 681l5-3-3-3-5 2zm33-1l0 9-3-1 0-9zm-41 0l5-3-3-3-5 2z"/><path class=c15 d="M972 678l6-2-3-3-6 2zm53 2l0 11-3-2 0-9z"/><path class=c16 d="M964 676l5-1-2-4-6 2z"/><path class=c17 d="M956 674l5-1-3-4-5 1z"/><path class=c18 d="M947 672l6-2-3-4-5 2z"/><path class=c20 d="M945 668l5-2-3-4-5 1zm-6 0l6 0-3-5-6 1z"/><path class=c22 d="M936 664l6-1-3-4-5 0zm-5 0l5 0-2-5-6 1z"/><path class=c24 d="M928 660l6-1-3-4-6 0z"/><path class=c26 d="M920 655l5 0-2-5-6 0z"/><path class=c28 d="M912 650l5 0-3-5-5 0z"/><path class=c31 d="M903 645l6 0-3-5-5 0z"/><path class=c33 d="M895 640l6 0-3-5-6-1z"/><path class=c36 d="M887 634l5 0-3-5-5 0z"/><path class=c38 d="M884 629l5 0-2-5-6-1z"/><path class=c39 d="M879 628l5 1-3-6-5 0z"/><path class=c41 d="M876 623l5 0-3-5-5-1z"/><path class=c42 d="M870 622l6 1-3-6-6-1z"/><path class=c44 d="M867 616l6 1-3-5-5-1z"/><path class=c45 d="M730 613l5-4 0 79-5 1z"/><path class=c46 d="M738 610l5-4-3-2-5 5zm121 3l6-2-3-5-6 1z"/><path class=c47 d="M735 609l5-5 0 82-5 2zm14 1l5-5-2-2-6 5z"/><path class=c48 d="M746 608l6-5-3-2-6 5zm105 1l5-2-2-5-6 1zm-94-2l6-4-3-2-6 4z"/><path class=c49 d="M754 605l6-4-3-2-5 4zm11 0l6-4-3-2-5 4z"/><path class=c50 d="M763 603l5-4-3-3-5 5zm80 2l5-2-3-5-5 2zm-69-1l5-5-3-3-5 5zm60-1l6-3-3-5-5 3z"/><path class=c51 d="M782 602l5-6-2-3-6 6zm44 0l6-4-3-4-6 3z"/><path class=c52 d="M790 599l6-5-3-3-6 5zm28 1l5-3-2-4-6 3zm-8 0l5-4-3-4-5 4z"/><path class=c53 d="M823 597l6-3-3-5-5 4zm-8-1l6-3-3-5-6 4zm-8 0l5-4-3-4-5 4zm-8 2l5-6-3-3-5 5z"/><path class=c12 d="M1003 687l5-3-3-2-5 2zm-9 0l6-3-3-3-5 3z"/><path class=c13 d="M1011 685l5-2-2-1-6 2zm-25 1l6-2-3-3-6 2zm-8-1l5-2-2-3-6 2z"/><path class=c14 d="M983 683l6-2-3-4-5 3zm-8-1l6-2-3-4-6 2zm44 0l6-2-3 0-6 3zm-49 2l5-2-3-4-5 2z"/><path class=c15 d="M967 680l5-2-3-3-5 1zm-6 2l6-2-3-4-5 2z"/><path class=c16 d="M959 678l5-2-3-3-5 1zm68-1l0 15-2-1 0-11zm-5 2l5-2-2 3-6 2z"/><path class=c17 d="M950 676l6-2-3-4-6 2z"/><path class=c19 d="M942 673l5-1-2-4-6 0z"/><path class=c21 d="M934 669l5-1-3-4-5 0z"/><path class=c23 d="M926 665l5-1-3-4-5 0z"/><path class=c24 d="M923 660l5 0-3-5-5 0z"/><path class=c25 d="M917 660l6 0-3-5-6 0z"/><path class=c27 d="M914 655l6 0-3-5-5 0zm-5 1l5-1-2-5-6 0z"/><path class=c29 d="M906 650l6 0-3-5-6 0z"/><path class=c30 d="M901 651l5-1-3-5-5 0z"/><path class=c32 d="M898 645l5 0-2-5-6 0z"/><path class=c34 d="M890 640l5 0-3-6-5 0z"/><path class=c37 d="M881 634l6 0-3-5-5-1z"/><path class=c40 d="M873 628l6 0-3-5-6-1z"/><path class=c42 d="M865 624l5-2-3-6-5 2z"/><path class=c43 d="M724 618l6-5 0 76-6 2zm3 2l5-5-2-2-6 5z"/><path class=c44 d="M862 618l5-2-2-5-6 2zm-5 2l5-2-3-5-5 1z"/><path class=c45 d="M732 615l6-5-3-1-5 4zm3 2l6-5-3-2-6 5z"/><path class=c46 d="M741 612l5-4-3-2-5 4zm113 2l5-1-3-6-5 2zm-111 0l6-4-3-2-5 4zm105 2l6-2-3-5-5 1z"/><path class=c47 d="M752 612l5-5-3-2-5 5zm88 1l6-3-3-5-6 3z"/><path class=c48 d="M846 610l5-1-3-6-5 2zm-86 0l5-5-2-2-6 4zm19 0l6-5-3-3-5 5z"/><path class=c49 d="M777 607l5-5-3-3-5 5zm60 1l6-3-3-5-6 3zm-69 0l6-4-3-3-6 4zm20 0l5-5-3-4-5 6z"/><path class=c50 d="M785 605l5-6-3-3-5 6zm44 1l5-3-2-5-6 4zm-8-1l5-3-3-5-5 3zm-17 0l6-5-3-4-6 5zm-8 2l5-6-2-3-6 5z"/><path class=c51 d="M793 603l6-5-3-4-6 5zm19 1l6-4-3-4-5 4z"/><path class=c52 d="M801 601l6-5-3-4-5 6z"/><path class=c12 d="M997 689l6-2-3-3-6 3zm-8 0l5-2-2-3-6 2zm-8-1l5-2-3-3-5 2zm19 2l6-3-3 0-6 2zm-8 2l5-3-3-2-5 2z"/><path class=c13 d="M1006 687l5-2-3-1-5 3zm-34 0l6-2-3-3-5 2z"/><path class=c14 d="M1014 684l5-2-3 1-5 2zm-50 2l6-2-3-4-6 2zm44 0l6-2-3 1-5 2z"/><path class=c15 d="M956 684l5-2-2-4-6 2z"/><path class=c16 d="M953 680l6-2-3-4-6 2zm-5 1l5-1-3-4-5 1z"/><path class=c17 d="M945 677l5-1-3-4-5 1zm72 3l5-1-3 3-5 2z"/><path class=c18 d="M939 678l6-1-3-4-5 1z"/><path class=c19 d="M937 674l5-1-3-5-5 1zm93-1l0 20-3-1 0-15zm-5 1l5-1-3 4-5 2zm-94 1l6-1-3-5-6 1z"/><path class=c21 d="M928 670l6-1-3-5-5 1z"/><path class=c22 d="M1033 668l0 27-3-2 0-20z"/><path class=c23 d="M920 665l6 0-3-5-6 0z"/><path class=c25 d="M912 661l5-1-3-5-5 1z"/><path class=c28 d="M904 656l5 0-3-6-5 1z"/><path class=c30 d="M895 651l6 0-3-6-6 0z"/><path class=c32 d="M892 645l6 0-3-5-5 0z"/><path class=c33 d="M887 645l5 0-2-5-6 0z"/><path class=c35 d="M884 640l6 0-3-6-6 0z"/><path class=c36 d="M879 639l5 1-3-6-5 0z"/><path class=c38 d="M876 634l5 0-2-6-6 0zm-5 1l5-1-3-6-5 1z"/><path class=c40 d="M868 629l5-1-3-6-5 2zm-155-1l6-5 0 69-6 2z"/><path class=c42 d="M719 623l5-5 0 73-5 1zm140 2l6-1-3-6-5 2zm-138 0l6-5-3-2-5 5z"/><path class=c43 d="M730 622l5-5-3-2-5 5z"/><path class=c44 d="M851 621l6-1-3-6-6 2z"/><path class=c45 d="M738 619l5-5-2-2-6 5zm105 0l5-3-2-6-6 3zm-94 0l6-5-3-2-6 4z"/><path class=c46 d="M746 616l6-4-3-2-6 4zm89 1l5-4-3-5-5 3zm-78 0l6-5-3-2-5 4z"/><path class=c47 d="M763 612l5-4-3-3-5 5zm-8 2l5-4-3-3-5 5zm19 0l5-4-2-3-6 4zm-8 1l5-4-3-3-5 4zm60 0l6-4-3-5-5 4z"/><path class=c48 d="M771 611l6-4-3-3-6 4zm61 0l5-3-3-5-5 3zm-42 1l6-5-3-4-5 5zm-8 1l6-5-3-3-6 5zm36 1l6-4-3-5-6 4zm-8 0l5-5-3-5-5 6z"/><path class=c49 d="M824 610l5-4-3-4-5 3zm-9-1l6-4-3-5-6 4zm-8 1l5-6-2-4-6 5zm-8 1l5-6-3-4-5 6z"/><path class=c11 d="M986 694l6-2-3-3-5 2zm-8 0l6-3-3-3-6 3z"/><path class=c12 d="M984 691l5-2-3-3-5 2zm-9 0l6-3-3-3-6 2zm20 1l5-2-3-1-5 3zm-25 1l5-2-3-4-5 2z"/><path class=c13 d="M967 689l5-2-2-3-6 2zm-5 2l5-2-3-3-5 2z"/><path class=c14 d="M959 688l5-2-3-4-5 2zm44 0l5-2-2 1-6 3z"/><path class=c15 d="M951 685l5-1-3-4-5 1z"/><path class=c16 d="M942 683l6-2-3-4-6 1z"/><path class=c17 d="M1011 682l6-2-3 4-6 2z"/><path class=c18 d="M934 679l5-1-2-4-6 1z"/><path class=c20 d="M1019 675l6-1-3 5-5 1zm-93 1l5-1-3-5-5 1z"/><path class=c21 d="M923 671l5-1-2-5-6 0z"/><path class=c22 d="M917 672l6-1-3-6-5 1z"/><path class=c23 d="M1028 668l5 0-3 5-5 1z"/><path class=c24 d="M915 666l5-1-3-5-5 1zm-6 1l6-1-3-5-6 1zm113 1l6 0-3 6-6 1z"/><path class=c26 d="M906 662l6-1-3-5-5 0zm130-1l0 35-3-1 0-27zm-135 1l5 0-2-6-6 1z"/><path class=c27 d="M1030 660l6 1-3 7-5 0z"/><path class=c28 d="M898 657l6-1-3-5-6 0z"/><path class=c31 d="M890 651l5 0-3-6-5 0z"/><path class=c34 d="M882 645l5 0-3-5-5-1z"/><path class=c36 d="M873 641l6-2-3-5-5 1z"/><path class=c38 d="M865 637l6-2-3-6-6 2z"/><path class=c39 d="M708 633l5-5 0 66-5 2z"/><path class=c40 d="M862 631l6-2-3-5-6 1zm-146-1l5-5-2-2-6 5zm141 3l5-2-3-6-5 2zm-138-1l5-5-3-2-5 5z"/><path class=c41 d="M727 629l6-5-3-2-6 5zm122 1l5-3-3-6-5 3z"/><path class=c42 d="M854 627l5-2-2-5-6 1zm-130 0l6-5-3-2-6 5z"/><path class=c43 d="M733 624l5-5-3-2-5 5zm113 0l5-3-3-5-5 3zm-111 2l6-5-3-2-5 5zm105 1l6-3-3-5-6 3z"/><path class=c44 d="M741 621l5-5-3-2-5 5zm96 1l6-3-3-6-5 4zm-93 1l5-4-3-3-5 5z"/><path class=c45 d="M760 620l6-5-3-3-6 5zm-8 1l5-4-2-3-6 5zm28 0l5-4-3-4-5 4z"/><path class=c46 d="M777 617l5-4-3-3-5 4zm-9 1l6-4-3-3-5 4zm61 2l6-3-3-6-6 4zm-8-2l5-3-2-5-6 4zm-8 0l5-4-3-5-5 5zm-9 1l6-5-3-4-5 5zm-8 1l6-5-3-4-6 5zm-8 1l5-5-3-4-5 5z"/><path class=c47 d="M802 615l5-5-3-5-5 6zm-9 1l6-5-3-4-6 5zm-8 1l5-5-2-4-6 5z"/><path class=c11 d="M981 696l5-2-2-3-6 3zm-8 0l5-2-3-3-5 2z"/><path class=c12 d="M989 694l6-2-3 0-6 2zm-25 1l6-2-3-4-5 2zm-8-2l6-2-3-3-6 2z"/><path class=c13 d="M992 692l5-2-2 2-6 2z"/><path class=c14 d="M953 690l6-2-3-4-5 1zm44 0l6-2-3 2-5 2zm-49 1l5-1-2-5-6 2z"/><path class=c15 d="M945 687l6-2-3-4-6 2zm-5 2l5-2-3-4-5 1z"/><path class=c16 d="M1006 684l5-2-3 4-5 2zm-69 0l5-1-3-5-5 1zm63 2l6-2-3 4-6 2zm-69-1l6-1-3-5-5 2z"/><path class=c18 d="M929 681l5-2-3-4-5 1z"/><path class=c20 d="M1014 676l5-1-2 5-6 2zm-94 1l6-1-3-5-6 1zm89 1l5-2-3 6-5 2z"/><path class=c22 d="M912 673l5-1-2-6-6 1z"/><path class=c24 d="M904 668l5-1-3-5-5 0zm113 0l5 0-3 7-5 1z"/><path class=c27 d="M896 663l5-1-3-5-5 0z"/><path class=c28 d="M1042 659l0 40-3-1 0-47z"/><path class=c29 d="M893 657l5 0-3-6-5 0zm132 2l5 1-2 8-6 0zm-138-2l6 0-3-6-6 0z"/><path class=c31 d="M1039 651l0 47-3-2 0-35zm-160 2l5-2-2-6-6 2z"/><path class=c32 d="M884 651l6 0-3-6-5 0z"/><path class=c33 d="M1033 648l6 3-3 10-6-1z"/><path class=c34 d="M876 647l6-2-3-6-6 2zm-5 2l5-2-3-6-5 2z"/><path class=c36 d="M868 643l5-2-2-6-6 2z"/><path class=c37 d="M702 639l6-6 0 63-6 1zm3 2l6-6-3-2-6 6z"/><path class=c38 d="M860 639l5-2-3-6-5 2zm-147-2l6-5-3-2-5 5z"/><path class=c39 d="M711 635l5-5-3-2-5 5zm140 1l6-3-3-6-5 3z"/><path class=c40 d="M722 634l5-5-3-2-5 5z"/><path class=c41 d="M730 631l5-5-2-2-6 5zm113 2l6-3-3-6-6 3z"/><path class=c42 d="M738 628l6-5-3-2-6 5zm97 2l5-3-3-5-5 3z"/><path class=c43 d="M747 626l5-5-3-2-5 4zm80 3l5-4-3-5-5 3zm-69-2l5-4-3-3-5 4zm60 1l6-5-3-5-6 5zm-69 1l6-5-3-3-5 5zm61-1l5-5-2-5-6 5z"/><path class=c44 d="M832 625l5-3-2-5-6 3zm-77-1l5-4-3-3-5 4zm36 0l5-4-3-4-5 5zm-9 1l6-4-3-4-5 4zm-8 0l6-4-3-4-6 5zm-8 1l5-4-3-4-5 5z"/><path class=c45 d="M771 622l6-5-3-3-6 4zm-8 1l5-5-2-3-6 5zm61 0l5-3-3-5-5 3zm-9 0l6-5-3-4-5 4zm-8 0l6-5-3-4-6 5zm-8 1l5-5-2-4-6 5z"/><path class=c10 d="M976 699l5-3-3-2-5 2zm-6 2l6-2-3-3-6 2z"/><path class=c11 d="M984 697l5-3-3 0-5 2zm-17 1l6-2-3-3-6 2zm-8-1l5-2-2-4-6 2zm19 2l6-2-3-1-5 3z"/><path class=c12 d="M951 695l5-2-3-3-5 1z"/><path class=c13 d="M987 694l5-2-3 2-5 3z"/><path class=c14 d="M942 693l6-2-3-4-5 2z"/><path class=c15 d="M934 690l6-1-3-5-6 1z"/><path class=c16 d="M995 687l5-1-3 4-5 2z"/><path class=c17 d="M926 687l5-2-2-4-6 1z"/><path class=c18 d="M923 682l6-1-3-5-6 1zm-5 1l5-1-3-5-5 1z"/><path class=c20 d="M915 678l5-1-3-5-5 1zm88 1l6-1-3 6-6 2zm-94 0l6-1-3-5-5 0z"/><path class=c22 d="M907 673l5 0-3-6-5 1z"/><path class=c24 d="M1011 669l6-1-3 8-5 2z"/><path class=c25 d="M898 669l6-1-3-6-5 1z"/><path class=c27 d="M890 663l6 0-3-6-6 0z"/><path class=c29 d="M882 659l5-2-3-6-5 2z"/><path class=c30 d="M1020 658l5 1-3 9-5 0z"/><path class=c31 d="M1036 656l6 3-3-8-6-3zm8-1l0 45-2-1 0-40zm-170 0l5-2-3-6-5 2z"/><path class=c33 d="M1039 651l5 4-2 4-6-3zm-8 2l5 3-3-8-5-2z"/><path class=c34 d="M865 651l6-2-3-6-6 2z"/><path class=c35 d="M1028 646l5 2-3 12-5-1zm-171 1l5-2-2-6-6 2z"/><path class=c36 d="M862 645l6-2-3-6-5 2z"/><path class=c37 d="M854 641l6-2-3-6-6 3zm-146 1l5-5-2-2-6 6zm141 2l5-3-3-5-5 3z"/><path class=c38 d="M716 639l6-5-3-2-6 5zm3 2l6-5-3-2-6 5zm121 1l6-3-3-6-5 3z"/><path class=c39 d="M846 639l5-3-2-6-6 3zm-119-1l6-5-3-2-5 5z"/><path class=c40 d="M725 636l5-5-3-2-5 5zm113 0l5-3-3-6-5 3zm-102 0l5-5-3-3-5 5z"/><path class=c41 d="M733 633l5-5-3-2-5 5zm96 1l6-4-3-5-5 4zm-8-1l6-4-3-6-6 5zm-77 0l5-4-2-3-6 5z"/><path class=c42 d="M741 631l6-5-3-3-6 5zm11 1l6-5-3-3-6 5zm61 1l5-5-3-5-5 5zm-8 0l5-5-3-5-5 5zm-9 0l6-5-3-4-5 5zm-8 0l6-4-3-5-6 5zm-8 0l5-4-3-4-5 4z"/><path class=c43 d="M802 628l5-5-3-4-5 5zm-8 1l5-5-3-4-5 4zm-9 0l6-5-3-3-6 4zm-8 0l5-4-2-4-6 4zm-8 0l5-4-3-3-5 4zm-9 1l6-4-3-3-5 4z"/><path class=cB d="M697 706l5-67 0 58-5 2zm3 1l5-66-3-2-5 67z"/><path class=c10 d="M965 703l5-2-3-3-5 2zm-9 0l6-3-3-3-5 2z"/><path class=c11 d="M962 700l5-2-3-3-5 2zm-8-1l5-2-3-4-5 2zm19 2l5-2-2 0-6 2zm-25 0l6-2-3-4-6 2z"/><path class=c12 d="M945 697l6-2-3-4-6 2zm-5 2l5-2-3-4-5 2z"/><path class=c13 d="M937 695l5-2-2-4-6 1zm44 1l6-2-3 3-6 2z"/><path class=c15 d="M929 692l5-2-3-5-5 2z"/><path class=c16 d="M989 689l6-2-3 5-5 2z"/><path class=c17 d="M921 688l5-1-3-5-5 1z"/><path class=c18 d="M1047 703l0-1-3-2 0-45zm-5 4l5-4-3-48-5-4z"/><path class=c19 d="M912 685l6-2-3-5-6 1z"/><path class=c21 d="M998 680l5-1-3 7-5 1zm-94 0l5-1-2-6-6 1z"/><path class=c23 d="M901 674l6-1-3-5-6 1zm-5 1l5-1-3-5-5 0z"/><path class=c25 d="M893 669l5 0-2-6-6 0zm113 1l5-1-2 9-6 1zm-119 1l6-2-3-6-5 2z"/><path class=c26 d="M1000 670l6 0-3 9-5 1z"/><path class=c27 d="M885 665l5-2-3-6-5 2zm-6 2l6-2-3-6-6 2z"/><path class=c29 d="M876 661l6-2-3-6-5 2z"/><path class=c30 d="M1014 659l6-1-3 10-6 1z"/><path class=c31 d="M868 657l6-2-3-6-6 2zm141 1l5 1-3 10-5 1z"/><path class=c33 d="M860 653l5-2-3-6-5 2z"/><path class=c34 d="M1025 651l6 2-3-7-6-2z"/><path class=c35 d="M852 650l5-3-3-6-5 3zm182-1l5 2-3 5-5-3z"/><path class=c36 d="M711 644l5-5-3-2-5 5zm132 3l6-3-3-5-6 3zm-129-1l5-5-3-2-5 5z"/><path class=c37 d="M1022 644l6 2-3 13-5-1zm-187 1l5-3-2-6-6 3z"/><path class=c38 d="M722 643l5-5-2-2-6 5zm295 1l5 0-2 14-6 1zm-190 0l5-5-3-5-5 4zm-8-1l5-5-3-5-5 5z"/><path class=c39 d="M832 639l6-3-3-6-6 4zm-102 1l6-4-3-3-6 5z"/><path class=c40 d="M824 638l5-4-2-5-6 4zm-8 0l5-5-3-5-5 5zm-9 0l6-5-3-5-5 5zm-69 0l6-5-3-2-5 5zm61-1l6-4-3-5-6 5zm-41 1l5-4-3-4-5 5z"/><path class=c41 d="M755 635l5-5-2-3-6 5zm-8 1l5-4-3-3-5 4zm44 1l5-4-2-4-6 4zm-8 0l5-4-3-4-5 4zm-9 0l6-4-3-4-5 4zm-8 0l6-4-3-4-6 5z"/><path class=c42 d="M772 633l5-4-3-4-5 4zm-9 1l6-5-3-3-6 4z"/><path class=cB d="M703 709l5-67-3-1-5 66zm2 1l6-66-3-2-5 67z"/><path class=c10 d="M967 703l6-2-3 0-5 2zm-8 3l6-3-3-3-6 3zm-8-1l5-2-2-4-6 2z"/><path class=c11 d="M943 703l5-2-3-4-5 2z"/><path class=c12 d="M934 701l6-2-3-4-5 2z"/><path class=c13 d="M932 697l5-2-3-5-5 2zm44 1l5-2-3 3-5 2zm-50 0l6-1-3-5-6 1zm44 2l6-2-3 3-6 2z"/><path class=c15 d="M923 693l6-1-3-5-5 1zm-5 2l5-2-2-5-6 2z"/><path class=c16 d="M984 690l5-1-2 5-6 2zm-5 2l5-2-3 6-5 2z"/><path class=c17 d="M915 690l6-2-3-5-6 2zm-5 1l5-1-3-5-5 1z"/><path class=c18 d="M1036 712l6-5-3-56-5-2zm-5 4l5-4-2-63-6-2z"/><path class=c19 d="M907 686l5-1-3-6-5 1z"/><path class=c21 d="M992 681l6-1-3 7-6 2zm-93 0l5-1-3-6-5 1zm88 1l5-1-3 8-5 1z"/><path class=c23 d="M890 677l6-2-3-6-6 2z"/><path class=c25 d="M882 673l5-2-2-6-6 2z"/><path class=c27 d="M874 669l5-2-3-6-5 2zm121 1l5 0-2 10-6 1z"/><path class=c29 d="M871 663l5-2-2-6-6 2zm-6 3l6-3-3-6-5 2z"/><path class=c30 d="M857 662l6-3-3-6-6 3z"/><path class=c31 d="M863 659l5-2-3-6-5 2z"/><path class=c32 d="M854 656l6-3-3-6-5 3zm149 1l6 1-3 12-6 0zm-154 2l5-3-2-6-6 3z"/><path class=c34 d="M846 653l6-3-3-6-6 3z"/><path class=c35 d="M838 651l5-4-3-5-5 3zm182 0l5 0-3-7-5 0z"/><path class=c36 d="M716 648l6-5-3-2-5 5zm114 1l5-4-3-6-5 5zm-9-1l6-4-3-6-5 5z"/><path class=c37 d="M725 645l5-5-3-2-5 5zm303 2l6 2-3 4-6-2zm-215 0l6-4-3-5-6 4zm-8 0l5-5-3-4-5 4zm-77 1l5-5-3-3-5 5z"/><path class=c38 d="M733 643l5-5-2-2-6 4zm11 1l6-5-3-3-6 5zm-8 2l5-5-3-3-5 5zm61 0l5-4-3-5-5 4zm-9-1l6-4-3-4-6 4z"/><path class=c39 d="M810 642l6-4-3-5-6 5zm-69-1l6-5-3-3-6 5zm61 1l5-4-2-5-6 4zm-8-1l5-4-3-4-5 4zm218 1l5 2-3 15-5-1zm-251-1l5-4-3-3-5 4zm-9 2l6-5-3-3-5 4z"/><path class=c40 d="M750 639l5-4-3-3-5 4zm35 2l6-4-3-4-5 4zm-8 0l6-4-3-4-6 4zm-8 0l5-4-2-4-6 4z"/><path class=cB d="M708 712l6-66-3-2-6 66z"/><path class=c9 d="M954 708l5-2-3-3-5 2zm-6 2l6-2-3-3-6 2zm-8-1l5-2-2-4-6 2z"/><path class=c10 d="M962 706l5-3-2 0-6 3zm-17 1l6-2-3-4-5 2zm12 1l5-2-3 0-5 2z"/><path class=c11 d="M937 705l6-2-3-4-6 2z"/><path class=c12 d="M929 703l5-2-2-4-6 1z"/><path class=c13 d="M921 700l5-2-3-5-5 2zm44 2l5-2-3 3-5 3z"/><path class=c15 d="M912 697l6-2-3-5-5 1z"/><path class=c17 d="M973 693l6-1-3 6-6 2zm-69 0l6-2-3-5-6 1z"/><path class=c18 d="M1025 718l6-2-3-69-5 0z"/><path class=c19 d="M901 687l6-1-3-6-5 1zm-5 2l5-2-2-6-6 2z"/><path class=c21 d="M893 683l6-2-3-6-6 2zm-5 2l5-2-3-6-5 2z"/><path class=c22 d="M981 682l6 0-3 8-5 2z"/><path class=c23 d="M885 679l5-2-3-6-5 2zm-6 2l6-2-3-6-5 2z"/><path class=c25 d="M877 675l5-2-3-6-5 2z"/><path class=c26 d="M868 672l6-3-3-6-6 3z"/><path class=c27 d="M990 670l5 0-3 11-5 1z"/><path class=c28 d="M860 668l5-2-2-7-6 3z"/><path class=c30 d="M852 665l5-3-3-6-5 3z"/><path class=c31 d="M844 662l5-3-3-6-5 3z"/><path class=c32 d="M835 660l6-4-3-5-6 4z"/><path class=c33 d="M841 656l5-3-3-6-5 4zm157 1l5 0-3 13-5 0zm-171 2l5-4-2-6-6 4zm-8-1l5-5-3-5-5 4z"/><path class=c34 d="M832 655l6-4-3-6-5 4z"/><path class=c35 d="M719 651l6-6-3-2-6 5zm105 2l6-4-3-5-6 4zm-8-1l5-4-2-5-6 4zm-94 1l6-5-3-3-6 6z"/><path class=c36 d="M808 652l5-5-3-5-5 5zm-9-2l6-3-3-5-5 4zm-69 1l6-5-3-3-5 5z"/><path class=c37 d="M1014 649l6 2-3-7-5-2zm-275 0l5-5-3-3-5 5zm52 1l6-4-3-5-6 4zm-8-1l5-4-3-4-5 4zm-8 0l5-4-3-4-5 4zm-9 0l6-4-3-4-6 4zm-8 1l5-5-2-4-6 5z"/><path class=c38 d="M780 645l5-4-2-4-6 4zm243 2l5 0-3 4-5 0zm-260-2l6-4-3-4-5 4zm-8 1l6-5-3-3-6 5zm-8 1l5-4-2-4-6 5z"/><path class=c39 d="M772 645l5-4-3-4-5 4zm245 0l6 2-3 4-6-2zm-8 2l5 2-2-7-6-2z"/><path class=c41 d="M1006 640l6 2-3 16-6-1z"/><path class=c43 d="M1001 638l5 2-3 17-5 0z"/><path class=cB d="M711 713l5-65-2-2-6 66zm-14-14l0 7 0-7 0 0zm17 16l5-64-3-3-5 65zm-14-15l0 7-3-1 0-7z"/><path class=c9 d="M943 712l5-2-3-3-5 2zm-8-1l5-2-3-4-5 2z"/><path class=c10 d="M932 707l5-2-3-4-5 2zm19 3l6-2-3 0-6 2zm-25-1l6-2-3-4-5 2z"/><path class=c11 d="M918 707l6-2-3-5-6 2z"/><path class=c12 d="M924 705l5-2-3-5-5 2zm35-1l6-2-3 4-5 2z"/><path class=c13 d="M915 702l6-2-3-5-6 2zm-5 2l5-2-3-5-5 1z"/><path class=c15 d="M907 698l5-1-2-6-6 2zm140 4l0 0 0 0 0 1zm-5 2l5-2 0 1-5 4z"/><path class=c17 d="M968 695l5-2-3 7-5 2zm-69 0l5-2-3-6-5 2z"/><path class=c18 d="M1020 720l5-2-2-71-6-2zm-130-29l6-2-3-6-5 2z"/><path class=c20 d="M882 687l6-2-3-6-6 2z"/><path class=c22 d="M976 683l5-1-2 10-6 1zm-102 1l5-3-2-6-6 3zm96 0l6-1-3 10-5 2z"/><path class=c24 d="M871 678l6-3-3-6-6 3zm-5 2l5-2-3-6-5 2z"/><path class=c25 d="M857 677l6-3-3-6-5 3z"/><path class=c26 d="M863 674l5-2-3-6-5 2z"/><path class=c27 d="M849 674l6-3-3-6-6 3z"/><path class=c28 d="M984 670l6 0-3 12-6 0zm-129 1l5-3-3-6-5 3z"/><path class=c29 d="M846 668l6-3-3-6-5 3zm133 2l5 0-3 12-5 1z"/><path class=c30 d="M838 666l6-4-3-6-6 4z"/><path class=c31 d="M830 664l5-4-3-5-5 4z"/><path class=c32 d="M822 663l5-4-3-6-5 5zm-9-1l6-4-3-6-6 5z"/><path class=c33 d="M805 660l5-3-2-5-6 3z"/><path class=c34 d="M810 657l6-5-3-5-5 5zm-85-1l5-5-2-3-6 5zm72 3l5-4-3-5-5 4zm-69 0l5-5-3-3-5 5zm60-1l6-4-3-4-5 3z"/><path class=c35 d="M992 656l6 1-3 13-5 0zm-190-1l6-3-3-5-6 3zm-69-1l6-5-3-3-6 5zm61 0l5-4-2-4-6 4zm-50 1l6-4-3-4-6 5zm-8 2l5-5-2-3-6 5z"/><path class=c36 d="M741 652l6-5-3-3-5 5zm45 1l5-3-3-5-5 4zm-9 0l6-4-3-4-5 4zm-8 0l6-4-3-4-6 4zm-8 0l5-4-3-4-5 5zm-8 1l5-4-3-4-5 5zm234 1l5 1-2 14-6 0z"/><path class=c37 d="M750 651l5-5-3-3-5 4z"/><path class=c40 d="M1004 645l5 2-3-7-5-2z"/><path class=c41 d="M1012 643l5 2-3 4-5-2z"/><path class=c45 d="M995 635l6 3-3 19-6-1z"/><path class=cB d="M717 716l5-63-3-2-5 64zm-14-14l0 7-3-2 0-7z"/><path class=c8 d="M937 715l6-3-3-3-5 2z"/><path class=c9 d="M946 712l5-2-3 0-5 2zm-17 2l6-3-3-4-6 2zm11 1l6-3-3 0-6 3z"/><path class=c10 d="M921 712l5-3-2-4-6 2z"/><path class=c11 d="M913 709l5-2-3-5-5 2z"/><path class=c12 d="M954 706l5-2-2 4-6 2zm-5 2l5-2-3 4-5 2z"/><path class=c13 d="M904 706l6-2-3-6-5 2z"/><path class=c14 d="M896 702l6-2-3-5-6 2z"/><path class=c15 d="M902 700l5-2-3-5-5 2zm134 5l6-1 0 3-6 5z"/><path class=c16 d="M893 697l6-2-3-6-6 2zm64 1l5-1-3 7-5 2zm-69 1l5-2-3-6-5 2z"/><path class=c17 d="M962 697l6-2-3 7-6 2z"/><path class=c18 d="M1015 722l5-2-3-75-5-2zm-130-29l5-2-2-6-6 2zm124 31l6-2-3-79-6-3zm-129-28l5-3-3-6-5 3z"/><path class=c20 d="M877 690l5-3-3-6-5 3z"/><path class=c22 d="M869 686l5-2-3-6-5 2zm96 0l5-2-2 11-6 2z"/><path class=c23 d="M860 683l6-3-3-6-6 3z"/><path class=c25 d="M852 680l5-3-2-6-6 3z"/><path class=c26 d="M844 678l5-4-3-6-5 4z"/><path class=c27 d="M835 675l6-3-3-6-5 4z"/><path class=c28 d="M841 672l5-4-2-6-6 4zm-14 2l6-4-3-6-6 4z"/><path class=c29 d="M833 670l5-4-3-6-5 4zm140 0l6 0-3 13-6 1zm-154 2l5-4-2-5-6 4z"/><path class=c30 d="M824 668l6-4-3-5-5 4z"/><path class=c31 d="M816 667l6-4-3-5-6 4z"/><path class=c32 d="M808 665l5-3-3-5-5 3zm-8-1l5-4-3-5-5 4z"/><path class=c33 d="M731 662l5-5-3-3-5 5zm60 0l6-3-3-5-6 4zm-8 0l5-4-2-5-6 4z"/><path class=c34 d="M747 659l6-5-3-3-6 4zm-8 1l5-5-3-3-5 5zm36 1l5-4-3-4-5 4zm-8 0l5-4-3-4-5 4zm-9 0l6-4-3-4-6 5z"/><path class=c35 d="M780 657l6-4-3-4-6 4zm-8 0l5-4-2-4-6 4zm-8 0l5-4-3-4-5 4zm-9 1l6-5-3-3-5 4z"/><path class=c37 d="M982 654l5 1-3 15-5 0z"/><path class=c42 d="M998 642l6 3-3-7-6-3z"/><path class=c43 d="M1006 640l6 3-3 4-5-2z"/><path class=c45 d="M1001 638l5 2-2 5-6-3z"/><path class=c47 d="M990 633l5 2-3 21-5-1z"/><path class=cB d="M720 718l5-62-3-3-5 63zm-15-15l0 7-2-1 0-7zm17 16l6-60-3-3-5 62zm-14-14l0 7-3-2 0-7z"/><path class=c8 d="M932 717l5-2-2-4-6 3zm-5 2l5-2-3-3-5 2zm-9-1l6-2-3-4-6 2z"/><path class=c9 d="M924 716l5-2-3-5-5 3zm11 1l5-2-3 0-5 2z"/><path class=c10 d="M915 714l6-2-3-5-5 2z"/><path class=c11 d="M907 711l6-2-3-5-6 2z"/><path class=c12 d="M943 710l6-2-3 4-6 3z"/><path class=c13 d="M899 708l5-2-2-6-6 2z"/><path class=c14 d="M891 705l5-3-3-5-5 2z"/><path class=c15 d="M1031 707l5-2 0 7-5 4z"/><path class=c16 d="M951 700l6-2-3 8-5 2zm-69 1l6-2-3-6-5 3z"/><path class=c18 d="M1004 726l5-2-3-84-5-2zm-130-28l6-2-3-6-6 2z"/><path class=c19 d="M866 695l5-3-2-6-6 3z"/><path class=c20 d="M871 692l6-2-3-6-5 2z"/><path class=c21 d="M863 689l6-3-3-6-6 3zm-5 3l5-3-3-6-5 3z"/><path class=c22 d="M960 687l5-1-3 11-5 1z"/><path class=c23 d="M855 686l5-3-3-6-5 3z"/><path class=c24 d="M847 683l5-3-3-6-5 4z"/><path class=c25 d="M838 681l6-3-3-6-6 3z"/><path class=c26 d="M830 679l5-4-2-5-6 4z"/><path class=c27 d="M822 677l5-3-3-6-5 4z"/><path class=c28 d="M814 675l5-3-3-5-5 3z"/><path class=c29 d="M805 673l6-3-3-5-6 3z"/><path class=c30 d="M811 670l5-3-3-5-5 3zm157 1l5-1-3 14-5 2zm-171 1l5-4-2-4-6 3z"/><path class=c31 d="M802 668l6-3-3-5-5 4zm-8-1l6-3-3-5-6 3zm-58 1l6-5-3-3-6 5z"/><path class=c32 d="M733 665l6-5-3-3-5 5zm53 1l5-4-3-4-5 4zm-8-1l5-3-3-5-5 4zm-9 0l6-4-3-4-5 4zm-8 0l6-4-3-4-6 4zm-8 1l5-5-3-3-5 4zm-8 1l5-5-3-3-5 4z"/><path class=c33 d="M750 662l5-4-2-4-6 5zm-8 1l5-4-3-4-5 5z"/><path class=c38 d="M976 653l6 1-3 16-6 0z"/><path class=c44 d="M993 640l5 2-3-7-5-2z"/><path class=c46 d="M987 638l6 2-3-7-6-2z"/><path class=c47 d="M995 635l6 3-3 4-5-2z"/><path class=c49 d="M984 631l6 2-3 22-5-1z"/><path class=c50 d="M979 628l5 3-2 23-6-1z"/><path class=cB d="M725 721l6-59-3-3-6 60zm-14-15l0 7-3-1 0-7z"/><path class=c7 d="M921 721l6-2-3-3-6 2z"/><path class=c8 d="M913 720l5-2-3-4-5 2z"/><path class=c9 d="M929 719l6-2-3 0-5 2zm-24-1l5-2-3-5-5 2z"/><path class=c10 d="M910 716l5-2-2-5-6 2z"/><path class=c11 d="M902 713l5-2-3-5-5 2zm-6 2l6-2-3-5-5 2z"/><path class=c12 d="M894 710l5-2-3-6-5 3zm44 2l5-2-3 5-5 2zm-50 0l6-2-3-5-6 2z"/><path class=c14 d="M885 707l6-2-3-6-6 2z"/><path class=c15 d="M1025 709l6-2 0 9-6 2zm-5 1l5-1 0 9-5 2z"/><path class=c16 d="M877 704l5-3-2-5-6 2z"/><path class=c17 d="M946 702l5-2-2 8-6 2zm-77-2l5-2-3-6-5 3z"/><path class=c18 d="M998 728l6-2-3-88-6-3z"/><path class=c19 d="M860 697l6-2-3-6-5 3z"/><path class=c20 d="M852 695l6-3-3-6-6 3z"/><path class=c21 d="M844 692l5-3-2-6-6 4z"/><path class=c22 d="M849 689l6-3-3-6-5 3zm-13 1l5-3-3-6-5 4z"/><path class=c23 d="M841 687l6-4-3-5-6 3zm113 1l6-1-3 11-6 2zm-127 0l6-3-3-6-5 4zm122 1l5-1-3 12-5 2z"/><path class=c24 d="M833 685l5-4-3-6-5 4z"/><path class=c25 d="M825 683l5-4-3-5-5 3z"/><path class=c26 d="M816 680l6-3-3-5-5 3z"/><path class=c27 d="M808 679l6-4-3-5-6 3z"/><path class=c28 d="M800 677l5-4-3-5-5 4z"/><path class=c29 d="M792 675l5-3-3-5-5 4zm-9-1l6-3-3-5-6 4z"/><path class=c30 d="M789 671l5-4-3-5-5 4zm173 1l6-1-3 15-5 1zm-187 2l5-4-2-5-6 4zm-8 0l5-5-3-4-5 4z"/><path class=c31 d="M780 670l6-4-3-4-5 3zm-8-1l6-4-3-4-6 4zm-8 0l5-4-2-4-6 4zm-8 1l5-5-3-4-5 5zm-9 0l6-4-3-4-5 5zm-8 1l6-4-3-4-6 5zm218 2l5-1-2 15-6 1z"/><path class=c39 d="M971 653l5 0-3 17-5 1zm-6 1l6-1-3 18-6 1z"/><path class=c48 d="M982 635l5 3-3-7-5-3z"/><path class=c49 d="M990 633l5 2-2 5-6-2z"/><path class=c51 d="M974 628l5 0-3 25-5 0z"/><path class=cB d="M728 722l5-57-2-3-6 59zm-14-14l0 7-3-2 0-7zm17 15l5-55-3-3-5 57zm-14-14l0 7-3-1 0-7z"/><path class=c7 d="M916 724l5-3-3-3-5 2z"/><path class=c8 d="M924 721l5-2-2 0-6 2zm-17 1l6-2-3-4-5 2zm12 1l5-2-3 0-5 3z"/><path class=c9 d="M899 720l6-2-3-5-6 2z"/><path class=c10 d="M891 717l5-2-2-5-6 2z"/><path class=c11 d="M932 714l6-2-3 5-6 2zm-5 2l5-2-3 5-5 2z"/><path class=c12 d="M883 715l5-3-3-5-5 2z"/><path class=c13 d="M874 712l6-3-3-5-5 2z"/><path class=c14 d="M880 709l5-2-3-6-5 3z"/><path class=c15 d="M872 706l5-2-3-6-5 2zm143 6l5-2 0 10-5 2zm-149-3l6-3-3-6-6 3z"/><path class=c16 d="M935 705l5-2-2 9-6 2zm-77 1l5-3-3-6-5 3z"/><path class=c17 d="M940 703l6-1-3 8-5 2zm-77 0l6-3-3-5-6 2z"/><path class=c18 d="M993 730l5-2-3-93-5-2zm-138-30l5-3-2-5-6 3zm132 32l6-2-3-97-5-2z"/><path class=c19 d="M847 698l5-3-3-6-5 3z"/><path class=c20 d="M839 695l5-3-3-5-5 3z"/><path class=c22 d="M830 693l6-3-3-5-6 3z"/><path class=c23 d="M822 691l5-3-2-5-6 3zm121-1l6-1-3 13-6 1z"/><path class=c24 d="M814 689l5-3-3-6-5 4z"/><path class=c25 d="M819 686l6-3-3-6-6 3zm-14 1l6-3-3-5-5 3z"/><path class=c26 d="M811 684l5-4-2-5-6 4zm-14 1l6-3-3-5-6 3z"/><path class=c27 d="M803 682l5-3-3-6-5 4zm-9-2l6-3-3-5-5 3z"/><path class=c28 d="M786 679l6-4-3-4-6 3zm-8-1l5-4-3-4-5 4z"/><path class=c29 d="M770 678l5-4-3-5-5 5zm-9 0l6-4-3-5-6 5zm-8 0l5-4-2-4-6 4zm-8 0l5-4-3-4-5 5z"/><path class=c30 d="M758 674l6-5-3-4-5 5zm-8 0l6-4-3-4-6 4zm-8 1l5-5-2-3-6 4z"/><path class=c31 d="M952 673l5 0-3 15-5 1z"/><path class=c41 d="M960 653l5 1-3 18-5 1z"/><path class=c49 d="M976 635l6 0-3-7-5 0z"/><path class=c51 d="M985 631l5 2-3 5-5-3z"/><path class=c52 d="M968 628l6 0-3 25-6 1zm11 2l6 1-3 4-6 0z"/><path class=cB d="M734 725l5-54-3-3-5 55zm-14-14l0 7-3-2 0-7zm16 15l6-51-3-4-5 54z"/><path class=c7 d="M910 726l6-2-3-4-6 2zm-5 2l5-2-3-4-5 2zm-8-1l5-3-3-4-5 2z"/><path class=c8 d="M902 724l5-2-2-4-6 2zm11 2l6-3-3 1-6 2z"/><path class=c9 d="M894 722l5-2-3-5-5 2zm-6 2l6-2-3-5-6 3z"/><path class=c10 d="M885 720l6-3-3-5-5 3z"/><path class=c11 d="M877 717l6-2-3-6-6 3zm44 1l6-2-3 5-5 2z"/><path class=c13 d="M869 714l5-2-2-6-6 3z"/><path class=c14 d="M861 711l5-2-3-6-5 3z"/><path class=c15 d="M1009 713l6-1 0 10-6 2zm-5 2l5-2 0 11-5 2z"/><path class=c16 d="M930 707l5-2-3 9-5 2zm-78 2l6-3-3-6-5 3z"/><path class=c17 d="M850 703l5-3-3-5-5 3zm-6 3l6-3-3-5-6 3z"/><path class=c18 d="M982 734l5-2-2-101-6-1zm-146-30l5-3-2-6-6 4z"/><path class=c19 d="M841 701l6-3-3-6-5 3zm-13 0l5-2-3-6-5 3z"/><path class=c20 d="M833 699l6-4-3-5-6 3z"/><path class=c21 d="M825 696l5-3-3-5-5 3z"/><path class=c22 d="M817 694l5-3-3-5-5 3z"/><path class=c23 d="M938 692l5-2-3 13-5 2zm-130 0l6-3-3-5-6 3z"/><path class=c24 d="M800 690l5-3-2-5-6 3z"/><path class=c25 d="M792 688l5-3-3-5-5 4z"/><path class=c26 d="M789 684l5-4-2-5-6 4zm-6 3l6-3-3-5-5 4zm-8-1l6-3-3-5-6 4zm-8 0l5-4-2-4-6 4z"/><path class=c27 d="M781 683l5-4-3-5-5 4zm-9-1l6-4-3-4-5 4z"/><path class=c28 d="M764 682l6-4-3-4-6 4zm-8 0l5-4-3-4-5 4zm-8 0l5-4-3-4-5 4z"/><path class=c32 d="M946 673l6 0-3 16-6 1z"/><path class=c42 d="M954 652l6 1-3 20-5 0z"/><path class=c43 d="M949 651l5 1-2 21-6 0z"/><path class=c50 d="M971 634l5 1-2-7-6 0z"/><path class=c52 d="M965 632l6 2-3-6-5-2z"/><path class=c53 d="M974 630l5 0-3 5-5-1z"/><path class=c54 d="M963 626l5 2-3 26-5-1z"/><path class=c56 d="M957 624l6 2-3 27-6-1z"/><path class=cB d="M722 712l0 7-2-1 0-7zm17 16l6-50-3-3-6 51zm-14-15l0 8-3-2 0-7z"/><path class=c6 d="M899 730l6-2-3-4-5 3z"/><path class=c7 d="M908 728l5-2-3 0-5 2zm-17 1l6-2-3-5-6 2z"/><path class=c8 d="M883 727l5-3-3-4-5 2z"/><path class=c9 d="M875 724l5-2-3-5-5 2z"/><path class=c10 d="M880 722l5-2-2-5-6 2z"/><path class=c11 d="M872 719l5-2-3-5-5 2zm44 2l5-3-2 5-6 3zm-50 1l6-3-3-5-5 3z"/><path class=c12 d="M864 717l5-3-3-5-5 2zm-6 2l6-2-3-6-6 3z"/><path class=c14 d="M855 714l6-3-3-5-6 3z"/><path class=c15 d="M847 712l5-3-2-6-6 3zm151 5l6-2 0 11-6 2z"/><path class=c16 d="M924 709l6-2-3 9-6 2zm-85 0l5-3-3-5-5 3zm80 2l5-2-3 9-5 3z"/><path class=c17 d="M830 707l6-3-3-5-5 2z"/><path class=c18 d="M977 737l5-3-3-104-5 0z"/><path class=c19 d="M822 704l6-3-3-5-6 3z"/><path class=c20 d="M819 699l6-3-3-5-5 3zm-5 3l5-3-2-5-6 3z"/><path class=c21 d="M806 700l5-3-3-5-5 3z"/><path class=c22 d="M811 697l6-3-3-5-6 3zm-14 1l6-3-3-5-5 3z"/><path class=c23 d="M932 693l6-1-3 13-5 2zm-129 2l5-3-3-5-5 3zm-8-2l5-3-3-5-5 3zm132 2l5-2-2 14-6 2z"/><path class=c24 d="M786 692l6-4-3-4-6 3z"/><path class=c25 d="M778 691l5-4-2-4-6 3zm-8-1l5-4-3-4-5 4zm-9 0l6-4-3-4-5 4zm-8 0l6-4-3-4-6 4z"/><path class=c26 d="M750 686l6-4-3-4-5 4z"/><path class=c27 d="M759 686l5-4-3-4-5 4z"/><path class=c32 d="M941 674l5-1-3 17-5 2zm-6 2l6-2-3 18-6 1z"/><path class=c43 d="M944 652l5-1-3 22-5 1z"/><path class=c53 d="M960 630l5 2-2-6-6-2z"/><path class=c54 d="M968 628l6 2-3 4-6-2z"/><path class=c58 d="M952 622l5 2-3 28-5-1z"/><path class=cB d="M742 729l6-47-3-4-6 50zm-14-14l0 7-3-1 0-8zm17 16l5-45-2-4-6 47z"/><path class=c6 d="M894 732l5-2-2-3-6 2z"/><path class=c7 d="M902 730l6-2-3 0-6 2zm-16 1l5-2-3-5-5 3zm11 1l5-2-3 0-5 2z"/><path class=c8 d="M877 729l6-2-3-5-5 2z"/><path class=c9 d="M869 727l6-3-3-5-6 3z"/><path class=c10 d="M910 723l6-2-3 5-5 2zm-49 1l5-2-2-5-6 2zm44 1l5-2-2 5-6 2z"/><path class=c12 d="M853 722l5-3-3-5-5 3z"/><path class=c13 d="M850 717l5-3-3-5-5 3zm-6 2l6-2-3-5-5 2z"/><path class=c14 d="M842 714l5-2-3-6-5 3zm-6 3l6-3-3-5-6 3z"/><path class=c15 d="M993 718l5-1 0 11-5 2zm-80-4l6-3-3 10-6 2z"/><path class=c16 d="M833 712l6-3-3-5-6 3z"/><path class=c17 d="M825 709l5-2-2-6-6 3z"/><path class=c18 d="M971 739l6-2-3-107-6-2zm-154-32l5-3-3-5-5 3zm149 34l5-2-3-111-5-2z"/><path class=c19 d="M808 705l6-3-3-5-5 3z"/><path class=c20 d="M800 703l6-3-3-5-6 3z"/><path class=c21 d="M792 701l5-3-2-5-6 4z"/><path class=c22 d="M784 700l5-3-3-5-5 3zm-9-1l6-4-3-4-5 4z"/><path class=c23 d="M789 697l6-4-3-5-6 4zm-8-2l5-3-3-5-5 4zm141 3l5-3-3 14-5 2zm-155 0l6-3-3-5-6 4z"/><path class=c24 d="M773 695l5-4-3-5-5 4zm-9-1l6-4-3-4-6 4zm-8 0l5-4-2-4-6 4z"/><path class=c32 d="M930 678l5-2-3 17-5 2z"/><path class=c44 d="M938 653l6-1-3 22-6 2z"/><path class=c55 d="M955 628l5 2-3-6-5-2z"/><path class=c56 d="M963 626l5 2-3 4-5-2z"/><path class=c58 d="M946 622l6 0-3 29-5 1zm11 2l6 2-3 4-5-2z"/><path class=cB d="M731 716l0 7-3-1 0-7zm17 16l5-42-3-4-5 45zm-14-14l0 7-3-2 0-7z"/><path class=c6 d="M889 735l5-3-3-3-5 2zm-6 2l6-2-3-4-6 2zm-8-2l5-2-3-4-5 2z"/><path class=c7 d="M880 733l6-2-3-4-6 2zm11 1l6-2-3 0-5 3zm-24-1l5-2-3-4-5 2z"/><path class=c8 d="M872 731l5-2-2-5-6 3z"/><path class=c9 d="M864 729l5-2-3-5-5 2z"/><path class=c10 d="M855 727l6-3-3-5-5 3zm45 0l5-2-3 5-5 2z"/><path class=c11 d="M847 724l6-2-3-5-6 2z"/><path class=c12 d="M839 722l5-3-2-5-6 3z"/><path class=c14 d="M831 719l5-2-3-5-5 2z"/><path class=c15 d="M828 714l5-2-3-5-5 2zm159 6l6-2 0 12-6 2zm-79-4l5-2-3 9-5 2zm-86 1l6-3-3-5-5 3zm160 5l5-2 0 12-5 2z"/><path class=c16 d="M820 712l5-3-3-5-5 3zm-6 3l6-3-3-5-6 3z"/><path class=c17 d="M806 713l5-3-3-5-5 3z"/><path class=c18 d="M811 710l6-3-3-5-6 3zm149 33l6-2-3-115-6-2z"/><path class=c19 d="M803 708l5-3-2-5-6 3zm-8-2l5-3-3-5-5 3z"/><path class=c20 d="M787 705l5-4-3-4-5 3z"/><path class=c21 d="M778 703l6-3-3-5-6 4zm-8-1l5-3-2-4-6 3z"/><path class=c22 d="M916 700l6-2-3 13-6 3zm-154 2l5-4-3-4-5 4z"/><path class=c23 d="M759 698l5-4-3-4-5 4z"/><path class=c32 d="M924 680l6-2-3 17-5 3z"/><path class=c43 d="M933 655l5-2-3 23-5 2zm-6 3l6-3-3 23-6 2z"/><path class=c56 d="M949 628l6 0-3-6-6 0zm-5 1l5-1-3-6-5 0z"/><path class=c59 d="M941 622l5 0-2 30-6 1zm11 2l5 0-2 4-6 0zm-17 0l6-2-3 31-5 2z"/><path class=cB d="M751 734l5-40-3-4-5 42zm-15-15l0 7-2-1 0-7zm17 16l6-37-3-4-5 40zm-14-14l0 7-3-2 0-7z"/><path class=c5 d="M878 739l5-2-3-4-5 2z"/><path class=c6 d="M886 736l5-2-2 1-6 2zm-17 2l6-3-3-4-5 2z"/><path class=c7 d="M861 736l6-3-3-4-6 2z"/><path class=c8 d="M858 731l6-2-3-5-6 3zm-5 3l5-3-3-4-5 2z"/><path class=c9 d="M845 731l5-2-3-5-5 3z"/><path class=c10 d="M850 729l5-2-2-5-6 2zm44 1l6-3-3 5-6 2zm-58-1l6-2-3-5-6 2z"/><path class=c11 d="M842 727l5-3-3-5-5 3z"/><path class=c12 d="M833 724l6-2-3-5-5 2z"/><path class=c13 d="M825 722l6-3-3-5-6 3z"/><path class=c14 d="M817 720l5-3-2-5-6 3z"/><path class=c15 d="M902 718l6-2-3 9-5 2zm-93-1l5-2-3-5-5 3zm168 6l5-1 0 12-5 3zm-80-2l5-3-2 9-6 3z"/><path class=c16 d="M800 716l6-3-3-5-5 3z"/><path class=c17 d="M792 714l6-3-3-5-6 3z"/><path class=c18 d="M798 711l5-3-3-5-5 3zm157 35l5-3-3-119-5 0zm-171-34l5-3-2-4-6 3z"/><path class=c19 d="M789 709l6-3-3-5-5 4zm-8-1l6-3-3-5-6 3zm-5 3l5-3-3-5-5 4z"/><path class=c20 d="M773 707l5-4-3-4-5 3zm-8-1l5-4-3-4-5 4z"/><path class=c22 d="M911 703l5-3-3 14-5 2zm-6 2l6-2-3 13-6 2z"/><path class=c31 d="M919 683l5-3-2 18-6 2zm-5 2l5-2-3 17-5 3z"/><path class=c42 d="M922 661l5-3-3 22-5 3z"/><path class=c56 d="M938 631l6-2-3-7-6 2z"/><path class=c58 d="M930 627l5-3-2 31-6 3z"/><path class=c59 d="M947 624l5 0-3 4-5 1z"/><path class=cB d="M756 737l6-35-3-4-6 37zm-14-15l0 7-3-1 0-7z"/><path class=c5 d="M872 741l6-2-3-4-6 3zm-5 2l5-2-3-3-5 2z"/><path class=c6 d="M880 739l6-3-3 1-5 2zm-16 1l5-2-2-5-6 3zm11 1l5-2-2 0-6 2z"/><path class=c7 d="M856 738l5-2-3-5-5 3z"/><path class=c8 d="M847 736l6-2-3-5-5 2z"/><path class=c9 d="M889 732l5-2-3 4-5 2zm-50 2l6-3-3-4-6 2zm44 0l6-2-3 4-6 3z"/><path class=c10 d="M831 731l5-2-3-5-5 3z"/><path class=c11 d="M823 729l5-2-3-5-5 2z"/><path class=c12 d="M828 727l5-3-2-5-6 3zm-14 0l6-3-3-4-5 2z"/><path class=c13 d="M820 724l5-2-3-5-5 3zm-14 1l6-3-3-5-6 3z"/><path class=c14 d="M812 722l5-2-3-5-5 2zm80 1l5-2-3 9-5 2z"/><path class=c15 d="M803 720l6-3-3-4-6 3zm168 5l6-2 0 14-6 2z"/><path class=c16 d="M795 718l5-2-2-5-6 3z"/><path class=c17 d="M787 717l5-3-3-5-5 3zm-9-2l6-3-3-4-5 3z"/><path class=c18 d="M949 749l6-3-3-122-5 0zm-179-35l6-3-3-4-6 3zm174 37l5-2-2-125-6 2z"/><path class=c19 d="M767 710l6-3-3-5-5 4z"/><path class=c21 d="M900 707l5-2-3 13-5 3z"/><path class=c31 d="M908 688l6-3-3 18-6 2z"/><path class=c42 d="M916 663l6-2-3 22-5 2z"/><path class=c55 d="M927 636l6-3-3-6-5 3z"/><path class=c56 d="M933 633l5-2-3-7-5 3z"/><path class=c58 d="M925 630l5-3-3 31-5 3z"/><path class=c59 d="M941 626l6-2-3 5-6 2zm-5 3l5-3-3 5-5 2z"/><path class=cB d="M759 738l6-32-3-4-6 35zm-14-14l0 7-3-2 0-7zm17 16l5-30-2-4-6 32zm-14-15l0 7-3-1 0-7z"/><path class=c5 d="M861 745l6-2-3-3-5 2zm-8-1l6-2-3-4-6 2z"/><path class=c6 d="M859 742l5-2-3-4-5 2zm11 1l5-2-3 0-5 2zm-25-1l5-2-3-4-5 2z"/><path class=c7 d="M850 740l6-2-3-4-6 2zm-13 0l5-2-3-4-5 2z"/><path class=c8 d="M842 738l5-2-2-5-6 3z"/><path class=c9 d="M834 736l5-2-3-5-5 2zm44 0l5-2-3 5-5 2z"/><path class=c10 d="M825 734l6-3-3-4-5 2z"/><path class=c11 d="M817 731l6-2-3-5-6 3z"/><path class=c12 d="M809 729l5-2-2-5-6 3z"/><path class=c13 d="M801 728l5-3-3-5-5 3z"/><path class=c14 d="M798 723l5-3-3-4-5 2zm88 2l6-2-3 9-6 2zm-94 1l6-3-3-5-5 3z"/><path class=c15 d="M966 727l5-2 0 14-5 2zm-176-6l5-3-3-4-5 3zm170 7l6-1 0 14-6 2zm-176-4l6-3-3-4-6 3zm-8-1l5-3-3-5-5 4z"/><path class=c16 d="M781 720l6-3-3-5-6 3z"/><path class=c17 d="M773 719l5-4-2-4-6 3z"/><path class=c18 d="M938 754l6-3-3-125-5 3z"/><path class=c21 d="M894 710l6-3-3 14-5 2z"/><path class=c30 d="M903 690l5-2-3 17-5 2zm-6 3l6-3-3 17-6 3z"/><path class=c41 d="M911 666l5-3-2 22-6 3zm-6 2l6-2-3 22-5 2z"/><path class=c55 d="M922 639l5-3-2-6-6 3z"/><path class=c56 d="M914 635l5-2-3 30-5 3z"/><path class=c57 d="M919 633l6-3-3 31-6 2z"/><path class=c58 d="M930 632l6-3-3 4-6 3z"/><path class=cB d="M765 741l5-27-3-4-5 30zm-14-14l0 7-3-2 0-7z"/><path class=c5 d="M856 747l5-2-2-3-6 2zm-8-1l5-2-3-4-5 2z"/><path class=c6 d="M864 745l6-2-3 0-6 2zm-25-1l6-2-3-4-5 2z"/><path class=c7 d="M831 742l6-2-3-4-6 2z"/><path class=c8 d="M828 738l6-2-3-5-6 3zm44 1l6-3-3 5-5 2zm-49 1l5-2-3-4-5 2zm44 1l5-2-2 4-6 2z"/><path class=c9 d="M820 736l5-2-2-5-6 2zm-5 2l5-2-3-5-5 3z"/><path class=c10 d="M806 736l6-2-3-5-6 3z"/><path class=c11 d="M812 734l5-3-3-4-5 2z"/><path class=c12 d="M803 732l6-3-3-4-5 3zm-8-2l6-2-3-5-6 3z"/><path class=c13 d="M881 728l5-3-3 9-5 2zm-94 0l5-2-2-5-6 3zm88 2l6-2-3 8-6 3z"/><path class=c14 d="M779 727l5-3-3-4-5 3z"/><path class=c15 d="M955 730l5-2 0 15-5 3z"/><path class=c18 d="M933 757l5-3-2-125-6 3zm-5 2l5-2-3-125-5 3z"/><path class=c20 d="M889 713l5-3-2 13-6 2zm-5 2l5-2-3 12-5 3z"/><path class=c29 d="M892 696l5-3-3 17-5 3z"/><path class=c40 d="M900 672l5-4-2 22-6 3z"/><path class=c54 d="M917 642l5-3-3-6-5 2z"/><path class=c56 d="M908 638l6-3-3 31-6 2z"/><path class=c57 d="M925 635l5-3-3 4-5 3z"/><path class=cB d="M768 743l5-24-3-5-5 27zm-15-15l0 7-2-1 0-7zm17 16l6-21-3-4-5 24zm-14-14l0 7-3-2 0-7z"/><path class=c4 d="M850 749l6-2-3-3-5 2zm-5 2l5-2-2-3-6 2z"/><path class=c5 d="M859 747l5-2-3 0-5 2zm-17 1l6-2-3-4-6 2zm11 1l6-2-3 0-6 2z"/><path class=c6 d="M834 746l5-2-2-4-6 2z"/><path class=c7 d="M826 744l5-2-3-4-5 2z"/><path class=c8 d="M817 743l6-3-3-4-5 2zm45 0l5-2-3 4-5 2z"/><path class=c9 d="M809 741l6-3-3-4-6 2z"/><path class=c10 d="M801 739l5-3-3-4-5 2z"/><path class=c11 d="M798 734l5-2-2-4-6 2zm-5 3l5-3-3-4-5 3zm-9-2l6-2-3-5-5 3z"/><path class=c12 d="M790 733l5-3-3-4-5 2z"/><path class=c13 d="M782 731l5-3-3-4-5 3zm88 2l5-3-3 9-5 2z"/><path class=c15 d="M949 732l6-2 0 16-6 3z"/><path class=c18 d="M922 761l6-2-3-124-6 2z"/><path class=c20 d="M878 718l6-3-3 13-6 2z"/><path class=c28 d="M886 699l6-3-3 17-5 2z"/><path class=c39 d="M895 675l5-3-3 21-5 3z"/><path class=c53 d="M906 649l5-4-3-7-5 4z"/><path class=c54 d="M911 645l6-3-3-7-6 3z"/><path class=c55 d="M903 642l5-4-3 30-5 4z"/><path class=c56 d="M914 640l5-3-2 5-6 3z"/><path class=c57 d="M919 637l6-2-3 4-5 3z"/><path class=cB d="M773 746l6-19-3-4-6 21zm-14-15l0 7-3-1 0-7z"/><path class=c4 d="M840 753l5-2-3-3-5 2z"/><path class=c5 d="M837 750l5-2-3-4-5 2zm11 1l5-2-3 0-5 2zm-17 1l6-2-3-4-6 2z"/><path class=c6 d="M828 748l6-2-3-4-5 2zm-5 2l5-2-2-4-6 3zm-8-1l5-2-3-4-5 2z"/><path class=c7 d="M820 747l6-3-3-4-6 3z"/><path class=c8 d="M812 745l5-2-2-5-6 3zm44 0l6-2-3 4-6 2z"/><path class=c9 d="M804 743l5-2-3-5-5 3zm-9-2l6-2-3-5-5 3z"/><path class=c10 d="M787 740l6-3-3-4-6 2z"/><path class=c12 d="M864 735l6-2-3 8-5 2z"/><path class=c15 d="M944 733l5-1 0 17-5 2zm-6 2l6-2 0 18-6 3z"/><path class=c18 d="M917 762l5-1-3-124-5 3z"/><path class=c19 d="M873 721l5-3-3 12-5 3z"/><path class=c27 d="M875 705l6-3-3 16-5 3z"/><path class=c28 d="M881 702l5-3-2 16-6 3z"/><path class=c38 d="M884 682l5-4-3 21-5 3z"/><path class=c39 d="M889 678l6-3-3 21-6 3z"/><path class=c51 d="M900 652l6-3-3-7-6 4z"/><path class=c53 d="M892 650l5-4-2 29-6 3z"/><path class=c54 d="M897 646l6-4-3 30-5 3z"/><path class=c55 d="M909 644l5-4-3 5-5 4z"/><path class=cB d="M776 747l6-16-3-4-6 19zm-14-14l0 7-3-2 0-7zm17 16l5-14-2-4-6 16zm-14-15l0 7-3-1 0-7z"/><path class=c4 d="M834 755l6-2-3-3-6 2z"/><path class=c5 d="M842 753l6-2-3 0-5 2zm-16 1l5-2-3-4-5 2zm-8-1l5-3-3-3-5 2z"/><path class=c6 d="M809 751l6-2-3-4-5 2z"/><path class=c7 d="M807 747l5-2-3-4-5 2zm44 0l5-2-3 4-5 2zm-50 2l6-2-3-4-6 2zm44 1l6-3-3 4-6 2z"/><path class=c8 d="M798 745l6-2-3-4-6 2zm-5 3l5-3-3-4-5 3z"/><path class=c9 d="M790 744l5-3-2-4-6 3z"/><path class=c12 d="M859 737l5-2-2 8-6 2zm-6 3l6-3-3 8-5 2z"/><path class=c15 d="M933 737l5-2 0 19-5 3z"/><path class=c18 d="M911 764l6-2-3-122-5 4zm-49-38l5-3-3 12-5 2zm44 39l5-1-2-120-6 4z"/><path class=c19 d="M867 723l6-2-3 12-6 2z"/><path class=c27 d="M870 708l5-3-2 16-6 2z"/><path class=c37 d="M878 685l6-3-3 20-6 3z"/><path class=c50 d="M895 656l5-4-3-6-5 4z"/><path class=c52 d="M887 654l5-4-3 28-5 4z"/><path class=c54 d="M903 648l6-4-3 5-6 3z"/><path class=cB d="M782 750l5-10-3-5-5 14zm-14-14l0 7-3-2 0-7zm17 15l5-7-3-4-5 10z"/><path class=c4 d="M829 757l5-2-3-3-5 2zm-9-1l6-2-3-4-5 3zm12 1l5-2-3 0-5 2zm-9 2l6-2-3-3-6 2zm-8-1l5-2-2-3-6 2z"/><path class=c5 d="M837 755l5-2-2 0-6 2zm-25 0l6-2-3-4-6 2z"/><path class=c6 d="M804 753l5-2-2-4-6 2z"/><path class=c7 d="M796 751l5-2-3-4-5 3zm44 1l5-2-3 3-5 2z"/><path class=c11 d="M848 742l5-2-2 7-6 3z"/><path class=c15 d="M928 738l5-1 0 20-5 2z"/><path class=c17 d="M856 729l6-3-3 11-6 3z"/><path class=c18 d="M900 767l6-2-3-117-5 4z"/><path class=c26 d="M865 711l5-3-3 15-5 3z"/><path class=c36 d="M873 688l5-3-3 20-5 3z"/><path class=c48 d="M884 664l5-4-2-6-6 4z"/><path class=c49 d="M889 660l6-4-3-6-5 4z"/><path class=c50 d="M876 661l5-3-3 27-5 3z"/><path class=c51 d="M881 658l6-4-3 28-6 3z"/><path class=c52 d="M892 656l6-4-3 4-6 4z"/><path class=c53 d="M898 652l5-4-3 4-5 4z"/><path class=cB d="M770 737l0 7-2-1 0-7zm17 16l6-5-3-4-5 7zm-14-14l0 7-3-2 0-7z"/><path class=c4 d="M826 759l6-2-3 0-6 2zm-8 2l5-2-3-3-5 2zm-8-1l5-2-3-3-5 2z"/><path class=c5 d="M807 757l5-2-3-4-5 2zm-6 1l6-1-3-4-6 2z"/><path class=c6 d="M798 755l6-2-3-4-5 2z"/><path class=c7 d="M834 754l6-2-3 3-5 2z"/><path class=c11 d="M843 745l5-3-3 8-5 2z"/><path class=c15 d="M922 740l6-2 0 21-6 2zm-5 2l5-2 0 21-5 1z"/><path class=c16 d="M845 735l6-3-3 10-5 3z"/><path class=c17 d="M851 732l5-3-3 11-5 2z"/><path class=c18 d="M895 768l5-1-2-115-6 4z"/><path class=c24 d="M854 718l5-3-3 14-5 3z"/><path class=c25 d="M859 715l6-4-3 15-6 3z"/><path class=c34 d="M862 696l5-4-2 19-6 4z"/><path class=c35 d="M867 692l6-4-3 20-5 3z"/><path class=c47 d="M878 668l6-4-3-6-5 3z"/><path class=c48 d="M870 666l6-5-3 27-6 4z"/><path class=c51 d="M887 660l5-4-3 4-5 4z"/><path class=cB d="M790 754l6-3-3-3-6 5zm-14-14l0 7-3-1 0-7zm17 16l5-1-2-4-6 3z"/><path class=c4 d="M821 761l5-2-3 0-5 2zm-9 2l6-2-3-3-5 2zm-8-1l6-2-3-3-6 1z"/><path class=c6 d="M829 756l5-2-2 3-6 2zm-6 2l6-2-3 3-5 2z"/><path class=c10 d="M837 747l6-2-3 7-6 2zm-5 3l5-3-3 7-5 2z"/><path class=c15 d="M911 743l6-1 0 20-6 2z"/><path class=c16 d="M840 738l5-3-2 10-6 2z"/><path class=c18 d="M890 770l5-2-3-112-5 4zm-6 1l6-1-3-110-6 4z"/><path class=c23 d="M848 722l6-4-3 14-6 3z"/><path class=c33 d="M857 701l5-5-3 19-5 3z"/><path class=c46 d="M873 673l5-5-2-7-6 5z"/><path class=c47 d="M865 671l5-5-3 26-5 4z"/><path class=c50 d="M881 664l6-4-3 4-6 4z"/><path class=cB d="M779 741l0 8-3-2 0-7zm17 16l5 1-3-3-5 1zm-14-14l0 7-3-1 0-8z"/><path class=c3 d="M807 764l5-1-2-3-6 2z"/><path class=c4 d="M815 763l6-2-3 0-6 2zm-5 2l5-2-3 0-5 1z"/><path class=c6 d="M818 760l5-2-2 3-6 2z"/><path class=c10 d="M826 752l6-2-3 6-6 2z"/><path class=c15 d="M906 745l5-2 0 21-5 1zm-71-4l5-3-3 9-5 3z"/><path class=c18 d="M879 772l5-1-3-107-5 4z"/><path class=c22 d="M843 725l5-3-3 13-5 3z"/><path class=c32 d="M851 705l6-4-3 17-6 4z"/><path class=c43 d="M862 683l6-5-3-7-6 5zm-8-2l5-5-2 25-6 4z"/><path class=c44 d="M868 678l5-5-3-7-5 5z"/><path class=c45 d="M859 676l6-5-3 25-5 5z"/><path class=c47 d="M870 673l6-5-3 5-5 5z"/><path class=c49 d="M876 668l5-4-3 4-5 5z"/><path class=cB d="M799 759l5 3-3-4-5-1zm-14-15l0 7-3-1 0-7zm17 16l5 4-3-2-5-3zm-15-14l0 7-2-2 0-7z"/><path class=c6 d="M813 762l5-2-3 3-5 2z"/><path class=c9 d="M821 755l5-3-3 6-5 2z"/><path class=c14 d="M829 743l6-2-3 9-6 2zm-5 3l5-3-3 9-5 3z"/><path class=c15 d="M900 747l6-2 0 20-6 2zm-5 1l5-1 0 20-5 1z"/><path class=c18 d="M873 772l6 0-3-104-6 5z"/><path class=c21 d="M837 728l6-3-3 13-5 3zm-5 4l5-4-2 13-6 2z"/><path class=c29 d="M840 713l6-4-3 16-6 3z"/><path class=c31 d="M846 709l5-4-3 17-5 3z"/><path class=c41 d="M857 688l5-5-3-7-5 5z"/><path class=c42 d="M848 686l6-5-3 24-5 4z"/><path class=c45 d="M865 679l5-6-2 5-6 5z"/><path class=cB d="M804 762l6 3-3-1-5-4zm-14-15l0 7-3-1 0-7z"/><path class=c9 d="M815 757l6-2-3 5-5 2z"/><path class=c13 d="M818 749l6-3-3 9-6 2z"/><path class=c15 d="M890 750l5-2 0 20-5 2z"/><path class=c18 d="M868 773l5-1-3-99-5 6zm-6 0l6 0-3-94-5 5z"/><path class=c20 d="M827 735l5-3-3 11-5 3z"/><path class=c28 d="M835 717l5-4-3 15-5 4z"/><path class=c39 d="M851 693l6-5-3-7-6 5z"/><path class=c40 d="M843 691l5-5-2 23-6 4z"/><path class=c42 d="M854 689l6-5-3 4-6 5z"/><path class=c44 d="M860 684l5-5-3 4-5 5z"/><path class=cB d="M807 763l6-1-3 3-6-3zm-14-14l0 7-3-2 0-7zm17 16l5-8-2 5-6 1zm-14-15l0 7-3-1 0-7z"/><path class=c15 d="M884 751l6-1 0 20-6 1zm-5 2l5-2 0 20-5 1z"/><path class=c18 d="M857 774l5-1-2-89-6 5z"/><path class=c19 d="M821 738l6-3-3 11-6 3z"/><path class=c26 d="M824 725l5-4-2 14-6 3z"/><path class=c27 d="M829 721l6-4-3 15-5 3z"/><path class=c36 d="M840 703l6-5-3-7-5 5z"/><path class=c37 d="M832 702l6-6-3 21-6 4z"/><path class=c38 d="M846 698l5-5-3-7-5 5z"/><path class=c39 d="M838 696l5-5-3 22-5 4z"/><path class=c40 d="M849 694l5-5-3 4-5 5z"/><path class=cB d="M813 766l5-17-3 8-5 8zm-14-14l0 7-3-2 0-7z"/><path class=c15 d="M873 755l6-2 0 19-6 0z"/><path class=c18 d="M852 774l5 0-3-85-5 5z"/><path class=c34 d="M835 709l5-6-2-7-6 6z"/><path class=c36 d="M827 706l5-4-3 19-5 4z"/><path class=c39 d="M843 699l6-5-3 4-6 5z"/><path class=cB d="M816 768l5-30-3 11-5 17zm-14-15l0 7-3-1 0-7zm16 16l6-44-3 13-5 30zm-14-14l0 7-2-2 0-7z"/><path class=c15 d="M868 756l5-1 0 17-5 1z"/><path class=c18 d="M846 774l6 0-3-80-6 5zm-5 0l5 0-3-75-5 5z"/><path class=c33 d="M830 713l5-4-3-7-5 4z"/><path class=c36 d="M832 709l6-5-3 5-5 4z"/><path class=c37 d="M838 704l5-5-3 4-5 6z"/><path class=cB d="M821 771l6-65-3 19-6 44zm-14-15l0 7-3-1 0-7z"/><path class=c15 d="M862 758l6-2 0 17-6 0zm-5 2l5-2 0 15-5 1z"/><path class=c18 d="M835 774l6 0-3-70-6 5z"/><path class=cB d="M824 772l6-59-3-7-6 65zm-14-14l0 7-3-2 0-7zm17 16l5-65-2 4-6 59zm-14-15l0 7-3-1 0-7z"/><path class=c15 d="M852 761l5-1 0 14-5 0z"/><path class=cB d="M830 775l5-1-3-65-5 65zm-14-14l0 7-3-2 0-7z"/><path class=c15 d="M846 763l6-2 0 13-6 0z"/><path class=cB d="M818 762l0 7-2-1 0-7zm3 2l0 7-3-2 0-7z"/><path class=c15 d="M841 765l5-2 0 11-5 0zm-6 1l6-1 0 9-6 0z"/><path class=cB d="M824 765l0 7-3-1 0-7zm3 2l0 7-3-2 0-7zm3 1l5-2 0 8-5 1zm0 0l0 7-3-1 0-7zm0 0l0 0 0 7 0-7z"/></g>
<g stroke-width="0.6" stroke-linecap="round"><line x1="414.9" y1="387.5" x2="417.6" y2="386.9" stroke="#2053d4"/><line x1="417.6" y1="386.9" x2="420.3" y2="386.9" stroke="#2053d4"/><line x1="420.3" y1="386.9" x2="423.1" y2="386.9" stroke="#2c4ac7"/><line x1="423.1" y1="386.9" x2="425.8" y2="386.9" stroke="#3243ba"/><line x1="425.8" y1="386.9" x2="428.5" y2="386.9" stroke="#3243ba"/><line x1="428.5" y1="386.9" x2="431.2" y2="386.7" stroke="#353dad"/><line x1="431.2" y1="386.7" x2="433.9" y2="386.4" stroke="#3637a0"/><line x1="433.9" y1="386.4" x2="436.6" y2="386.2" stroke="#3637a0"/><line x1="436.6" y1="386.2" x2="439.4" y2="386.0" stroke="#363093"/><line x1="439.4" y1="386.0" x2="442.1" y2="385.7" stroke="#363093"/><line x1="442.1" y1="385.7" x2="444.8" y2="385.0" stroke="#352a87"/><line x1="444.8" y1="385.0" x2="447.5" y2="384.2" stroke="#352a87"/><line x1="447.5" y1="384.2" x2="450.2" y2="383.5" stroke="#352a87"/><line x1="450.2" y1="383.5" x2="452.9" y2="382.7" stroke="#352a87"/><line x1="452.9" y1="382.7" x2="455.7" y2="382.0" stroke="#352a87"/><line x1="455.7" y1="382.0" x2="458.4" y2="381.2" stroke="#352a87"/><line x1="458.4" y1="381.2" x2="461.1" y2="380.5" stroke="#352a87"/><line x1="461.1" y1="380.5" x2="463.8" y2="379.7" stroke="#352a87"/><line x1="463.8" y1="379.7" x2="466.5" y2="378.4" stroke="#352a87"/><line x1="466.5" y1="378.4" x2="469.2" y2="377.0" stroke="#352a87"/><line x1="469.2" y1="377.0" x2="472.0" y2="375.7" stroke="#352a87"/><line x1="472.0" y1="375.7" x2="474.7" y2="374.4" stroke="#363093"/><line x1="474.7" y1="374.4" x2="477.4" y2="373.1" stroke="#363093"/><line x1="477.4" y1="373.1" x2="480.1" y2="371.7" stroke="#3637a0"/><line x1="480.1" y1="371.7" x2="482.8" y2="370.4" stroke="#3637a0"/><line x1="482.8" y1="370.4" x2="485.6" y2="369.3" stroke="#353dad"/><line x1="485.6" y1="369.3" x2="488.3" y2="368.3" stroke="#353dad"/><line x1="488.3" y1="368.3" x2="491.0" y2="367.2" stroke="#353dad"/><line x1="491.0" y1="367.2" x2="493.7" y2="366.1" stroke="#353dad"/><line x1="493.7" y1="366.1" x2="496.4" y2="365.1" stroke="#3243ba"/><line x1="496.4" y1="365.1" x2="499.1" y2="364.1" stroke="#3243ba"/><line x1="499.1" y1="364.1" x2="501.9" y2="363.1" stroke="#3243ba"/><line x1="501.9" y1="363.1" x2="504.6" y2="362.1" stroke="#3243ba"/><line x1="504.6" y1="362.1" x2="507.3" y2="361.1" stroke="#3243ba"/><line x1="507.3" y1="361.1" x2="510.0" y2="360.1" stroke="#2c4ac7"/><line x1="510.0" y1="360.1" x2="512.7" y2="359.1" stroke="#2c4ac7"/><line x1="512.7" y1="359.1" x2="515.4" y2="358.1" stroke="#2c4ac7"/><line x1="515.4" y1="358.1" x2="518.2" y2="355.9" stroke="#2c4ac7"/><line x1="518.2" y1="355.9" x2="520.9" y2="353.7" stroke="#2053d4"/><line x1="520.9" y1="353.7" x2="523.6" y2="351.5" stroke="#0363e1"/></g>
<g stroke="#262626" stroke-width="0.9"><line x1="414.9" y1="407.5" x2="523.6" y2="374.5"/><line x1="414.9" y1="407.5" x2="330.9" y2="363.8"/><line x1="330.9" y1="363.8" x2="330.9" y2="269.8"/><line x1="414.9" y1="407.5" x2="417.6" y2="408.9"/><line x1="469.2" y1="391" x2="471.9" y2="392.4"/><line x1="523.6" y1="374.5" x2="526.3" y2="375.8"/><line x1="414.9" y1="407.5" x2="412" y2="408.4"/><line x1="344.9" y1="371" x2="342.1" y2="371.9"/><line x1="330.9" y1="363.8" x2="328.3" y2="362.4"/><line x1="330.9" y1="340.2" x2="328.3" y2="338.9"/><line x1="330.9" y1="316.8" x2="328.3" y2="315.4"/><line x1="330.9" y1="293.2" x2="328.3" y2="291.9"/><line x1="330.9" y1="269.8" x2="328.3" y2="268.4"/></g>
<g fill="#2e2e2e" style="font-family:'Liberation Serif',serif"><text transform="translate(423.8 422.3) scale(1 1.09)" font-size="11.9" text-anchor="middle">0</text><text transform="translate(482 405.8) scale(1 1.09)" font-size="11.9" text-anchor="middle">20</text><text transform="translate(535.8 388.8) scale(1 1.09)" font-size="11.9" text-anchor="middle">40</text><text transform="translate(405.2 421.2) scale(1 1.09)" font-size="11.9" text-anchor="middle">0</text><text transform="translate(332.7 385.1) scale(1 1.09)" font-size="11.9" text-anchor="middle">50</text><text transform="translate(324.95 366.8) scale(1 1.09)" font-size="11.9" text-anchor="end">-2</text><text transform="translate(324.95 343.3) scale(1 1.09)" font-size="11.9" text-anchor="end">0</text><text transform="translate(324.95 319.8) scale(1 1.09)" font-size="11.9" text-anchor="end">2</text><text transform="translate(324.95 296.3) scale(1 1.09)" font-size="11.9" text-anchor="end">4</text><text transform="translate(324.95 272.8) scale(1 1.09)" font-size="11.9" text-anchor="end">6</text><text transform="translate(459.9 432.75) scale(1 1.09)" font-size="11.9">Spatial variable <tspan font-style="italic" font-size="12.6">ζ</tspan><tspan font-size="9.6" dy="4.9" dx="0.3">1</tspan></text><text transform="translate(281.4 425.65) scale(1 1.09)" font-size="11.9">Spatial variable <tspan font-style="italic" font-size="12.6">ζ</tspan><tspan font-size="9.6" dy="4.9" dx="0.3">2</tspan></text><text transform="translate(299.8 351.97) scale(1 1.09) rotate(-90)" font-size="11.9">Spatial variable <tspan font-style="italic" font-size="12.6">ζ</tspan><tspan font-size="9.6" dy="4.9" dx="0.3">3</tspan></text><text transform="translate(292.1 257.05) scale(1 1.09)" font-size="14">×</text><text transform="translate(300.05 255.25) scale(1 1.09)" font-size="11.9">10</text><text transform="translate(312.05 248.65) scale(1 1.09)" font-size="9.6">-3</text></g></svg></body></html>
